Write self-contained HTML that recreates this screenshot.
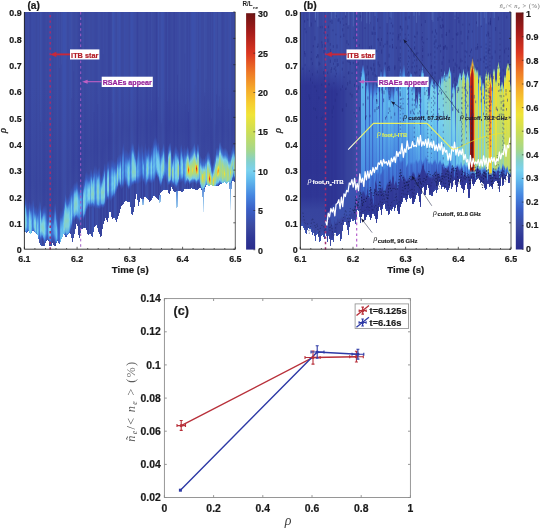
<!DOCTYPE html><html><head><meta charset="utf-8"><title>figure</title><style>html,body{margin:0;padding:0;background:#fff}svg{display:block}</style></head><body><svg width="541" height="530" viewBox="0 0 541 530" font-family='"Liberation Sans", sans-serif'>
<defs><linearGradient id="g1" x1="0" y1="0" x2="0" y2="1"><stop offset="0" stop-color="#38459e"/><stop offset=".336" stop-color="#38459e"/><stop offset=".739" stop-color="#35409b"/><stop offset=".829" stop-color="#36439d"/><stop offset=".861" stop-color="#3b50ac"/><stop offset=".883" stop-color="#3a5cc0"/><stop offset=".921" stop-color="#4073d3"/><stop offset=".946" stop-color="#4073d3"/><stop offset=".96" stop-color="#4279d8"/><stop offset=".974" stop-color="#4073d3"/><stop offset=".977" stop-color="#4073d3"/><stop offset=".995" stop-color="#3a59bb"/><stop offset="1" stop-color="#3b51ad"/></linearGradient><linearGradient id="g2" x1="0" y1="0" x2="0" y2="1"><stop offset="0" stop-color="#39479f"/><stop offset=".335" stop-color="#39479f"/><stop offset=".75" stop-color="#36429c"/><stop offset=".839" stop-color="#37449e"/><stop offset=".872" stop-color="#3a5fc6"/><stop offset=".893" stop-color="#5db1eb"/><stop offset=".925" stop-color="#7ed1dd"/><stop offset=".943" stop-color="#7ed1dd"/><stop offset=".957" stop-color="#83d0cd"/><stop offset=".971" stop-color="#7ed1dd"/><stop offset=".974" stop-color="#7ed1dd"/><stop offset=".992" stop-color="#55a3e8"/><stop offset="1" stop-color="#3f6ed0"/></linearGradient><linearGradient id="g3" x1="0" y1="0" x2="0" y2="1"><stop offset="0" stop-color="#3b4aa1"/><stop offset=".334" stop-color="#3b4aa1"/><stop offset=".765" stop-color="#38459e"/><stop offset=".854" stop-color="#39479f"/><stop offset=".886" stop-color="#3a5bbf"/><stop offset=".908" stop-color="#488be2"/><stop offset=".931" stop-color="#62baed"/><stop offset=".941" stop-color="#62baed"/><stop offset=".955" stop-color="#6ac3ee"/><stop offset=".969" stop-color="#62baed"/><stop offset=".973" stop-color="#62baed"/><stop offset=".99" stop-color="#4481dd"/><stop offset="1" stop-color="#3a56b7"/><stop offset="1" stop-color="#35419c"/></linearGradient><linearGradient id="g4" x1="0" y1="0" x2="0" y2="1"><stop offset="0" stop-color="#3b4aa1"/><stop offset=".336" stop-color="#3b4aa1"/><stop offset=".774" stop-color="#38459e"/><stop offset=".864" stop-color="#3a48a0"/><stop offset=".896" stop-color="#3a56b6"/><stop offset=".918" stop-color="#3d68cc"/><stop offset=".94" stop-color="#4687e1"/><stop offset=".948" stop-color="#4687e1"/><stop offset=".963" stop-color="#4b90e3"/><stop offset=".977" stop-color="#4687e1"/><stop offset=".981" stop-color="#4687e1"/><stop offset=".999" stop-color="#3a60c7"/><stop offset="1" stop-color="#3a5abe"/></linearGradient><linearGradient id="g5" x1="0" y1="0" x2="0" y2="1"><stop offset="0" stop-color="#3a48a0"/><stop offset=".337" stop-color="#3a48a0"/><stop offset=".779" stop-color="#36439d"/><stop offset=".869" stop-color="#38459e"/><stop offset=".902" stop-color="#3a56b6"/><stop offset=".923" stop-color="#3f70d1"/><stop offset=".948" stop-color="#4c92e4"/><stop offset=".959" stop-color="#4c92e4"/><stop offset=".974" stop-color="#519ce6"/><stop offset=".988" stop-color="#4c92e4"/><stop offset=".993" stop-color="#4c92e4"/><stop offset="1" stop-color="#3d68cc"/></linearGradient><linearGradient id="g6" x1="0" y1="0" x2="0" y2="1"><stop offset="0" stop-color="#38469f"/><stop offset=".334" stop-color="#38469f"/><stop offset=".767" stop-color="#35419c"/><stop offset=".856" stop-color="#37439d"/><stop offset=".889" stop-color="#3a5ec3"/><stop offset=".91" stop-color="#59aae9"/><stop offset=".941" stop-color="#7cd2e7"/><stop offset=".958" stop-color="#7cd2e7"/><stop offset=".972" stop-color="#80d1d9"/><stop offset=".987" stop-color="#7cd2e7"/><stop offset=".994" stop-color="#7cd2e7"/><stop offset="1" stop-color="#529ce6"/></linearGradient><linearGradient id="g7" x1="0" y1="0" x2="0" y2="1"><stop offset="0" stop-color="#38469f"/><stop offset=".332" stop-color="#38469f"/><stop offset=".77" stop-color="#35419c"/><stop offset=".859" stop-color="#37439d"/><stop offset=".891" stop-color="#3a5dc3"/><stop offset=".913" stop-color="#58a8e9"/><stop offset=".942" stop-color="#7bd2ea"/><stop offset=".957" stop-color="#7bd2ea"/><stop offset=".971" stop-color="#7fd1db"/><stop offset=".985" stop-color="#7bd2ea"/><stop offset=".996" stop-color="#7bd2ea"/><stop offset="1" stop-color="#519be6"/></linearGradient><linearGradient id="g8" x1="0" y1="0" x2="0" y2="1"><stop offset="0" stop-color="#3b4ba4"/><stop offset=".334" stop-color="#3b4ba4"/><stop offset=".775" stop-color="#39479f"/><stop offset=".864" stop-color="#3b49a1"/><stop offset=".896" stop-color="#3a5cc0"/><stop offset=".918" stop-color="#4585e0"/><stop offset=".944" stop-color="#5db2eb"/><stop offset=".956" stop-color="#5db2eb"/><stop offset=".97" stop-color="#63bdee"/><stop offset=".984" stop-color="#5db2eb"/><stop offset=".996" stop-color="#5db2eb"/><stop offset="1" stop-color="#437cd9"/></linearGradient><linearGradient id="g9" x1="0" y1="0" x2="0" y2="1"><stop offset="0" stop-color="#3b4ca5"/><stop offset=".337" stop-color="#3b4ca5"/><stop offset=".767" stop-color="#3a48a0"/><stop offset=".857" stop-color="#3b4aa2"/><stop offset=".89" stop-color="#3a55b5"/><stop offset=".911" stop-color="#3a5ec4"/><stop offset=".942" stop-color="#4178d7"/><stop offset=".958" stop-color="#4178d7"/><stop offset=".972" stop-color="#447fdb"/><stop offset=".987" stop-color="#4178d7"/><stop offset=".994" stop-color="#4178d7"/><stop offset="1" stop-color="#3a5bbe"/></linearGradient><linearGradient id="g10" x1="0" y1="0" x2="0" y2="1"><stop offset="0" stop-color="#3b4ba4"/><stop offset=".338" stop-color="#3b4ba4"/><stop offset=".765" stop-color="#39479f"/><stop offset=".856" stop-color="#3b49a1"/><stop offset=".888" stop-color="#3a59bb"/><stop offset=".91" stop-color="#4175d5"/><stop offset=".938" stop-color="#509ae5"/><stop offset=".952" stop-color="#509ae5"/><stop offset=".966" stop-color="#56a4e8"/><stop offset=".98" stop-color="#509ae5"/><stop offset=".982" stop-color="#509ae5"/><stop offset=".998" stop-color="#3e6dcf"/><stop offset="1" stop-color="#3a5abe"/></linearGradient><linearGradient id="g11" x1="0" y1="0" x2="0" y2="1"><stop offset="0" stop-color="#3b4ba4"/><stop offset=".335" stop-color="#3b4ba4"/><stop offset=".788" stop-color="#39479f"/><stop offset=".878" stop-color="#3b49a1"/><stop offset=".91" stop-color="#3a60c7"/><stop offset=".932" stop-color="#539fe7"/><stop offset=".947" stop-color="#74cdee"/><stop offset=".947" stop-color="#74cdee"/><stop offset=".962" stop-color="#7cd2e8"/><stop offset=".976" stop-color="#74cdee"/><stop offset=".979" stop-color="#74cdee"/><stop offset=".996" stop-color="#4c92e4"/><stop offset="1" stop-color="#3b62c8"/></linearGradient><linearGradient id="g12" x1="0" y1="0" x2="0" y2="1"><stop offset="0" stop-color="#3b4ba2"/><stop offset=".334" stop-color="#3b4ba2"/><stop offset=".791" stop-color="#38469f"/><stop offset=".881" stop-color="#3a48a0"/><stop offset=".913" stop-color="#3b63c9"/><stop offset=".934" stop-color="#5cafea"/><stop offset=".952" stop-color="#7ed1e1"/><stop offset=".955" stop-color="#7ed1e1"/><stop offset=".969" stop-color="#82d0d2"/><stop offset=".983" stop-color="#7ed1e1"/><stop offset=".987" stop-color="#7ed1e1"/><stop offset="1" stop-color="#54a1e7"/></linearGradient><linearGradient id="g13" x1="0" y1="0" x2="0" y2="1"><stop offset="0" stop-color="#3a49a0"/><stop offset=".332" stop-color="#3a49a0"/><stop offset=".781" stop-color="#37439d"/><stop offset=".87" stop-color="#38469f"/><stop offset=".902" stop-color="#3a57b8"/><stop offset=".924" stop-color="#4176d5"/><stop offset=".95" stop-color="#519be6"/><stop offset=".963" stop-color="#519be6"/><stop offset=".977" stop-color="#56a5e8"/><stop offset=".992" stop-color="#519be6"/><stop offset=".995" stop-color="#519be6"/><stop offset="1" stop-color="#3e6dd0"/></linearGradient><linearGradient id="g14" x1="0" y1="0" x2="0" y2="1"><stop offset="0" stop-color="#3b4ba3"/><stop offset=".33" stop-color="#3b4ba3"/><stop offset=".788" stop-color="#39469f"/><stop offset=".877" stop-color="#3a49a0"/><stop offset=".909" stop-color="#3a5ec4"/><stop offset=".93" stop-color="#5098e5"/><stop offset=".956" stop-color="#6ec7ee"/><stop offset=".969" stop-color="#6ec7ee"/><stop offset=".983" stop-color="#78d0ee"/><stop offset=".997" stop-color="#6ec7ee"/><stop offset="1" stop-color="#6ec7ee"/></linearGradient><linearGradient id="g15" x1="0" y1="0" x2="0" y2="1"><stop offset="0" stop-color="#3b4ca5"/><stop offset=".325" stop-color="#3b4ca5"/><stop offset=".763" stop-color="#3a48a0"/><stop offset=".85" stop-color="#3b4aa2"/><stop offset=".882" stop-color="#3a5bbe"/><stop offset=".902" stop-color="#427bd9"/><stop offset=".931" stop-color="#55a3e8"/><stop offset=".945" stop-color="#55a3e8"/><stop offset=".959" stop-color="#5badea"/><stop offset=".973" stop-color="#55a3e8"/><stop offset=".977" stop-color="#55a3e8"/><stop offset=".996" stop-color="#4072d3"/><stop offset="1" stop-color="#3a58b9"/></linearGradient><linearGradient id="g16" x1="0" y1="0" x2="0" y2="1"><stop offset="0" stop-color="#3b4aa1"/><stop offset=".319" stop-color="#3b4aa1"/><stop offset=".728" stop-color="#38459e"/><stop offset=".814" stop-color="#3948a0"/><stop offset=".845" stop-color="#3a55b4"/><stop offset=".865" stop-color="#3b61c7"/><stop offset=".9" stop-color="#437edb"/><stop offset=".921" stop-color="#437edb"/><stop offset=".935" stop-color="#4585e0"/><stop offset=".949" stop-color="#437edb"/><stop offset=".955" stop-color="#437edb"/><stop offset=".975" stop-color="#3a5dc2"/><stop offset=".984" stop-color="#3a58b9"/><stop offset=".995" stop-color="#3b4fa9"/><stop offset=".995" stop-color="#3b4fa9"/><stop offset="1" stop-color="#3a55b4"/></linearGradient><linearGradient id="g17" x1="0" y1="0" x2="0" y2="1"><stop offset="0" stop-color="#3b4ba3"/><stop offset=".316" stop-color="#3b4ba3"/><stop offset=".73" stop-color="#39469f"/><stop offset=".814" stop-color="#3a49a0"/><stop offset=".845" stop-color="#3a61c7"/><stop offset=".865" stop-color="#56a5e8"/><stop offset=".893" stop-color="#7ad2ee"/><stop offset=".907" stop-color="#7ad2ee"/><stop offset=".92" stop-color="#7ed1e0"/><stop offset=".934" stop-color="#7ad2ee"/><stop offset=".94" stop-color="#7ad2ee"/><stop offset=".959" stop-color="#4f97e5"/><stop offset=".968" stop-color="#3d69cd"/><stop offset=".979" stop-color="#3b50ac"/><stop offset=".993" stop-color="#3b50ac"/><stop offset="1" stop-color="#3a56b7"/></linearGradient><linearGradient id="g18" x1="0" y1="0" x2="0" y2="1"><stop offset="0" stop-color="#3b4da6"/><stop offset=".315" stop-color="#3b4da6"/><stop offset=".76" stop-color="#3a49a0"/><stop offset=".844" stop-color="#3b4ba3"/><stop offset=".875" stop-color="#3d67cc"/><stop offset=".895" stop-color="#5cafea"/><stop offset=".906" stop-color="#7ed1e0"/><stop offset=".906" stop-color="#7ed1e0"/><stop offset=".916" stop-color="#82d0d1"/><stop offset=".93" stop-color="#7ed1e0"/><stop offset=".933" stop-color="#7ed1e0"/><stop offset=".95" stop-color="#54a1e7"/><stop offset=".959" stop-color="#3f6fd1"/><stop offset=".97" stop-color="#3b52af"/><stop offset=".993" stop-color="#3b52af"/><stop offset="1" stop-color="#3a58b9"/></linearGradient><linearGradient id="g19" x1="0" y1="0" x2="0" y2="1"><stop offset="0" stop-color="#3a49a1"/><stop offset=".315" stop-color="#3a49a1"/><stop offset=".754" stop-color="#37449e"/><stop offset=".838" stop-color="#39479f"/><stop offset=".869" stop-color="#3b63c9"/><stop offset=".889" stop-color="#5fb5ec"/><stop offset=".904" stop-color="#80d1d8"/><stop offset=".907" stop-color="#80d1d8"/><stop offset=".92" stop-color="#88d1c5"/><stop offset=".934" stop-color="#80d1d8"/><stop offset=".936" stop-color="#80d1d8"/><stop offset=".951" stop-color="#57a7e8"/><stop offset=".96" stop-color="#3a5fc6"/><stop offset=".971" stop-color="#38459e"/><stop offset=".993" stop-color="#38459e"/><stop offset="1" stop-color="#3b4ca5"/></linearGradient><linearGradient id="g20" x1="0" y1="0" x2="0" y2="1"><stop offset="0" stop-color="#39479f"/><stop offset=".315" stop-color="#39479f"/><stop offset=".744" stop-color="#36429c"/><stop offset=".828" stop-color="#37449e"/><stop offset=".858" stop-color="#3a60c7"/><stop offset=".879" stop-color="#5fb5ec"/><stop offset=".901" stop-color="#80d1d8"/><stop offset=".91" stop-color="#80d1d8"/><stop offset=".924" stop-color="#88d1c4"/><stop offset=".937" stop-color="#80d1d8"/><stop offset=".942" stop-color="#80d1d8"/><stop offset=".96" stop-color="#57a7e9"/><stop offset=".969" stop-color="#3b63c9"/><stop offset=".98" stop-color="#3a49a0"/><stop offset=".993" stop-color="#3a49a0"/><stop offset="1" stop-color="#3b4faa"/></linearGradient><linearGradient id="g21" x1="0" y1="0" x2="0" y2="1"><stop offset="0" stop-color="#39479f"/><stop offset=".315" stop-color="#39479f"/><stop offset=".741" stop-color="#36429c"/><stop offset=".825" stop-color="#37449e"/><stop offset=".855" stop-color="#3a5dc3"/><stop offset=".876" stop-color="#55a3e8"/><stop offset=".902" stop-color="#78d1ee"/><stop offset=".914" stop-color="#78d1ee"/><stop offset=".928" stop-color="#7dd1e2"/><stop offset=".941" stop-color="#78d1ee"/><stop offset=".948" stop-color="#78d1ee"/><stop offset=".968" stop-color="#4e96e5"/><stop offset=".977" stop-color="#3d6acd"/><stop offset=".988" stop-color="#3b51ad"/><stop offset=".993" stop-color="#3b51ad"/><stop offset="1" stop-color="#3a57b8"/></linearGradient><linearGradient id="g22" x1="0" y1="0" x2="0" y2="1"><stop offset="0" stop-color="#3a49a0"/><stop offset=".319" stop-color="#3a49a0"/><stop offset=".749" stop-color="#37449d"/><stop offset=".834" stop-color="#39469f"/><stop offset=".865" stop-color="#3a59bc"/><stop offset=".885" stop-color="#4582de"/><stop offset=".913" stop-color="#5badea"/><stop offset=".926" stop-color="#5badea"/><stop offset=".94" stop-color="#61b8ed"/><stop offset=".954" stop-color="#5badea"/><stop offset=".959" stop-color="#5badea"/><stop offset=".977" stop-color="#4279d8"/><stop offset=".987" stop-color="#3a5fc6"/><stop offset=".998" stop-color="#3b51ae"/><stop offset=".998" stop-color="#3b51ae"/><stop offset="1" stop-color="#3a57b8"/></linearGradient><linearGradient id="g23" x1="0" y1="0" x2="0" y2="1"><stop offset="0" stop-color="#3b4aa1"/><stop offset=".323" stop-color="#3b4aa1"/><stop offset=".761" stop-color="#38459e"/><stop offset=".847" stop-color="#3a48a0"/><stop offset=".878" stop-color="#3a55b5"/><stop offset=".899" stop-color="#3b64c9"/><stop offset=".925" stop-color="#4481dd"/><stop offset=".937" stop-color="#4481dd"/><stop offset=".951" stop-color="#4789e2"/><stop offset=".965" stop-color="#4481dd"/><stop offset=".968" stop-color="#4481dd"/><stop offset=".986" stop-color="#3a5ec4"/><stop offset=".995" stop-color="#3b54b2"/><stop offset="1" stop-color="#3947a0"/></linearGradient><linearGradient id="g24" x1="0" y1="0" x2="0" y2="1"><stop offset="0" stop-color="#3a48a0"/><stop offset=".324" stop-color="#3a48a0"/><stop offset=".78" stop-color="#37439d"/><stop offset=".866" stop-color="#38469e"/><stop offset=".898" stop-color="#3b51ad"/><stop offset=".918" stop-color="#3a5abd"/><stop offset=".937" stop-color="#3e6ccf"/><stop offset=".942" stop-color="#3e6ccf"/><stop offset=".956" stop-color="#4073d3"/><stop offset=".969" stop-color="#3e6ccf"/><stop offset=".973" stop-color="#3e6ccf"/><stop offset=".991" stop-color="#3a57b8"/><stop offset="1" stop-color="#3a57b8"/></linearGradient><linearGradient id="g25" x1="0" y1="0" x2="0" y2="1"><stop offset="0" stop-color="#3b49a1"/><stop offset=".323" stop-color="#3b49a1"/><stop offset=".793" stop-color="#37449e"/><stop offset=".879" stop-color="#39479f"/><stop offset=".91" stop-color="#3a59bc"/><stop offset=".931" stop-color="#4481dd"/><stop offset=".942" stop-color="#59abe9"/><stop offset=".942" stop-color="#59abe9"/><stop offset=".953" stop-color="#5fb6ec"/><stop offset=".967" stop-color="#59abe9"/><stop offset=".971" stop-color="#59abe9"/><stop offset=".99" stop-color="#4177d6"/><stop offset=".999" stop-color="#3a59bb"/><stop offset="1" stop-color="#3a48a0"/></linearGradient><linearGradient id="g26" x1="0" y1="0" x2="0" y2="1"><stop offset="0" stop-color="#3b4ca5"/><stop offset=".315" stop-color="#3b4ca5"/><stop offset=".753" stop-color="#3947a0"/><stop offset=".837" stop-color="#3b4aa1"/><stop offset=".868" stop-color="#3b61c7"/><stop offset=".888" stop-color="#539fe7"/><stop offset=".909" stop-color="#75cdee"/><stop offset=".916" stop-color="#75cdee"/><stop offset=".929" stop-color="#7cd2e7"/><stop offset=".943" stop-color="#75cdee"/><stop offset=".949" stop-color="#75cdee"/><stop offset=".969" stop-color="#4c93e4"/><stop offset=".978" stop-color="#3a5dc2"/><stop offset=".989" stop-color="#3947a0"/><stop offset=".993" stop-color="#3947a0"/><stop offset="1" stop-color="#3b4ea8"/></linearGradient><linearGradient id="g27" x1="0" y1="0" x2="0" y2="1"><stop offset="0" stop-color="#3b4ba3"/><stop offset=".315" stop-color="#3b4ba3"/><stop offset=".745" stop-color="#39469f"/><stop offset=".829" stop-color="#3a49a0"/><stop offset=".86" stop-color="#3a5cc0"/><stop offset=".88" stop-color="#4688e1"/><stop offset=".904" stop-color="#5fb5ec"/><stop offset=".914" stop-color="#5fb5ec"/><stop offset=".928" stop-color="#66c0ee"/><stop offset=".941" stop-color="#5fb5ec"/><stop offset=".951" stop-color="#5fb5ec"/><stop offset=".973" stop-color="#437edb"/><stop offset=".982" stop-color="#3a5ec4"/><stop offset=".994" stop-color="#3b4ea8"/><stop offset=".994" stop-color="#3b4ea8"/><stop offset="1" stop-color="#3b54b3"/></linearGradient><linearGradient id="g28" x1="0" y1="0" x2="0" y2="1"><stop offset="0" stop-color="#3b4aa1"/><stop offset=".315" stop-color="#3b4aa1"/><stop offset=".757" stop-color="#38459e"/><stop offset=".842" stop-color="#39479f"/><stop offset=".872" stop-color="#3b52b0"/><stop offset=".893" stop-color="#3a5bbe"/><stop offset=".909" stop-color="#3f6fd1"/><stop offset=".913" stop-color="#3f6fd1"/><stop offset=".926" stop-color="#4176d5"/><stop offset=".94" stop-color="#3f6fd1"/><stop offset=".949" stop-color="#3f6fd1"/><stop offset=".972" stop-color="#3a58b9"/><stop offset=".981" stop-color="#3b52af"/><stop offset=".992" stop-color="#3b49a1"/><stop offset=".993" stop-color="#3b49a1"/><stop offset="1" stop-color="#3b50ab"/></linearGradient><linearGradient id="g29" x1="0" y1="0" x2="0" y2="1"><stop offset="0" stop-color="#39479f"/><stop offset=".319" stop-color="#39479f"/><stop offset=".772" stop-color="#36429c"/><stop offset=".857" stop-color="#37449e"/><stop offset=".888" stop-color="#3b51ae"/><stop offset=".908" stop-color="#3a5cc1"/><stop offset=".923" stop-color="#4073d4"/><stop offset=".923" stop-color="#4073d4"/><stop offset=".937" stop-color="#427ad8"/><stop offset=".951" stop-color="#4073d4"/><stop offset=".957" stop-color="#4073d4"/><stop offset=".976" stop-color="#3a59bb"/><stop offset=".985" stop-color="#3b52b0"/><stop offset=".997" stop-color="#3a49a0"/><stop offset=".997" stop-color="#3a49a0"/><stop offset="1" stop-color="#3b4faa"/></linearGradient><linearGradient id="g30" x1="0" y1="0" x2="0" y2="1"><stop offset="0" stop-color="#3a48a0"/><stop offset=".317" stop-color="#3a48a0"/><stop offset=".769" stop-color="#37439d"/><stop offset=".854" stop-color="#38469f"/><stop offset=".884" stop-color="#3a55b4"/><stop offset=".905" stop-color="#3d68cc"/><stop offset=".919" stop-color="#4687e1"/><stop offset=".919" stop-color="#4687e1"/><stop offset=".932" stop-color="#4b90e3"/><stop offset=".946" stop-color="#4687e1"/><stop offset=".95" stop-color="#4687e1"/><stop offset=".968" stop-color="#3a61c7"/><stop offset=".977" stop-color="#3b54b3"/><stop offset=".988" stop-color="#3a48a0"/><stop offset=".993" stop-color="#3a48a0"/><stop offset="1" stop-color="#3b4ea8"/></linearGradient><linearGradient id="g31" x1="0" y1="0" x2="0" y2="1"><stop offset="0" stop-color="#3b4aa1"/><stop offset=".315" stop-color="#3b4aa1"/><stop offset=".739" stop-color="#38459e"/><stop offset=".824" stop-color="#3947a0"/><stop offset=".854" stop-color="#3a58ba"/><stop offset=".874" stop-color="#4178d7"/><stop offset=".901" stop-color="#539ee6"/><stop offset=".914" stop-color="#539ee6"/><stop offset=".927" stop-color="#58a8e9"/><stop offset=".941" stop-color="#539ee6"/><stop offset=".947" stop-color="#539ee6"/><stop offset=".967" stop-color="#3f6fd1"/><stop offset=".976" stop-color="#3a58b9"/><stop offset=".988" stop-color="#3a49a0"/><stop offset=".993" stop-color="#3a49a0"/><stop offset="1" stop-color="#3b4faa"/></linearGradient><linearGradient id="g32" x1="0" y1="0" x2="0" y2="1"><stop offset="0" stop-color="#3a49a0"/><stop offset=".315" stop-color="#3a49a0"/><stop offset=".732" stop-color="#37449d"/><stop offset=".817" stop-color="#39469f"/><stop offset=".847" stop-color="#3a5abd"/><stop offset=".868" stop-color="#4583de"/><stop offset=".9" stop-color="#5baeea"/><stop offset=".918" stop-color="#5baeea"/><stop offset=".932" stop-color="#61b9ed"/><stop offset=".945" stop-color="#5baeea"/><stop offset=".954" stop-color="#5baeea"/><stop offset=".976" stop-color="#427ad8"/><stop offset=".985" stop-color="#3a56b6"/><stop offset=".996" stop-color="#36439d"/><stop offset=".996" stop-color="#36439d"/><stop offset="1" stop-color="#3b4aa1"/></linearGradient><linearGradient id="g33" x1="0" y1="0" x2="0" y2="1"><stop offset="0" stop-color="#3b4aa2"/><stop offset=".32" stop-color="#3b4aa2"/><stop offset=".778" stop-color="#38469e"/><stop offset=".864" stop-color="#3a48a0"/><stop offset=".895" stop-color="#3a5dc2"/><stop offset=".916" stop-color="#4b90e3"/><stop offset=".935" stop-color="#66bfee"/><stop offset=".941" stop-color="#66bfee"/><stop offset=".954" stop-color="#6fc8ee"/><stop offset=".968" stop-color="#66bfee"/><stop offset=".976" stop-color="#66bfee"/><stop offset=".997" stop-color="#4585e0"/><stop offset="1" stop-color="#3a57b8"/></linearGradient><linearGradient id="g34" x1="0" y1="0" x2="0" y2="1"><stop offset="0" stop-color="#3b4da6"/><stop offset=".323" stop-color="#3b4da6"/><stop offset=".8" stop-color="#3a48a0"/><stop offset=".886" stop-color="#3b4ba2"/><stop offset=".917" stop-color="#3a57b8"/><stop offset=".938" stop-color="#3c67cc"/><stop offset=".955" stop-color="#4686e0"/><stop offset=".959" stop-color="#4686e0"/><stop offset=".972" stop-color="#4a8ee3"/><stop offset=".986" stop-color="#4686e0"/><stop offset=".993" stop-color="#4686e0"/><stop offset="1" stop-color="#3a60c6"/></linearGradient><linearGradient id="g35" x1="0" y1="0" x2="0" y2="1"><stop offset="0" stop-color="#3b4aa1"/><stop offset=".32" stop-color="#3b4aa1"/><stop offset=".791" stop-color="#38459e"/><stop offset=".877" stop-color="#39479f"/><stop offset=".908" stop-color="#3b50ab"/><stop offset=".928" stop-color="#3b54b3"/><stop offset=".95" stop-color="#3a5ec4"/><stop offset=".958" stop-color="#3a5ec4"/><stop offset=".972" stop-color="#3b62c8"/><stop offset=".986" stop-color="#3a5ec4"/><stop offset=".992" stop-color="#3a5ec4"/><stop offset="1" stop-color="#3b52ae"/></linearGradient><linearGradient id="g36" x1="0" y1="0" x2="0" y2="1"><stop offset="0" stop-color="#3a48a0"/><stop offset=".318" stop-color="#3a48a0"/><stop offset=".776" stop-color="#36439d"/><stop offset=".861" stop-color="#38459e"/><stop offset=".892" stop-color="#3b50ab"/><stop offset=".912" stop-color="#3a56b7"/><stop offset=".94" stop-color="#3b63c9"/><stop offset=".953" stop-color="#3b63c9"/><stop offset=".967" stop-color="#3d69cd"/><stop offset=".98" stop-color="#3b63c9"/><stop offset=".987" stop-color="#3b63c9"/><stop offset="1" stop-color="#3b54b2"/></linearGradient><linearGradient id="g37" x1="0" y1="0" x2="0" y2="1"><stop offset="0" stop-color="#3a48a0"/><stop offset=".321" stop-color="#3a48a0"/><stop offset=".777" stop-color="#37439d"/><stop offset=".863" stop-color="#38469f"/><stop offset=".894" stop-color="#3a59bc"/><stop offset=".915" stop-color="#4583de"/><stop offset=".947" stop-color="#5baeea"/><stop offset=".965" stop-color="#5baeea"/><stop offset=".979" stop-color="#61b9ed"/><stop offset=".993" stop-color="#5baeea"/><stop offset="1" stop-color="#5baeea"/></linearGradient><linearGradient id="g38" x1="0" y1="0" x2="0" y2="1"><stop offset="0" stop-color="#3b4ba3"/><stop offset=".325" stop-color="#3b4ba3"/><stop offset=".786" stop-color="#39479f"/><stop offset=".873" stop-color="#3a49a0"/><stop offset=".904" stop-color="#3a5dc2"/><stop offset=".925" stop-color="#4a8ee3"/><stop offset=".957" stop-color="#64bdee"/><stop offset=".974" stop-color="#64bdee"/><stop offset=".988" stop-color="#6dc6ee"/><stop offset="1" stop-color="#64bdee"/></linearGradient><linearGradient id="g39" x1="0" y1="0" x2="0" y2="1"><stop offset="0" stop-color="#3b4ea8"/><stop offset=".328" stop-color="#3b4ea8"/><stop offset=".786" stop-color="#3b4aa1"/><stop offset=".874" stop-color="#3b4ca5"/><stop offset=".905" stop-color="#3a5ec4"/><stop offset=".927" stop-color="#4789e2"/><stop offset=".957" stop-color="#60b7ec"/><stop offset=".972" stop-color="#60b7ec"/><stop offset=".987" stop-color="#68c1ee"/><stop offset="1" stop-color="#60b7ec"/></linearGradient><linearGradient id="g40" x1="0" y1="0" x2="0" y2="1"><stop offset="0" stop-color="#3b50ac"/><stop offset=".332" stop-color="#3b50ac"/><stop offset=".782" stop-color="#3b4ca5"/><stop offset=".871" stop-color="#3b4ea8"/><stop offset=".903" stop-color="#3b64c9"/><stop offset=".924" stop-color="#4d95e4"/><stop offset=".952" stop-color="#6ac3ee"/><stop offset=".965" stop-color="#6ac3ee"/><stop offset=".979" stop-color="#73ccee"/><stop offset=".993" stop-color="#6ac3ee"/><stop offset=".999" stop-color="#6ac3ee"/><stop offset="1" stop-color="#4788e1"/></linearGradient><linearGradient id="g41" x1="0" y1="0" x2="0" y2="1"><stop offset="0" stop-color="#3b50ac"/><stop offset=".331" stop-color="#3b50ac"/><stop offset=".755" stop-color="#3b4ca5"/><stop offset=".843" stop-color="#3b4ea9"/><stop offset=".875" stop-color="#3f6fd1"/><stop offset=".897" stop-color="#5fb5ec"/><stop offset=".927" stop-color="#80d0d7"/><stop offset=".943" stop-color="#80d0d7"/><stop offset=".958" stop-color="#89d1c3"/><stop offset=".972" stop-color="#80d0d7"/><stop offset=".976" stop-color="#80d0d7"/><stop offset=".995" stop-color="#58a7e9"/><stop offset="1" stop-color="#3a60c6"/></linearGradient><linearGradient id="g42" x1="0" y1="0" x2="0" y2="1"><stop offset="0" stop-color="#3b50ab"/><stop offset=".328" stop-color="#3b50ab"/><stop offset=".723" stop-color="#3b4ca4"/><stop offset=".811" stop-color="#3b4ea8"/><stop offset=".842" stop-color="#3f6ed0"/><stop offset=".863" stop-color="#60b7ec"/><stop offset=".898" stop-color="#80d0d6"/><stop offset=".918" stop-color="#80d0d6"/><stop offset=".932" stop-color="#8ad2c0"/><stop offset=".946" stop-color="#80d0d6"/><stop offset=".955" stop-color="#80d0d6"/><stop offset=".978" stop-color="#58a8e9"/><stop offset=".987" stop-color="#3e6bce"/><stop offset=".999" stop-color="#3b4ea8"/><stop offset=".999" stop-color="#3b4ea8"/><stop offset="1" stop-color="#3b54b3"/></linearGradient><linearGradient id="g43" x1="0" y1="0" x2="0" y2="1"><stop offset="0" stop-color="#3b4ca5"/><stop offset=".328" stop-color="#3b4ca5"/><stop offset=".734" stop-color="#3a48a0"/><stop offset=".822" stop-color="#3b4aa1"/><stop offset=".854" stop-color="#3d68cc"/><stop offset=".875" stop-color="#60b7ec"/><stop offset=".903" stop-color="#80d0d6"/><stop offset=".916" stop-color="#80d0d6"/><stop offset=".93" stop-color="#8ad2c0"/><stop offset=".944" stop-color="#80d0d6"/><stop offset=".957" stop-color="#80d0d6"/><stop offset=".985" stop-color="#58a8e9"/><stop offset=".994" stop-color="#3b62c8"/><stop offset="1" stop-color="#3947a0"/></linearGradient><linearGradient id="g44" x1="0" y1="0" x2="0" y2="1"><stop offset="0" stop-color="#3b4aa2"/><stop offset=".33" stop-color="#3b4aa2"/><stop offset=".744" stop-color="#38459e"/><stop offset=".832" stop-color="#3a48a0"/><stop offset=".864" stop-color="#3c65ca"/><stop offset=".885" stop-color="#5fb5ec"/><stop offset=".91" stop-color="#80d0d7"/><stop offset=".921" stop-color="#80d0d7"/><stop offset=".935" stop-color="#89d1c3"/><stop offset=".949" stop-color="#80d0d7"/><stop offset=".962" stop-color="#80d0d7"/><stop offset=".989" stop-color="#58a7e9"/><stop offset=".999" stop-color="#3a60c7"/><stop offset="1" stop-color="#39469f"/></linearGradient><linearGradient id="g45" x1="0" y1="0" x2="0" y2="1"><stop offset="0" stop-color="#3b4ba2"/><stop offset=".332" stop-color="#3b4ba2"/><stop offset=".741" stop-color="#38469f"/><stop offset=".83" stop-color="#3a48a0"/><stop offset=".862" stop-color="#3c64c9"/><stop offset=".884" stop-color="#5db1eb"/><stop offset=".911" stop-color="#7ed1dd"/><stop offset=".925" stop-color="#7ed1dd"/><stop offset=".939" stop-color="#83d0cd"/><stop offset=".954" stop-color="#7ed1dd"/><stop offset=".967" stop-color="#7ed1dd"/><stop offset=".994" stop-color="#55a3e8"/><stop offset="1" stop-color="#3c67cb"/></linearGradient><linearGradient id="g46" x1="0" y1="0" x2="0" y2="1"><stop offset="0" stop-color="#3b4da6"/><stop offset=".334" stop-color="#3b4da6"/><stop offset=".731" stop-color="#3a48a0"/><stop offset=".82" stop-color="#3b4ba2"/><stop offset=".852" stop-color="#3a5fc6"/><stop offset=".874" stop-color="#4f97e5"/><stop offset=".906" stop-color="#6cc5ee"/><stop offset=".923" stop-color="#6cc5ee"/><stop offset=".937" stop-color="#76ceee"/><stop offset=".952" stop-color="#6cc5ee"/><stop offset=".963" stop-color="#6cc5ee"/><stop offset=".989" stop-color="#488be2"/><stop offset=".999" stop-color="#3a5abd"/><stop offset="1" stop-color="#37449d"/></linearGradient><linearGradient id="g47" x1="0" y1="0" x2="0" y2="1"><stop offset="0" stop-color="#3b4ea8"/><stop offset=".333" stop-color="#3b4ea8"/><stop offset=".71" stop-color="#3b4aa1"/><stop offset=".799" stop-color="#3b4ca4"/><stop offset=".831" stop-color="#3a5cc1"/><stop offset=".853" stop-color="#437edb"/><stop offset=".888" stop-color="#57a7e9"/><stop offset=".91" stop-color="#57a7e9"/><stop offset=".924" stop-color="#5db1eb"/><stop offset=".938" stop-color="#57a7e9"/><stop offset=".949" stop-color="#57a7e9"/><stop offset=".973" stop-color="#4175d5"/><stop offset=".983" stop-color="#3a55b4"/><stop offset=".995" stop-color="#36429c"/><stop offset=".995" stop-color="#36429c"/><stop offset="1" stop-color="#3b4aa1"/></linearGradient><linearGradient id="g48" x1="0" y1="0" x2="0" y2="1"><stop offset="0" stop-color="#3b4ba2"/><stop offset=".327" stop-color="#3b4ba2"/><stop offset=".69" stop-color="#38469f"/><stop offset=".778" stop-color="#3a48a0"/><stop offset=".809" stop-color="#3a5ec5"/><stop offset=".83" stop-color="#519ae6"/><stop offset=".862" stop-color="#70c9ee"/><stop offset=".881" stop-color="#70c9ee"/><stop offset=".895" stop-color="#7ad2ee"/><stop offset=".909" stop-color="#70c9ee"/><stop offset=".916" stop-color="#70c9ee"/><stop offset=".937" stop-color="#4a8ee3"/><stop offset=".947" stop-color="#3b61c7"/><stop offset=".958" stop-color="#3b4da7"/><stop offset=".993" stop-color="#3b4da7"/><stop offset="1" stop-color="#3b53b1"/></linearGradient><linearGradient id="g49" x1="0" y1="0" x2="0" y2="1"><stop offset="0" stop-color="#3a48a0"/><stop offset=".321" stop-color="#3a48a0"/><stop offset=".67" stop-color="#37439d"/><stop offset=".756" stop-color="#38469f"/><stop offset=".787" stop-color="#3a56b7"/><stop offset=".808" stop-color="#4072d3"/><stop offset=".837" stop-color="#4e96e5"/><stop offset=".853" stop-color="#4e96e5"/><stop offset=".867" stop-color="#53a0e7"/><stop offset=".881" stop-color="#4e96e5"/><stop offset=".884" stop-color="#4e96e5"/><stop offset=".901" stop-color="#3d6acd"/><stop offset=".911" stop-color="#3a5abe"/><stop offset=".922" stop-color="#3b4ea8"/><stop offset=".993" stop-color="#3b4ea8"/><stop offset="1" stop-color="#3b54b3"/></linearGradient><linearGradient id="g50" x1="0" y1="0" x2="0" y2="1"><stop offset="0" stop-color="#39469f"/><stop offset=".327" stop-color="#39469f"/><stop offset=".673" stop-color="#36419c"/><stop offset=".76" stop-color="#37449d"/><stop offset=".792" stop-color="#3a57b8"/><stop offset=".813" stop-color="#437dda"/><stop offset=".842" stop-color="#56a5e8"/><stop offset=".857" stop-color="#56a5e8"/><stop offset=".871" stop-color="#5cafeb"/><stop offset=".885" stop-color="#56a5e8"/><stop offset=".889" stop-color="#56a5e8"/><stop offset=".906" stop-color="#4074d4"/><stop offset=".916" stop-color="#3a57b8"/><stop offset=".927" stop-color="#38469f"/><stop offset=".993" stop-color="#38469f"/><stop offset="1" stop-color="#3b4da6"/></linearGradient><linearGradient id="g51" x1="0" y1="0" x2="0" y2="1"><stop offset="0" stop-color="#3a49a0"/><stop offset=".333" stop-color="#3a49a0"/><stop offset=".681" stop-color="#37449d"/><stop offset=".77" stop-color="#39469f"/><stop offset=".802" stop-color="#3b63c9"/><stop offset=".824" stop-color="#5fb4ec"/><stop offset=".851" stop-color="#80d1d9"/><stop offset=".863" stop-color="#80d1d9"/><stop offset=".877" stop-color="#87d1c6"/><stop offset=".892" stop-color="#80d1d9"/><stop offset=".899" stop-color="#80d1d9"/><stop offset=".92" stop-color="#57a6e8"/><stop offset=".93" stop-color="#3d68cc"/><stop offset=".942" stop-color="#3b4ca5"/><stop offset=".993" stop-color="#3b4ca5"/><stop offset="1" stop-color="#3b52af"/></linearGradient><linearGradient id="g52" x1="0" y1="0" x2="0" y2="1"><stop offset="0" stop-color="#3b4ba2"/><stop offset=".341" stop-color="#3b4ba2"/><stop offset=".694" stop-color="#38469f"/><stop offset=".786" stop-color="#3a48a0"/><stop offset=".819" stop-color="#3c66ca"/><stop offset=".84" stop-color="#5fb5ec"/><stop offset=".863" stop-color="#80d1d8"/><stop offset=".871" stop-color="#80d1d8"/><stop offset=".886" stop-color="#88d1c3"/><stop offset=".9" stop-color="#80d1d8"/><stop offset=".91" stop-color="#80d1d8"/><stop offset=".935" stop-color="#58a7e9"/><stop offset=".945" stop-color="#3a5cc1"/><stop offset=".957" stop-color="#35419c"/><stop offset=".993" stop-color="#35419c"/><stop offset="1" stop-color="#3a48a0"/></linearGradient><linearGradient id="g53" x1="0" y1="0" x2="0" y2="1"><stop offset="0" stop-color="#3b4ba3"/><stop offset=".349" stop-color="#3b4ba3"/><stop offset=".704" stop-color="#39479f"/><stop offset=".798" stop-color="#3a49a0"/><stop offset=".831" stop-color="#3c66cb"/><stop offset=".854" stop-color="#5eb3eb"/><stop offset=".879" stop-color="#7fd1db"/><stop offset=".89" stop-color="#7fd1db"/><stop offset=".905" stop-color="#85d1c9"/><stop offset=".92" stop-color="#7fd1db"/><stop offset=".93" stop-color="#7fd1db"/><stop offset=".954" stop-color="#56a5e8"/><stop offset=".964" stop-color="#3b61c8"/><stop offset=".977" stop-color="#3a48a0"/><stop offset=".993" stop-color="#3a48a0"/><stop offset="1" stop-color="#3b4ea9"/></linearGradient><linearGradient id="g54" x1="0" y1="0" x2="0" y2="1"><stop offset="0" stop-color="#3a49a0"/><stop offset=".345" stop-color="#3a49a0"/><stop offset=".698" stop-color="#37449e"/><stop offset=".79" stop-color="#39479f"/><stop offset=".823" stop-color="#3a5ec4"/><stop offset=".845" stop-color="#54a1e7"/><stop offset=".872" stop-color="#76cfee"/><stop offset=".885" stop-color="#76cfee"/><stop offset=".9" stop-color="#7cd1e5"/><stop offset=".914" stop-color="#76cfee"/><stop offset=".924" stop-color="#76cfee"/><stop offset=".948" stop-color="#4d94e4"/><stop offset=".958" stop-color="#3a60c7"/><stop offset=".97" stop-color="#3b4ba3"/><stop offset=".993" stop-color="#3b4ba3"/><stop offset="1" stop-color="#3b51ae"/></linearGradient><linearGradient id="g55" x1="0" y1="0" x2="0" y2="1"><stop offset="0" stop-color="#39469f"/><stop offset=".332" stop-color="#39469f"/><stop offset=".683" stop-color="#36419c"/><stop offset=".772" stop-color="#37449d"/><stop offset=".804" stop-color="#3a58ba"/><stop offset=".825" stop-color="#4584df"/><stop offset=".848" stop-color="#5cb0eb"/><stop offset=".857" stop-color="#5cb0eb"/><stop offset=".871" stop-color="#62bbed"/><stop offset=".885" stop-color="#5cb0eb"/><stop offset=".895" stop-color="#5cb0eb"/><stop offset=".92" stop-color="#427bd9"/><stop offset=".929" stop-color="#3a58b9"/><stop offset=".941" stop-color="#38459e"/><stop offset=".993" stop-color="#38459e"/><stop offset="1" stop-color="#3b4ca5"/></linearGradient><linearGradient id="g56" x1="0" y1="0" x2="0" y2="1"><stop offset="0" stop-color="#37449e"/><stop offset=".326" stop-color="#37449e"/><stop offset=".674" stop-color="#343f9b"/><stop offset=".761" stop-color="#36429c"/><stop offset=".793" stop-color="#3a56b7"/><stop offset=".814" stop-color="#437edb"/><stop offset=".838" stop-color="#57a7e8"/><stop offset=".848" stop-color="#57a7e8"/><stop offset=".862" stop-color="#5db1eb"/><stop offset=".876" stop-color="#57a7e8"/><stop offset=".887" stop-color="#57a7e8"/><stop offset=".912" stop-color="#4175d5"/><stop offset=".921" stop-color="#3a58b9"/><stop offset=".933" stop-color="#39479f"/><stop offset=".993" stop-color="#39479f"/><stop offset="1" stop-color="#3b4ea7"/></linearGradient><linearGradient id="g57" x1="0" y1="0" x2="0" y2="1"><stop offset="0" stop-color="#37449e"/><stop offset=".333" stop-color="#37449e"/><stop offset=".672" stop-color="#343f9b"/><stop offset=".761" stop-color="#36429c"/><stop offset=".793" stop-color="#3a56b7"/><stop offset=".815" stop-color="#4480dc"/><stop offset=".846" stop-color="#59aae9"/><stop offset=".864" stop-color="#59aae9"/><stop offset=".878" stop-color="#5fb4ec"/><stop offset=".892" stop-color="#59aae9"/><stop offset=".901" stop-color="#59aae9"/><stop offset=".923" stop-color="#4177d6"/><stop offset=".933" stop-color="#3a5bbf"/><stop offset=".945" stop-color="#3b4ca4"/><stop offset=".993" stop-color="#3b4ca4"/><stop offset="1" stop-color="#3b52af"/></linearGradient><linearGradient id="g58" x1="0" y1="0" x2="0" y2="1"><stop offset="0" stop-color="#38459e"/><stop offset=".34" stop-color="#38459e"/><stop offset=".69" stop-color="#35409b"/><stop offset=".781" stop-color="#36429d"/><stop offset=".814" stop-color="#3b54b3"/><stop offset=".836" stop-color="#3f71d2"/><stop offset=".864" stop-color="#4d93e4"/><stop offset=".877" stop-color="#4d93e4"/><stop offset=".892" stop-color="#529de6"/><stop offset=".907" stop-color="#4d93e4"/><stop offset=".912" stop-color="#4d93e4"/><stop offset=".931" stop-color="#3d68cc"/><stop offset=".941" stop-color="#3a58ba"/><stop offset=".953" stop-color="#3b4ba4"/><stop offset=".993" stop-color="#3b4ba4"/><stop offset="1" stop-color="#3b51ae"/></linearGradient><linearGradient id="g59" x1="0" y1="0" x2="0" y2="1"><stop offset="0" stop-color="#3b4aa1"/><stop offset=".34" stop-color="#3b4aa1"/><stop offset=".702" stop-color="#38459e"/><stop offset=".794" stop-color="#39479f"/><stop offset=".826" stop-color="#3b52af"/><stop offset=".848" stop-color="#3a59bc"/><stop offset=".87" stop-color="#3e6cce"/><stop offset=".877" stop-color="#3e6cce"/><stop offset=".891" stop-color="#4072d3"/><stop offset=".906" stop-color="#3e6cce"/><stop offset=".913" stop-color="#3e6cce"/><stop offset=".934" stop-color="#3a56b7"/><stop offset=".944" stop-color="#3b4ea8"/><stop offset=".956" stop-color="#37439d"/><stop offset=".993" stop-color="#37439d"/><stop offset="1" stop-color="#3b4aa2"/></linearGradient><linearGradient id="g60" x1="0" y1="0" x2="0" y2="1"><stop offset="0" stop-color="#3b4ba2"/><stop offset=".341" stop-color="#3b4ba2"/><stop offset=".694" stop-color="#38469f"/><stop offset=".785" stop-color="#3a48a0"/><stop offset=".818" stop-color="#3b63c9"/><stop offset=".84" stop-color="#5baeea"/><stop offset=".863" stop-color="#7dd1e2"/><stop offset=".872" stop-color="#7dd1e2"/><stop offset=".887" stop-color="#81d0d3"/><stop offset=".901" stop-color="#7dd1e2"/><stop offset=".913" stop-color="#7dd1e2"/><stop offset=".939" stop-color="#54a0e7"/><stop offset=".949" stop-color="#3c67cc"/><stop offset=".961" stop-color="#3b4da7"/><stop offset=".993" stop-color="#3b4da7"/><stop offset="1" stop-color="#3b53b1"/></linearGradient><linearGradient id="g61" x1="0" y1="0" x2="0" y2="1"><stop offset="0" stop-color="#3a48a0"/><stop offset=".342" stop-color="#3a48a0"/><stop offset=".676" stop-color="#36439d"/><stop offset=".767" stop-color="#38459e"/><stop offset=".8" stop-color="#3a5fc6"/><stop offset=".822" stop-color="#5badea"/><stop offset=".849" stop-color="#7dd1e3"/><stop offset=".861" stop-color="#7dd1e3"/><stop offset=".875" stop-color="#81d0d4"/><stop offset=".89" stop-color="#7dd1e3"/><stop offset=".904" stop-color="#7dd1e3"/><stop offset=".932" stop-color="#539fe7"/><stop offset=".942" stop-color="#3a5cc0"/><stop offset=".954" stop-color="#36419c"/><stop offset=".993" stop-color="#36419c"/><stop offset="1" stop-color="#3a49a0"/></linearGradient><linearGradient id="g62" x1="0" y1="0" x2="0" y2="1"><stop offset="0" stop-color="#3a48a0"/><stop offset=".342" stop-color="#3a48a0"/><stop offset=".652" stop-color="#37439d"/><stop offset=".744" stop-color="#38469f"/><stop offset=".777" stop-color="#3a5bbf"/><stop offset=".799" stop-color="#4a8fe3"/><stop offset=".831" stop-color="#64beee"/><stop offset=".849" stop-color="#64beee"/><stop offset=".864" stop-color="#6dc6ee"/><stop offset=".879" stop-color="#64beee"/><stop offset=".892" stop-color="#64beee"/><stop offset=".92" stop-color="#4583df"/><stop offset=".93" stop-color="#3b64c9"/><stop offset=".942" stop-color="#3b52ae"/><stop offset=".993" stop-color="#3b52ae"/><stop offset="1" stop-color="#3a58b9"/></linearGradient><linearGradient id="g63" x1="0" y1="0" x2="0" y2="1"><stop offset="0" stop-color="#3b4aa1"/><stop offset=".338" stop-color="#3b4aa1"/><stop offset=".636" stop-color="#38459e"/><stop offset=".727" stop-color="#39479f"/><stop offset=".759" stop-color="#3a59bc"/><stop offset=".781" stop-color="#437edb"/><stop offset=".812" stop-color="#58a7e9"/><stop offset=".828" stop-color="#58a7e9"/><stop offset=".842" stop-color="#5db2eb"/><stop offset=".857" stop-color="#58a7e9"/><stop offset=".868" stop-color="#58a7e9"/><stop offset=".895" stop-color="#4175d5"/><stop offset=".904" stop-color="#3a56b6"/><stop offset=".916" stop-color="#37449e"/><stop offset=".993" stop-color="#37449e"/><stop offset="1" stop-color="#3b4ba3"/></linearGradient><linearGradient id="g64" x1="0" y1="0" x2="0" y2="1"><stop offset="0" stop-color="#3b4aa2"/><stop offset=".333" stop-color="#3b4aa2"/><stop offset=".635" stop-color="#38459e"/><stop offset=".724" stop-color="#3a48a0"/><stop offset=".756" stop-color="#3a5dc2"/><stop offset=".778" stop-color="#4b91e3"/><stop offset=".803" stop-color="#66c0ee"/><stop offset=".814" stop-color="#66c0ee"/><stop offset=".828" stop-color="#6fc8ee"/><stop offset=".842" stop-color="#66c0ee"/><stop offset=".849" stop-color="#66c0ee"/><stop offset=".87" stop-color="#4585e0"/><stop offset=".88" stop-color="#3a59bc"/><stop offset=".892" stop-color="#38459e"/><stop offset=".993" stop-color="#38459e"/><stop offset="1" stop-color="#3b4ca5"/></linearGradient><linearGradient id="g65" x1="0" y1="0" x2="0" y2="1"><stop offset="0" stop-color="#3b4ba3"/><stop offset=".331" stop-color="#3b4ba3"/><stop offset=".638" stop-color="#39469f"/><stop offset=".726" stop-color="#3a49a0"/><stop offset=".758" stop-color="#3b61c8"/><stop offset=".78" stop-color="#57a6e8"/><stop offset=".801" stop-color="#7ad2ed"/><stop offset=".809" stop-color="#7ad2ed"/><stop offset=".823" stop-color="#7ed1df"/><stop offset=".837" stop-color="#7ad2ed"/><stop offset=".84" stop-color="#7ad2ed"/><stop offset=".857" stop-color="#4f98e5"/><stop offset=".866" stop-color="#3a5cc1"/><stop offset=".878" stop-color="#37449d"/><stop offset=".993" stop-color="#37449d"/><stop offset="1" stop-color="#3b4ba3"/></linearGradient><linearGradient id="g66" x1="0" y1="0" x2="0" y2="1"><stop offset="0" stop-color="#3b4ca4"/><stop offset=".333" stop-color="#3b4ca4"/><stop offset=".638" stop-color="#39479f"/><stop offset=".727" stop-color="#3b4aa1"/><stop offset=".759" stop-color="#3b62c8"/><stop offset=".78" stop-color="#57a6e8"/><stop offset=".802" stop-color="#7ad2ec"/><stop offset=".81" stop-color="#7ad2ec"/><stop offset=".825" stop-color="#7ed1de"/><stop offset=".839" stop-color="#7ad2ec"/><stop offset=".843" stop-color="#7ad2ec"/><stop offset=".861" stop-color="#5099e5"/><stop offset=".87" stop-color="#3e6ccf"/><stop offset=".882" stop-color="#3b52af"/><stop offset=".993" stop-color="#3b52af"/><stop offset="1" stop-color="#3a58b9"/></linearGradient><linearGradient id="g67" x1="0" y1="0" x2="0" y2="1"><stop offset="0" stop-color="#3b4aa1"/><stop offset=".332" stop-color="#3b4aa1"/><stop offset=".616" stop-color="#38459e"/><stop offset=".705" stop-color="#3947a0"/><stop offset=".737" stop-color="#3a59bc"/><stop offset=".758" stop-color="#437ddb"/><stop offset=".79" stop-color="#57a6e8"/><stop offset=".808" stop-color="#57a6e8"/><stop offset=".822" stop-color="#5db1eb"/><stop offset=".836" stop-color="#57a6e8"/><stop offset=".841" stop-color="#57a6e8"/><stop offset=".861" stop-color="#4074d4"/><stop offset=".87" stop-color="#3a57b8"/><stop offset=".882" stop-color="#38469e"/><stop offset=".993" stop-color="#38469e"/><stop offset="1" stop-color="#3b4da6"/></linearGradient><linearGradient id="g68" x1="0" y1="0" x2="0" y2="1"><stop offset="0" stop-color="#3b4aa1"/><stop offset=".329" stop-color="#3b4aa1"/><stop offset=".612" stop-color="#38459e"/><stop offset=".7" stop-color="#39479f"/><stop offset=".732" stop-color="#3b63c9"/><stop offset=".753" stop-color="#5db2eb"/><stop offset=".783" stop-color="#7fd1dc"/><stop offset=".8" stop-color="#7fd1dc"/><stop offset=".814" stop-color="#84d0cb"/><stop offset=".828" stop-color="#7fd1dc"/><stop offset=".831" stop-color="#7fd1dc"/><stop offset=".849" stop-color="#56a4e8"/><stop offset=".859" stop-color="#3c66cb"/><stop offset=".871" stop-color="#3b4ca4"/><stop offset=".993" stop-color="#3b4ca4"/><stop offset="1" stop-color="#3b52af"/></linearGradient><linearGradient id="g69" x1="0" y1="0" x2="0" y2="1"><stop offset="0" stop-color="#3b4ba3"/><stop offset=".328" stop-color="#3b4ba3"/><stop offset=".626" stop-color="#39479f"/><stop offset=".714" stop-color="#3a49a0"/><stop offset=".745" stop-color="#3c67cb"/><stop offset=".767" stop-color="#60b7ec"/><stop offset=".788" stop-color="#80d0d6"/><stop offset=".795" stop-color="#80d0d6"/><stop offset=".809" stop-color="#8ad2c0"/><stop offset=".823" stop-color="#80d0d6"/><stop offset=".826" stop-color="#80d0d6"/><stop offset=".842" stop-color="#58a8e9"/><stop offset=".851" stop-color="#3f71d2"/><stop offset=".863" stop-color="#3b52af"/><stop offset=".993" stop-color="#3b52af"/><stop offset="1" stop-color="#3a58b9"/></linearGradient><linearGradient id="g70" x1="0" y1="0" x2="0" y2="1"><stop offset="0" stop-color="#3a49a0"/><stop offset=".335" stop-color="#3a49a0"/><stop offset=".624" stop-color="#37449e"/><stop offset=".714" stop-color="#39479f"/><stop offset=".746" stop-color="#3b64c9"/><stop offset=".768" stop-color="#60b7ec"/><stop offset=".797" stop-color="#80d0d6"/><stop offset=".812" stop-color="#80d0d6"/><stop offset=".826" stop-color="#8ad2c0"/><stop offset=".841" stop-color="#80d0d6"/><stop offset=".846" stop-color="#80d0d6"/><stop offset=".865" stop-color="#58a8e9"/><stop offset=".874" stop-color="#3f70d2"/><stop offset=".886" stop-color="#3b51ae"/><stop offset=".993" stop-color="#3b51ae"/><stop offset="1" stop-color="#3a57b8"/></linearGradient><linearGradient id="g71" x1="0" y1="0" x2="0" y2="1"><stop offset="0" stop-color="#39479f"/><stop offset=".343" stop-color="#39479f"/><stop offset=".62" stop-color="#36429c"/><stop offset=".712" stop-color="#37449e"/><stop offset=".745" stop-color="#3a58ba"/><stop offset=".767" stop-color="#4481dd"/><stop offset=".804" stop-color="#5aacea"/><stop offset=".827" stop-color="#5aacea"/><stop offset=".842" stop-color="#60b7ec"/><stop offset=".857" stop-color="#5aacea"/><stop offset=".866" stop-color="#5aacea"/><stop offset=".891" stop-color="#4278d7"/><stop offset=".901" stop-color="#3a55b4"/><stop offset=".913" stop-color="#35419c"/><stop offset=".993" stop-color="#35419c"/><stop offset="1" stop-color="#3a48a0"/></linearGradient><linearGradient id="g72" x1="0" y1="0" x2="0" y2="1"><stop offset="0" stop-color="#3a48a0"/><stop offset=".345" stop-color="#3a48a0"/><stop offset=".623" stop-color="#37439d"/><stop offset=".715" stop-color="#38469e"/><stop offset=".748" stop-color="#3b54b3"/><stop offset=".77" stop-color="#3c65ca"/><stop offset=".807" stop-color="#4583de"/><stop offset=".828" stop-color="#4583de"/><stop offset=".843" stop-color="#488be2"/><stop offset=".858" stop-color="#4583de"/><stop offset=".871" stop-color="#4583de"/><stop offset=".898" stop-color="#3a5ec5"/><stop offset=".908" stop-color="#3a55b5"/><stop offset=".92" stop-color="#3b4aa2"/><stop offset=".993" stop-color="#3b4aa2"/><stop offset="1" stop-color="#3b50ac"/></linearGradient><linearGradient id="g73" x1="0" y1="0" x2="0" y2="1"><stop offset="0" stop-color="#3948a0"/><stop offset=".346" stop-color="#3948a0"/><stop offset=".631" stop-color="#36439d"/><stop offset=".723" stop-color="#38459e"/><stop offset=".757" stop-color="#3a58ba"/><stop offset=".779" stop-color="#4480dd"/><stop offset=".811" stop-color="#59aae9"/><stop offset=".829" stop-color="#59aae9"/><stop offset=".844" stop-color="#5fb5ec"/><stop offset=".859" stop-color="#59aae9"/><stop offset=".872" stop-color="#59aae9"/><stop offset=".9" stop-color="#4177d6"/><stop offset=".91" stop-color="#3a5bbf"/><stop offset=".923" stop-color="#3b4ca4"/><stop offset=".993" stop-color="#3b4ca4"/><stop offset="1" stop-color="#3b52ae"/></linearGradient><linearGradient id="g74" x1="0" y1="0" x2="0" y2="1"><stop offset="0" stop-color="#39469f"/><stop offset=".342" stop-color="#39469f"/><stop offset=".636" stop-color="#35419c"/><stop offset=".728" stop-color="#37449d"/><stop offset=".761" stop-color="#3a61c7"/><stop offset=".783" stop-color="#60b7ec"/><stop offset=".808" stop-color="#80d0d6"/><stop offset=".818" stop-color="#80d0d6"/><stop offset=".833" stop-color="#8ad2c0"/><stop offset=".848" stop-color="#80d0d6"/><stop offset=".861" stop-color="#80d0d6"/><stop offset=".89" stop-color="#58a8e9"/><stop offset=".899" stop-color="#3d6acd"/><stop offset=".912" stop-color="#3b4da7"/><stop offset=".993" stop-color="#3b4da7"/><stop offset="1" stop-color="#3b53b1"/></linearGradient><linearGradient id="g75" x1="0" y1="0" x2="0" y2="1"><stop offset="0" stop-color="#3b4ba3"/><stop offset=".336" stop-color="#3b4ba3"/><stop offset=".62" stop-color="#39469f"/><stop offset=".71" stop-color="#3a49a0"/><stop offset=".743" stop-color="#3c67cb"/><stop offset=".764" stop-color="#60b7ec"/><stop offset=".792" stop-color="#80d0d6"/><stop offset=".805" stop-color="#80d0d6"/><stop offset=".819" stop-color="#8ad2c0"/><stop offset=".834" stop-color="#80d0d6"/><stop offset=".848" stop-color="#80d0d6"/><stop offset=".876" stop-color="#58a8e9"/><stop offset=".885" stop-color="#3b61c7"/><stop offset=".897" stop-color="#39479f"/><stop offset=".993" stop-color="#39479f"/><stop offset="1" stop-color="#3b4da7"/></linearGradient><linearGradient id="g76" x1="0" y1="0" x2="0" y2="1"><stop offset="0" stop-color="#3b4ca5"/><stop offset=".332" stop-color="#3b4ca5"/><stop offset=".606" stop-color="#3a48a0"/><stop offset=".695" stop-color="#3b4aa2"/><stop offset=".727" stop-color="#3a5cc1"/><stop offset=".748" stop-color="#4585e0"/><stop offset=".779" stop-color="#5db2eb"/><stop offset=".796" stop-color="#5db2eb"/><stop offset=".81" stop-color="#63bdee"/><stop offset=".824" stop-color="#5db2eb"/><stop offset=".838" stop-color="#5db2eb"/><stop offset=".866" stop-color="#437cd9"/><stop offset=".876" stop-color="#3a59bb"/><stop offset=".888" stop-color="#39479f"/><stop offset=".993" stop-color="#39479f"/><stop offset="1" stop-color="#3b4da7"/></linearGradient><linearGradient id="g77" x1="0" y1="0" x2="0" y2="1"><stop offset="0" stop-color="#3b4aa1"/><stop offset=".329" stop-color="#3b4aa1"/><stop offset=".629" stop-color="#38459e"/><stop offset=".717" stop-color="#3a48a0"/><stop offset=".749" stop-color="#3a59bc"/><stop offset=".77" stop-color="#427bd9"/><stop offset=".787" stop-color="#55a3e8"/><stop offset=".79" stop-color="#55a3e8"/><stop offset=".804" stop-color="#5badea"/><stop offset=".818" stop-color="#55a3e8"/><stop offset=".83" stop-color="#55a3e8"/><stop offset=".856" stop-color="#4072d3"/><stop offset=".865" stop-color="#3b53b1"/><stop offset=".877" stop-color="#35409b"/><stop offset=".993" stop-color="#35409b"/><stop offset="1" stop-color="#3948a0"/></linearGradient><linearGradient id="g78" x1="0" y1="0" x2="0" y2="1"><stop offset="0" stop-color="#3a48a0"/><stop offset=".33" stop-color="#3a48a0"/><stop offset=".643" stop-color="#37439d"/><stop offset=".732" stop-color="#38469f"/><stop offset=".763" stop-color="#3b63c8"/><stop offset=".785" stop-color="#5fb5ec"/><stop offset=".796" stop-color="#80d1d8"/><stop offset=".796" stop-color="#80d1d8"/><stop offset=".808" stop-color="#88d1c4"/><stop offset=".822" stop-color="#80d1d8"/><stop offset=".831" stop-color="#80d1d8"/><stop offset=".855" stop-color="#57a7e9"/><stop offset=".864" stop-color="#3a5cc1"/><stop offset=".876" stop-color="#35419c"/><stop offset=".993" stop-color="#35419c"/><stop offset="1" stop-color="#3a48a0"/></linearGradient><linearGradient id="g79" x1="0" y1="0" x2="0" y2="1"><stop offset="0" stop-color="#3947a0"/><stop offset=".339" stop-color="#3947a0"/><stop offset=".647" stop-color="#36429d"/><stop offset=".738" stop-color="#38459e"/><stop offset=".771" stop-color="#3b62c8"/><stop offset=".793" stop-color="#60b7ec"/><stop offset=".812" stop-color="#80d0d6"/><stop offset=".817" stop-color="#80d0d6"/><stop offset=".831" stop-color="#8ad2c0"/><stop offset=".846" stop-color="#80d0d6"/><stop offset=".855" stop-color="#80d0d6"/><stop offset=".88" stop-color="#58a8e9"/><stop offset=".889" stop-color="#3c66cb"/><stop offset=".901" stop-color="#3b4ba2"/><stop offset=".993" stop-color="#3b4ba2"/><stop offset="1" stop-color="#3b51ad"/></linearGradient><linearGradient id="g80" x1="0" y1="0" x2="0" y2="1"><stop offset="0" stop-color="#3a48a0"/><stop offset=".348" stop-color="#3a48a0"/><stop offset=".645" stop-color="#37439d"/><stop offset=".738" stop-color="#38469f"/><stop offset=".772" stop-color="#3b63c9"/><stop offset=".794" stop-color="#60b7ec"/><stop offset=".823" stop-color="#80d0d6"/><stop offset=".837" stop-color="#80d0d6"/><stop offset=".852" stop-color="#8ad2c0"/><stop offset=".867" stop-color="#80d0d6"/><stop offset=".877" stop-color="#80d0d6"/><stop offset=".902" stop-color="#58a8e9"/><stop offset=".912" stop-color="#3a5dc2"/><stop offset=".925" stop-color="#36419c"/><stop offset=".993" stop-color="#36419c"/><stop offset="1" stop-color="#3a49a0"/></linearGradient><linearGradient id="g81" x1="0" y1="0" x2="0" y2="1"><stop offset="0" stop-color="#3a49a0"/><stop offset=".353" stop-color="#3a49a0"/><stop offset=".628" stop-color="#37449d"/><stop offset=".723" stop-color="#39469f"/><stop offset=".757" stop-color="#3a5fc5"/><stop offset=".78" stop-color="#57a6e8"/><stop offset=".819" stop-color="#7ad2ed"/><stop offset=".843" stop-color="#7ad2ed"/><stop offset=".858" stop-color="#7ed1df"/><stop offset=".873" stop-color="#7ad2ed"/><stop offset=".884" stop-color="#7ad2ed"/><stop offset=".909" stop-color="#4f98e5"/><stop offset=".919" stop-color="#3a5cc1"/><stop offset=".932" stop-color="#37449e"/><stop offset=".992" stop-color="#37449e"/><stop offset="1" stop-color="#3b4ba3"/></linearGradient><linearGradient id="g82" x1="0" y1="0" x2="0" y2="1"><stop offset="0" stop-color="#3b49a1"/><stop offset=".358" stop-color="#3b49a1"/><stop offset=".638" stop-color="#37449e"/><stop offset=".734" stop-color="#39479f"/><stop offset=".769" stop-color="#3b52b0"/><stop offset=".792" stop-color="#3a5cc0"/><stop offset=".826" stop-color="#4072d3"/><stop offset=".844" stop-color="#4072d3"/><stop offset=".86" stop-color="#4279d7"/><stop offset=".875" stop-color="#4072d3"/><stop offset=".886" stop-color="#4072d3"/><stop offset=".912" stop-color="#3a59bb"/><stop offset=".922" stop-color="#3b51ad"/><stop offset=".935" stop-color="#39479f"/><stop offset=".992" stop-color="#39479f"/><stop offset="1" stop-color="#3b4da7"/></linearGradient><linearGradient id="g83" x1="0" y1="0" x2="0" y2="1"><stop offset="0" stop-color="#3b4ba3"/><stop offset=".355" stop-color="#3b4ba3"/><stop offset=".631" stop-color="#39469f"/><stop offset=".726" stop-color="#3a49a0"/><stop offset=".761" stop-color="#3b53b1"/><stop offset=".783" stop-color="#3a5abe"/><stop offset=".813" stop-color="#3f6ed0"/><stop offset=".827" stop-color="#3f6ed0"/><stop offset=".842" stop-color="#4074d4"/><stop offset=".857" stop-color="#3f6ed0"/><stop offset=".868" stop-color="#3f6ed0"/><stop offset=".893" stop-color="#3a57b8"/><stop offset=".903" stop-color="#3b4ea7"/><stop offset=".916" stop-color="#36419c"/><stop offset=".992" stop-color="#36419c"/><stop offset="1" stop-color="#3a49a0"/></linearGradient><linearGradient id="g84" x1="0" y1="0" x2="0" y2="1"><stop offset="0" stop-color="#3b4aa1"/><stop offset=".351" stop-color="#3b4aa1"/><stop offset=".616" stop-color="#38459e"/><stop offset=".71" stop-color="#3a48a0"/><stop offset=".744" stop-color="#3a5fc6"/><stop offset=".767" stop-color="#54a2e7"/><stop offset=".795" stop-color="#77cfee"/><stop offset=".809" stop-color="#77cfee"/><stop offset=".824" stop-color="#7dd1e4"/><stop offset=".839" stop-color="#77cfee"/><stop offset=".848" stop-color="#77cfee"/><stop offset=".873" stop-color="#4d95e4"/><stop offset=".883" stop-color="#3a59bc"/><stop offset=".896" stop-color="#35409b"/><stop offset=".992" stop-color="#35409b"/><stop offset="1" stop-color="#3a48a0"/></linearGradient><linearGradient id="g85" x1="0" y1="0" x2="0" y2="1"><stop offset="0" stop-color="#38459e"/><stop offset=".358" stop-color="#38459e"/><stop offset=".625" stop-color="#34409b"/><stop offset=".72" stop-color="#36429d"/><stop offset=".755" stop-color="#3a5ec4"/><stop offset=".778" stop-color="#5db2eb"/><stop offset=".808" stop-color="#7fd1dc"/><stop offset=".823" stop-color="#7fd1dc"/><stop offset=".838" stop-color="#84d0cb"/><stop offset=".854" stop-color="#7fd1dc"/><stop offset=".864" stop-color="#7fd1dc"/><stop offset=".889" stop-color="#56a4e8"/><stop offset=".899" stop-color="#3f6ed0"/><stop offset=".912" stop-color="#3b51ad"/><stop offset=".992" stop-color="#3b51ad"/><stop offset="1" stop-color="#3a57b8"/></linearGradient><linearGradient id="g86" x1="0" y1="0" x2="0" y2="1"><stop offset="0" stop-color="#38459e"/><stop offset=".368" stop-color="#38459e"/><stop offset=".637" stop-color="#35409b"/><stop offset=".736" stop-color="#36439d"/><stop offset=".771" stop-color="#3b50ac"/><stop offset=".795" stop-color="#3a5cc0"/><stop offset=".828" stop-color="#4072d3"/><stop offset=".846" stop-color="#4072d3"/><stop offset=".862" stop-color="#4279d7"/><stop offset=".877" stop-color="#4072d3"/><stop offset=".89" stop-color="#4072d3"/><stop offset=".919" stop-color="#3a59bb"/><stop offset=".929" stop-color="#3b52af"/><stop offset=".943" stop-color="#3a49a0"/><stop offset=".992" stop-color="#3a49a0"/><stop offset="1" stop-color="#3b4faa"/></linearGradient><linearGradient id="g87" x1="0" y1="0" x2="0" y2="1"><stop offset="0" stop-color="#39469f"/><stop offset=".368" stop-color="#39469f"/><stop offset=".635" stop-color="#36419c"/><stop offset=".734" stop-color="#37449d"/><stop offset=".769" stop-color="#3b52af"/><stop offset=".793" stop-color="#3a5fc5"/><stop offset=".827" stop-color="#427ad8"/><stop offset=".845" stop-color="#427ad8"/><stop offset=".861" stop-color="#4481dd"/><stop offset=".877" stop-color="#427ad8"/><stop offset=".892" stop-color="#427ad8"/><stop offset=".922" stop-color="#3a5bc0"/><stop offset=".933" stop-color="#3b51ad"/><stop offset=".946" stop-color="#37449e"/><stop offset=".992" stop-color="#37449e"/><stop offset="1" stop-color="#3b4ba3"/></linearGradient><linearGradient id="g88" x1="0" y1="0" x2="0" y2="1"><stop offset="0" stop-color="#3a48a0"/><stop offset=".361" stop-color="#3a48a0"/><stop offset=".621" stop-color="#37439d"/><stop offset=".717" stop-color="#38459e"/><stop offset=".752" stop-color="#3a58ba"/><stop offset=".775" stop-color="#437edb"/><stop offset=".808" stop-color="#58a8e9"/><stop offset=".826" stop-color="#58a8e9"/><stop offset=".841" stop-color="#5eb2eb"/><stop offset=".857" stop-color="#58a8e9"/><stop offset=".869" stop-color="#58a8e9"/><stop offset=".897" stop-color="#4175d5"/><stop offset=".907" stop-color="#3a5cc0"/><stop offset=".92" stop-color="#3b4da7"/><stop offset=".992" stop-color="#3b4da7"/><stop offset="1" stop-color="#3b53b1"/></linearGradient><linearGradient id="g89" x1="0" y1="0" x2="0" y2="1"><stop offset="0" stop-color="#3b4ca5"/><stop offset=".356" stop-color="#3b4ca5"/><stop offset=".616" stop-color="#3a48a0"/><stop offset=".712" stop-color="#3b4aa2"/><stop offset=".746" stop-color="#3a5fc5"/><stop offset=".769" stop-color="#4e95e4"/><stop offset=".799" stop-color="#6ac4ee"/><stop offset=".815" stop-color="#6ac4ee"/><stop offset=".83" stop-color="#74cdee"/><stop offset=".845" stop-color="#6ac4ee"/><stop offset=".856" stop-color="#6ac4ee"/><stop offset=".881" stop-color="#4789e2"/><stop offset=".891" stop-color="#3a57b9"/><stop offset=".904" stop-color="#35409b"/><stop offset=".992" stop-color="#35409b"/><stop offset="1" stop-color="#3a48a0"/></linearGradient><linearGradient id="g90" x1="0" y1="0" x2="0" y2="1"><stop offset="0" stop-color="#3b51ad"/><stop offset=".358" stop-color="#3b51ad"/><stop offset=".623" stop-color="#3b4da6"/><stop offset=".719" stop-color="#3b4faa"/><stop offset=".753" stop-color="#3b61c7"/><stop offset=".776" stop-color="#4687e1"/><stop offset=".805" stop-color="#5fb4ec"/><stop offset=".817" stop-color="#5fb4ec"/><stop offset=".833" stop-color="#65bfee"/><stop offset=".848" stop-color="#5fb4ec"/><stop offset=".856" stop-color="#5fb4ec"/><stop offset=".88" stop-color="#437ddb"/><stop offset=".89" stop-color="#3a58ba"/><stop offset=".903" stop-color="#38459e"/><stop offset=".992" stop-color="#38459e"/><stop offset="1" stop-color="#3b4ca4"/></linearGradient><linearGradient id="g91" x1="0" y1="0" x2="0" y2="1"><stop offset="0" stop-color="#3b4ea9"/><stop offset=".359" stop-color="#3b4ea9"/><stop offset=".63" stop-color="#3b4aa2"/><stop offset=".726" stop-color="#3b4ca5"/><stop offset=".761" stop-color="#3d69cd"/><stop offset=".784" stop-color="#5badea"/><stop offset=".808" stop-color="#7dd1e3"/><stop offset=".818" stop-color="#7dd1e3"/><stop offset=".833" stop-color="#81d0d4"/><stop offset=".848" stop-color="#7dd1e3"/><stop offset=".855" stop-color="#7dd1e3"/><stop offset=".877" stop-color="#539fe7"/><stop offset=".887" stop-color="#3e6dd0"/><stop offset=".9" stop-color="#3b51ae"/><stop offset=".992" stop-color="#3b51ae"/><stop offset="1" stop-color="#3a57b9"/></linearGradient><linearGradient id="g92" x1="0" y1="0" x2="0" y2="1"><stop offset="0" stop-color="#3b4ca4"/><stop offset=".355" stop-color="#3b4ca4"/><stop offset=".621" stop-color="#3947a0"/><stop offset=".716" stop-color="#3b4aa1"/><stop offset=".75" stop-color="#3a5dc2"/><stop offset=".773" stop-color="#4789e2"/><stop offset=".793" stop-color="#60b7ec"/><stop offset=".797" stop-color="#60b7ec"/><stop offset=".812" stop-color="#68c1ee"/><stop offset=".827" stop-color="#60b7ec"/><stop offset=".834" stop-color="#60b7ec"/><stop offset=".856" stop-color="#447fdc"/><stop offset=".866" stop-color="#3a60c7"/><stop offset=".879" stop-color="#3b50ac"/><stop offset=".992" stop-color="#3b50ac"/><stop offset="1" stop-color="#3a56b7"/></linearGradient><linearGradient id="g93" x1="0" y1="0" x2="0" y2="1"><stop offset="0" stop-color="#3b4aa1"/><stop offset=".352" stop-color="#3b4aa1"/><stop offset=".611" stop-color="#38459e"/><stop offset=".706" stop-color="#3947a0"/><stop offset=".74" stop-color="#3a59bb"/><stop offset=".762" stop-color="#427bd9"/><stop offset=".777" stop-color="#55a3e8"/><stop offset=".777" stop-color="#55a3e8"/><stop offset=".792" stop-color="#5badea"/><stop offset=".807" stop-color="#55a3e8"/><stop offset=".815" stop-color="#55a3e8"/><stop offset=".838" stop-color="#4072d3"/><stop offset=".848" stop-color="#3a5abe"/><stop offset=".861" stop-color="#3b4ca5"/><stop offset=".992" stop-color="#3b4ca5"/><stop offset="1" stop-color="#3b52af"/></linearGradient><linearGradient id="g94" x1="0" y1="0" x2="0" y2="1"><stop offset="0" stop-color="#3b4ba3"/><stop offset=".356" stop-color="#3b4ba3"/><stop offset=".602" stop-color="#39469f"/><stop offset=".698" stop-color="#3a49a0"/><stop offset=".732" stop-color="#3c67cb"/><stop offset=".755" stop-color="#60b7ec"/><stop offset=".773" stop-color="#80d0d6"/><stop offset=".775" stop-color="#80d0d6"/><stop offset=".79" stop-color="#8ad2c0"/><stop offset=".806" stop-color="#80d0d6"/><stop offset=".813" stop-color="#80d0d6"/><stop offset=".835" stop-color="#58a8e9"/><stop offset=".845" stop-color="#3a5dc3"/><stop offset=".858" stop-color="#36429c"/><stop offset=".992" stop-color="#36429c"/><stop offset="1" stop-color="#3b49a1"/></linearGradient><linearGradient id="g95" x1="0" y1="0" x2="0" y2="1"><stop offset="0" stop-color="#3b4da6"/><stop offset=".361" stop-color="#3b4da6"/><stop offset=".601" stop-color="#3a48a0"/><stop offset=".698" stop-color="#3b4ba2"/><stop offset=".733" stop-color="#3a5cc0"/><stop offset=".756" stop-color="#4480dd"/><stop offset=".775" stop-color="#59abe9"/><stop offset=".779" stop-color="#59abe9"/><stop offset=".794" stop-color="#5fb5ec"/><stop offset=".81" stop-color="#59abe9"/><stop offset=".814" stop-color="#59abe9"/><stop offset=".833" stop-color="#4177d6"/><stop offset=".843" stop-color="#3a58b9"/><stop offset=".856" stop-color="#39469f"/><stop offset=".992" stop-color="#39469f"/><stop offset="1" stop-color="#3b4da6"/></linearGradient><linearGradient id="g96" x1="0" y1="0" x2="0" y2="1"><stop offset="0" stop-color="#3b4faa"/><stop offset=".368" stop-color="#3b4faa"/><stop offset=".612" stop-color="#3b4ba3"/><stop offset=".71" stop-color="#3b4da7"/><stop offset=".746" stop-color="#3a5fc6"/><stop offset=".769" stop-color="#488be2"/><stop offset=".789" stop-color="#61b9ed"/><stop offset=".793" stop-color="#61b9ed"/><stop offset=".809" stop-color="#69c3ee"/><stop offset=".824" stop-color="#61b9ed"/><stop offset=".827" stop-color="#61b9ed"/><stop offset=".846" stop-color="#4480dd"/><stop offset=".856" stop-color="#3a56b6"/><stop offset=".869" stop-color="#35409b"/><stop offset=".992" stop-color="#35409b"/><stop offset="1" stop-color="#3a48a0"/></linearGradient><linearGradient id="g97" x1="0" y1="0" x2="0" y2="1"><stop offset="0" stop-color="#3b4da7"/><stop offset=".376" stop-color="#3b4da7"/><stop offset=".619" stop-color="#3b49a1"/><stop offset=".72" stop-color="#3b4ba3"/><stop offset=".756" stop-color="#3c64c9"/><stop offset=".78" stop-color="#55a3e8"/><stop offset=".802" stop-color="#78d1ee"/><stop offset=".808" stop-color="#78d1ee"/><stop offset=".824" stop-color="#7dd1e2"/><stop offset=".841" stop-color="#78d1ee"/><stop offset=".848" stop-color="#78d1ee"/><stop offset=".872" stop-color="#4e96e5"/><stop offset=".883" stop-color="#3a5cc0"/><stop offset=".896" stop-color="#37449e"/><stop offset=".992" stop-color="#37449e"/><stop offset="1" stop-color="#3b4ca4"/></linearGradient><linearGradient id="g98" x1="0" y1="0" x2="0" y2="1"><stop offset="0" stop-color="#3a49a0"/><stop offset=".38" stop-color="#3a49a0"/><stop offset=".62" stop-color="#37449e"/><stop offset=".722" stop-color="#39479f"/><stop offset=".758" stop-color="#3b52af"/><stop offset=".783" stop-color="#3a5bbe"/><stop offset=".808" stop-color="#3f6fd1"/><stop offset=".818" stop-color="#3f6fd1"/><stop offset=".834" stop-color="#4175d5"/><stop offset=".85" stop-color="#3f6fd1"/><stop offset=".862" stop-color="#3f6fd1"/><stop offset=".891" stop-color="#3a58b9"/><stop offset=".902" stop-color="#3b4da7"/><stop offset=".915" stop-color="#35409b"/><stop offset=".992" stop-color="#35409b"/><stop offset="1" stop-color="#3a48a0"/></linearGradient><linearGradient id="g99" x1="0" y1="0" x2="0" y2="1"><stop offset="0" stop-color="#3a49a0"/><stop offset=".382" stop-color="#3a49a0"/><stop offset=".592" stop-color="#37449d"/><stop offset=".695" stop-color="#39469f"/><stop offset=".732" stop-color="#3a58b9"/><stop offset=".756" stop-color="#4278d7"/><stop offset=".795" stop-color="#539ee6"/><stop offset=".817" stop-color="#539ee6"/><stop offset=".834" stop-color="#58a8e9"/><stop offset=".85" stop-color="#539ee6"/><stop offset=".862" stop-color="#539ee6"/><stop offset=".891" stop-color="#3f6fd1"/><stop offset=".901" stop-color="#3b54b3"/><stop offset=".915" stop-color="#36429d"/><stop offset=".992" stop-color="#36429d"/><stop offset="1" stop-color="#3b4aa1"/></linearGradient><linearGradient id="g100" x1="0" y1="0" x2="0" y2="1"><stop offset="0" stop-color="#3b4aa1"/><stop offset=".385" stop-color="#3b4aa1"/><stop offset=".58" stop-color="#38459e"/><stop offset=".684" stop-color="#3a48a0"/><stop offset=".721" stop-color="#3a57b8"/><stop offset=".745" stop-color="#3f6fd1"/><stop offset=".79" stop-color="#4b91e3"/><stop offset=".817" stop-color="#4b91e3"/><stop offset=".834" stop-color="#509ae6"/><stop offset=".85" stop-color="#4b91e3"/><stop offset=".862" stop-color="#4b91e3"/><stop offset=".89" stop-color="#3c67cb"/><stop offset=".901" stop-color="#3a58ba"/><stop offset=".915" stop-color="#3b4ca5"/><stop offset=".992" stop-color="#3b4ca5"/><stop offset="1" stop-color="#3b52af"/></linearGradient><linearGradient id="g101" x1="0" y1="0" x2="0" y2="1"><stop offset="0" stop-color="#3b4da7"/><stop offset=".388" stop-color="#3b4da7"/><stop offset=".61" stop-color="#3a49a0"/><stop offset=".714" stop-color="#3b4ba3"/><stop offset=".752" stop-color="#3b54b3"/><stop offset=".777" stop-color="#3a59bc"/><stop offset=".806" stop-color="#3e6bce"/><stop offset=".819" stop-color="#3e6bce"/><stop offset=".835" stop-color="#4071d2"/><stop offset=".852" stop-color="#3e6bce"/><stop offset=".862" stop-color="#3e6bce"/><stop offset=".889" stop-color="#3a56b7"/><stop offset=".901" stop-color="#3b4da7"/><stop offset=".914" stop-color="#36429c"/><stop offset=".992" stop-color="#36429c"/><stop offset="1" stop-color="#3b4aa1"/></linearGradient><linearGradient id="g102" x1="0" y1="0" x2="0" y2="1"><stop offset="0" stop-color="#3b4ca5"/><stop offset=".391" stop-color="#3b4ca5"/><stop offset=".623" stop-color="#3a48a0"/><stop offset=".728" stop-color="#3b4aa2"/><stop offset=".765" stop-color="#3a59bb"/><stop offset=".791" stop-color="#3f70d1"/><stop offset=".815" stop-color="#4c92e4"/><stop offset=".823" stop-color="#4c92e4"/><stop offset=".84" stop-color="#519be6"/><stop offset=".857" stop-color="#4c92e4"/><stop offset=".865" stop-color="#4c92e4"/><stop offset=".89" stop-color="#3d68cc"/><stop offset=".902" stop-color="#3b53b1"/><stop offset=".916" stop-color="#37439d"/><stop offset=".992" stop-color="#37439d"/><stop offset="1" stop-color="#3b4aa2"/></linearGradient><linearGradient id="g103" x1="0" y1="0" x2="0" y2="1"><stop offset="0" stop-color="#3b4ca4"/><stop offset=".39" stop-color="#3b4ca4"/><stop offset=".621" stop-color="#39479f"/><stop offset=".725" stop-color="#3b49a1"/><stop offset=".763" stop-color="#3a59bb"/><stop offset=".788" stop-color="#4073d4"/><stop offset=".814" stop-color="#4f97e5"/><stop offset=".825" stop-color="#4f97e5"/><stop offset=".841" stop-color="#54a1e7"/><stop offset=".858" stop-color="#4f97e5"/><stop offset=".868" stop-color="#4f97e5"/><stop offset=".894" stop-color="#3e6bce"/><stop offset=".906" stop-color="#3a5cc1"/><stop offset=".919" stop-color="#3b50ac"/><stop offset=".992" stop-color="#3b50ac"/><stop offset="1" stop-color="#3a56b7"/></linearGradient><linearGradient id="g104" x1="0" y1="0" x2="0" y2="1"><stop offset="0" stop-color="#3b4ca4"/><stop offset=".389" stop-color="#3b4ca4"/><stop offset=".627" stop-color="#39479f"/><stop offset=".731" stop-color="#3b4aa1"/><stop offset=".769" stop-color="#3a5dc2"/><stop offset=".794" stop-color="#488ae2"/><stop offset=".819" stop-color="#61b8ed"/><stop offset=".828" stop-color="#61b8ed"/><stop offset=".845" stop-color="#69c2ee"/><stop offset=".861" stop-color="#61b8ed"/><stop offset=".874" stop-color="#61b8ed"/><stop offset=".904" stop-color="#4480dc"/><stop offset=".915" stop-color="#3a5abc"/><stop offset=".929" stop-color="#39479f"/><stop offset=".992" stop-color="#39479f"/><stop offset="1" stop-color="#3b4da7"/></linearGradient><linearGradient id="g105" x1="0" y1="0" x2="0" y2="1"><stop offset="0" stop-color="#3b4ba2"/><stop offset=".389" stop-color="#3b4ba2"/><stop offset=".634" stop-color="#38469e"/><stop offset=".738" stop-color="#3a48a0"/><stop offset=".776" stop-color="#3b63c9"/><stop offset=".801" stop-color="#5baeea"/><stop offset=".826" stop-color="#7dd1e2"/><stop offset=".834" stop-color="#7dd1e2"/><stop offset=".85" stop-color="#81d0d3"/><stop offset=".867" stop-color="#7dd1e2"/><stop offset=".881" stop-color="#7dd1e2"/><stop offset=".912" stop-color="#54a0e7"/><stop offset=".923" stop-color="#3a5fc5"/><stop offset=".937" stop-color="#39479f"/><stop offset=".992" stop-color="#39479f"/><stop offset="1" stop-color="#3b4da7"/></linearGradient><linearGradient id="g106" x1="0" y1="0" x2="0" y2="1"><stop offset="0" stop-color="#3a48a0"/><stop offset=".389" stop-color="#3a48a0"/><stop offset=".622" stop-color="#37439d"/><stop offset=".726" stop-color="#38469f"/><stop offset=".764" stop-color="#3a5bbf"/><stop offset=".789" stop-color="#498de2"/><stop offset=".819" stop-color="#63bbed"/><stop offset=".832" stop-color="#63bbed"/><stop offset=".848" stop-color="#6bc5ee"/><stop offset=".865" stop-color="#63bbed"/><stop offset=".879" stop-color="#63bbed"/><stop offset=".909" stop-color="#4582de"/><stop offset=".92" stop-color="#3a57b8"/><stop offset=".934" stop-color="#36429c"/><stop offset=".992" stop-color="#36429c"/><stop offset="1" stop-color="#3b49a1"/></linearGradient><linearGradient id="g107" x1="0" y1="0" x2="0" y2="1"><stop offset="0" stop-color="#3b4da7"/><stop offset=".379" stop-color="#3b4da7"/><stop offset=".59" stop-color="#3a49a0"/><stop offset=".692" stop-color="#3b4ba3"/><stop offset=".728" stop-color="#3a57b8"/><stop offset=".752" stop-color="#3c64ca"/><stop offset=".788" stop-color="#4582de"/><stop offset=".807" stop-color="#4582de"/><stop offset=".823" stop-color="#488ae2"/><stop offset=".84" stop-color="#4582de"/><stop offset=".851" stop-color="#4582de"/><stop offset=".879" stop-color="#3a5ec4"/><stop offset=".89" stop-color="#3a58ba"/><stop offset=".904" stop-color="#3b4fa9"/><stop offset=".992" stop-color="#3b4fa9"/><stop offset="1" stop-color="#3a55b4"/></linearGradient><linearGradient id="g108" x1="0" y1="0" x2="0" y2="1"><stop offset="0" stop-color="#3b50ab"/><stop offset=".366" stop-color="#3b50ab"/><stop offset=".553" stop-color="#3b4ca4"/><stop offset=".651" stop-color="#3b4ea7"/><stop offset=".686" stop-color="#3a5dc3"/><stop offset=".71" stop-color="#437edb"/><stop offset=".752" stop-color="#58a7e9"/><stop offset=".779" stop-color="#58a7e9"/><stop offset=".794" stop-color="#5eb2eb"/><stop offset=".81" stop-color="#58a7e9"/><stop offset=".819" stop-color="#58a7e9"/><stop offset=".843" stop-color="#4175d5"/><stop offset=".854" stop-color="#3a5bc0"/><stop offset=".867" stop-color="#3b4da6"/><stop offset=".992" stop-color="#3b4da6"/><stop offset="1" stop-color="#3b53b1"/></linearGradient><linearGradient id="g109" x1="0" y1="0" x2="0" y2="1"><stop offset="0" stop-color="#3b4faa"/><stop offset=".364" stop-color="#3b4faa"/><stop offset=".547" stop-color="#3b4ba3"/><stop offset=".644" stop-color="#3b4da7"/><stop offset=".679" stop-color="#3e6dcf"/><stop offset=".703" stop-color="#60b7ec"/><stop offset=".745" stop-color="#80d0d6"/><stop offset=".773" stop-color="#80d0d6"/><stop offset=".788" stop-color="#8ad2c0"/><stop offset=".804" stop-color="#80d0d6"/><stop offset=".81" stop-color="#80d0d6"/><stop offset=".831" stop-color="#58a8e9"/><stop offset=".842" stop-color="#3c66cb"/><stop offset=".855" stop-color="#3b4ba2"/><stop offset=".992" stop-color="#3b4ba2"/><stop offset="1" stop-color="#3b51ad"/></linearGradient><linearGradient id="g110" x1="0" y1="0" x2="0" y2="1"><stop offset="0" stop-color="#3b4da7"/><stop offset=".369" stop-color="#3b4da7"/><stop offset=".559" stop-color="#3a49a0"/><stop offset=".658" stop-color="#3b4ba3"/><stop offset=".694" stop-color="#3d6ace"/><stop offset=".717" stop-color="#60b7ec"/><stop offset=".758" stop-color="#80d0d6"/><stop offset=".784" stop-color="#80d0d6"/><stop offset=".8" stop-color="#8ad2c0"/><stop offset=".815" stop-color="#80d0d6"/><stop offset=".82" stop-color="#80d0d6"/><stop offset=".84" stop-color="#58a8e9"/><stop offset=".85" stop-color="#3d68cc"/><stop offset=".864" stop-color="#3b4ca4"/><stop offset=".992" stop-color="#3b4ca4"/><stop offset="1" stop-color="#3b52af"/></linearGradient><linearGradient id="g111" x1="0" y1="0" x2="0" y2="1"><stop offset="0" stop-color="#3b4ca4"/><stop offset=".378" stop-color="#3b4ca4"/><stop offset=".596" stop-color="#39479f"/><stop offset=".698" stop-color="#3b4aa1"/><stop offset=".734" stop-color="#3d68cc"/><stop offset=".758" stop-color="#60b7ec"/><stop offset=".789" stop-color="#80d0d6"/><stop offset=".803" stop-color="#80d0d6"/><stop offset=".819" stop-color="#8ad2c0"/><stop offset=".836" stop-color="#80d0d6"/><stop offset=".838" stop-color="#80d0d6"/><stop offset=".857" stop-color="#58a8e9"/><stop offset=".868" stop-color="#3a5dc3"/><stop offset=".881" stop-color="#36429c"/><stop offset=".992" stop-color="#36429c"/><stop offset="1" stop-color="#3b4aa1"/></linearGradient><linearGradient id="g112" x1="0" y1="0" x2="0" y2="1"><stop offset="0" stop-color="#3b4ca4"/><stop offset=".394" stop-color="#3b4ca4"/><stop offset=".64" stop-color="#3947a0"/><stop offset=".745" stop-color="#3b4aa1"/><stop offset=".783" stop-color="#3c66cb"/><stop offset=".808" stop-color="#5db1eb"/><stop offset=".832" stop-color="#7ed1de"/><stop offset=".838" stop-color="#7ed1de"/><stop offset=".855" stop-color="#83d0ce"/><stop offset=".872" stop-color="#7ed1de"/><stop offset=".875" stop-color="#7ed1de"/><stop offset=".895" stop-color="#55a3e8"/><stop offset=".906" stop-color="#3a5ec5"/><stop offset=".92" stop-color="#38459e"/><stop offset=".992" stop-color="#38459e"/><stop offset="1" stop-color="#3b4ca5"/></linearGradient><linearGradient id="g113" x1="0" y1="0" x2="0" y2="1"><stop offset="0" stop-color="#3a48a0"/><stop offset=".407" stop-color="#3a48a0"/><stop offset=".664" stop-color="#37439d"/><stop offset=".773" stop-color="#38469f"/><stop offset=".812" stop-color="#3a55b5"/><stop offset=".839" stop-color="#3e6bce"/><stop offset=".86" stop-color="#488be2"/><stop offset=".864" stop-color="#488be2"/><stop offset=".882" stop-color="#4d94e4"/><stop offset=".899" stop-color="#488be2"/><stop offset=".902" stop-color="#488be2"/><stop offset=".923" stop-color="#3b63c9"/><stop offset=".935" stop-color="#3a57b8"/><stop offset=".949" stop-color="#3b4ba3"/><stop offset=".991" stop-color="#3b4ba3"/><stop offset="1" stop-color="#3b51ae"/></linearGradient><linearGradient id="g114" x1="0" y1="0" x2="0" y2="1"><stop offset="0" stop-color="#36439d"/><stop offset=".393" stop-color="#36439d"/><stop offset=".623" stop-color="#333e9a"/><stop offset=".728" stop-color="#35409b"/><stop offset=".766" stop-color="#3a55b4"/><stop offset=".791" stop-color="#427ad9"/><stop offset=".821" stop-color="#55a2e7"/><stop offset=".834" stop-color="#55a2e7"/><stop offset=".851" stop-color="#5aacea"/><stop offset=".868" stop-color="#55a2e7"/><stop offset=".872" stop-color="#55a2e7"/><stop offset=".892" stop-color="#4072d3"/><stop offset=".903" stop-color="#3a5ec4"/><stop offset=".917" stop-color="#3b51ae"/><stop offset=".992" stop-color="#3b51ae"/><stop offset="1" stop-color="#3a57b8"/></linearGradient><linearGradient id="g115" x1="0" y1="0" x2="0" y2="1"><stop offset="0" stop-color="#3a49a0"/><stop offset=".381" stop-color="#3a49a0"/><stop offset=".573" stop-color="#37449d"/><stop offset=".675" stop-color="#39469f"/><stop offset=".712" stop-color="#3a57b7"/><stop offset=".736" stop-color="#4072d3"/><stop offset=".779" stop-color="#4e95e4"/><stop offset=".806" stop-color="#4e95e4"/><stop offset=".822" stop-color="#539fe7"/><stop offset=".839" stop-color="#4e95e4"/><stop offset=".843" stop-color="#4e95e4"/><stop offset=".863" stop-color="#3d69cd"/><stop offset=".874" stop-color="#3a5bbf"/><stop offset=".887" stop-color="#3b4faa"/><stop offset=".992" stop-color="#3b4faa"/><stop offset="1" stop-color="#3a55b5"/></linearGradient><linearGradient id="g116" x1="0" y1="0" x2="0" y2="1"><stop offset="0" stop-color="#3b4ba3"/><stop offset=".388" stop-color="#3b4ba3"/><stop offset=".599" stop-color="#39469f"/><stop offset=".703" stop-color="#3a49a0"/><stop offset=".74" stop-color="#3a56b5"/><stop offset=".765" stop-color="#3b63c9"/><stop offset=".801" stop-color="#4480dc"/><stop offset=".819" stop-color="#4480dc"/><stop offset=".836" stop-color="#4687e1"/><stop offset=".853" stop-color="#4480dc"/><stop offset=".857" stop-color="#4480dc"/><stop offset=".878" stop-color="#3a5dc3"/><stop offset=".889" stop-color="#3a56b7"/><stop offset=".903" stop-color="#3b4ca5"/><stop offset=".992" stop-color="#3b4ca5"/><stop offset="1" stop-color="#3b52b0"/></linearGradient><linearGradient id="g117" x1="0" y1="0" x2="0" y2="1"><stop offset="0" stop-color="#3b4aa1"/><stop offset=".397" stop-color="#3b4aa1"/><stop offset=".616" stop-color="#38449e"/><stop offset=".722" stop-color="#39479f"/><stop offset=".76" stop-color="#3b53b0"/><stop offset=".786" stop-color="#3a5cc0"/><stop offset=".817" stop-color="#4073d3"/><stop offset=".83" stop-color="#4073d3"/><stop offset=".847" stop-color="#4279d8"/><stop offset=".864" stop-color="#4073d3"/><stop offset=".87" stop-color="#4073d3"/><stop offset=".892" stop-color="#3a59bb"/><stop offset=".904" stop-color="#3b53b1"/><stop offset=".918" stop-color="#3b4aa2"/><stop offset=".992" stop-color="#3b4aa2"/><stop offset="1" stop-color="#3b50ac"/></linearGradient><linearGradient id="g118" x1="0" y1="0" x2="0" y2="1"><stop offset="0" stop-color="#3b4aa2"/><stop offset=".396" stop-color="#3b4aa2"/><stop offset=".599" stop-color="#38459e"/><stop offset=".705" stop-color="#3a48a0"/><stop offset=".743" stop-color="#3b52ae"/><stop offset=".769" stop-color="#3a57b9"/><stop offset=".804" stop-color="#3c66cb"/><stop offset=".822" stop-color="#3c66cb"/><stop offset=".839" stop-color="#3e6dcf"/><stop offset=".856" stop-color="#3c66cb"/><stop offset=".863" stop-color="#3c66cb"/><stop offset=".886" stop-color="#3a55b4"/><stop offset=".897" stop-color="#3b4ca4"/><stop offset=".911" stop-color="#35409b"/><stop offset=".992" stop-color="#35409b"/><stop offset="1" stop-color="#3a48a0"/></linearGradient><linearGradient id="g119" x1="0" y1="0" x2="0" y2="1"><stop offset="0" stop-color="#3b4ba3"/><stop offset=".393" stop-color="#3b4ba3"/><stop offset=".602" stop-color="#39479f"/><stop offset=".707" stop-color="#3b49a1"/><stop offset=".745" stop-color="#3a57b9"/><stop offset=".77" stop-color="#3e6dcf"/><stop offset=".799" stop-color="#4a8ee3"/><stop offset=".81" stop-color="#4a8ee3"/><stop offset=".827" stop-color="#4f97e5"/><stop offset=".844" stop-color="#4a8ee3"/><stop offset=".851" stop-color="#4a8ee3"/><stop offset=".875" stop-color="#3c65ca"/><stop offset=".887" stop-color="#3a5bbf"/><stop offset=".901" stop-color="#3b50ac"/><stop offset=".992" stop-color="#3b50ac"/><stop offset="1" stop-color="#3a56b7"/></linearGradient><linearGradient id="g120" x1="0" y1="0" x2="0" y2="1"><stop offset="0" stop-color="#3b4ca4"/><stop offset=".394" stop-color="#3b4ca4"/><stop offset=".638" stop-color="#39479f"/><stop offset=".743" stop-color="#3b4aa1"/><stop offset=".781" stop-color="#3a5bbf"/><stop offset=".806" stop-color="#4481dd"/><stop offset=".82" stop-color="#5aabea"/><stop offset=".82" stop-color="#5aabea"/><stop offset=".834" stop-color="#60b6ec"/><stop offset=".851" stop-color="#5aabea"/><stop offset=".86" stop-color="#5aabea"/><stop offset=".885" stop-color="#4178d7"/><stop offset=".896" stop-color="#3a55b4"/><stop offset=".91" stop-color="#35419c"/><stop offset=".992" stop-color="#35419c"/><stop offset="1" stop-color="#3a49a0"/></linearGradient><linearGradient id="g121" x1="0" y1="0" x2="0" y2="1"><stop offset="0" stop-color="#3b4ba2"/><stop offset=".398" stop-color="#3b4ba2"/><stop offset=".619" stop-color="#38469f"/><stop offset=".726" stop-color="#3a48a0"/><stop offset=".764" stop-color="#3b54b2"/><stop offset=".79" stop-color="#3a5cc1"/><stop offset=".819" stop-color="#4074d4"/><stop offset=".831" stop-color="#4074d4"/><stop offset=".848" stop-color="#427ad8"/><stop offset=".866" stop-color="#4074d4"/><stop offset=".878" stop-color="#4074d4"/><stop offset=".907" stop-color="#3a59bc"/><stop offset=".918" stop-color="#3b4faa"/><stop offset=".932" stop-color="#36429d"/><stop offset=".991" stop-color="#36429d"/><stop offset="1" stop-color="#3b4aa1"/></linearGradient><linearGradient id="g122" x1="0" y1="0" x2="0" y2="1"><stop offset="0" stop-color="#3a49a0"/><stop offset=".4" stop-color="#3a49a0"/><stop offset=".601" stop-color="#37439d"/><stop offset=".708" stop-color="#38469f"/><stop offset=".747" stop-color="#3b53b1"/><stop offset=".773" stop-color="#3a5ec5"/><stop offset=".815" stop-color="#427ad8"/><stop offset=".84" stop-color="#427ad8"/><stop offset=".857" stop-color="#4481dd"/><stop offset=".874" stop-color="#427ad8"/><stop offset=".89" stop-color="#427ad8"/><stop offset=".923" stop-color="#3a5bbf"/><stop offset=".934" stop-color="#3a56b6"/><stop offset=".949" stop-color="#3b4da6"/><stop offset=".991" stop-color="#3b4da6"/><stop offset="1" stop-color="#3b53b1"/></linearGradient><linearGradient id="g123" x1="0" y1="0" x2="0" y2="1"><stop offset="0" stop-color="#38459e"/><stop offset=".398" stop-color="#38459e"/><stop offset=".624" stop-color="#35409b"/><stop offset=".731" stop-color="#36439d"/><stop offset=".769" stop-color="#3a59bc"/><stop offset=".795" stop-color="#4a8ee3"/><stop offset=".824" stop-color="#64bdee"/><stop offset=".836" stop-color="#64bdee"/><stop offset=".853" stop-color="#6dc6ee"/><stop offset=".87" stop-color="#64bdee"/><stop offset=".882" stop-color="#64bdee"/><stop offset=".911" stop-color="#4583de"/><stop offset=".922" stop-color="#3a60c7"/><stop offset=".936" stop-color="#3b4faa"/><stop offset=".991" stop-color="#3b4faa"/><stop offset="1" stop-color="#3a55b4"/></linearGradient><linearGradient id="g124" x1="0" y1="0" x2="0" y2="1"><stop offset="0" stop-color="#38469f"/><stop offset=".395" stop-color="#38469f"/><stop offset=".625" stop-color="#35419c"/><stop offset=".731" stop-color="#37439d"/><stop offset=".769" stop-color="#3a60c7"/><stop offset=".794" stop-color="#60b7ec"/><stop offset=".818" stop-color="#80d0d6"/><stop offset=".825" stop-color="#80d0d6"/><stop offset=".842" stop-color="#8ad2c0"/><stop offset=".859" stop-color="#80d0d6"/><stop offset=".866" stop-color="#80d0d6"/><stop offset=".891" stop-color="#58a8e9"/><stop offset=".902" stop-color="#3e6ccf"/><stop offset=".916" stop-color="#3b4fa9"/><stop offset=".992" stop-color="#3b4fa9"/><stop offset="1" stop-color="#3a55b4"/></linearGradient><linearGradient id="g125" x1="0" y1="0" x2="0" y2="1"><stop offset="0" stop-color="#3b4ba2"/><stop offset=".392" stop-color="#3b4ba2"/><stop offset=".605" stop-color="#38469e"/><stop offset=".71" stop-color="#3a48a0"/><stop offset=".748" stop-color="#3a5cc1"/><stop offset=".773" stop-color="#4b8fe3"/><stop offset=".801" stop-color="#65beee"/><stop offset=".813" stop-color="#65beee"/><stop offset=".829" stop-color="#6ec7ee"/><stop offset=".846" stop-color="#65beee"/><stop offset=".855" stop-color="#65beee"/><stop offset=".88" stop-color="#4584df"/><stop offset=".891" stop-color="#3a5cc0"/><stop offset=".905" stop-color="#3a49a0"/><stop offset=".992" stop-color="#3a49a0"/><stop offset="1" stop-color="#3b4faa"/></linearGradient><linearGradient id="g126" x1="0" y1="0" x2="0" y2="1"><stop offset="0" stop-color="#3a49a1"/><stop offset=".389" stop-color="#3a49a1"/><stop offset=".604" stop-color="#37449e"/><stop offset=".708" stop-color="#39479f"/><stop offset=".746" stop-color="#3a56b6"/><stop offset=".771" stop-color="#3e6ed0"/><stop offset=".794" stop-color="#4a8fe3"/><stop offset=".801" stop-color="#4a8fe3"/><stop offset=".817" stop-color="#5099e5"/><stop offset=".834" stop-color="#4a8fe3"/><stop offset=".847" stop-color="#4a8fe3"/><stop offset=".876" stop-color="#3c66cb"/><stop offset=".888" stop-color="#3b53b1"/><stop offset=".901" stop-color="#37439d"/><stop offset=".992" stop-color="#37439d"/><stop offset="1" stop-color="#3b4ba2"/></linearGradient><linearGradient id="g127" x1="0" y1="0" x2="0" y2="1"><stop offset="0" stop-color="#3947a0"/><stop offset=".39" stop-color="#3947a0"/><stop offset=".619" stop-color="#36429d"/><stop offset=".723" stop-color="#38459e"/><stop offset=".761" stop-color="#3a58ba"/><stop offset=".786" stop-color="#437fdb"/><stop offset=".803" stop-color="#58a8e9"/><stop offset=".804" stop-color="#58a8e9"/><stop offset=".821" stop-color="#5eb2eb"/><stop offset=".838" stop-color="#58a8e9"/><stop offset=".852" stop-color="#58a8e9"/><stop offset=".883" stop-color="#4175d5"/><stop offset=".895" stop-color="#3b54b3"/><stop offset=".908" stop-color="#35419c"/><stop offset=".992" stop-color="#35419c"/><stop offset="1" stop-color="#3a48a0"/></linearGradient><linearGradient id="g128" x1="0" y1="0" x2="0" y2="1"><stop offset="0" stop-color="#3a48a0"/><stop offset=".392" stop-color="#3a48a0"/><stop offset=".611" stop-color="#37439d"/><stop offset=".716" stop-color="#38469f"/><stop offset=".754" stop-color="#3a5ec3"/><stop offset=".779" stop-color="#53a0e7"/><stop offset=".802" stop-color="#75cdee"/><stop offset=".808" stop-color="#75cdee"/><stop offset=".825" stop-color="#7cd2e7"/><stop offset=".842" stop-color="#75cdee"/><stop offset=".855" stop-color="#75cdee"/><stop offset=".885" stop-color="#4c93e4"/><stop offset=".896" stop-color="#3c66cb"/><stop offset=".91" stop-color="#3b50ab"/><stop offset=".992" stop-color="#3b50ab"/><stop offset="1" stop-color="#3a56b5"/></linearGradient><linearGradient id="g129" x1="0" y1="0" x2="0" y2="1"><stop offset="0" stop-color="#3a48a0"/><stop offset=".396" stop-color="#3a48a0"/><stop offset=".604" stop-color="#37439d"/><stop offset=".71" stop-color="#38469f"/><stop offset=".748" stop-color="#3a56b7"/><stop offset=".774" stop-color="#4071d2"/><stop offset=".804" stop-color="#4d94e4"/><stop offset=".817" stop-color="#4d94e4"/><stop offset=".834" stop-color="#539ee6"/><stop offset=".851" stop-color="#4d94e4"/><stop offset=".863" stop-color="#4d94e4"/><stop offset=".893" stop-color="#3d69cd"/><stop offset=".904" stop-color="#3a5dc2"/><stop offset=".918" stop-color="#3b52ae"/><stop offset=".992" stop-color="#3b52ae"/><stop offset="1" stop-color="#3a58b9"/></linearGradient><linearGradient id="g130" x1="0" y1="0" x2="0" y2="1"><stop offset="0" stop-color="#3a48a0"/><stop offset=".401" stop-color="#3a48a0"/><stop offset=".588" stop-color="#36439d"/><stop offset=".696" stop-color="#38459e"/><stop offset=".734" stop-color="#3a59bc"/><stop offset=".76" stop-color="#4585df"/><stop offset=".8" stop-color="#5db1eb"/><stop offset=".824" stop-color="#5db1eb"/><stop offset=".841" stop-color="#63bced"/><stop offset=".858" stop-color="#5db1eb"/><stop offset=".872" stop-color="#5db1eb"/><stop offset=".903" stop-color="#427bd9"/><stop offset=".914" stop-color="#3a58b9"/><stop offset=".928" stop-color="#38459e"/><stop offset=".991" stop-color="#38459e"/><stop offset="1" stop-color="#3b4ca4"/></linearGradient><linearGradient id="g131" x1="0" y1="0" x2="0" y2="1"><stop offset="0" stop-color="#3a48a0"/><stop offset=".402" stop-color="#3a48a0"/><stop offset=".575" stop-color="#37439d"/><stop offset=".683" stop-color="#38469f"/><stop offset=".722" stop-color="#3a59bc"/><stop offset=".747" stop-color="#4584df"/><stop offset=".791" stop-color="#5cafeb"/><stop offset=".817" stop-color="#5cafeb"/><stop offset=".834" stop-color="#62bbed"/><stop offset=".852" stop-color="#5cafeb"/><stop offset=".866" stop-color="#5cafeb"/><stop offset=".898" stop-color="#427ad9"/><stop offset=".91" stop-color="#3a5ec5"/><stop offset=".924" stop-color="#3b50ab"/><stop offset=".991" stop-color="#3b50ab"/><stop offset="1" stop-color="#3a56b6"/></linearGradient><linearGradient id="g132" x1="0" y1="0" x2="0" y2="1"><stop offset="0" stop-color="#39479f"/><stop offset=".4" stop-color="#39479f"/><stop offset=".564" stop-color="#36429c"/><stop offset=".671" stop-color="#37449e"/><stop offset=".71" stop-color="#3a56b6"/><stop offset=".736" stop-color="#4073d4"/><stop offset=".779" stop-color="#4f97e5"/><stop offset=".805" stop-color="#4f97e5"/><stop offset=".822" stop-color="#54a1e7"/><stop offset=".839" stop-color="#4f97e5"/><stop offset=".851" stop-color="#4f97e5"/><stop offset=".879" stop-color="#3e6bce"/><stop offset=".891" stop-color="#3a56b7"/><stop offset=".905" stop-color="#3a48a0"/><stop offset=".991" stop-color="#3a48a0"/><stop offset="1" stop-color="#3b4ea9"/></linearGradient><linearGradient id="g133" x1="0" y1="0" x2="0" y2="1"><stop offset="0" stop-color="#36429c"/><stop offset=".397" stop-color="#36429c"/><stop offset=".569" stop-color="#333d99"/><stop offset=".676" stop-color="#343f9b"/><stop offset=".714" stop-color="#3a57b8"/><stop offset=".74" stop-color="#498de2"/><stop offset=".774" stop-color="#63bbed"/><stop offset=".792" stop-color="#63bbed"/><stop offset=".809" stop-color="#6bc5ee"/><stop offset=".826" stop-color="#63bbed"/><stop offset=".834" stop-color="#63bbed"/><stop offset=".859" stop-color="#4482de"/><stop offset=".871" stop-color="#3a5abc"/><stop offset=".885" stop-color="#39469f"/><stop offset=".991" stop-color="#39469f"/><stop offset="1" stop-color="#3b4da6"/></linearGradient><linearGradient id="g134" x1="0" y1="0" x2="0" y2="1"><stop offset="0" stop-color="#3a48a0"/><stop offset=".394" stop-color="#3a48a0"/><stop offset=".588" stop-color="#37439d"/><stop offset=".694" stop-color="#38469f"/><stop offset=".732" stop-color="#3a5dc3"/><stop offset=".757" stop-color="#529ee6"/><stop offset=".787" stop-color="#73ccee"/><stop offset=".801" stop-color="#73ccee"/><stop offset=".818" stop-color="#7bd2ea"/><stop offset=".835" stop-color="#73ccee"/><stop offset=".84" stop-color="#73ccee"/><stop offset=".862" stop-color="#4c91e3"/><stop offset=".873" stop-color="#3a5ec5"/><stop offset=".887" stop-color="#3b4aa1"/><stop offset=".992" stop-color="#3b4aa1"/><stop offset="1" stop-color="#3b50ac"/></linearGradient><linearGradient id="g135" x1="0" y1="0" x2="0" y2="1"><stop offset="0" stop-color="#3b4da7"/><stop offset=".393" stop-color="#3b4da7"/><stop offset=".589" stop-color="#3a49a0"/><stop offset=".694" stop-color="#3b4ba3"/><stop offset=".732" stop-color="#3b63c9"/><stop offset=".758" stop-color="#54a0e7"/><stop offset=".795" stop-color="#75ceee"/><stop offset=".815" stop-color="#75ceee"/><stop offset=".832" stop-color="#7cd1e6"/><stop offset=".849" stop-color="#75ceee"/><stop offset=".851" stop-color="#75ceee"/><stop offset=".87" stop-color="#4d93e4"/><stop offset=".881" stop-color="#3a59bb"/><stop offset=".895" stop-color="#35409b"/><stop offset=".992" stop-color="#35409b"/><stop offset="1" stop-color="#3a48a0"/></linearGradient><linearGradient id="g136" x1="0" y1="0" x2="0" y2="1"><stop offset="0" stop-color="#3b4ba3"/><stop offset=".401" stop-color="#3b4ba3"/><stop offset=".621" stop-color="#39479f"/><stop offset=".729" stop-color="#3b49a1"/><stop offset=".767" stop-color="#3a5ec4"/><stop offset=".793" stop-color="#4d94e4"/><stop offset=".83" stop-color="#6ac3ee"/><stop offset=".849" stop-color="#6ac3ee"/><stop offset=".866" stop-color="#73ccee"/><stop offset=".883" stop-color="#6ac3ee"/><stop offset=".888" stop-color="#6ac3ee"/><stop offset=".911" stop-color="#4788e1"/><stop offset=".922" stop-color="#3a5cc1"/><stop offset=".937" stop-color="#3a49a0"/><stop offset=".991" stop-color="#3a49a0"/><stop offset="1" stop-color="#3b4faa"/></linearGradient><linearGradient id="g137" x1="0" y1="0" x2="0" y2="1"><stop offset="0" stop-color="#3b4ca4"/><stop offset=".408" stop-color="#3b4ca4"/><stop offset=".652" stop-color="#39479f"/><stop offset=".762" stop-color="#3b4aa1"/><stop offset=".801" stop-color="#3a5cc0"/><stop offset=".827" stop-color="#4584df"/><stop offset=".857" stop-color="#5cb0eb"/><stop offset=".869" stop-color="#5cb0eb"/><stop offset=".887" stop-color="#62bbed"/><stop offset=".904" stop-color="#5cb0eb"/><stop offset=".915" stop-color="#5cb0eb"/><stop offset=".944" stop-color="#427bd9"/><stop offset=".955" stop-color="#3a57b8"/><stop offset=".97" stop-color="#37449d"/><stop offset=".991" stop-color="#37449d"/><stop offset="1" stop-color="#3b4ba3"/></linearGradient><linearGradient id="g138" x1="0" y1="0" x2="0" y2="1"><stop offset="0" stop-color="#3b4da7"/><stop offset=".411" stop-color="#3b4da7"/><stop offset=".65" stop-color="#3b49a1"/><stop offset=".76" stop-color="#3b4ba3"/><stop offset=".8" stop-color="#3c65ca"/><stop offset=".826" stop-color="#57a7e9"/><stop offset=".853" stop-color="#7bd2eb"/><stop offset=".862" stop-color="#7bd2eb"/><stop offset=".88" stop-color="#7fd1dc"/><stop offset=".898" stop-color="#7bd2eb"/><stop offset=".91" stop-color="#7bd2eb"/><stop offset=".94" stop-color="#509ae5"/><stop offset=".952" stop-color="#3c65ca"/><stop offset=".966" stop-color="#3b4da7"/><stop offset=".991" stop-color="#3b4da7"/><stop offset="1" stop-color="#3b53b2"/></linearGradient><linearGradient id="g139" x1="0" y1="0" x2="0" y2="1"><stop offset="0" stop-color="#3b4faa"/><stop offset=".413" stop-color="#3b4faa"/><stop offset=".644" stop-color="#3b4ba3"/><stop offset=".754" stop-color="#3b4da6"/><stop offset=".794" stop-color="#3e6dcf"/><stop offset=".821" stop-color="#60b7ec"/><stop offset=".847" stop-color="#80d0d6"/><stop offset=".856" stop-color="#80d0d6"/><stop offset=".873" stop-color="#8ad2c0"/><stop offset=".891" stop-color="#80d0d6"/><stop offset=".899" stop-color="#80d0d6"/><stop offset=".925" stop-color="#58a8e9"/><stop offset=".937" stop-color="#3c65ca"/><stop offset=".952" stop-color="#3b4aa1"/><stop offset=".991" stop-color="#3b4aa1"/><stop offset="1" stop-color="#3b50ac"/></linearGradient><linearGradient id="g140" x1="0" y1="0" x2="0" y2="1"><stop offset="0" stop-color="#3b4ea9"/><stop offset=".414" stop-color="#3b4ea9"/><stop offset=".626" stop-color="#3b4aa2"/><stop offset=".736" stop-color="#3b4ca5"/><stop offset=".776" stop-color="#3e6ccf"/><stop offset=".803" stop-color="#60b7ec"/><stop offset=".833" stop-color="#80d0d6"/><stop offset=".846" stop-color="#80d0d6"/><stop offset=".864" stop-color="#8ad2c0"/><stop offset=".882" stop-color="#80d0d6"/><stop offset=".887" stop-color="#80d0d6"/><stop offset=".91" stop-color="#58a8e9"/><stop offset=".922" stop-color="#3f6ed0"/><stop offset=".937" stop-color="#3b50ab"/><stop offset=".991" stop-color="#3b50ab"/><stop offset="1" stop-color="#3a56b6"/></linearGradient><linearGradient id="g141" x1="0" y1="0" x2="0" y2="1"><stop offset="0" stop-color="#3b4ba2"/><stop offset=".414" stop-color="#3b4ba2"/><stop offset=".635" stop-color="#38469f"/><stop offset=".746" stop-color="#3a48a0"/><stop offset=".786" stop-color="#3a59bb"/><stop offset=".813" stop-color="#4177d6"/><stop offset=".841" stop-color="#529de6"/><stop offset=".852" stop-color="#529de6"/><stop offset=".87" stop-color="#57a7e8"/><stop offset=".888" stop-color="#529de6"/><stop offset=".892" stop-color="#529de6"/><stop offset=".915" stop-color="#3f6ed0"/><stop offset=".926" stop-color="#3a5dc2"/><stop offset=".941" stop-color="#3b50ac"/><stop offset=".991" stop-color="#3b50ac"/><stop offset="1" stop-color="#3a56b7"/></linearGradient><linearGradient id="g142" x1="0" y1="0" x2="0" y2="1"><stop offset="0" stop-color="#39469f"/><stop offset=".415" stop-color="#39469f"/><stop offset=".659" stop-color="#36419c"/><stop offset=".77" stop-color="#37449d"/><stop offset=".81" stop-color="#3b52b0"/><stop offset=".837" stop-color="#3a60c7"/><stop offset=".857" stop-color="#437cda"/><stop offset=".859" stop-color="#437cda"/><stop offset=".877" stop-color="#4584df"/><stop offset=".895" stop-color="#437cda"/><stop offset=".899" stop-color="#437cda"/><stop offset=".921" stop-color="#3a5cc1"/><stop offset=".933" stop-color="#3b52af"/><stop offset=".947" stop-color="#39469f"/><stop offset=".991" stop-color="#39469f"/><stop offset="1" stop-color="#3b4da6"/></linearGradient><linearGradient id="g143" x1="0" y1="0" x2="0" y2="1"><stop offset="0" stop-color="#37449d"/><stop offset=".416" stop-color="#37449d"/><stop offset=".664" stop-color="#343f9a"/><stop offset=".775" stop-color="#35419c"/><stop offset=".815" stop-color="#3b50ac"/><stop offset=".842" stop-color="#3a5ec4"/><stop offset=".863" stop-color="#4278d7"/><stop offset=".865" stop-color="#4278d7"/><stop offset=".883" stop-color="#447fdc"/><stop offset=".901" stop-color="#4278d7"/><stop offset=".91" stop-color="#4278d7"/><stop offset=".937" stop-color="#3a5bbe"/><stop offset=".949" stop-color="#3b51ae"/><stop offset=".964" stop-color="#38469e"/><stop offset=".991" stop-color="#38469e"/><stop offset="1" stop-color="#3b4ca5"/></linearGradient><linearGradient id="g144" x1="0" y1="0" x2="0" y2="1"><stop offset="0" stop-color="#38469f"/><stop offset=".414" stop-color="#38469f"/><stop offset=".657" stop-color="#35419c"/><stop offset=".767" stop-color="#37439d"/><stop offset=".807" stop-color="#3b52ae"/><stop offset=".834" stop-color="#3a5ec5"/><stop offset=".858" stop-color="#4279d8"/><stop offset=".864" stop-color="#4279d8"/><stop offset=".882" stop-color="#4480dc"/><stop offset=".9" stop-color="#4279d8"/><stop offset=".914" stop-color="#4279d8"/><stop offset=".945" stop-color="#3a5bbf"/><stop offset=".957" stop-color="#3a59bb"/><stop offset=".972" stop-color="#3b51ad"/><stop offset=".991" stop-color="#3b51ad"/><stop offset="1" stop-color="#3a57b8"/></linearGradient><linearGradient id="g145" x1="0" y1="0" x2="0" y2="1"><stop offset="0" stop-color="#39469f"/><stop offset=".408" stop-color="#39469f"/><stop offset=".628" stop-color="#35419c"/><stop offset=".737" stop-color="#37449d"/><stop offset=".777" stop-color="#3c65ca"/><stop offset=".803" stop-color="#6ac4ee"/><stop offset=".836" stop-color="#8ed2b8"/><stop offset=".852" stop-color="#8ed2b8"/><stop offset=".869" stop-color="#9cd59e"/><stop offset=".887" stop-color="#8ed2b8"/><stop offset=".9" stop-color="#8ed2b8"/><stop offset=".931" stop-color="#60b7ec"/><stop offset=".943" stop-color="#3d6acd"/><stop offset=".958" stop-color="#3b4aa1"/><stop offset=".991" stop-color="#3b4aa1"/><stop offset="1" stop-color="#3b50ac"/></linearGradient><linearGradient id="g146" x1="0" y1="0" x2="0" y2="1"><stop offset="0" stop-color="#38459e"/><stop offset=".404" stop-color="#38459e"/><stop offset=".61" stop-color="#35409b"/><stop offset=".718" stop-color="#37439d"/><stop offset=".757" stop-color="#3f6fd1"/><stop offset=".783" stop-color="#7ed1df"/><stop offset=".823" stop-color="#afd97e"/><stop offset=".845" stop-color="#afd97e"/><stop offset=".862" stop-color="#badb6f"/><stop offset=".879" stop-color="#afd97e"/><stop offset=".892" stop-color="#afd97e"/><stop offset=".922" stop-color="#77cfee"/><stop offset=".933" stop-color="#3d6ace"/><stop offset=".948" stop-color="#36429c"/><stop offset=".991" stop-color="#36429c"/><stop offset="1" stop-color="#3b49a1"/></linearGradient><linearGradient id="g147" x1="0" y1="0" x2="0" y2="1"><stop offset="0" stop-color="#39479f"/><stop offset=".413" stop-color="#39479f"/><stop offset=".619" stop-color="#36429c"/><stop offset=".73" stop-color="#38459e"/><stop offset=".77" stop-color="#3c66cb"/><stop offset=".796" stop-color="#6ac4ee"/><stop offset=".838" stop-color="#8ed2b8"/><stop offset=".862" stop-color="#8ed2b8"/><stop offset=".88" stop-color="#9cd59e"/><stop offset=".897" stop-color="#8ed2b8"/><stop offset=".908" stop-color="#8ed2b8"/><stop offset=".936" stop-color="#60b7ec"/><stop offset=".947" stop-color="#3a5fc6"/><stop offset=".962" stop-color="#35419c"/><stop offset=".991" stop-color="#35419c"/><stop offset="1" stop-color="#3a48a0"/></linearGradient><linearGradient id="g148" x1="0" y1="0" x2="0" y2="1"><stop offset="0" stop-color="#3a49a0"/><stop offset=".422" stop-color="#3a49a0"/><stop offset=".664" stop-color="#37449d"/><stop offset=".777" stop-color="#39469f"/><stop offset=".817" stop-color="#3a56b6"/><stop offset=".844" stop-color="#3f6ed0"/><stop offset=".875" stop-color="#4b90e3"/><stop offset=".888" stop-color="#4b90e3"/><stop offset=".906" stop-color="#509ae5"/><stop offset=".924" stop-color="#4b90e3"/><stop offset=".931" stop-color="#4b90e3"/><stop offset=".956" stop-color="#3c66cb"/><stop offset=".968" stop-color="#3a5cc1"/><stop offset=".983" stop-color="#3b52af"/><stop offset=".991" stop-color="#3b52af"/><stop offset="1" stop-color="#3a58b9"/></linearGradient><linearGradient id="g149" x1="0" y1="0" x2="0" y2="1"><stop offset="0" stop-color="#3b4aa1"/><stop offset=".418" stop-color="#3b4aa1"/><stop offset=".701" stop-color="#38459e"/><stop offset=".813" stop-color="#3948a0"/><stop offset=".853" stop-color="#3d6bce"/><stop offset=".88" stop-color="#6cc5ee"/><stop offset=".892" stop-color="#90d3b4"/><stop offset=".892" stop-color="#90d3b4"/><stop offset=".905" stop-color="#9ed699"/><stop offset=".923" stop-color="#90d3b4"/><stop offset=".928" stop-color="#90d3b4"/><stop offset=".951" stop-color="#61b8ed"/><stop offset=".963" stop-color="#3e6ccf"/><stop offset=".978" stop-color="#3b4ba3"/><stop offset=".991" stop-color="#3b4ba3"/><stop offset="1" stop-color="#3b51ae"/></linearGradient><linearGradient id="g150" x1="0" y1="0" x2="0" y2="1"><stop offset="0" stop-color="#39469f"/><stop offset=".413" stop-color="#39469f"/><stop offset=".668" stop-color="#35419c"/><stop offset=".779" stop-color="#37449d"/><stop offset=".819" stop-color="#3a5ec5"/><stop offset=".845" stop-color="#5baeea"/><stop offset=".874" stop-color="#7dd1e1"/><stop offset=".885" stop-color="#7dd1e1"/><stop offset=".903" stop-color="#81d0d2"/><stop offset=".921" stop-color="#7dd1e1"/><stop offset=".926" stop-color="#7dd1e1"/><stop offset=".949" stop-color="#54a1e7"/><stop offset=".961" stop-color="#3a5cc0"/><stop offset=".976" stop-color="#35419c"/><stop offset=".991" stop-color="#35419c"/><stop offset="1" stop-color="#3a49a0"/></linearGradient><linearGradient id="g151" x1="0" y1="0" x2="0" y2="1"><stop offset="0" stop-color="#37449d"/><stop offset=".411" stop-color="#37449d"/><stop offset=".642" stop-color="#343f9a"/><stop offset=".752" stop-color="#35419c"/><stop offset=".791" stop-color="#3a55b4"/><stop offset=".818" stop-color="#4176d5"/><stop offset=".859" stop-color="#519be6"/><stop offset=".882" stop-color="#519be6"/><stop offset=".9" stop-color="#56a5e8"/><stop offset=".918" stop-color="#519be6"/><stop offset=".925" stop-color="#519be6"/><stop offset=".949" stop-color="#3e6dd0"/><stop offset=".961" stop-color="#3a58ba"/><stop offset=".976" stop-color="#3b4aa1"/><stop offset=".991" stop-color="#3b4aa1"/><stop offset="1" stop-color="#3b50ac"/></linearGradient><linearGradient id="g152" x1="0" y1="0" x2="0" y2="1"><stop offset="0" stop-color="#3b49a1"/><stop offset=".41" stop-color="#3b49a1"/><stop offset=".63" stop-color="#37449e"/><stop offset=".74" stop-color="#39479f"/><stop offset=".78" stop-color="#3a5ec3"/><stop offset=".806" stop-color="#529ce6"/><stop offset=".849" stop-color="#71caee"/><stop offset=".874" stop-color="#71caee"/><stop offset=".892" stop-color="#7bd2ec"/><stop offset=".909" stop-color="#71caee"/><stop offset=".922" stop-color="#71caee"/><stop offset=".951" stop-color="#4b90e3"/><stop offset=".963" stop-color="#3a5ec4"/><stop offset=".977" stop-color="#3b4aa1"/><stop offset=".991" stop-color="#3b4aa1"/><stop offset="1" stop-color="#3b50ac"/></linearGradient><linearGradient id="g153" x1="0" y1="0" x2="0" y2="1"><stop offset="0" stop-color="#3a48a0"/><stop offset=".41" stop-color="#3a48a0"/><stop offset=".635" stop-color="#37439d"/><stop offset=".745" stop-color="#38469f"/><stop offset=".784" stop-color="#3a5ec3"/><stop offset=".811" stop-color="#53a0e7"/><stop offset=".849" stop-color="#75cdee"/><stop offset=".87" stop-color="#75cdee"/><stop offset=".888" stop-color="#7cd2e7"/><stop offset=".905" stop-color="#75cdee"/><stop offset=".922" stop-color="#75cdee"/><stop offset=".955" stop-color="#4c93e4"/><stop offset=".967" stop-color="#3a5ec4"/><stop offset=".982" stop-color="#3a49a0"/><stop offset=".991" stop-color="#3a49a0"/><stop offset="1" stop-color="#3b4faa"/></linearGradient><linearGradient id="g154" x1="0" y1="0" x2="0" y2="1"><stop offset="0" stop-color="#38449e"/><stop offset=".412" stop-color="#38449e"/><stop offset=".651" stop-color="#343f9b"/><stop offset=".761" stop-color="#36429c"/><stop offset=".801" stop-color="#3b62c8"/><stop offset=".828" stop-color="#67c1ee"/><stop offset=".857" stop-color="#8ad2c0"/><stop offset=".869" stop-color="#8ad2c0"/><stop offset=".886" stop-color="#97d4a7"/><stop offset=".904" stop-color="#8ad2c0"/><stop offset=".915" stop-color="#8ad2c0"/><stop offset=".944" stop-color="#5eb3eb"/><stop offset=".956" stop-color="#4074d4"/><stop offset=".971" stop-color="#3b51ae"/><stop offset=".991" stop-color="#3b51ae"/><stop offset="1" stop-color="#3a57b8"/></linearGradient><linearGradient id="g155" x1="0" y1="0" x2="0" y2="1"><stop offset="0" stop-color="#3a49a0"/><stop offset=".412" stop-color="#3a49a0"/><stop offset=".666" stop-color="#37449d"/><stop offset=".776" stop-color="#39469f"/><stop offset=".816" stop-color="#3e6dcf"/><stop offset=".842" stop-color="#76ceee"/><stop offset=".863" stop-color="#9ed699"/><stop offset=".865" stop-color="#9ed699"/><stop offset=".883" stop-color="#aad885"/><stop offset=".9" stop-color="#9ed699"/><stop offset=".907" stop-color="#9ed699"/><stop offset=".931" stop-color="#69c2ee"/><stop offset=".943" stop-color="#427ad8"/><stop offset=".957" stop-color="#3b51ae"/><stop offset=".991" stop-color="#3b51ae"/><stop offset="1" stop-color="#3a57b8"/></linearGradient><linearGradient id="g156" x1="0" y1="0" x2="0" y2="1"><stop offset="0" stop-color="#3b4ba2"/><stop offset=".412" stop-color="#3b4ba2"/><stop offset=".669" stop-color="#38469e"/><stop offset=".779" stop-color="#3a48a0"/><stop offset=".819" stop-color="#3a55b5"/><stop offset=".846" stop-color="#3b63c9"/><stop offset=".861" stop-color="#4481dd"/><stop offset=".861" stop-color="#4481dd"/><stop offset=".876" stop-color="#4789e1"/><stop offset=".894" stop-color="#4481dd"/><stop offset=".902" stop-color="#4481dd"/><stop offset=".929" stop-color="#3a5ec4"/><stop offset=".94" stop-color="#3b51ad"/><stop offset=".955" stop-color="#36429d"/><stop offset=".991" stop-color="#36429d"/><stop offset="1" stop-color="#3b4aa1"/></linearGradient><linearGradient id="g157" x1="0" y1="0" x2="0" y2="1"><stop offset="0" stop-color="#3b4aa1"/><stop offset=".412" stop-color="#3b4aa1"/><stop offset=".632" stop-color="#38459e"/><stop offset=".742" stop-color="#39479f"/><stop offset=".782" stop-color="#3a58b9"/><stop offset=".808" stop-color="#4175d5"/><stop offset=".839" stop-color="#509ae5"/><stop offset=".852" stop-color="#509ae5"/><stop offset=".87" stop-color="#56a4e8"/><stop offset=".887" stop-color="#509ae5"/><stop offset=".899" stop-color="#509ae5"/><stop offset=".928" stop-color="#3e6dcf"/><stop offset=".94" stop-color="#3b54b3"/><stop offset=".955" stop-color="#37439d"/><stop offset=".991" stop-color="#37439d"/><stop offset="1" stop-color="#3b4aa2"/></linearGradient><linearGradient id="g158" x1="0" y1="0" x2="0" y2="1"><stop offset="0" stop-color="#3a49a1"/><stop offset=".411" stop-color="#3a49a1"/><stop offset=".624" stop-color="#37449e"/><stop offset=".734" stop-color="#39479f"/><stop offset=".774" stop-color="#3a5dc3"/><stop offset=".8" stop-color="#519be6"/><stop offset=".833" stop-color="#70c9ee"/><stop offset=".849" stop-color="#70c9ee"/><stop offset=".867" stop-color="#7ad2ee"/><stop offset=".884" stop-color="#70c9ee"/><stop offset=".894" stop-color="#70c9ee"/><stop offset=".922" stop-color="#4a8ee3"/><stop offset=".933" stop-color="#3a5dc2"/><stop offset=".948" stop-color="#3a48a0"/><stop offset=".991" stop-color="#3a48a0"/><stop offset="1" stop-color="#3b4fa9"/></linearGradient><linearGradient id="g159" x1="0" y1="0" x2="0" y2="1"><stop offset="0" stop-color="#3a49a0"/><stop offset=".41" stop-color="#3a49a0"/><stop offset=".649" stop-color="#37449d"/><stop offset=".758" stop-color="#39469f"/><stop offset=".798" stop-color="#3b61c8"/><stop offset=".824" stop-color="#5cb0eb"/><stop offset=".846" stop-color="#7ed1df"/><stop offset=".851" stop-color="#7ed1df"/><stop offset=".869" stop-color="#82d0d0"/><stop offset=".886" stop-color="#7ed1df"/><stop offset=".892" stop-color="#7ed1df"/><stop offset=".915" stop-color="#55a2e7"/><stop offset=".927" stop-color="#3e6bce"/><stop offset=".942" stop-color="#3b4faa"/><stop offset=".991" stop-color="#3b4faa"/><stop offset="1" stop-color="#3a55b5"/></linearGradient><linearGradient id="g160" x1="0" y1="0" x2="0" y2="1"><stop offset="0" stop-color="#3b4aa1"/><stop offset=".413" stop-color="#3b4aa1"/><stop offset=".647" stop-color="#37449e"/><stop offset=".758" stop-color="#39479f"/><stop offset=".797" stop-color="#3a56b6"/><stop offset=".824" stop-color="#3d6acd"/><stop offset=".852" stop-color="#4789e2"/><stop offset=".862" stop-color="#4789e2"/><stop offset=".88" stop-color="#4c92e4"/><stop offset=".897" stop-color="#4789e2"/><stop offset=".903" stop-color="#4789e2"/><stop offset=".927" stop-color="#3b62c8"/><stop offset=".939" stop-color="#3a57b8"/><stop offset=".954" stop-color="#3b4ca4"/><stop offset=".991" stop-color="#3b4ca4"/><stop offset="1" stop-color="#3b52af"/></linearGradient><linearGradient id="g161" x1="0" y1="0" x2="0" y2="1"><stop offset="0" stop-color="#3a49a0"/><stop offset=".416" stop-color="#3a49a0"/><stop offset=".64" stop-color="#37449d"/><stop offset=".751" stop-color="#39469f"/><stop offset=".792" stop-color="#3a57b7"/><stop offset=".818" stop-color="#3f71d2"/><stop offset=".855" stop-color="#4d93e4"/><stop offset=".874" stop-color="#4d93e4"/><stop offset=".891" stop-color="#529de6"/><stop offset=".909" stop-color="#4d93e4"/><stop offset=".92" stop-color="#4d93e4"/><stop offset=".949" stop-color="#3d69cc"/><stop offset=".961" stop-color="#3a5abd"/><stop offset=".976" stop-color="#3b4ea7"/><stop offset=".991" stop-color="#3b4ea7"/><stop offset="1" stop-color="#3b54b2"/></linearGradient><linearGradient id="g162" x1="0" y1="0" x2="0" y2="1"><stop offset="0" stop-color="#3a48a0"/><stop offset=".417" stop-color="#3a48a0"/><stop offset=".655" stop-color="#36439d"/><stop offset=".767" stop-color="#38459e"/><stop offset=".807" stop-color="#3a5abd"/><stop offset=".834" stop-color="#488ae2"/><stop offset=".864" stop-color="#61b8ed"/><stop offset=".876" stop-color="#61b8ed"/><stop offset=".894" stop-color="#68c2ee"/><stop offset=".912" stop-color="#61b8ed"/><stop offset=".925" stop-color="#61b8ed"/><stop offset=".957" stop-color="#4480dc"/><stop offset=".969" stop-color="#3a5cc1"/><stop offset=".983" stop-color="#3b4ba3"/><stop offset=".991" stop-color="#3b4ba3"/><stop offset="1" stop-color="#3b51ae"/></linearGradient><linearGradient id="g163" x1="0" y1="0" x2="0" y2="1"><stop offset="0" stop-color="#3a48a0"/><stop offset=".418" stop-color="#3a48a0"/><stop offset=".659" stop-color="#36439d"/><stop offset=".771" stop-color="#38459e"/><stop offset=".811" stop-color="#3d6acd"/><stop offset=".838" stop-color="#71c9ee"/><stop offset=".866" stop-color="#97d4a7"/><stop offset=".877" stop-color="#97d4a7"/><stop offset=".895" stop-color="#82d0d1"/><stop offset=".913" stop-color="#97d4a7"/><stop offset=".921" stop-color="#97d4a7"/><stop offset=".947" stop-color="#64beee"/><stop offset=".959" stop-color="#3c65ca"/><stop offset=".974" stop-color="#37449e"/><stop offset=".991" stop-color="#37449e"/><stop offset="1" stop-color="#3b4ba3"/></linearGradient><linearGradient id="g164" x1="0" y1="0" x2="0" y2="1"><stop offset="0" stop-color="#39479f"/><stop offset=".418" stop-color="#39479f"/><stop offset=".645" stop-color="#36419c"/><stop offset=".757" stop-color="#37449e"/><stop offset=".797" stop-color="#3f70d2"/><stop offset=".824" stop-color="#7ed1df"/><stop offset=".859" stop-color="#afd97e"/><stop offset=".876" stop-color="#b8da72"/><stop offset=".894" stop-color="#f0e337"/><stop offset=".912" stop-color="#b8da72"/><stop offset=".916" stop-color="#afd97e"/><stop offset=".937" stop-color="#77cfee"/><stop offset=".949" stop-color="#437cda"/><stop offset=".964" stop-color="#3b4faa"/><stop offset=".991" stop-color="#3b4faa"/><stop offset="1" stop-color="#3a55b5"/></linearGradient><linearGradient id="g165" x1="0" y1="0" x2="0" y2="1"><stop offset="0" stop-color="#37449e"/><stop offset=".417" stop-color="#37449e"/><stop offset=".654" stop-color="#343f9b"/><stop offset=".765" stop-color="#36419c"/><stop offset=".806" stop-color="#3e6dcf"/><stop offset=".832" stop-color="#7ed1df"/><stop offset=".863" stop-color="#afd97e"/><stop offset=".875" stop-color="#f6bd2d"/><stop offset=".893" stop-color="#e14822"/><stop offset=".911" stop-color="#f6bd2d"/><stop offset=".918" stop-color="#afd97e"/><stop offset=".942" stop-color="#77cfee"/><stop offset=".954" stop-color="#3d68cc"/><stop offset=".969" stop-color="#35409b"/><stop offset=".991" stop-color="#35409b"/><stop offset="1" stop-color="#3a48a0"/></linearGradient><linearGradient id="g166" x1="0" y1="0" x2="0" y2="1"><stop offset="0" stop-color="#39479f"/><stop offset=".417" stop-color="#39479f"/><stop offset=".675" stop-color="#36429c"/><stop offset=".787" stop-color="#37449e"/><stop offset=".827" stop-color="#3f71d2"/><stop offset=".854" stop-color="#7ed1df"/><stop offset=".874" stop-color="#afd97e"/><stop offset=".878" stop-color="#cbde58"/><stop offset=".895" stop-color="#f6cd30"/><stop offset=".913" stop-color="#cbde58"/><stop offset=".923" stop-color="#afd97e"/><stop offset=".95" stop-color="#77cfee"/><stop offset=".962" stop-color="#4279d8"/><stop offset=".977" stop-color="#3b4da7"/><stop offset=".991" stop-color="#3b4da7"/><stop offset="1" stop-color="#3b53b1"/></linearGradient><linearGradient id="g167" x1="0" y1="0" x2="0" y2="1"><stop offset="0" stop-color="#3b4ba2"/><stop offset=".418" stop-color="#3b4ba2"/><stop offset=".668" stop-color="#38469f"/><stop offset=".78" stop-color="#3a48a0"/><stop offset=".821" stop-color="#4176d5"/><stop offset=".848" stop-color="#7ed1df"/><stop offset=".874" stop-color="#afd97e"/><stop offset=".882" stop-color="#afd97e"/><stop offset=".9" stop-color="#badb6f"/><stop offset=".918" stop-color="#afd97e"/><stop offset=".925" stop-color="#afd97e"/><stop offset=".95" stop-color="#77cfee"/><stop offset=".962" stop-color="#3e6dcf"/><stop offset=".976" stop-color="#37449d"/><stop offset=".991" stop-color="#37449d"/><stop offset="1" stop-color="#3b4ba3"/></linearGradient><linearGradient id="g168" x1="0" y1="0" x2="0" y2="1"><stop offset="0" stop-color="#3b4ea9"/><stop offset=".419" stop-color="#3b4ea9"/><stop offset=".664" stop-color="#3b4aa2"/><stop offset=".776" stop-color="#3b4ca5"/><stop offset=".816" stop-color="#427bd9"/><stop offset=".843" stop-color="#7ed1df"/><stop offset=".874" stop-color="#afd97e"/><stop offset=".886" stop-color="#afd97e"/><stop offset=".904" stop-color="#badb6f"/><stop offset=".922" stop-color="#afd97e"/><stop offset=".925" stop-color="#afd97e"/><stop offset=".947" stop-color="#77cfee"/><stop offset=".958" stop-color="#4074d4"/><stop offset=".973" stop-color="#3b49a1"/><stop offset=".991" stop-color="#3b49a1"/><stop offset="1" stop-color="#3b50ab"/></linearGradient><linearGradient id="g169" x1="0" y1="0" x2="0" y2="1"><stop offset="0" stop-color="#3b50ab"/><stop offset=".418" stop-color="#3b50ab"/><stop offset=".653" stop-color="#3b4ca4"/><stop offset=".765" stop-color="#3b4ea8"/><stop offset=".806" stop-color="#437cd9"/><stop offset=".833" stop-color="#7cd1e5"/><stop offset=".864" stop-color="#abd883"/><stop offset=".878" stop-color="#bcdb6c"/><stop offset=".896" stop-color="#f2de35"/><stop offset=".914" stop-color="#bcdb6c"/><stop offset=".919" stop-color="#abd883"/><stop offset=".941" stop-color="#73ccee"/><stop offset=".953" stop-color="#437fdb"/><stop offset=".968" stop-color="#3b52ae"/><stop offset=".991" stop-color="#3b52ae"/><stop offset="1" stop-color="#3a58b9"/></linearGradient><linearGradient id="g170" x1="0" y1="0" x2="0" y2="1"><stop offset="0" stop-color="#3b50ab"/><stop offset=".417" stop-color="#3b50ab"/><stop offset=".641" stop-color="#3b4ca4"/><stop offset=".753" stop-color="#3b4ea8"/><stop offset=".793" stop-color="#437dda"/><stop offset=".82" stop-color="#7ed1e0"/><stop offset=".854" stop-color="#afd97f"/><stop offset=".87" stop-color="#afd97f"/><stop offset=".888" stop-color="#badb70"/><stop offset=".906" stop-color="#afd97f"/><stop offset=".914" stop-color="#afd97f"/><stop offset=".94" stop-color="#76cfee"/><stop offset=".952" stop-color="#4175d5"/><stop offset=".967" stop-color="#3b4ba2"/><stop offset=".991" stop-color="#3b4ba2"/><stop offset="1" stop-color="#3b51ad"/></linearGradient><linearGradient id="g171" x1="0" y1="0" x2="0" y2="1"><stop offset="0" stop-color="#3b4fa9"/><stop offset=".416" stop-color="#3b4fa9"/><stop offset=".627" stop-color="#3b4ba2"/><stop offset=".739" stop-color="#3b4da6"/><stop offset=".779" stop-color="#437cd9"/><stop offset=".805" stop-color="#7ed1df"/><stop offset=".842" stop-color="#afd97e"/><stop offset=".86" stop-color="#afd97e"/><stop offset=".878" stop-color="#badb6f"/><stop offset=".896" stop-color="#afd97e"/><stop offset=".907" stop-color="#afd97e"/><stop offset=".937" stop-color="#77cfee"/><stop offset=".949" stop-color="#3d69cd"/><stop offset=".964" stop-color="#35419c"/><stop offset=".991" stop-color="#35419c"/><stop offset="1" stop-color="#3a49a0"/></linearGradient><linearGradient id="g172" x1="0" y1="0" x2="0" y2="1"><stop offset="0" stop-color="#3b4da7"/><stop offset=".415" stop-color="#3b4da7"/><stop offset=".643" stop-color="#3b49a1"/><stop offset=".754" stop-color="#3b4ba4"/><stop offset=".794" stop-color="#4278d7"/><stop offset=".821" stop-color="#7dd1e4"/><stop offset=".848" stop-color="#abd883"/><stop offset=".857" stop-color="#cadd59"/><stop offset=".875" stop-color="#f6ce30"/><stop offset=".893" stop-color="#cadd59"/><stop offset=".906" stop-color="#abd883"/><stop offset=".938" stop-color="#73ccee"/><stop offset=".95" stop-color="#3f71d2"/><stop offset=".964" stop-color="#3a49a0"/><stop offset=".991" stop-color="#3a49a0"/><stop offset="1" stop-color="#3b4faa"/></linearGradient><linearGradient id="g173" x1="0" y1="0" x2="0" y2="1"><stop offset="0" stop-color="#3b4ca5"/><stop offset=".415" stop-color="#3b4ca5"/><stop offset=".66" stop-color="#3a48a0"/><stop offset=".771" stop-color="#3b4aa2"/><stop offset=".811" stop-color="#4176d5"/><stop offset=".838" stop-color="#7cd1e6"/><stop offset=".859" stop-color="#aad885"/><stop offset=".864" stop-color="#f39c29"/><stop offset=".881" stop-color="#c12a1e"/><stop offset=".899" stop-color="#f39c29"/><stop offset=".913" stop-color="#aad885"/><stop offset=".945" stop-color="#72cbee"/><stop offset=".956" stop-color="#4176d6"/><stop offset=".971" stop-color="#3b4da6"/><stop offset=".991" stop-color="#3b4da6"/><stop offset="1" stop-color="#3b53b0"/></linearGradient><linearGradient id="g174" x1="0" y1="0" x2="0" y2="1"><stop offset="0" stop-color="#3b4aa1"/><stop offset=".416" stop-color="#3b4aa1"/><stop offset=".629" stop-color="#38459e"/><stop offset=".74" stop-color="#39479f"/><stop offset=".78" stop-color="#3e6dd0"/><stop offset=".807" stop-color="#73ccee"/><stop offset=".848" stop-color="#9bd5a0"/><stop offset=".871" stop-color="#dee146"/><stop offset=".889" stop-color="#f5b12b"/><stop offset=".907" stop-color="#dee146"/><stop offset=".915" stop-color="#9bd5a0"/><stop offset=".941" stop-color="#66c0ee"/><stop offset=".953" stop-color="#3b62c8"/><stop offset=".968" stop-color="#35419c"/><stop offset=".991" stop-color="#35419c"/><stop offset="1" stop-color="#3a49a0"/></linearGradient><linearGradient id="g175" x1="0" y1="0" x2="0" y2="1"><stop offset="0" stop-color="#3a49a0"/><stop offset=".417" stop-color="#3a49a0"/><stop offset=".635" stop-color="#37449d"/><stop offset=".747" stop-color="#39469f"/><stop offset=".787" stop-color="#3e6bce"/><stop offset=".814" stop-color="#71c9ee"/><stop offset=".857" stop-color="#97d4a7"/><stop offset=".882" stop-color="#97d4a7"/><stop offset=".9" stop-color="#9fd698"/><stop offset=".917" stop-color="#97d4a7"/><stop offset=".92" stop-color="#97d4a7"/><stop offset=".941" stop-color="#64beee"/><stop offset=".953" stop-color="#3c66cb"/><stop offset=".968" stop-color="#38459e"/><stop offset=".991" stop-color="#38459e"/><stop offset="1" stop-color="#3b4ca5"/></linearGradient><linearGradient id="g176" x1="0" y1="0" x2="0" y2="1"><stop offset="0" stop-color="#3b4da6"/><stop offset=".42" stop-color="#3b4da6"/><stop offset=".685" stop-color="#3a49a0"/><stop offset=".798" stop-color="#3b4ba3"/><stop offset=".839" stop-color="#3a5bbf"/><stop offset=".866" stop-color="#437dda"/><stop offset=".892" stop-color="#57a6e8"/><stop offset=".9" stop-color="#57a6e8"/><stop offset=".918" stop-color="#5db1eb"/><stop offset=".936" stop-color="#57a6e8"/><stop offset=".94" stop-color="#57a6e8"/><stop offset=".962" stop-color="#4074d4"/><stop offset=".974" stop-color="#3b54b2"/><stop offset=".989" stop-color="#35409b"/><stop offset=".991" stop-color="#35409b"/><stop offset="1" stop-color="#3a48a0"/></linearGradient><linearGradient id="g177" x1="0" y1="0" x2="0" y2="1"><stop offset="0" stop-color="#3b4da5"/><stop offset=".421" stop-color="#3b4da5"/><stop offset=".704" stop-color="#3a48a0"/><stop offset=".817" stop-color="#3b4ba2"/><stop offset=".857" stop-color="#3f70d2"/><stop offset=".884" stop-color="#71c9ee"/><stop offset=".907" stop-color="#97d4a7"/><stop offset=".911" stop-color="#97d4a7"/><stop offset=".929" stop-color="#81d0d4"/><stop offset=".948" stop-color="#97d4a7"/><stop offset=".953" stop-color="#97d4a7"/><stop offset=".977" stop-color="#64beee"/><stop offset=".989" stop-color="#3e6dd0"/><stop offset="1" stop-color="#3b4ba2"/></linearGradient><linearGradient id="g178" x1="0" y1="0" x2="0" y2="1"><stop offset="0" stop-color="#3b4aa1"/><stop offset=".416" stop-color="#3b4aa1"/><stop offset=".707" stop-color="#38459e"/><stop offset=".818" stop-color="#39479f"/><stop offset=".858" stop-color="#3f6ed0"/><stop offset=".885" stop-color="#76ceee"/><stop offset=".908" stop-color="#9fd698"/><stop offset=".913" stop-color="#9fd698"/><stop offset=".931" stop-color="#acd882"/><stop offset=".948" stop-color="#9fd698"/><stop offset=".958" stop-color="#9fd698"/><stop offset=".984" stop-color="#69c3ee"/><stop offset=".996" stop-color="#3e6cce"/><stop offset="1" stop-color="#3948a0"/></linearGradient><linearGradient id="g179" x1="0" y1="0" x2="0" y2="1"><stop offset="0" stop-color="#3b4aa1"/><stop offset=".412" stop-color="#3b4aa1"/><stop offset=".707" stop-color="#38459e"/><stop offset=".817" stop-color="#39479f"/><stop offset=".857" stop-color="#3e6ccf"/><stop offset=".883" stop-color="#71c9ee"/><stop offset=".905" stop-color="#97d4a7"/><stop offset=".908" stop-color="#c9dd5a"/><stop offset=".926" stop-color="#f5cf31"/><stop offset=".944" stop-color="#c9dd5a"/><stop offset=".956" stop-color="#97d4a7"/><stop offset=".987" stop-color="#64beee"/><stop offset=".998" stop-color="#3e6ccf"/><stop offset="1" stop-color="#3b4aa1"/></linearGradient><linearGradient id="g180" x1="0" y1="0" x2="0" y2="1"><stop offset="0" stop-color="#3b4aa1"/><stop offset=".415" stop-color="#3b4aa1"/><stop offset=".709" stop-color="#37449e"/><stop offset=".82" stop-color="#39479f"/><stop offset=".86" stop-color="#4072d3"/><stop offset=".887" stop-color="#7cd1e6"/><stop offset=".906" stop-color="#aad885"/><stop offset=".907" stop-color="#aad885"/><stop offset=".925" stop-color="#bedb69"/><stop offset=".943" stop-color="#aad885"/><stop offset=".956" stop-color="#aad885"/><stop offset=".987" stop-color="#72cbee"/><stop offset=".999" stop-color="#3e6dd0"/><stop offset="1" stop-color="#38469f"/></linearGradient><linearGradient id="g181" x1="0" y1="0" x2="0" y2="1"><stop offset="0" stop-color="#3a49a0"/><stop offset=".418" stop-color="#3a49a0"/><stop offset=".716" stop-color="#37449d"/><stop offset=".828" stop-color="#39469f"/><stop offset=".868" stop-color="#4073d4"/><stop offset=".895" stop-color="#7ed1df"/><stop offset=".909" stop-color="#afd97e"/><stop offset=".909" stop-color="#afd97e"/><stop offset=".924" stop-color="#badb6f"/><stop offset=".942" stop-color="#afd97e"/><stop offset=".954" stop-color="#afd97e"/><stop offset=".984" stop-color="#77cfee"/><stop offset=".996" stop-color="#4278d7"/><stop offset="1" stop-color="#3b4da5"/></linearGradient><linearGradient id="g182" x1="0" y1="0" x2="0" y2="1"><stop offset="0" stop-color="#3b4aa1"/><stop offset=".422" stop-color="#3b4aa1"/><stop offset=".707" stop-color="#38459e"/><stop offset=".82" stop-color="#39479f"/><stop offset=".861" stop-color="#3d6acd"/><stop offset=".888" stop-color="#6ac4ee"/><stop offset=".907" stop-color="#8fd3b8"/><stop offset=".908" stop-color="#8fd3b8"/><stop offset=".926" stop-color="#9cd59d"/><stop offset=".944" stop-color="#8fd3b8"/><stop offset=".954" stop-color="#8fd3b8"/><stop offset=".983" stop-color="#60b7ec"/><stop offset=".995" stop-color="#3b62c8"/><stop offset="1" stop-color="#37439d"/></linearGradient><linearGradient id="g183" x1="0" y1="0" x2="0" y2="1"><stop offset="0" stop-color="#3b4aa1"/><stop offset=".426" stop-color="#3b4aa1"/><stop offset=".703" stop-color="#38459e"/><stop offset=".817" stop-color="#3948a0"/><stop offset=".858" stop-color="#3a5ec4"/><stop offset=".885" stop-color="#529ee6"/><stop offset=".914" stop-color="#73cbee"/><stop offset=".924" stop-color="#73cbee"/><stop offset=".942" stop-color="#7bd2ea"/><stop offset=".96" stop-color="#73cbee"/><stop offset=".969" stop-color="#73cbee"/><stop offset=".995" stop-color="#4b91e3"/><stop offset="1" stop-color="#3c67cb"/></linearGradient><linearGradient id="g184" x1="0" y1="0" x2="0" y2="1"><stop offset="0" stop-color="#3a49a0"/><stop offset=".426" stop-color="#3a49a0"/><stop offset=".692" stop-color="#37449d"/><stop offset=".806" stop-color="#39469f"/><stop offset=".847" stop-color="#4073d3"/><stop offset=".874" stop-color="#7ed1df"/><stop offset=".912" stop-color="#afd97e"/><stop offset=".931" stop-color="#afd97e"/><stop offset=".949" stop-color="#badb6f"/><stop offset=".967" stop-color="#afd97e"/><stop offset=".975" stop-color="#afd97e"/><stop offset="1" stop-color="#77cfee"/></linearGradient><linearGradient id="g185" x1="0" y1="0" x2="0" y2="1"><stop offset="0" stop-color="#3a49a0"/><stop offset=".425" stop-color="#3a49a0"/><stop offset=".685" stop-color="#37449d"/><stop offset=".799" stop-color="#39469f"/><stop offset=".84" stop-color="#3f6ed0"/><stop offset=".867" stop-color="#79d1ee"/><stop offset=".91" stop-color="#a3d790"/><stop offset=".935" stop-color="#c1dc66"/><stop offset=".953" stop-color="#f3d934"/><stop offset=".971" stop-color="#c1dc66"/><stop offset=".981" stop-color="#a3d790"/><stop offset="1" stop-color="#6cc5ee"/></linearGradient><linearGradient id="g186" x1="0" y1="0" x2="0" y2="1"><stop offset="0" stop-color="#3b4aa1"/><stop offset=".425" stop-color="#3b4aa1"/><stop offset=".696" stop-color="#38459e"/><stop offset=".809" stop-color="#39479f"/><stop offset=".85" stop-color="#3e6ccf"/><stop offset=".878" stop-color="#71c9ee"/><stop offset=".919" stop-color="#97d4a7"/><stop offset=".942" stop-color="#f5ae2b"/><stop offset=".961" stop-color="#d53320"/><stop offset=".979" stop-color="#f5ae2b"/><stop offset=".991" stop-color="#97d4a7"/><stop offset="1" stop-color="#64beee"/></linearGradient><linearGradient id="g187" x1="0" y1="0" x2="0" y2="1"><stop offset="0" stop-color="#39479f"/><stop offset=".426" stop-color="#39479f"/><stop offset=".722" stop-color="#36429c"/><stop offset=".836" stop-color="#38459e"/><stop offset=".877" stop-color="#3d69cd"/><stop offset=".905" stop-color="#71c9ee"/><stop offset=".938" stop-color="#97d4a7"/><stop offset=".953" stop-color="#d5df4f"/><stop offset=".971" stop-color="#f6bf2e"/><stop offset=".99" stop-color="#d5df4f"/><stop offset="1" stop-color="#97d4a7"/></linearGradient><linearGradient id="g188" x1="0" y1="0" x2="0" y2="1"><stop offset="0" stop-color="#39479f"/><stop offset=".427" stop-color="#39479f"/><stop offset=".757" stop-color="#36429c"/><stop offset=".871" stop-color="#37449e"/><stop offset=".912" stop-color="#3d68cc"/><stop offset=".94" stop-color="#71c9ee"/><stop offset=".96" stop-color="#97d4a7"/><stop offset=".961" stop-color="#97d4a7"/><stop offset=".98" stop-color="#94d4ac"/><stop offset=".998" stop-color="#97d4a7"/><stop offset="1" stop-color="#97d4a7"/></linearGradient><linearGradient id="g189" x1="0" y1="0" x2="0" y2="1"><stop offset="0" stop-color="#3a48a0"/><stop offset=".425" stop-color="#3a48a0"/><stop offset=".767" stop-color="#37439d"/><stop offset=".881" stop-color="#38469f"/><stop offset=".922" stop-color="#3d6ace"/><stop offset=".95" stop-color="#71c9ee"/><stop offset=".967" stop-color="#97d4a7"/><stop offset=".967" stop-color="#97d4a7"/><stop offset=".984" stop-color="#acd882"/><stop offset="1" stop-color="#97d4a7"/></linearGradient><linearGradient id="g190" x1="0" y1="0" x2="0" y2="1"><stop offset="0" stop-color="#3b4da6"/><stop offset=".424" stop-color="#3b4da6"/><stop offset=".753" stop-color="#3a49a0"/><stop offset=".867" stop-color="#3b4ba3"/><stop offset=".908" stop-color="#4279d8"/><stop offset=".935" stop-color="#7ed1df"/><stop offset=".952" stop-color="#afd97e"/><stop offset=".952" stop-color="#c9dd5a"/><stop offset=".968" stop-color="#f5cf31"/><stop offset=".987" stop-color="#c9dd5a"/><stop offset="1" stop-color="#afd97e"/></linearGradient><linearGradient id="g191" x1="0" y1="0" x2="0" y2="1"><stop offset="0" stop-color="#3b50ab"/><stop offset=".424" stop-color="#3b50ab"/><stop offset=".73" stop-color="#3b4ca4"/><stop offset=".844" stop-color="#3b4ea8"/><stop offset=".884" stop-color="#4178d7"/><stop offset=".912" stop-color="#77cfee"/><stop offset=".933" stop-color="#a0d695"/><stop offset=".937" stop-color="#a0d695"/><stop offset=".955" stop-color="#bedb69"/><stop offset=".973" stop-color="#a0d695"/><stop offset=".986" stop-color="#a0d695"/><stop offset="1" stop-color="#6ac4ee"/></linearGradient><linearGradient id="g192" x1="0" y1="0" x2="0" y2="1"><stop offset="0" stop-color="#3b4ba3"/><stop offset=".424" stop-color="#3b4ba3"/><stop offset=".7" stop-color="#39479f"/><stop offset=".814" stop-color="#3a49a1"/><stop offset=".855" stop-color="#4175d5"/><stop offset=".882" stop-color="#7dd1e3"/><stop offset=".912" stop-color="#acd882"/><stop offset=".923" stop-color="#acd882"/><stop offset=".941" stop-color="#b7da73"/><stop offset=".959" stop-color="#acd882"/><stop offset=".968" stop-color="#acd882"/><stop offset=".995" stop-color="#74cdee"/><stop offset="1" stop-color="#3f6fd1"/></linearGradient><linearGradient id="g193" x1="0" y1="0" x2="0" y2="1"><stop offset="0" stop-color="#3b49a1"/><stop offset=".424" stop-color="#3b49a1"/><stop offset=".666" stop-color="#37449e"/><stop offset=".779" stop-color="#39479f"/><stop offset=".82" stop-color="#3e6ed0"/><stop offset=".848" stop-color="#75ceee"/><stop offset=".888" stop-color="#9ed69a"/><stop offset=".911" stop-color="#9ed69a"/><stop offset=".929" stop-color="#acd882"/><stop offset=".947" stop-color="#9ed69a"/><stop offset=".955" stop-color="#9ed69a"/><stop offset=".982" stop-color="#68c2ee"/><stop offset=".994" stop-color="#3f71d2"/><stop offset="1" stop-color="#3b4ca4"/></linearGradient><linearGradient id="g194" x1="0" y1="0" x2="0" y2="1"><stop offset="0" stop-color="#3a49a1"/><stop offset=".424" stop-color="#3a49a1"/><stop offset=".663" stop-color="#37449e"/><stop offset=".776" stop-color="#39479f"/><stop offset=".817" stop-color="#3e6bce"/><stop offset=".845" stop-color="#71c9ee"/><stop offset=".882" stop-color="#97d4a7"/><stop offset=".902" stop-color="#dce148"/><stop offset=".92" stop-color="#f5b42c"/><stop offset=".938" stop-color="#dce148"/><stop offset=".95" stop-color="#97d4a7"/><stop offset=".979" stop-color="#64beee"/><stop offset=".991" stop-color="#4177d6"/><stop offset="1" stop-color="#3b51ad"/></linearGradient><linearGradient id="g195" x1="0" y1="0" x2="0" y2="1"><stop offset="0" stop-color="#3b4ba2"/><stop offset=".425" stop-color="#3b4ba2"/><stop offset=".667" stop-color="#38469f"/><stop offset=".781" stop-color="#3a48a0"/><stop offset=".822" stop-color="#4073d3"/><stop offset=".849" stop-color="#7bd2e9"/><stop offset=".881" stop-color="#a8d888"/><stop offset=".895" stop-color="#eee438"/><stop offset=".914" stop-color="#f29628"/><stop offset=".932" stop-color="#eee438"/><stop offset=".946" stop-color="#a8d888"/><stop offset=".978" stop-color="#70c9ee"/><stop offset=".99" stop-color="#3c66cb"/><stop offset="1" stop-color="#35419c"/></linearGradient><linearGradient id="g196" x1="0" y1="0" x2="0" y2="1"><stop offset="0" stop-color="#3b4ca4"/><stop offset=".427" stop-color="#3b4ca4"/><stop offset=".638" stop-color="#39479f"/><stop offset=".753" stop-color="#3b4aa1"/><stop offset=".794" stop-color="#4177d6"/><stop offset=".821" stop-color="#7ed1df"/><stop offset=".865" stop-color="#afd97e"/><stop offset=".89" stop-color="#afd97e"/><stop offset=".908" stop-color="#c3dc63"/><stop offset=".927" stop-color="#afd97e"/><stop offset=".94" stop-color="#afd97e"/><stop offset=".971" stop-color="#77cfee"/><stop offset=".983" stop-color="#437cda"/><stop offset=".998" stop-color="#3b4faa"/><stop offset=".998" stop-color="#3b4faa"/><stop offset="1" stop-color="#3a55b4"/></linearGradient><linearGradient id="g197" x1="0" y1="0" x2="0" y2="1"><stop offset="0" stop-color="#3b4ca5"/><stop offset=".429" stop-color="#3b4ca5"/><stop offset=".639" stop-color="#3948a0"/><stop offset=".754" stop-color="#3b4aa1"/><stop offset=".795" stop-color="#4073d4"/><stop offset=".823" stop-color="#7ad2ee"/><stop offset=".871" stop-color="#a4d78d"/><stop offset=".9" stop-color="#a4d78d"/><stop offset=".919" stop-color="#afd97e"/><stop offset=".937" stop-color="#a4d78d"/><stop offset=".949" stop-color="#a4d78d"/><stop offset=".98" stop-color="#6dc6ee"/><stop offset=".992" stop-color="#3f71d2"/><stop offset="1" stop-color="#3b4ba2"/></linearGradient><linearGradient id="g198" x1="0" y1="0" x2="0" y2="1"><stop offset="0" stop-color="#3a49a0"/><stop offset=".43" stop-color="#3a49a0"/><stop offset=".661" stop-color="#37449d"/><stop offset=".776" stop-color="#39469f"/><stop offset=".818" stop-color="#3e6dcf"/><stop offset=".845" stop-color="#74cdee"/><stop offset=".886" stop-color="#9cd59e"/><stop offset=".909" stop-color="#9cd59e"/><stop offset=".928" stop-color="#a9d887"/><stop offset=".946" stop-color="#9cd59e"/><stop offset=".959" stop-color="#9cd59e"/><stop offset=".991" stop-color="#67c1ee"/><stop offset="1" stop-color="#3e6bce"/></linearGradient><linearGradient id="g199" x1="0" y1="0" x2="0" y2="1"><stop offset="0" stop-color="#39469f"/><stop offset=".432" stop-color="#39469f"/><stop offset=".674" stop-color="#35419c"/><stop offset=".789" stop-color="#37449d"/><stop offset=".831" stop-color="#3f70d1"/><stop offset=".859" stop-color="#7ed1df"/><stop offset=".897" stop-color="#afd97e"/><stop offset=".917" stop-color="#afd97e"/><stop offset=".936" stop-color="#badb6f"/><stop offset=".954" stop-color="#afd97e"/><stop offset=".968" stop-color="#afd97e"/><stop offset="1" stop-color="#77cfee"/></linearGradient><linearGradient id="g200" x1="0" y1="0" x2="0" y2="1"><stop offset="0" stop-color="#3a48a0"/><stop offset=".433" stop-color="#3a48a0"/><stop offset=".682" stop-color="#37439d"/><stop offset=".798" stop-color="#38469f"/><stop offset=".84" stop-color="#3e6ed0"/><stop offset=".867" stop-color="#79d1ee"/><stop offset=".905" stop-color="#a3d790"/><stop offset=".924" stop-color="#a3d790"/><stop offset=".943" stop-color="#aed980"/><stop offset=".961" stop-color="#a3d790"/><stop offset=".973" stop-color="#a3d790"/><stop offset="1" stop-color="#6cc5ee"/></linearGradient><linearGradient id="g201" x1="0" y1="0" x2="0" y2="1"><stop offset="0" stop-color="#3b4ba2"/><stop offset=".433" stop-color="#3b4ba2"/><stop offset=".68" stop-color="#38469f"/><stop offset=".796" stop-color="#3a48a0"/><stop offset=".838" stop-color="#3e6dd0"/><stop offset=".866" stop-color="#71c9ee"/><stop offset=".907" stop-color="#97d4a7"/><stop offset=".93" stop-color="#bcdb6c"/><stop offset=".949" stop-color="#f2de35"/><stop offset=".967" stop-color="#bcdb6c"/><stop offset=".976" stop-color="#97d4a7"/><stop offset="1" stop-color="#64beee"/></linearGradient><linearGradient id="g202" x1="0" y1="0" x2="0" y2="1"><stop offset="0" stop-color="#3b4da6"/><stop offset=".432" stop-color="#3b4da6"/><stop offset=".678" stop-color="#3a48a0"/><stop offset=".793" stop-color="#3b4ba2"/><stop offset=".835" stop-color="#3f71d2"/><stop offset=".863" stop-color="#71c9ee"/><stop offset=".907" stop-color="#97d4a7"/><stop offset=".932" stop-color="#97d4a7"/><stop offset=".95" stop-color="#b2d97a"/><stop offset=".969" stop-color="#97d4a7"/><stop offset=".979" stop-color="#97d4a7"/><stop offset="1" stop-color="#64beee"/></linearGradient><linearGradient id="g203" x1="0" y1="0" x2="0" y2="1"><stop offset="0" stop-color="#3b4ba4"/><stop offset=".43" stop-color="#3b4ba4"/><stop offset=".681" stop-color="#39479f"/><stop offset=".796" stop-color="#3b49a1"/><stop offset=".838" stop-color="#3f6fd1"/><stop offset=".865" stop-color="#71c9ee"/><stop offset=".909" stop-color="#97d4a7"/><stop offset=".934" stop-color="#97d4a7"/><stop offset=".952" stop-color="#9ed699"/><stop offset=".97" stop-color="#97d4a7"/><stop offset=".983" stop-color="#97d4a7"/><stop offset="1" stop-color="#64beee"/></linearGradient><linearGradient id="g204" x1="0" y1="0" x2="0" y2="1"><stop offset="0" stop-color="#3b4ba2"/><stop offset=".433" stop-color="#3b4ba2"/><stop offset=".695" stop-color="#38469f"/><stop offset=".81" stop-color="#3a48a0"/><stop offset=".852" stop-color="#4074d4"/><stop offset=".88" stop-color="#7dd1e3"/><stop offset=".917" stop-color="#acd882"/><stop offset=".936" stop-color="#acd882"/><stop offset=".954" stop-color="#b7da73"/><stop offset=".973" stop-color="#acd882"/><stop offset=".987" stop-color="#acd882"/><stop offset="1" stop-color="#74cdee"/></linearGradient><linearGradient id="g205" x1="0" y1="0" x2="0" y2="1"><stop offset="0" stop-color="#3b4aa2"/><stop offset=".435" stop-color="#3b4aa2"/><stop offset=".717" stop-color="#38459e"/><stop offset=".833" stop-color="#3a48a0"/><stop offset=".875" stop-color="#4072d3"/><stop offset=".903" stop-color="#7bd2ea"/><stop offset=".93" stop-color="#a7d789"/><stop offset=".938" stop-color="#a7d789"/><stop offset=".956" stop-color="#b2d97b"/><stop offset=".975" stop-color="#a7d789"/><stop offset=".989" stop-color="#a7d789"/><stop offset="1" stop-color="#6fc8ee"/></linearGradient><linearGradient id="g206" x1="0" y1="0" x2="0" y2="1"><stop offset="0" stop-color="#3b4da6"/><stop offset=".433" stop-color="#3b4da6"/><stop offset=".717" stop-color="#3a48a0"/><stop offset=".833" stop-color="#3b4ba2"/><stop offset=".874" stop-color="#3f70d2"/><stop offset=".902" stop-color="#71c9ee"/><stop offset=".926" stop-color="#97d4a7"/><stop offset=".93" stop-color="#97d4a7"/><stop offset=".949" stop-color="#81d0d4"/><stop offset=".968" stop-color="#97d4a7"/><stop offset=".98" stop-color="#97d4a7"/><stop offset="1" stop-color="#64beee"/></linearGradient><linearGradient id="g207" x1="0" y1="0" x2="0" y2="1"><stop offset="0" stop-color="#3b4ea7"/><stop offset=".429" stop-color="#3b4ea7"/><stop offset=".706" stop-color="#3b4aa1"/><stop offset=".821" stop-color="#3b4ca4"/><stop offset=".862" stop-color="#4072d3"/><stop offset=".89" stop-color="#71c9ee"/><stop offset=".912" stop-color="#97d4a7"/><stop offset=".916" stop-color="#a1d694"/><stop offset=".934" stop-color="#d6e04d"/><stop offset=".953" stop-color="#a1d694"/><stop offset=".963" stop-color="#97d4a7"/><stop offset=".992" stop-color="#64beee"/><stop offset="1" stop-color="#4176d6"/></linearGradient><linearGradient id="g208" x1="0" y1="0" x2="0" y2="1"><stop offset="0" stop-color="#3b49a1"/><stop offset=".431" stop-color="#3b49a1"/><stop offset=".686" stop-color="#37449e"/><stop offset=".801" stop-color="#39479f"/><stop offset=".843" stop-color="#3e6bce"/><stop offset=".87" stop-color="#71c9ee"/><stop offset=".897" stop-color="#97d4a7"/><stop offset=".906" stop-color="#97d4a7"/><stop offset=".924" stop-color="#94d4ac"/><stop offset=".943" stop-color="#97d4a7"/><stop offset=".951" stop-color="#97d4a7"/><stop offset=".977" stop-color="#64beee"/><stop offset=".989" stop-color="#4074d4"/><stop offset="1" stop-color="#3b4faa"/></linearGradient><linearGradient id="g209" x1="0" y1="0" x2="0" y2="1"><stop offset="0" stop-color="#3a49a0"/><stop offset=".436" stop-color="#3a49a0"/><stop offset=".675" stop-color="#37449d"/><stop offset=".791" stop-color="#39469f"/><stop offset=".833" stop-color="#3d6bce"/><stop offset=".861" stop-color="#71c9ee"/><stop offset=".892" stop-color="#97d4a7"/><stop offset=".903" stop-color="#97d4a7"/><stop offset=".922" stop-color="#60b6ec"/><stop offset=".941" stop-color="#97d4a7"/><stop offset=".946" stop-color="#97d4a7"/><stop offset=".97" stop-color="#64beee"/><stop offset=".982" stop-color="#3c64ca"/><stop offset=".998" stop-color="#37439d"/><stop offset=".998" stop-color="#37439d"/><stop offset="1" stop-color="#3b4ba2"/></linearGradient><linearGradient id="g210" x1="0" y1="0" x2="0" y2="1"><stop offset="0" stop-color="#3b4aa1"/><stop offset=".438" stop-color="#3b4aa1"/><stop offset=".662" stop-color="#38459e"/><stop offset=".779" stop-color="#3a48a0"/><stop offset=".822" stop-color="#3b63c9"/><stop offset=".85" stop-color="#5db1eb"/><stop offset=".882" stop-color="#7ed1de"/><stop offset=".895" stop-color="#7ed1de"/><stop offset=".914" stop-color="#83d0ce"/><stop offset=".932" stop-color="#7ed1de"/><stop offset=".935" stop-color="#7ed1de"/><stop offset=".956" stop-color="#55a3e8"/><stop offset=".968" stop-color="#3f6fd1"/><stop offset=".984" stop-color="#3b52ae"/><stop offset=".991" stop-color="#3b52ae"/><stop offset="1" stop-color="#3a58b9"/></linearGradient><linearGradient id="g211" x1="0" y1="0" x2="0" y2="1"><stop offset="0" stop-color="#3a49a0"/><stop offset=".435" stop-color="#3a49a0"/><stop offset=".674" stop-color="#37449d"/><stop offset=".791" stop-color="#39469f"/><stop offset=".833" stop-color="#3e6ccf"/><stop offset=".861" stop-color="#74ccee"/><stop offset=".886" stop-color="#9bd59f"/><stop offset=".892" stop-color="#9bd59f"/><stop offset=".91" stop-color="#a8d888"/><stop offset=".929" stop-color="#9bd59f"/><stop offset=".937" stop-color="#9bd59f"/><stop offset=".964" stop-color="#67c1ee"/><stop offset=".977" stop-color="#3c66cb"/><stop offset=".992" stop-color="#37449e"/><stop offset=".992" stop-color="#37449e"/><stop offset="1" stop-color="#3b4ba3"/></linearGradient><linearGradient id="g212" x1="0" y1="0" x2="0" y2="1"><stop offset="0" stop-color="#3a48a0"/><stop offset=".242" stop-color="#3a48a0"/><stop offset=".339" stop-color="#2f3896"/><stop offset=".726" stop-color="#2e3594"/><stop offset=".847" stop-color="#2f3896"/><stop offset=".908" stop-color="#37449e"/><stop offset=".976" stop-color="#39469f"/><stop offset="1" stop-color="#3a56b6"/></linearGradient><linearGradient id="g213" x1="0" y1="0" x2="0" y2="1"><stop offset="0" stop-color="#3a49a0"/><stop offset=".246" stop-color="#3a49a0"/><stop offset=".345" stop-color="#2f3796"/><stop offset=".739" stop-color="#2e3594"/><stop offset=".862" stop-color="#2f3796"/><stop offset=".924" stop-color="#37449e"/><stop offset=".975" stop-color="#39469f"/><stop offset="1" stop-color="#3a56b6"/></linearGradient><linearGradient id="g214" x1="0" y1="0" x2="0" y2="1"><stop offset="0" stop-color="#3b4aa1"/><stop offset=".247" stop-color="#3b4aa1"/><stop offset=".345" stop-color="#2e3695"/><stop offset=".74" stop-color="#2d3393"/><stop offset=".863" stop-color="#2e3695"/><stop offset=".925" stop-color="#37449e"/><stop offset=".975" stop-color="#39469f"/><stop offset="1" stop-color="#3a56b6"/></linearGradient><linearGradient id="g215" x1="0" y1="0" x2="0" y2="1"><stop offset="0" stop-color="#36439d"/><stop offset=".245" stop-color="#36439d"/><stop offset=".342" stop-color="#2e3695"/><stop offset=".734" stop-color="#2d3393"/><stop offset=".856" stop-color="#2e3695"/><stop offset=".917" stop-color="#37449e"/><stop offset=".976" stop-color="#39469f"/><stop offset="1" stop-color="#3a56b6"/></linearGradient><linearGradient id="g216" x1="0" y1="0" x2="0" y2="1"><stop offset="0" stop-color="#39469f"/><stop offset=".242" stop-color="#39469f"/><stop offset=".338" stop-color="#2e3695"/><stop offset=".725" stop-color="#2d3393"/><stop offset=".845" stop-color="#2e3695"/><stop offset=".906" stop-color="#37449e"/><stop offset=".976" stop-color="#39469f"/><stop offset="1" stop-color="#3a56b6"/></linearGradient><linearGradient id="g217" x1="0" y1="0" x2="0" y2="1"><stop offset="0" stop-color="#3b4aa2"/><stop offset=".239" stop-color="#3b4aa2"/><stop offset=".335" stop-color="#2e3594"/><stop offset=".717" stop-color="#2d3392"/><stop offset=".836" stop-color="#2e3594"/><stop offset=".896" stop-color="#37449e"/><stop offset=".976" stop-color="#39469f"/><stop offset="1" stop-color="#3a56b6"/></linearGradient><linearGradient id="g218" x1="0" y1="0" x2="0" y2="1"><stop offset="0" stop-color="#37449e"/><stop offset=".238" stop-color="#37449e"/><stop offset=".333" stop-color="#2e3494"/><stop offset=".713" stop-color="#2d3292"/><stop offset=".831" stop-color="#2e3494"/><stop offset=".891" stop-color="#37449e"/><stop offset=".976" stop-color="#39469f"/><stop offset="1" stop-color="#3a56b6"/></linearGradient><linearGradient id="g219" x1="0" y1="0" x2="0" y2="1"><stop offset="0" stop-color="#38469f"/><stop offset=".242" stop-color="#38469f"/><stop offset=".339" stop-color="#2e3594"/><stop offset=".726" stop-color="#2d3292"/><stop offset=".847" stop-color="#2e3594"/><stop offset=".908" stop-color="#37449e"/><stop offset=".976" stop-color="#39469f"/><stop offset="1" stop-color="#3a56b6"/></linearGradient><linearGradient id="g220" x1="0" y1="0" x2="0" y2="1"><stop offset="0" stop-color="#39479f"/><stop offset=".244" stop-color="#39479f"/><stop offset=".341" stop-color="#2e3594"/><stop offset=".731" stop-color="#2d3392"/><stop offset=".852" stop-color="#2e3594"/><stop offset=".913" stop-color="#37449e"/><stop offset=".976" stop-color="#39469f"/><stop offset="1" stop-color="#3a56b6"/></linearGradient><linearGradient id="g221" x1="0" y1="0" x2="0" y2="1"><stop offset="0" stop-color="#3a48a0"/><stop offset=".243" stop-color="#3a48a0"/><stop offset=".34" stop-color="#2e3595"/><stop offset=".729" stop-color="#2d3393"/><stop offset=".851" stop-color="#2e3595"/><stop offset=".912" stop-color="#37449e"/><stop offset=".976" stop-color="#39469f"/><stop offset="1" stop-color="#3a56b6"/></linearGradient><linearGradient id="g222" x1="0" y1="0" x2="0" y2="1"><stop offset="0" stop-color="#38469e"/><stop offset=".243" stop-color="#38469e"/><stop offset=".34" stop-color="#2e3594"/><stop offset=".729" stop-color="#2d3392"/><stop offset=".85" stop-color="#2e3594"/><stop offset=".911" stop-color="#37449e"/><stop offset=".976" stop-color="#39469f"/><stop offset="1" stop-color="#3a56b6"/></linearGradient><linearGradient id="g223" x1="0" y1="0" x2="0" y2="1"><stop offset="0" stop-color="#37449e"/><stop offset=".24" stop-color="#37449e"/><stop offset=".336" stop-color="#2e3595"/><stop offset=".72" stop-color="#2d3393"/><stop offset=".84" stop-color="#2e3595"/><stop offset=".9" stop-color="#37449e"/><stop offset=".976" stop-color="#39469f"/><stop offset="1" stop-color="#3a56b6"/></linearGradient><linearGradient id="g224" x1="0" y1="0" x2="0" y2="1"><stop offset="0" stop-color="#37449e"/><stop offset=".237" stop-color="#37449e"/><stop offset=".331" stop-color="#2f3796"/><stop offset=".71" stop-color="#2e3594"/><stop offset=".829" stop-color="#2f3796"/><stop offset=".888" stop-color="#37449e"/><stop offset=".976" stop-color="#39469f"/><stop offset="1" stop-color="#3a56b6"/></linearGradient><linearGradient id="g225" x1="0" y1="0" x2="0" y2="1"><stop offset="0" stop-color="#38459e"/><stop offset=".239" stop-color="#38459e"/><stop offset=".334" stop-color="#2f3695"/><stop offset=".716" stop-color="#2e3493"/><stop offset=".835" stop-color="#2f3695"/><stop offset=".895" stop-color="#37449e"/><stop offset=".976" stop-color="#39469f"/><stop offset="1" stop-color="#3a56b6"/></linearGradient><linearGradient id="g226" x1="0" y1="0" x2="0" y2="1"><stop offset="0" stop-color="#3a48a0"/><stop offset=".235" stop-color="#3a48a0"/><stop offset=".329" stop-color="#2f3695"/><stop offset=".705" stop-color="#2e3493"/><stop offset=".822" stop-color="#2f3695"/><stop offset=".881" stop-color="#37449e"/><stop offset=".977" stop-color="#39469f"/><stop offset="1" stop-color="#3a56b6"/></linearGradient><linearGradient id="g227" x1="0" y1="0" x2="0" y2="1"><stop offset="0" stop-color="#3b4ba2"/><stop offset=".23" stop-color="#3b4ba2"/><stop offset=".322" stop-color="#2f3695"/><stop offset=".69" stop-color="#2e3493"/><stop offset=".805" stop-color="#2f3695"/><stop offset=".863" stop-color="#37449e"/><stop offset=".977" stop-color="#39469f"/><stop offset="1" stop-color="#3a56b6"/></linearGradient><linearGradient id="g228" x1="0" y1="0" x2="0" y2="1"><stop offset="0" stop-color="#3b4ca5"/><stop offset=".237" stop-color="#3b4ca5"/><stop offset=".331" stop-color="#2e3594"/><stop offset=".71" stop-color="#2d3392"/><stop offset=".828" stop-color="#2e3594"/><stop offset=".888" stop-color="#37449e"/><stop offset=".976" stop-color="#39469f"/><stop offset="1" stop-color="#3a56b6"/></linearGradient><linearGradient id="g229" x1="0" y1="0" x2="0" y2="1"><stop offset="0" stop-color="#3b4ca5"/><stop offset=".238" stop-color="#3b4ca5"/><stop offset=".333" stop-color="#2e3595"/><stop offset=".713" stop-color="#2d3393"/><stop offset=".831" stop-color="#2e3595"/><stop offset=".891" stop-color="#37449e"/><stop offset=".976" stop-color="#39469f"/><stop offset="1" stop-color="#3a56b6"/></linearGradient><linearGradient id="g230" x1="0" y1="0" x2="0" y2="1"><stop offset="0" stop-color="#3a49a0"/><stop offset=".235" stop-color="#3a49a0"/><stop offset=".328" stop-color="#2f3695"/><stop offset=".704" stop-color="#2e3493"/><stop offset=".821" stop-color="#2f3695"/><stop offset=".88" stop-color="#37449e"/><stop offset=".977" stop-color="#39469f"/><stop offset="1" stop-color="#3a56b6"/></linearGradient><linearGradient id="g231" x1="0" y1="0" x2="0" y2="1"><stop offset="0" stop-color="#38469e"/><stop offset=".229" stop-color="#38469e"/><stop offset=".321" stop-color="#2f3796"/><stop offset=".687" stop-color="#2e3594"/><stop offset=".802" stop-color="#2f3796"/><stop offset=".859" stop-color="#37449e"/><stop offset=".977" stop-color="#39469f"/><stop offset="1" stop-color="#3a56b6"/></linearGradient><linearGradient id="g232" x1="0" y1="0" x2="0" y2="1"><stop offset="0" stop-color="#39469f"/><stop offset=".231" stop-color="#39469f"/><stop offset=".323" stop-color="#2f3695"/><stop offset=".692" stop-color="#2e3493"/><stop offset=".807" stop-color="#2f3695"/><stop offset=".865" stop-color="#37449e"/><stop offset=".977" stop-color="#39469f"/><stop offset="1" stop-color="#3a56b6"/></linearGradient><linearGradient id="g233" x1="0" y1="0" x2="0" y2="1"><stop offset="0" stop-color="#38469f"/><stop offset=".236" stop-color="#38469f"/><stop offset=".33" stop-color="#2f3695"/><stop offset=".707" stop-color="#2e3493"/><stop offset=".825" stop-color="#2f3695"/><stop offset=".884" stop-color="#37449e"/><stop offset=".976" stop-color="#39469f"/><stop offset="1" stop-color="#3a56b6"/></linearGradient><linearGradient id="g234" x1="0" y1="0" x2="0" y2="1"><stop offset="0" stop-color="#3a48a0"/><stop offset=".237" stop-color="#3a48a0"/><stop offset=".331" stop-color="#2f3695"/><stop offset=".71" stop-color="#2e3493"/><stop offset=".829" stop-color="#2f3695"/><stop offset=".888" stop-color="#37449e"/><stop offset=".976" stop-color="#39469f"/><stop offset="1" stop-color="#3a56b6"/></linearGradient><linearGradient id="g235" x1="0" y1="0" x2="0" y2="1"><stop offset="0" stop-color="#3b4ba3"/><stop offset=".235" stop-color="#3b4ba3"/><stop offset=".329" stop-color="#2e3695"/><stop offset=".704" stop-color="#2d3493"/><stop offset=".822" stop-color="#2e3695"/><stop offset=".88" stop-color="#37449e"/><stop offset=".977" stop-color="#39469f"/><stop offset="1" stop-color="#3a56b6"/></linearGradient><linearGradient id="g236" x1="0" y1="0" x2="0" y2="1"><stop offset="0" stop-color="#37439d"/><stop offset=".232" stop-color="#37439d"/><stop offset=".325" stop-color="#2f3695"/><stop offset=".697" stop-color="#2e3493"/><stop offset=".813" stop-color="#2f3695"/><stop offset=".871" stop-color="#37449e"/><stop offset=".977" stop-color="#39469f"/><stop offset="1" stop-color="#3a56b6"/></linearGradient><linearGradient id="g237" x1="0" y1="0" x2="0" y2="1"><stop offset="0" stop-color="#3a48a0"/><stop offset=".263" stop-color="#3a48a0"/><stop offset=".358" stop-color="#2e3594"/><stop offset=".924" stop-color="#2e3594"/><stop offset=".948" stop-color="#3b53b1"/><stop offset=".964" stop-color="#3b50ac"/><stop offset=".979" stop-color="#37449d"/><stop offset=".988" stop-color="#37449d"/><stop offset="1" stop-color="#3b53b1"/></linearGradient><linearGradient id="g238" x1="0" y1="0" x2="0" y2="1"><stop offset="0" stop-color="#3b4da7"/><stop offset=".259" stop-color="#3b4da7"/><stop offset=".354" stop-color="#2e3594"/><stop offset=".904" stop-color="#2e3594"/><stop offset=".928" stop-color="#3b53b1"/><stop offset=".965" stop-color="#3b50ac"/><stop offset=".979" stop-color="#39469f"/><stop offset=".988" stop-color="#39469f"/><stop offset="1" stop-color="#3b53b1"/></linearGradient><linearGradient id="g239" x1="0" y1="0" x2="0" y2="1"><stop offset="0" stop-color="#3a48a0"/><stop offset=".252" stop-color="#3a48a0"/><stop offset=".344" stop-color="#2d3493"/><stop offset=".871" stop-color="#2d3493"/><stop offset=".894" stop-color="#3b53b1"/><stop offset=".942" stop-color="#3b50ac"/><stop offset=".956" stop-color="#35409b"/><stop offset=".989" stop-color="#35409b"/><stop offset="1" stop-color="#3b53b1"/></linearGradient><linearGradient id="g240" x1="0" y1="0" x2="0" y2="1"><stop offset="0" stop-color="#39479f"/><stop offset=".259" stop-color="#39479f"/><stop offset=".353" stop-color="#2d3393"/><stop offset=".886" stop-color="#2d3393"/><stop offset=".909" stop-color="#3b53b1"/><stop offset=".931" stop-color="#3b50ac"/><stop offset=".945" stop-color="#35409b"/><stop offset=".988" stop-color="#35409b"/><stop offset="1" stop-color="#3b53b1"/></linearGradient><linearGradient id="g241" x1="0" y1="0" x2="0" y2="1"><stop offset="0" stop-color="#3a48a0"/><stop offset=".255" stop-color="#3a48a0"/><stop offset=".348" stop-color="#2e3493"/><stop offset=".865" stop-color="#2e3493"/><stop offset=".888" stop-color="#3b53b1"/><stop offset=".902" stop-color="#3b50ac"/><stop offset=".916" stop-color="#36429c"/><stop offset=".988" stop-color="#36429c"/><stop offset="1" stop-color="#3b53b1"/></linearGradient><linearGradient id="g242" x1="0" y1="0" x2="0" y2="1"><stop offset="0" stop-color="#3b4ba3"/><stop offset=".248" stop-color="#3b4ba3"/><stop offset=".338" stop-color="#2e3594"/><stop offset=".832" stop-color="#2e3594"/><stop offset=".855" stop-color="#3b53b1"/><stop offset=".878" stop-color="#3b50ac"/><stop offset=".891" stop-color="#37449d"/><stop offset=".989" stop-color="#37449d"/><stop offset="1" stop-color="#3b53b1"/></linearGradient><linearGradient id="g243" x1="0" y1="0" x2="0" y2="1"><stop offset="0" stop-color="#3b4da7"/><stop offset=".254" stop-color="#3b4da7"/><stop offset=".346" stop-color="#2d3392"/><stop offset=".844" stop-color="#2d3392"/><stop offset=".867" stop-color="#3b53b1"/><stop offset=".919" stop-color="#3b50ac"/><stop offset=".933" stop-color="#343f9b"/><stop offset=".988" stop-color="#343f9b"/><stop offset="1" stop-color="#3b53b1"/></linearGradient><linearGradient id="g244" x1="0" y1="0" x2="0" y2="1"><stop offset="0" stop-color="#3b4da5"/><stop offset=".254" stop-color="#3b4da5"/><stop offset=".346" stop-color="#2d3393"/><stop offset=".841" stop-color="#2d3393"/><stop offset=".864" stop-color="#3b53b1"/><stop offset=".932" stop-color="#3b50ac"/><stop offset=".946" stop-color="#35409b"/><stop offset=".988" stop-color="#35409b"/><stop offset="1" stop-color="#3b53b1"/></linearGradient><linearGradient id="g245" x1="0" y1="0" x2="0" y2="1"><stop offset="0" stop-color="#3b4ca4"/><stop offset=".252" stop-color="#3b4ca4"/><stop offset=".344" stop-color="#2e3695"/><stop offset=".833" stop-color="#2e3695"/><stop offset=".856" stop-color="#3b53b1"/><stop offset=".924" stop-color="#3b50ac"/><stop offset=".938" stop-color="#39479f"/><stop offset=".989" stop-color="#39479f"/><stop offset="1" stop-color="#3b53b1"/></linearGradient><linearGradient id="g246" x1="0" y1="0" x2="0" y2="1"><stop offset="0" stop-color="#3b4ea7"/><stop offset=".262" stop-color="#3b4ea7"/><stop offset=".357" stop-color="#2e3494"/><stop offset=".862" stop-color="#2e3494"/><stop offset=".886" stop-color="#3b53b1"/><stop offset=".938" stop-color="#3b50ac"/><stop offset=".952" stop-color="#36439d"/><stop offset=".988" stop-color="#36439d"/><stop offset="1" stop-color="#3b53b1"/></linearGradient><linearGradient id="g247" x1="0" y1="0" x2="0" y2="1"><stop offset="0" stop-color="#3b4ca4"/><stop offset=".263" stop-color="#3b4ca4"/><stop offset=".358" stop-color="#2e3493"/><stop offset=".861" stop-color="#2e3493"/><stop offset=".885" stop-color="#3b53b1"/><stop offset=".95" stop-color="#3b50ac"/><stop offset=".964" stop-color="#35409b"/><stop offset=".988" stop-color="#35409b"/><stop offset="1" stop-color="#3b53b1"/></linearGradient><linearGradient id="g248" x1="0" y1="0" x2="0" y2="1"><stop offset="0" stop-color="#3b4ca4"/><stop offset=".259" stop-color="#3b4ca4"/><stop offset=".353" stop-color="#2e3594"/><stop offset=".845" stop-color="#2e3594"/><stop offset=".869" stop-color="#3b53b1"/><stop offset=".933" stop-color="#3b50ac"/><stop offset=".947" stop-color="#343f9b"/><stop offset=".988" stop-color="#343f9b"/><stop offset="1" stop-color="#3b53b1"/></linearGradient><linearGradient id="g249" x1="0" y1="0" x2="0" y2="1"><stop offset="0" stop-color="#3b4ea9"/><stop offset=".259" stop-color="#3b4ea9"/><stop offset=".353" stop-color="#2f3796"/><stop offset=".842" stop-color="#2f3796"/><stop offset=".866" stop-color="#3b53b1"/><stop offset=".915" stop-color="#3b50ac"/><stop offset=".929" stop-color="#37449e"/><stop offset=".988" stop-color="#37449e"/><stop offset="1" stop-color="#3b53b1"/></linearGradient><linearGradient id="g250" x1="0" y1="0" x2="0" y2="1"><stop offset="0" stop-color="#3b4ea9"/><stop offset=".26" stop-color="#3b4ea9"/><stop offset=".354" stop-color="#303897"/><stop offset=".844" stop-color="#303897"/><stop offset=".868" stop-color="#3b53b1"/><stop offset=".923" stop-color="#3b50ac"/><stop offset=".937" stop-color="#38459e"/><stop offset=".988" stop-color="#38459e"/><stop offset="1" stop-color="#3b53b1"/></linearGradient><linearGradient id="g251" x1="0" y1="0" x2="0" y2="1"><stop offset="0" stop-color="#3b4ca5"/><stop offset=".261" stop-color="#3b4ca5"/><stop offset=".355" stop-color="#303997"/><stop offset=".844" stop-color="#303997"/><stop offset=".868" stop-color="#3b53b1"/><stop offset=".926" stop-color="#3b50ac"/><stop offset=".941" stop-color="#38459e"/><stop offset=".988" stop-color="#38459e"/><stop offset="1" stop-color="#3b53b1"/></linearGradient><linearGradient id="g252" x1="0" y1="0" x2="0" y2="1"><stop offset="0" stop-color="#3b4ba2"/><stop offset=".253" stop-color="#3b4ba2"/><stop offset=".346" stop-color="#313a98"/><stop offset=".818" stop-color="#313a98"/><stop offset=".841" stop-color="#3b53b1"/><stop offset=".898" stop-color="#3b50ac"/><stop offset=".912" stop-color="#37439d"/><stop offset=".988" stop-color="#37439d"/><stop offset="1" stop-color="#3b53b1"/></linearGradient><linearGradient id="g253" x1="0" y1="0" x2="0" y2="1"><stop offset="0" stop-color="#3b4fa9"/><stop offset=".256" stop-color="#3b4fa9"/><stop offset=".349" stop-color="#323c99"/><stop offset=".816" stop-color="#323c99"/><stop offset=".84" stop-color="#3b53b1"/><stop offset=".9" stop-color="#3b50ac"/><stop offset=".914" stop-color="#39469f"/><stop offset=".988" stop-color="#39469f"/><stop offset="1" stop-color="#3b53b1"/></linearGradient><linearGradient id="g254" x1="0" y1="0" x2="0" y2="1"><stop offset="0" stop-color="#3b4ca5"/><stop offset=".264" stop-color="#3b4ca5"/><stop offset=".36" stop-color="#323b98"/><stop offset=".831" stop-color="#323b98"/><stop offset=".856" stop-color="#3b53b1"/><stop offset=".931" stop-color="#3b50ac"/><stop offset=".945" stop-color="#36429c"/><stop offset=".988" stop-color="#36429c"/><stop offset="1" stop-color="#3b53b1"/></linearGradient><linearGradient id="g255" x1="0" y1="0" x2="0" y2="1"><stop offset="0" stop-color="#3b4aa2"/><stop offset=".272" stop-color="#3b4aa2"/><stop offset=".371" stop-color="#313a98"/><stop offset=".845" stop-color="#313a98"/><stop offset=".87" stop-color="#3b53b1"/><stop offset=".963" stop-color="#3b50ac"/><stop offset=".978" stop-color="#333d9a"/><stop offset=".988" stop-color="#333d9a"/><stop offset="1" stop-color="#3b53b1"/></linearGradient><linearGradient id="g256" x1="0" y1="0" x2="0" y2="1"><stop offset="0" stop-color="#3b4aa1"/><stop offset=".276" stop-color="#3b4aa1"/><stop offset=".377" stop-color="#333d9a"/><stop offset=".845" stop-color="#333d9a"/><stop offset=".87" stop-color="#3b53b1"/><stop offset=".962" stop-color="#3b50ac"/><stop offset=".977" stop-color="#36419c"/><stop offset=".987" stop-color="#36419c"/><stop offset="1" stop-color="#3b53b1"/></linearGradient><linearGradient id="g257" x1="0" y1="0" x2="0" y2="1"><stop offset="0" stop-color="#39479f"/><stop offset=".276" stop-color="#39479f"/><stop offset=".377" stop-color="#34409b"/><stop offset=".834" stop-color="#34409b"/><stop offset=".859" stop-color="#3b53b1"/><stop offset=".962" stop-color="#3b50ac"/><stop offset=".977" stop-color="#37449d"/><stop offset=".987" stop-color="#37449d"/><stop offset="1" stop-color="#3b53b1"/></linearGradient><linearGradient id="g258" x1="0" y1="0" x2="0" y2="1"><stop offset="0" stop-color="#39479f"/><stop offset=".272" stop-color="#39479f"/><stop offset=".371" stop-color="#36429c"/><stop offset=".809" stop-color="#36429c"/><stop offset=".834" stop-color="#3b53b1"/><stop offset=".963" stop-color="#3b50ac"/><stop offset=".978" stop-color="#38459e"/><stop offset=".988" stop-color="#38459e"/><stop offset="1" stop-color="#3b53b1"/></linearGradient><linearGradient id="g259" x1="0" y1="0" x2="0" y2="1"><stop offset="0" stop-color="#3b4aa1"/><stop offset=".265" stop-color="#3b4aa1"/><stop offset=".362" stop-color="#37439d"/><stop offset=".778" stop-color="#37439d"/><stop offset=".802" stop-color="#3b53b1"/><stop offset=".936" stop-color="#3b50ac"/><stop offset=".951" stop-color="#39479f"/><stop offset=".988" stop-color="#39479f"/><stop offset="1" stop-color="#3b53b1"/></linearGradient><linearGradient id="g260" x1="0" y1="0" x2="0" y2="1"><stop offset="0" stop-color="#3b4ca5"/><stop offset=".26" stop-color="#3b4ca5"/><stop offset=".355" stop-color="#37439d"/><stop offset=".758" stop-color="#37439d"/><stop offset=".781" stop-color="#3b53b1"/><stop offset=".909" stop-color="#3b50ac"/><stop offset=".924" stop-color="#37449e"/><stop offset=".988" stop-color="#37449e"/><stop offset="1" stop-color="#3b53b1"/></linearGradient><linearGradient id="g261" x1="0" y1="0" x2="0" y2="1"><stop offset="0" stop-color="#3948a0"/><stop offset=".269" stop-color="#3948a0"/><stop offset=".367" stop-color="#37449d"/><stop offset=".78" stop-color="#37449d"/><stop offset=".804" stop-color="#3b53b1"/><stop offset=".95" stop-color="#3b50ac"/><stop offset=".965" stop-color="#37439d"/><stop offset=".988" stop-color="#37439d"/><stop offset="1" stop-color="#3b53b1"/></linearGradient><linearGradient id="g262" x1="0" y1="0" x2="0" y2="1"><stop offset="0" stop-color="#39479f"/><stop offset=".276" stop-color="#39479f"/><stop offset=".377" stop-color="#38459e"/><stop offset=".795" stop-color="#38459e"/><stop offset=".82" stop-color="#3b53b1"/><stop offset=".955" stop-color="#3b50ac"/><stop offset=".97" stop-color="#36429d"/><stop offset=".987" stop-color="#36429d"/><stop offset="1" stop-color="#3b53b1"/></linearGradient><linearGradient id="g263" x1="0" y1="0" x2="0" y2="1"><stop offset="0" stop-color="#3b4ca5"/><stop offset=".281" stop-color="#3b4ca5"/><stop offset=".383" stop-color="#38459e"/><stop offset=".804" stop-color="#38459e"/><stop offset=".829" stop-color="#3b53b1"/><stop offset=".961" stop-color="#3b50ac"/><stop offset=".977" stop-color="#35409b"/><stop offset=".987" stop-color="#35409b"/><stop offset="1" stop-color="#3b53b1"/></linearGradient><linearGradient id="g264" x1="0" y1="0" x2="0" y2="1"><stop offset="0" stop-color="#3b4ca4"/><stop offset=".278" stop-color="#3b4ca4"/><stop offset=".379" stop-color="#39479f"/><stop offset=".791" stop-color="#39479f"/><stop offset=".816" stop-color="#3b53b1"/><stop offset=".958" stop-color="#3b50ac"/><stop offset=".973" stop-color="#36429c"/><stop offset=".987" stop-color="#36429c"/><stop offset="1" stop-color="#3b53b1"/></linearGradient><linearGradient id="g265" x1="0" y1="0" x2="0" y2="1"><stop offset="0" stop-color="#3b4ba3"/><stop offset=".278" stop-color="#3b4ba3"/><stop offset=".379" stop-color="#3a48a0"/><stop offset=".789" stop-color="#3a48a0"/><stop offset=".814" stop-color="#3b53b1"/><stop offset=".941" stop-color="#3b50ac"/><stop offset=".956" stop-color="#36429d"/><stop offset=".987" stop-color="#36429d"/><stop offset="1" stop-color="#3b53b1"/></linearGradient><linearGradient id="g266" x1="0" y1="0" x2="0" y2="1"><stop offset="0" stop-color="#3a49a0"/><stop offset=".278" stop-color="#3a49a0"/><stop offset=".38" stop-color="#3b49a1"/><stop offset=".79" stop-color="#3b49a1"/><stop offset=".815" stop-color="#3b53b1"/><stop offset=".928" stop-color="#3b50ac"/><stop offset=".944" stop-color="#36429d"/><stop offset=".987" stop-color="#36429d"/><stop offset="1" stop-color="#3b53b1"/></linearGradient><linearGradient id="g267" x1="0" y1="0" x2="0" y2="1"><stop offset="0" stop-color="#35419c"/><stop offset=".273" stop-color="#35419c"/><stop offset=".373" stop-color="#3b4ca4"/><stop offset=".775" stop-color="#3b4ca4"/><stop offset=".8" stop-color="#3b53b1"/><stop offset=".903" stop-color="#3b50ac"/><stop offset=".917" stop-color="#38469f"/><stop offset=".988" stop-color="#38469f"/><stop offset="1" stop-color="#3b53b1"/></linearGradient><linearGradient id="g268" x1="0" y1="0" x2="0" y2="1"><stop offset="0" stop-color="#38469f"/><stop offset=".281" stop-color="#38469f"/><stop offset=".383" stop-color="#3b4da6"/><stop offset=".794" stop-color="#3b4da6"/><stop offset=".819" stop-color="#3b53b1"/><stop offset=".945" stop-color="#3b50ac"/><stop offset=".961" stop-color="#39469f"/><stop offset=".987" stop-color="#39469f"/><stop offset="1" stop-color="#3b53b1"/></linearGradient><linearGradient id="g269" x1="0" y1="0" x2="0" y2="1"><stop offset="0" stop-color="#3b4ba2"/><stop offset=".293" stop-color="#3b4ba2"/><stop offset=".4" stop-color="#3b4da7"/><stop offset=".829" stop-color="#3b4da7"/><stop offset=".856" stop-color="#3b53b1"/><stop offset=".96" stop-color="#3b50ac"/><stop offset=".976" stop-color="#38469e"/><stop offset=".987" stop-color="#38469e"/><stop offset="1" stop-color="#3b53b1"/></linearGradient><linearGradient id="g270" x1="0" y1="0" x2="0" y2="1"><stop offset="0" stop-color="#3b4ca5"/><stop offset=".291" stop-color="#3b4ca5"/><stop offset=".397" stop-color="#3b4ea8"/><stop offset=".822" stop-color="#3b4ea8"/><stop offset=".848" stop-color="#3b53b1"/><stop offset=".96" stop-color="#3b50ac"/><stop offset=".976" stop-color="#38459e"/><stop offset=".987" stop-color="#38459e"/><stop offset="1" stop-color="#3b53b1"/></linearGradient><linearGradient id="g271" x1="0" y1="0" x2="0" y2="1"><stop offset="0" stop-color="#3a48a0"/><stop offset=".283" stop-color="#3a48a0"/><stop offset=".386" stop-color="#3b50ab"/><stop offset=".799" stop-color="#3b50ab"/><stop offset=".825" stop-color="#3b53b1"/><stop offset=".944" stop-color="#3b50ac"/><stop offset=".96" stop-color="#39469f"/><stop offset=".987" stop-color="#39469f"/><stop offset="1" stop-color="#3b53b1"/></linearGradient><linearGradient id="g272" x1="0" y1="0" x2="0" y2="1"><stop offset="0" stop-color="#3a48a0"/><stop offset=".275" stop-color="#3a48a0"/><stop offset=".376" stop-color="#3b4faa"/><stop offset=".776" stop-color="#3b4faa"/><stop offset=".801" stop-color="#3b53b1"/><stop offset=".905" stop-color="#3b50ac"/><stop offset=".92" stop-color="#37439d"/><stop offset=".987" stop-color="#37439d"/><stop offset="1" stop-color="#3b53b1"/></linearGradient><linearGradient id="g273" x1="0" y1="0" x2="0" y2="1"><stop offset="0" stop-color="#3a48a0"/><stop offset=".283" stop-color="#3a48a0"/><stop offset=".309" stop-color="#498ce2"/><stop offset=".335" stop-color="#63bced"/><stop offset=".566" stop-color="#59aae9"/><stop offset=".807" stop-color="#498ce2"/><stop offset=".823" stop-color="#3d67cc"/><stop offset=".889" stop-color="#3a5dc2"/><stop offset=".904" stop-color="#2e3695"/><stop offset=".987" stop-color="#2d3393"/><stop offset="1" stop-color="#3a48a0"/></linearGradient><linearGradient id="g274" x1="0" y1="0" x2="0" y2="1"><stop offset="0" stop-color="#35409c"/><stop offset=".261" stop-color="#35409c"/><stop offset=".287" stop-color="#4687e1"/><stop offset=".313" stop-color="#63bced"/><stop offset=".561" stop-color="#59aae9"/><stop offset=".819" stop-color="#498ce2"/><stop offset=".835" stop-color="#3c65ca"/><stop offset=".884" stop-color="#3a5cc0"/><stop offset=".899" stop-color="#323b99"/><stop offset=".987" stop-color="#2f3896"/><stop offset="1" stop-color="#3b4da7"/></linearGradient><linearGradient id="g275" x1="0" y1="0" x2="0" y2="1"><stop offset="0" stop-color="#3a48a0"/><stop offset=".26" stop-color="#3a48a0"/><stop offset=".287" stop-color="#498ce2"/><stop offset=".313" stop-color="#63bced"/><stop offset=".564" stop-color="#59aae9"/><stop offset=".826" stop-color="#498ce2"/><stop offset=".842" stop-color="#437cda"/><stop offset=".878" stop-color="#3f6fd1"/><stop offset=".894" stop-color="#323b99"/><stop offset=".987" stop-color="#2f3896"/><stop offset="1" stop-color="#3b4ea7"/></linearGradient><linearGradient id="g276" x1="0" y1="0" x2="0" y2="1"><stop offset="0" stop-color="#3b4ba2"/><stop offset=".278" stop-color="#3b4ba2"/><stop offset=".304" stop-color="#4a8ee3"/><stop offset=".329" stop-color="#63bced"/><stop offset=".563" stop-color="#59aae9"/><stop offset=".808" stop-color="#498ce2"/><stop offset=".823" stop-color="#3a60c7"/><stop offset=".862" stop-color="#3a59bc"/><stop offset=".878" stop-color="#313a98"/><stop offset=".987" stop-color="#2f3796"/><stop offset="1" stop-color="#3b4ca5"/></linearGradient><linearGradient id="g277" x1="0" y1="0" x2="0" y2="1"><stop offset="0" stop-color="#39479f"/><stop offset=".45" stop-color="#39479f"/><stop offset=".514" stop-color="#3b52b0"/><stop offset=".514" stop-color="#3a59bb"/><stop offset=".514" stop-color="#3c64ca"/><stop offset=".803" stop-color="#3a5ec4"/><stop offset=".818" stop-color="#3c65ca"/><stop offset=".876" stop-color="#3a5cc0"/><stop offset=".891" stop-color="#333d99"/><stop offset=".987" stop-color="#303997"/><stop offset="1" stop-color="#3b4fa9"/></linearGradient><linearGradient id="g278" x1="0" y1="0" x2="0" y2="1"><stop offset="0" stop-color="#3b4ca4"/><stop offset=".323" stop-color="#3b4ca4"/><stop offset=".374" stop-color="#447fdc"/><stop offset=".4" stop-color="#55a3e8"/><stop offset=".597" stop-color="#4d94e4"/><stop offset=".803" stop-color="#427bd9"/><stop offset=".819" stop-color="#4278d7"/><stop offset=".885" stop-color="#3e6bce"/><stop offset=".901" stop-color="#303997"/><stop offset=".987" stop-color="#2f3695"/><stop offset="1" stop-color="#3b4ca4"/></linearGradient><linearGradient id="g279" x1="0" y1="0" x2="0" y2="1"><stop offset="0" stop-color="#3a48a0"/><stop offset=".309" stop-color="#3a48a0"/><stop offset=".361" stop-color="#4582de"/><stop offset=".387" stop-color="#5aadea"/><stop offset=".594" stop-color="#529ce6"/><stop offset=".811" stop-color="#4481dd"/><stop offset=".827" stop-color="#3c66cb"/><stop offset=".868" stop-color="#3a5cc1"/><stop offset=".884" stop-color="#303897"/><stop offset=".987" stop-color="#2e3594"/><stop offset="1" stop-color="#3b4ba2"/></linearGradient><linearGradient id="g280" x1="0" y1="0" x2="0" y2="1"><stop offset="0" stop-color="#37449d"/><stop offset=".326" stop-color="#37449d"/><stop offset=".378" stop-color="#427bd9"/><stop offset=".404" stop-color="#56a5e8"/><stop offset=".603" stop-color="#4e95e4"/><stop offset=".812" stop-color="#437cd9"/><stop offset=".828" stop-color="#3d68cc"/><stop offset=".902" stop-color="#3a5dc2"/><stop offset=".918" stop-color="#313a98"/><stop offset=".987" stop-color="#2f3695"/><stop offset="1" stop-color="#3b4ca5"/></linearGradient><linearGradient id="g281" x1="0" y1="0" x2="0" y2="1"><stop offset="0" stop-color="#3b4ca4"/><stop offset=".323" stop-color="#3b4ca4"/><stop offset=".387" stop-color="#3a56b7"/><stop offset=".468" stop-color="#3a5cc1"/><stop offset=".545" stop-color="#3e6dcf"/><stop offset=".811" stop-color="#3c64ca"/><stop offset=".827" stop-color="#447fdc"/><stop offset=".895" stop-color="#4072d3"/><stop offset=".91" stop-color="#333d9a"/><stop offset=".987" stop-color="#303997"/><stop offset="1" stop-color="#3b4fa9"/></linearGradient><linearGradient id="g282" x1="0" y1="0" x2="0" y2="1"><stop offset="0" stop-color="#3b4aa2"/><stop offset=".331" stop-color="#3b4aa2"/><stop offset=".382" stop-color="#4481dd"/><stop offset=".407" stop-color="#58a8e9"/><stop offset=".595" stop-color="#4f98e5"/><stop offset=".794" stop-color="#437edb"/><stop offset=".809" stop-color="#4278d7"/><stop offset=".84" stop-color="#3e6bce"/><stop offset=".855" stop-color="#303997"/><stop offset=".987" stop-color="#2f3695"/><stop offset="1" stop-color="#3b4ca4"/></linearGradient><linearGradient id="g283" x1="0" y1="0" x2="0" y2="1"><stop offset="0" stop-color="#3b4aa2"/><stop offset=".334" stop-color="#3b4aa2"/><stop offset=".385" stop-color="#4481dd"/><stop offset=".411" stop-color="#58a9e9"/><stop offset=".596" stop-color="#5099e5"/><stop offset=".792" stop-color="#437fdb"/><stop offset=".807" stop-color="#3e6ed0"/><stop offset=".871" stop-color="#3a61c7"/><stop offset=".887" stop-color="#2e3595"/><stop offset=".987" stop-color="#2d3393"/><stop offset="1" stop-color="#39479f"/></linearGradient><linearGradient id="g284" x1="0" y1="0" x2="0" y2="1"><stop offset="0" stop-color="#3b4da6"/><stop offset=".341" stop-color="#3b4da6"/><stop offset=".406" stop-color="#3a57b8"/><stop offset=".45" stop-color="#3a5dc2"/><stop offset=".529" stop-color="#3e6dcf"/><stop offset=".806" stop-color="#3c64ca"/><stop offset=".822" stop-color="#3b64c9"/><stop offset=".916" stop-color="#3a5bbf"/><stop offset=".932" stop-color="#2f3796"/><stop offset=".987" stop-color="#2e3594"/><stop offset="1" stop-color="#3b4aa1"/></linearGradient><linearGradient id="g285" x1="0" y1="0" x2="0" y2="1"><stop offset="0" stop-color="#3948a0"/><stop offset=".359" stop-color="#3948a0"/><stop offset=".411" stop-color="#4279d8"/><stop offset=".437" stop-color="#529ee6"/><stop offset=".618" stop-color="#4a8fe3"/><stop offset=".81" stop-color="#4177d6"/><stop offset=".825" stop-color="#3d68cc"/><stop offset=".941" stop-color="#3a5dc3"/><stop offset=".957" stop-color="#303997"/><stop offset=".987" stop-color="#2e3695"/><stop offset="1" stop-color="#3b4ba3"/></linearGradient><linearGradient id="g286" x1="0" y1="0" x2="0" y2="1"><stop offset="0" stop-color="#39469f"/><stop offset=".337" stop-color="#39469f"/><stop offset=".389" stop-color="#437edb"/><stop offset=".415" stop-color="#57a7e9"/><stop offset=".609" stop-color="#4f97e5"/><stop offset=".814" stop-color="#437dda"/><stop offset=".829" stop-color="#4480dc"/><stop offset=".86" stop-color="#4072d3"/><stop offset=".876" stop-color="#323b99"/><stop offset=".987" stop-color="#2f3896"/><stop offset="1" stop-color="#3b4da7"/></linearGradient><linearGradient id="g287" x1="0" y1="0" x2="0" y2="1"><stop offset="0" stop-color="#3b4aa1"/><stop offset=".333" stop-color="#3b4aa1"/><stop offset=".384" stop-color="#4480dc"/><stop offset=".409" stop-color="#58a8e9"/><stop offset=".592" stop-color="#4f98e5"/><stop offset=".785" stop-color="#437edb"/><stop offset=".801" stop-color="#4279d8"/><stop offset=".812" stop-color="#3e6ccf"/><stop offset=".827" stop-color="#333e9a"/><stop offset=".987" stop-color="#313a98"/><stop offset="1" stop-color="#3b50ab"/></linearGradient><linearGradient id="g288" x1="0" y1="0" x2="0" y2="1"><stop offset="0" stop-color="#3b51ae"/><stop offset=".344" stop-color="#3b51ae"/><stop offset=".394" stop-color="#4480dd"/><stop offset=".419" stop-color="#53a0e7"/><stop offset=".584" stop-color="#4b90e3"/><stop offset=".759" stop-color="#4278d7"/><stop offset=".774" stop-color="#3b61c8"/><stop offset=".809" stop-color="#3a5abd"/><stop offset=".824" stop-color="#303997"/><stop offset=".987" stop-color="#2e3695"/><stop offset="1" stop-color="#3b4ba3"/></linearGradient><linearGradient id="g289" x1="0" y1="0" x2="0" y2="1"><stop offset="0" stop-color="#3b4ba3"/><stop offset=".32" stop-color="#3b4ba3"/><stop offset=".371" stop-color="#498ce2"/><stop offset=".397" stop-color="#61b9ed"/><stop offset=".579" stop-color="#58a8e9"/><stop offset=".772" stop-color="#488ae2"/><stop offset=".787" stop-color="#4177d6"/><stop offset=".858" stop-color="#3d69cd"/><stop offset=".873" stop-color="#313a98"/><stop offset=".987" stop-color="#2f3796"/><stop offset="1" stop-color="#3b4da6"/></linearGradient><linearGradient id="g290" x1="0" y1="0" x2="0" y2="1"><stop offset="0" stop-color="#39469f"/><stop offset=".333" stop-color="#39469f"/><stop offset=".386" stop-color="#488ae2"/><stop offset=".413" stop-color="#62baed"/><stop offset=".601" stop-color="#58a9e9"/><stop offset=".8" stop-color="#488be2"/><stop offset=".816" stop-color="#3e6cce"/><stop offset=".902" stop-color="#3a5fc5"/><stop offset=".918" stop-color="#333d99"/><stop offset=".987" stop-color="#303997"/><stop offset="1" stop-color="#3b4ea9"/></linearGradient><linearGradient id="g291" x1="0" y1="0" x2="0" y2="1"><stop offset="0" stop-color="#39479f"/><stop offset=".34" stop-color="#39479f"/><stop offset=".407" stop-color="#3a55b5"/><stop offset=".49" stop-color="#3a5dc3"/><stop offset=".572" stop-color="#4177d6"/><stop offset=".816" stop-color="#3e6ed0"/><stop offset=".832" stop-color="#4177d6"/><stop offset=".9" stop-color="#3d6acd"/><stop offset=".916" stop-color="#2f3796"/><stop offset=".986" stop-color="#2e3594"/><stop offset="1" stop-color="#3b4aa1"/></linearGradient><linearGradient id="g292" x1="0" y1="0" x2="0" y2="1"><stop offset="0" stop-color="#3a48a0"/><stop offset=".29" stop-color="#3a48a0"/><stop offset=".343" stop-color="#498ce2"/><stop offset=".37" stop-color="#62bbed"/><stop offset=".585" stop-color="#59aae9"/><stop offset=".812" stop-color="#488ce2"/><stop offset=".828" stop-color="#3d69cd"/><stop offset=".889" stop-color="#3a5dc3"/><stop offset=".905" stop-color="#2f3796"/><stop offset=".987" stop-color="#2e3594"/><stop offset="1" stop-color="#3b4aa1"/></linearGradient><linearGradient id="g293" x1="0" y1="0" x2="0" y2="1"><stop offset="0" stop-color="#39479f"/><stop offset=".283" stop-color="#39479f"/><stop offset=".335" stop-color="#488be2"/><stop offset=".361" stop-color="#63bced"/><stop offset=".569" stop-color="#59aae9"/><stop offset=".788" stop-color="#498ce2"/><stop offset=".803" stop-color="#3b63c9"/><stop offset=".865" stop-color="#3a5bbf"/><stop offset=".881" stop-color="#303897"/><stop offset=".987" stop-color="#2e3695"/><stop offset="1" stop-color="#3b4ba3"/></linearGradient><linearGradient id="g294" x1="0" y1="0" x2="0" y2="1"><stop offset="0" stop-color="#39479f"/><stop offset=".292" stop-color="#39479f"/><stop offset=".359" stop-color="#3a56b6"/><stop offset=".428" stop-color="#3a5ec4"/><stop offset=".508" stop-color="#4178d7"/><stop offset=".799" stop-color="#3f6fd1"/><stop offset=".815" stop-color="#3a60c6"/><stop offset=".885" stop-color="#3a59bc"/><stop offset=".901" stop-color="#313b98"/><stop offset=".987" stop-color="#2f3796"/><stop offset="1" stop-color="#3b4da6"/></linearGradient><linearGradient id="g295" x1="0" y1="0" x2="0" y2="1"><stop offset="0" stop-color="#3b4ea7"/><stop offset=".296" stop-color="#3b4ea7"/><stop offset=".35" stop-color="#498ce2"/><stop offset=".378" stop-color="#60b6ec"/><stop offset=".587" stop-color="#56a5e8"/><stop offset=".807" stop-color="#4688e1"/><stop offset=".823" stop-color="#3d69cd"/><stop offset=".92" stop-color="#3a5dc3"/><stop offset=".936" stop-color="#323c99"/><stop offset=".986" stop-color="#303896"/><stop offset="1" stop-color="#3b4ea7"/></linearGradient><linearGradient id="g296" x1="0" y1="0" x2="0" y2="1"><stop offset="0" stop-color="#3b4fab"/><stop offset=".278" stop-color="#3b4fab"/><stop offset=".333" stop-color="#4e95e4"/><stop offset=".36" stop-color="#66c0ee"/><stop offset=".578" stop-color="#5cafea"/><stop offset=".806" stop-color="#4b90e3"/><stop offset=".822" stop-color="#437cd9"/><stop offset=".929" stop-color="#3f6ed0"/><stop offset=".945" stop-color="#333d9a"/><stop offset=".986" stop-color="#313a97"/><stop offset="1" stop-color="#3b4faa"/></linearGradient><linearGradient id="g297" x1="0" y1="0" x2="0" y2="1"><stop offset="0" stop-color="#3b4da7"/><stop offset=".29" stop-color="#3b4da7"/><stop offset=".343" stop-color="#498de2"/><stop offset=".37" stop-color="#61b8ed"/><stop offset=".571" stop-color="#57a7e8"/><stop offset=".782" stop-color="#4789e1"/><stop offset=".798" stop-color="#437dda"/><stop offset=".892" stop-color="#3f6fd1"/><stop offset=".908" stop-color="#343f9b"/><stop offset=".987" stop-color="#323b98"/><stop offset="1" stop-color="#3b50ac"/></linearGradient><linearGradient id="g298" x1="0" y1="0" x2="0" y2="1"><stop offset="0" stop-color="#39479f"/><stop offset=".329" stop-color="#39479f"/><stop offset=".382" stop-color="#4481dd"/><stop offset=".408" stop-color="#5aabea"/><stop offset=".59" stop-color="#519be6"/><stop offset=".782" stop-color="#4480dc"/><stop offset=".798" stop-color="#4176d5"/><stop offset=".867" stop-color="#3d68cc"/><stop offset=".883" stop-color="#343f9b"/><stop offset=".987" stop-color="#323b98"/><stop offset="1" stop-color="#3b50ac"/></linearGradient><linearGradient id="g299" x1="0" y1="0" x2="0" y2="1"><stop offset="0" stop-color="#37439d"/><stop offset=".328" stop-color="#37439d"/><stop offset=".381" stop-color="#447fdc"/><stop offset=".408" stop-color="#5aacea"/><stop offset=".592" stop-color="#519ce6"/><stop offset=".786" stop-color="#4481dd"/><stop offset=".802" stop-color="#4178d7"/><stop offset=".857" stop-color="#3d6bce"/><stop offset=".873" stop-color="#313a98"/><stop offset=".987" stop-color="#2f3695"/><stop offset="1" stop-color="#3b4ca5"/></linearGradient><linearGradient id="g300" x1="0" y1="0" x2="0" y2="1"><stop offset="0" stop-color="#3a49a0"/><stop offset=".366" stop-color="#3a49a0"/><stop offset=".418" stop-color="#498de2"/><stop offset=".444" stop-color="#63bcee"/><stop offset=".592" stop-color="#59abe9"/><stop offset=".751" stop-color="#498ce2"/><stop offset=".767" stop-color="#3c65ca"/><stop offset=".839" stop-color="#3a5cc1"/><stop offset=".854" stop-color="#303997"/><stop offset=".987" stop-color="#2e3695"/><stop offset="1" stop-color="#3b4ba4"/></linearGradient><linearGradient id="g301" x1="0" y1="0" x2="0" y2="1"><stop offset="0" stop-color="#3b4ea8"/><stop offset=".368" stop-color="#3b4ea8"/><stop offset=".421" stop-color="#4c91e3"/><stop offset=".447" stop-color="#63bdee"/><stop offset=".596" stop-color="#5aabea"/><stop offset=".755" stop-color="#498de2"/><stop offset=".771" stop-color="#3e6bce"/><stop offset=".829" stop-color="#3a5ec5"/><stop offset=".845" stop-color="#333d99"/><stop offset=".987" stop-color="#303997"/><stop offset="1" stop-color="#3b4fa9"/></linearGradient><linearGradient id="g302" x1="0" y1="0" x2="0" y2="1"><stop offset="0" stop-color="#3b4ea8"/><stop offset=".391" stop-color="#3b4ea8"/><stop offset=".445" stop-color="#4686e0"/><stop offset=".471" stop-color="#5aacea"/><stop offset=".622" stop-color="#529ce6"/><stop offset=".783" stop-color="#4481dd"/><stop offset=".799" stop-color="#437dda"/><stop offset=".842" stop-color="#3f70d1"/><stop offset=".858" stop-color="#323c99"/><stop offset=".987" stop-color="#303897"/><stop offset="1" stop-color="#3b4ea8"/></linearGradient><linearGradient id="g303" x1="0" y1="0" x2="0" y2="1"><stop offset="0" stop-color="#3b4da7"/><stop offset=".372" stop-color="#3b4da7"/><stop offset=".425" stop-color="#498ce2"/><stop offset=".451" stop-color="#60b7ec"/><stop offset=".606" stop-color="#57a6e8"/><stop offset=".771" stop-color="#4788e1"/><stop offset=".787" stop-color="#4480dc"/><stop offset=".853" stop-color="#4073d3"/><stop offset=".869" stop-color="#313a98"/><stop offset=".987" stop-color="#2f3796"/><stop offset="1" stop-color="#3b4ca5"/></linearGradient><linearGradient id="g304" x1="0" y1="0" x2="0" y2="1"><stop offset="0" stop-color="#3b4da7"/><stop offset=".374" stop-color="#3b4da7"/><stop offset=".428" stop-color="#498de2"/><stop offset=".455" stop-color="#60b7ec"/><stop offset=".604" stop-color="#57a6e8"/><stop offset=".764" stop-color="#4789e1"/><stop offset=".78" stop-color="#3e6ed0"/><stop offset=".827" stop-color="#3a60c7"/><stop offset=".843" stop-color="#313997"/><stop offset=".987" stop-color="#2f3695"/><stop offset="1" stop-color="#3b4ca4"/></linearGradient><linearGradient id="g305" x1="0" y1="0" x2="0" y2="1"><stop offset="0" stop-color="#3b4ea8"/><stop offset=".397" stop-color="#3b4ea8"/><stop offset=".451" stop-color="#4687e1"/><stop offset=".478" stop-color="#5cafea"/><stop offset=".611" stop-color="#539ee7"/><stop offset=".755" stop-color="#4583de"/><stop offset=".772" stop-color="#4279d7"/><stop offset=".834" stop-color="#3e6cce"/><stop offset=".85" stop-color="#333d9a"/><stop offset=".987" stop-color="#303997"/><stop offset="1" stop-color="#3b4fa9"/></linearGradient><linearGradient id="g306" x1="0" y1="0" x2="0" y2="1"><stop offset="0" stop-color="#3a48a0"/><stop offset=".346" stop-color="#3a48a0"/><stop offset=".399" stop-color="#447fdc"/><stop offset=".425" stop-color="#58a7e9"/><stop offset=".582" stop-color="#4f97e5"/><stop offset=".75" stop-color="#437ddb"/><stop offset=".766" stop-color="#437edb"/><stop offset=".861" stop-color="#3f71d2"/><stop offset=".876" stop-color="#343f9a"/><stop offset=".987" stop-color="#313b98"/><stop offset="1" stop-color="#3b50ab"/></linearGradient><linearGradient id="g307" x1="0" y1="0" x2="0" y2="1"><stop offset="0" stop-color="#3948a0"/><stop offset=".331" stop-color="#3948a0"/><stop offset=".385" stop-color="#4585df"/><stop offset=".411" stop-color="#5db1eb"/><stop offset=".585" stop-color="#54a0e7"/><stop offset=".77" stop-color="#4584df"/><stop offset=".786" stop-color="#4480dc"/><stop offset=".857" stop-color="#4073d3"/><stop offset=".873" stop-color="#333d9a"/><stop offset=".987" stop-color="#313997"/><stop offset="1" stop-color="#3b4faa"/></linearGradient><linearGradient id="g308" x1="0" y1="0" x2="0" y2="1"><stop offset="0" stop-color="#3a48a0"/><stop offset=".337" stop-color="#3a48a0"/><stop offset=".392" stop-color="#4685e0"/><stop offset=".419" stop-color="#5db2eb"/><stop offset=".595" stop-color="#54a1e7"/><stop offset=".781" stop-color="#4585df"/><stop offset=".797" stop-color="#3d69cd"/><stop offset=".877" stop-color="#3a5dc3"/><stop offset=".894" stop-color="#313a98"/><stop offset=".986" stop-color="#2f3696"/><stop offset="1" stop-color="#3b4ca5"/></linearGradient><linearGradient id="g309" x1="0" y1="0" x2="0" y2="1"><stop offset="0" stop-color="#37449e"/><stop offset=".345" stop-color="#37449e"/><stop offset=".397" stop-color="#437edb"/><stop offset=".424" stop-color="#59a9e9"/><stop offset=".579" stop-color="#5099e5"/><stop offset=".744" stop-color="#447fdc"/><stop offset=".76" stop-color="#4175d5"/><stop offset=".876" stop-color="#3d67cc"/><stop offset=".892" stop-color="#333e9a"/><stop offset=".987" stop-color="#313a98"/><stop offset="1" stop-color="#3b50ab"/></linearGradient><linearGradient id="g310" x1="0" y1="0" x2="0" y2="1"><stop offset="0" stop-color="#37449d"/><stop offset=".34" stop-color="#37449d"/><stop offset=".405" stop-color="#3b53b1"/><stop offset=".449" stop-color="#3a5bbf"/><stop offset=".527" stop-color="#4072d3"/><stop offset=".718" stop-color="#3d6acd"/><stop offset=".734" stop-color="#3e6ccf"/><stop offset=".854" stop-color="#3a5fc6"/><stop offset=".87" stop-color="#313a98"/><stop offset=".987" stop-color="#2f3796"/><stop offset="1" stop-color="#3b4da6"/></linearGradient><linearGradient id="g311" x1="0" y1="0" x2="0" y2="1"><stop offset="0" stop-color="#39479f"/><stop offset=".292" stop-color="#39479f"/><stop offset=".345" stop-color="#4789e2"/><stop offset=".371" stop-color="#61b9ed"/><stop offset=".544" stop-color="#58a8e9"/><stop offset=".728" stop-color="#478ae2"/><stop offset=".743" stop-color="#3f6fd0"/><stop offset=".832" stop-color="#3b61c7"/><stop offset=".848" stop-color="#2e3695"/><stop offset=".987" stop-color="#2d3493"/><stop offset="1" stop-color="#3a48a0"/></linearGradient><linearGradient id="g312" x1="0" y1="0" x2="0" y2="1"><stop offset="0" stop-color="#3b4da7"/><stop offset=".283" stop-color="#3b4da7"/><stop offset=".337" stop-color="#4e95e4"/><stop offset=".364" stop-color="#68c2ee"/><stop offset=".555" stop-color="#5db1eb"/><stop offset=".758" stop-color="#4c92e4"/><stop offset=".774" stop-color="#3f6ed0"/><stop offset=".82" stop-color="#3b61c7"/><stop offset=".836" stop-color="#2f3695"/><stop offset=".987" stop-color="#2e3493"/><stop offset="1" stop-color="#3a48a0"/></linearGradient><linearGradient id="g313" x1="0" y1="0" x2="0" y2="1"><stop offset="0" stop-color="#3a49a0"/><stop offset=".307" stop-color="#3a49a0"/><stop offset=".362" stop-color="#488be2"/><stop offset=".39" stop-color="#62baed"/><stop offset=".575" stop-color="#59a9e9"/><stop offset=".77" stop-color="#488be2"/><stop offset=".787" stop-color="#3d68cc"/><stop offset=".863" stop-color="#3a5dc3"/><stop offset=".879" stop-color="#313a98"/><stop offset=".986" stop-color="#2f3796"/><stop offset="1" stop-color="#3b4da6"/></linearGradient><linearGradient id="g314" x1="0" y1="0" x2="0" y2="1"><stop offset="0" stop-color="#3b4da6"/><stop offset=".297" stop-color="#3b4da6"/><stop offset=".352" stop-color="#4687e1"/><stop offset=".38" stop-color="#5cafea"/><stop offset=".572" stop-color="#539fe7"/><stop offset=".775" stop-color="#4583de"/><stop offset=".792" stop-color="#3a60c6"/><stop offset=".88" stop-color="#3a59bc"/><stop offset=".896" stop-color="#323b98"/><stop offset=".986" stop-color="#2f3796"/><stop offset="1" stop-color="#3b4da7"/></linearGradient><linearGradient id="g315" x1="0" y1="0" x2="0" y2="1"><stop offset="0" stop-color="#3b51ad"/><stop offset=".283" stop-color="#3b51ad"/><stop offset=".339" stop-color="#4b91e3"/><stop offset=".368" stop-color="#61b9ed"/><stop offset=".571" stop-color="#58a8e9"/><stop offset=".785" stop-color="#488ae2"/><stop offset=".802" stop-color="#4279d7"/><stop offset=".873" stop-color="#3e6bce"/><stop offset=".89" stop-color="#2f3796"/><stop offset=".986" stop-color="#2e3594"/><stop offset="1" stop-color="#3b4aa2"/></linearGradient><linearGradient id="g316" x1="0" y1="0" x2="0" y2="1"><stop offset="0" stop-color="#3b4ba3"/><stop offset=".283" stop-color="#3b4ba3"/><stop offset=".34" stop-color="#498de2"/><stop offset=".368" stop-color="#62baed"/><stop offset=".568" stop-color="#58a9e9"/><stop offset=".779" stop-color="#488be2"/><stop offset=".796" stop-color="#4176d6"/><stop offset=".881" stop-color="#3d69cd"/><stop offset=".898" stop-color="#313a98"/><stop offset=".986" stop-color="#2f3796"/><stop offset="1" stop-color="#3b4ca5"/></linearGradient><linearGradient id="g317" x1="0" y1="0" x2="0" y2="1"><stop offset="0" stop-color="#3a48a0"/><stop offset=".335" stop-color="#3a48a0"/><stop offset=".356" stop-color="#4585e0"/><stop offset=".384" stop-color="#5db1eb"/><stop offset=".579" stop-color="#54a1e7"/><stop offset=".785" stop-color="#4584df"/><stop offset=".801" stop-color="#427bd9"/><stop offset=".883" stop-color="#3e6ed0"/><stop offset=".9" stop-color="#313a98"/><stop offset=".986" stop-color="#2f3796"/><stop offset="1" stop-color="#3b4da6"/></linearGradient><linearGradient id="g318" x1="0" y1="0" x2="0" y2="1"><stop offset="0" stop-color="#3b49a1"/><stop offset=".338" stop-color="#3b49a1"/><stop offset=".359" stop-color="#539ee6"/><stop offset=".387" stop-color="#76ceee"/><stop offset=".591" stop-color="#66c0ee"/><stop offset=".806" stop-color="#53a0e7"/><stop offset=".822" stop-color="#3c64c9"/><stop offset=".887" stop-color="#3a5bbf"/><stop offset=".904" stop-color="#303997"/><stop offset=".986" stop-color="#2e3695"/><stop offset="1" stop-color="#3b4ba4"/></linearGradient><linearGradient id="g319" x1="0" y1="0" x2="0" y2="1"><stop offset="0" stop-color="#3b4da6"/><stop offset=".343" stop-color="#3b4da6"/><stop offset=".364" stop-color="#54a1e7"/><stop offset=".393" stop-color="#76cfee"/><stop offset=".595" stop-color="#67c1ee"/><stop offset=".808" stop-color="#54a0e7"/><stop offset=".825" stop-color="#3c67cb"/><stop offset=".89" stop-color="#3a5dc2"/><stop offset=".907" stop-color="#2f3695"/><stop offset=".986" stop-color="#2e3493"/><stop offset="1" stop-color="#3a49a0"/></linearGradient><linearGradient id="g320" x1="0" y1="0" x2="0" y2="1"><stop offset="0" stop-color="#3b50ab"/><stop offset=".351" stop-color="#3b50ab"/><stop offset=".387" stop-color="#3a5dc3"/><stop offset=".519" stop-color="#3e6dcf"/><stop offset=".605" stop-color="#4687e1"/><stop offset=".819" stop-color="#437dda"/><stop offset=".836" stop-color="#4073d3"/><stop offset=".905" stop-color="#3c66ca"/><stop offset=".922" stop-color="#313a98"/><stop offset=".986" stop-color="#2f3796"/><stop offset="1" stop-color="#3b4da6"/></linearGradient><linearGradient id="g321" x1="0" y1="0" x2="0" y2="1"><stop offset="0" stop-color="#3b4ea8"/><stop offset=".342" stop-color="#3b4ea8"/><stop offset=".363" stop-color="#488be2"/><stop offset=".391" stop-color="#5fb4ec"/><stop offset=".592" stop-color="#56a3e8"/><stop offset=".804" stop-color="#4686e1"/><stop offset=".821" stop-color="#437edb"/><stop offset=".888" stop-color="#3f71d2"/><stop offset=".905" stop-color="#333d9a"/><stop offset=".986" stop-color="#303997"/><stop offset="1" stop-color="#3b4faa"/></linearGradient><linearGradient id="g322" x1="0" y1="0" x2="0" y2="1"><stop offset="0" stop-color="#3b4ba2"/><stop offset=".321" stop-color="#3b4ba2"/><stop offset=".343" stop-color="#4b90e3"/><stop offset=".371" stop-color="#64beee"/><stop offset=".581" stop-color="#5badea"/><stop offset=".803" stop-color="#4a8ee3"/><stop offset=".82" stop-color="#3f6fd1"/><stop offset=".884" stop-color="#3b61c8"/><stop offset=".901" stop-color="#333d99"/><stop offset=".986" stop-color="#303997"/><stop offset="1" stop-color="#3b4ea9"/></linearGradient><linearGradient id="g323" x1="0" y1="0" x2="0" y2="1"><stop offset="0" stop-color="#38459e"/><stop offset=".322" stop-color="#38459e"/><stop offset=".344" stop-color="#498de2"/><stop offset=".372" stop-color="#65bfee"/><stop offset=".583" stop-color="#5baeea"/><stop offset=".806" stop-color="#4a8fe3"/><stop offset=".823" stop-color="#3c66cb"/><stop offset=".877" stop-color="#3a5cc1"/><stop offset=".894" stop-color="#2f3796"/><stop offset=".986" stop-color="#2e3594"/><stop offset="1" stop-color="#3b4aa1"/></linearGradient><linearGradient id="g324" x1="0" y1="0" x2="0" y2="1"><stop offset="0" stop-color="#3a49a0"/><stop offset=".332" stop-color="#3a49a0"/><stop offset=".353" stop-color="#4789e1"/><stop offset=".38" stop-color="#60b6ec"/><stop offset=".574" stop-color="#57a6e8"/><stop offset=".78" stop-color="#4788e1"/><stop offset=".796" stop-color="#4073d3"/><stop offset=".831" stop-color="#3c65ca"/><stop offset=".848" stop-color="#2f3695"/><stop offset=".986" stop-color="#2e3493"/><stop offset="1" stop-color="#3a49a0"/></linearGradient><linearGradient id="g325" x1="0" y1="0" x2="0" y2="1"><stop offset="0" stop-color="#3b4da6"/><stop offset=".383" stop-color="#3b4da6"/><stop offset=".403" stop-color="#4d94e4"/><stop offset=".431" stop-color="#67c1ee"/><stop offset=".598" stop-color="#5db0eb"/><stop offset=".777" stop-color="#4c91e3"/><stop offset=".793" stop-color="#447fdc"/><stop offset=".828" stop-color="#4072d3"/><stop offset=".845" stop-color="#303897"/><stop offset=".986" stop-color="#2e3595"/><stop offset="1" stop-color="#3b4ba3"/></linearGradient><linearGradient id="g326" x1="0" y1="0" x2="0" y2="1"><stop offset="0" stop-color="#3b4fa9"/><stop offset=".388" stop-color="#3b4fa9"/><stop offset=".409" stop-color="#4e96e5"/><stop offset=".436" stop-color="#68c2ee"/><stop offset=".606" stop-color="#5db1eb"/><stop offset=".787" stop-color="#4c92e4"/><stop offset=".804" stop-color="#437cda"/><stop offset=".847" stop-color="#3f6fd1"/><stop offset=".864" stop-color="#333d9a"/><stop offset=".986" stop-color="#313997"/><stop offset="1" stop-color="#3b4faa"/></linearGradient><linearGradient id="g327" x1="0" y1="0" x2="0" y2="1"><stop offset="0" stop-color="#3b4aa1"/><stop offset=".478" stop-color="#3b4aa1"/><stop offset=".499" stop-color="#4c93e4"/><stop offset=".527" stop-color="#68c2ee"/><stop offset=".653" stop-color="#5db2eb"/><stop offset=".791" stop-color="#4c92e4"/><stop offset=".807" stop-color="#437dda"/><stop offset=".879" stop-color="#3f70d1"/><stop offset=".896" stop-color="#343f9b"/><stop offset=".986" stop-color="#323b98"/><stop offset="1" stop-color="#3b50ac"/></linearGradient><linearGradient id="g328" x1="0" y1="0" x2="0" y2="1"><stop offset="0" stop-color="#39479f"/><stop offset=".467" stop-color="#39479f"/><stop offset=".488" stop-color="#5099e5"/><stop offset=".517" stop-color="#71caee"/><stop offset=".654" stop-color="#63bced"/><stop offset=".802" stop-color="#519be6"/><stop offset=".82" stop-color="#3e6dcf"/><stop offset=".9" stop-color="#3a5fc6"/><stop offset=".917" stop-color="#343f9b"/><stop offset=".986" stop-color="#323b99"/><stop offset="1" stop-color="#3b50ac"/></linearGradient><linearGradient id="g329" x1="0" y1="0" x2="0" y2="1"><stop offset="0" stop-color="#3a48a0"/><stop offset=".494" stop-color="#3a48a0"/><stop offset=".516" stop-color="#4c93e4"/><stop offset=".545" stop-color="#6ac3ee"/><stop offset=".679" stop-color="#5eb3eb"/><stop offset=".825" stop-color="#4d94e4"/><stop offset=".843" stop-color="#3d68cc"/><stop offset=".906" stop-color="#3a5dc2"/><stop offset=".923" stop-color="#343e9a"/><stop offset=".985" stop-color="#313b98"/><stop offset="1" stop-color="#3b50ab"/></linearGradient><linearGradient id="g330" x1="0" y1="0" x2="0" y2="1"><stop offset="0" stop-color="#3b4da6"/><stop offset=".431" stop-color="#3b4da6"/><stop offset=".452" stop-color="#55a2e7"/><stop offset=".481" stop-color="#77cfee"/><stop offset=".638" stop-color="#67c1ee"/><stop offset=".807" stop-color="#54a1e7"/><stop offset=".824" stop-color="#437cda"/><stop offset=".871" stop-color="#3f6fd1"/><stop offset=".888" stop-color="#323b98"/><stop offset=".986" stop-color="#2f3796"/><stop offset="1" stop-color="#3b4da7"/></linearGradient><linearGradient id="g331" x1="0" y1="0" x2="0" y2="1"><stop offset="0" stop-color="#3b4ca4"/><stop offset=".417" stop-color="#3b4ca4"/><stop offset=".438" stop-color="#54a1e7"/><stop offset=".465" stop-color="#77d0ee"/><stop offset=".613" stop-color="#68c2ee"/><stop offset=".773" stop-color="#54a1e7"/><stop offset=".789" stop-color="#4279d8"/><stop offset=".846" stop-color="#3e6ccf"/><stop offset=".862" stop-color="#303997"/><stop offset=".986" stop-color="#2f3695"/><stop offset="1" stop-color="#3b4ca4"/></linearGradient><linearGradient id="g332" x1="0" y1="0" x2="0" y2="1"><stop offset="0" stop-color="#3a49a0"/><stop offset=".406" stop-color="#3a49a0"/><stop offset=".44" stop-color="#3a59bc"/><stop offset=".52" stop-color="#3c67cb"/><stop offset=".601" stop-color="#4688e1"/><stop offset=".75" stop-color="#437ddb"/><stop offset=".766" stop-color="#437bd9"/><stop offset=".818" stop-color="#3f6ed0"/><stop offset=".834" stop-color="#303897"/><stop offset=".986" stop-color="#2e3695"/><stop offset="1" stop-color="#3b4ba3"/></linearGradient><linearGradient id="g333" x1="0" y1="0" x2="0" y2="1"><stop offset="0" stop-color="#38459e"/><stop offset=".317" stop-color="#38459e"/><stop offset=".339" stop-color="#4a8fe3"/><stop offset=".368" stop-color="#67c1ee"/><stop offset=".583" stop-color="#5db1eb"/><stop offset=".809" stop-color="#4c91e3"/><stop offset=".827" stop-color="#3e6ccf"/><stop offset=".859" stop-color="#3a5fc6"/><stop offset=".876" stop-color="#303997"/><stop offset=".985" stop-color="#2f3695"/><stop offset="1" stop-color="#3b4ca4"/></linearGradient><linearGradient id="g334" x1="0" y1="0" x2="0" y2="1"><stop offset="0" stop-color="#3948a0"/><stop offset=".307" stop-color="#3948a0"/><stop offset=".329" stop-color="#4f98e5"/><stop offset=".359" stop-color="#70c9ee"/><stop offset=".598" stop-color="#62baed"/><stop offset=".848" stop-color="#509ae5"/><stop offset=".866" stop-color="#3d69cc"/><stop offset=".866" stop-color="#3a5dc3"/><stop offset=".88" stop-color="#2f3796"/><stop offset=".985" stop-color="#2e3594"/><stop offset="1" stop-color="#3b4aa1"/></linearGradient><linearGradient id="g335" x1="0" y1="0" x2="0" y2="1"><stop offset="0" stop-color="#3947a0"/><stop offset=".328" stop-color="#3947a0"/><stop offset=".351" stop-color="#4c91e3"/><stop offset=".381" stop-color="#69c2ee"/><stop offset=".606" stop-color="#5db2eb"/><stop offset=".844" stop-color="#4c93e4"/><stop offset=".862" stop-color="#3c67cb"/><stop offset=".862" stop-color="#3a5dc2"/><stop offset=".881" stop-color="#2f3796"/><stop offset=".985" stop-color="#2e3594"/><stop offset="1" stop-color="#3b4aa1"/></linearGradient><linearGradient id="g336" x1="0" y1="0" x2="0" y2="1"><stop offset="0" stop-color="#3948a0"/><stop offset=".394" stop-color="#3948a0"/><stop offset=".416" stop-color="#4e96e5"/><stop offset=".444" stop-color="#6ec7ee"/><stop offset=".616" stop-color="#61b9ed"/><stop offset=".8" stop-color="#4f98e5"/><stop offset=".817" stop-color="#437cda"/><stop offset=".855" stop-color="#3f6fd1"/><stop offset=".872" stop-color="#313a97"/><stop offset=".986" stop-color="#2f3695"/><stop offset="1" stop-color="#3b4ca5"/></linearGradient><linearGradient id="g337" x1="0" y1="0" x2="0" y2="1"><stop offset="0" stop-color="#3b4ba2"/><stop offset=".374" stop-color="#3b4ba2"/><stop offset=".396" stop-color="#54a0e7"/><stop offset=".424" stop-color="#77d0ee"/><stop offset=".6" stop-color="#68c2ee"/><stop offset=".787" stop-color="#54a1e7"/><stop offset=".804" stop-color="#437edb"/><stop offset=".869" stop-color="#3f70d2"/><stop offset=".886" stop-color="#2f3796"/><stop offset=".986" stop-color="#2e3594"/><stop offset="1" stop-color="#3b4aa1"/></linearGradient><linearGradient id="g338" x1="0" y1="0" x2="0" y2="1"><stop offset="0" stop-color="#3b4ba2"/><stop offset=".384" stop-color="#3b4ba2"/><stop offset=".406" stop-color="#54a1e7"/><stop offset=".435" stop-color="#78d0ee"/><stop offset=".619" stop-color="#69c2ee"/><stop offset=".814" stop-color="#55a2e7"/><stop offset=".832" stop-color="#3e6bce"/><stop offset=".9" stop-color="#3a5fc5"/><stop offset=".917" stop-color="#2f3695"/><stop offset=".985" stop-color="#2e3493"/><stop offset="1" stop-color="#3a49a0"/></linearGradient><linearGradient id="g339" x1="0" y1="0" x2="0" y2="1"><stop offset="0" stop-color="#3b4ca4"/><stop offset=".417" stop-color="#3b4ca4"/><stop offset=".44" stop-color="#519be6"/><stop offset=".471" stop-color="#70c9ee"/><stop offset=".656" stop-color="#62bbed"/><stop offset=".853" stop-color="#509ae6"/><stop offset=".871" stop-color="#437cda"/><stop offset=".93" stop-color="#3f6fd1"/><stop offset=".948" stop-color="#2f3695"/><stop offset=".985" stop-color="#2e3493"/><stop offset="1" stop-color="#3a49a0"/></linearGradient><linearGradient id="g340" x1="0" y1="0" x2="0" y2="1"><stop offset="0" stop-color="#3b4ea8"/><stop offset=".469" stop-color="#3b4ea8"/><stop offset=".491" stop-color="#5cb0eb"/><stop offset=".521" stop-color="#7fd1dd"/><stop offset=".678" stop-color="#76ceee"/><stop offset=".847" stop-color="#5db0eb"/><stop offset=".865" stop-color="#3e6ccf"/><stop offset=".923" stop-color="#3a5fc6"/><stop offset=".941" stop-color="#303897"/><stop offset=".985" stop-color="#2e3595"/><stop offset="1" stop-color="#3b4ba2"/></linearGradient><linearGradient id="g341" x1="0" y1="0" x2="0" y2="1"><stop offset="0" stop-color="#3b4da6"/><stop offset=".451" stop-color="#3b4da6"/><stop offset=".472" stop-color="#5cb0eb"/><stop offset=".501" stop-color="#7fd1dc"/><stop offset=".652" stop-color="#77cfee"/><stop offset=".815" stop-color="#5db1eb"/><stop offset=".833" stop-color="#3e6ed0"/><stop offset=".892" stop-color="#3a61c7"/><stop offset=".91" stop-color="#2f3695"/><stop offset=".986" stop-color="#2e3493"/><stop offset="1" stop-color="#3a49a0"/></linearGradient><linearGradient id="g342" x1="0" y1="0" x2="0" y2="1"><stop offset="0" stop-color="#3a48a0"/><stop offset=".383" stop-color="#3a48a0"/><stop offset=".405" stop-color="#519ce6"/><stop offset=".433" stop-color="#74ccee"/><stop offset=".617" stop-color="#65bfee"/><stop offset=".812" stop-color="#529ee6"/><stop offset=".83" stop-color="#4072d3"/><stop offset=".895" stop-color="#3c65ca"/><stop offset=".912" stop-color="#2f3695"/><stop offset=".986" stop-color="#2e3493"/><stop offset="1" stop-color="#3a49a0"/></linearGradient><linearGradient id="g343" x1="0" y1="0" x2="0" y2="1"><stop offset="0" stop-color="#38459e"/><stop offset=".361" stop-color="#38459e"/><stop offset=".383" stop-color="#55a2e7"/><stop offset=".411" stop-color="#7bd2ea"/><stop offset=".608" stop-color="#6dc7ee"/><stop offset=".817" stop-color="#58a7e9"/><stop offset=".834" stop-color="#3c66cb"/><stop offset=".892" stop-color="#3a5cc1"/><stop offset=".909" stop-color="#313a98"/><stop offset=".986" stop-color="#2f3695"/><stop offset="1" stop-color="#3b4ca5"/></linearGradient><linearGradient id="g344" x1="0" y1="0" x2="0" y2="1"><stop offset="0" stop-color="#3b4ba2"/><stop offset=".36" stop-color="#3b4ba2"/><stop offset=".381" stop-color="#57a6e8"/><stop offset=".41" stop-color="#7bd2e9"/><stop offset=".607" stop-color="#6ec7ee"/><stop offset=".815" stop-color="#58a8e9"/><stop offset=".832" stop-color="#3d68cc"/><stop offset=".885" stop-color="#3a5dc2"/><stop offset=".902" stop-color="#323c99"/><stop offset=".986" stop-color="#303897"/><stop offset="1" stop-color="#3b4ea8"/></linearGradient><linearGradient id="g345" x1="0" y1="0" x2="0" y2="1"><stop offset="0" stop-color="#3b4da6"/><stop offset=".388" stop-color="#3b4da6"/><stop offset=".41" stop-color="#54a0e7"/><stop offset=".439" stop-color="#76ceee"/><stop offset=".625" stop-color="#66c0ee"/><stop offset=".822" stop-color="#53a0e7"/><stop offset=".84" stop-color="#3d68cc"/><stop offset=".894" stop-color="#3a5dc2"/><stop offset=".911" stop-color="#323c99"/><stop offset=".985" stop-color="#303897"/><stop offset="1" stop-color="#3b4ea8"/></linearGradient><linearGradient id="g346" x1="0" y1="0" x2="0" y2="1"><stop offset="0" stop-color="#3b4da6"/><stop offset=".401" stop-color="#3b4da6"/><stop offset=".423" stop-color="#539ee6"/><stop offset=".453" stop-color="#73ccee"/><stop offset=".633" stop-color="#64beee"/><stop offset=".824" stop-color="#529de6"/><stop offset=".842" stop-color="#3d68cc"/><stop offset=".902" stop-color="#3a5dc2"/><stop offset=".92" stop-color="#333d99"/><stop offset=".985" stop-color="#303997"/><stop offset="1" stop-color="#3b4fa9"/></linearGradient><linearGradient id="g347" x1="0" y1="0" x2="0" y2="1"><stop offset="0" stop-color="#3b4ca4"/><stop offset=".381" stop-color="#3b4ca4"/><stop offset=".403" stop-color="#57a5e8"/><stop offset=".433" stop-color="#7bd2eb"/><stop offset=".622" stop-color="#6cc6ee"/><stop offset=".824" stop-color="#57a6e8"/><stop offset=".842" stop-color="#3f70d2"/><stop offset=".895" stop-color="#3b63c9"/><stop offset=".913" stop-color="#35409b"/><stop offset=".985" stop-color="#323c99"/><stop offset="1" stop-color="#3b51ad"/></linearGradient><linearGradient id="g348" x1="0" y1="0" x2="0" y2="1"><stop offset="0" stop-color="#3b4da7"/><stop offset=".397" stop-color="#3b4da7"/><stop offset=".418" stop-color="#53a0e7"/><stop offset=".448" stop-color="#74cdee"/><stop offset=".633" stop-color="#65bfee"/><stop offset=".83" stop-color="#539ee6"/><stop offset=".847" stop-color="#3b62c8"/><stop offset=".865" stop-color="#3a5bbe"/><stop offset=".883" stop-color="#343f9b"/><stop offset=".985" stop-color="#323c99"/><stop offset="1" stop-color="#3b51ad"/></linearGradient><linearGradient id="g349" x1="0" y1="0" x2="0" y2="1"><stop offset="0" stop-color="#3b4ba3"/><stop offset=".402" stop-color="#3b4ba3"/><stop offset=".439" stop-color="#3a5bbe"/><stop offset=".577" stop-color="#3d69cd"/><stop offset=".665" stop-color="#4789e1"/><stop offset=".847" stop-color="#437edb"/><stop offset=".865" stop-color="#4279d8"/><stop offset=".894" stop-color="#3e6ccf"/><stop offset=".912" stop-color="#333e9a"/><stop offset=".985" stop-color="#313a98"/><stop offset="1" stop-color="#3b4faa"/></linearGradient><linearGradient id="g350" x1="0" y1="0" x2="0" y2="1"><stop offset="0" stop-color="#39479f"/><stop offset=".407" stop-color="#39479f"/><stop offset=".43" stop-color="#58a8e9"/><stop offset=".46" stop-color="#7dd1e2"/><stop offset=".657" stop-color="#73cbee"/><stop offset=".866" stop-color="#5badea"/><stop offset=".885" stop-color="#3c65ca"/><stop offset=".929" stop-color="#3a5cc0"/><stop offset=".947" stop-color="#323c99"/><stop offset=".985" stop-color="#303897"/><stop offset="1" stop-color="#3b4ea8"/></linearGradient><linearGradient id="g351" x1="0" y1="0" x2="0" y2="1"><stop offset="0" stop-color="#38469f"/><stop offset=".392" stop-color="#38469f"/><stop offset=".415" stop-color="#5cb0eb"/><stop offset=".446" stop-color="#81d0d4"/><stop offset=".651" stop-color="#7bd2eb"/><stop offset=".869" stop-color="#60b7ec"/><stop offset=".887" stop-color="#3e6ed0"/><stop offset=".94" stop-color="#3a60c7"/><stop offset=".959" stop-color="#343e9a"/><stop offset=".985" stop-color="#313b98"/><stop offset="1" stop-color="#3b50ab"/></linearGradient><linearGradient id="g352" x1="0" y1="0" x2="0" y2="1"><stop offset="0" stop-color="#3b4ba2"/><stop offset=".408" stop-color="#3b4ba2"/><stop offset=".431" stop-color="#5aacea"/><stop offset=".461" stop-color="#7ed1e0"/><stop offset=".652" stop-color="#74cdee"/><stop offset=".854" stop-color="#5baeea"/><stop offset=".873" stop-color="#4074d4"/><stop offset=".942" stop-color="#3c67cb"/><stop offset=".961" stop-color="#323c99"/><stop offset=".985" stop-color="#303897"/><stop offset="1" stop-color="#3b4ea8"/></linearGradient><linearGradient id="g353" x1="0" y1="0" x2="0" y2="1"><stop offset="0" stop-color="#3b4ba3"/><stop offset=".36" stop-color="#3b4ba3"/><stop offset=".382" stop-color="#5cafea"/><stop offset=".412" stop-color="#7fd1db"/><stop offset=".624" stop-color="#77cfee"/><stop offset=".849" stop-color="#5db2eb"/><stop offset=".867" stop-color="#3b64c9"/><stop offset=".907" stop-color="#3a5bbf"/><stop offset=".925" stop-color="#313a98"/><stop offset=".985" stop-color="#2f3796"/><stop offset="1" stop-color="#3b4ca5"/></linearGradient><linearGradient id="g354" x1="0" y1="0" x2="0" y2="1"><stop offset="0" stop-color="#38459e"/><stop offset=".364" stop-color="#38459e"/><stop offset=".386" stop-color="#5aacea"/><stop offset=".416" stop-color="#7fd1da"/><stop offset=".631" stop-color="#78d0ee"/><stop offset=".858" stop-color="#5eb2eb"/><stop offset=".876" stop-color="#3e6dcf"/><stop offset=".876" stop-color="#3a5fc6"/><stop offset=".889" stop-color="#333d9a"/><stop offset=".985" stop-color="#313a98"/><stop offset="1" stop-color="#3b4faa"/></linearGradient><linearGradient id="g355" x1="0" y1="0" x2="0" y2="1"><stop offset="0" stop-color="#36419c"/><stop offset=".354" stop-color="#36419c"/><stop offset=".377" stop-color="#5cb0eb"/><stop offset=".407" stop-color="#82d0d1"/><stop offset=".624" stop-color="#7cd2e8"/><stop offset=".853" stop-color="#61b9ed"/><stop offset=".871" stop-color="#4072d3"/><stop offset=".884" stop-color="#3c64ca"/><stop offset=".902" stop-color="#313997"/><stop offset=".985" stop-color="#2f3695"/><stop offset="1" stop-color="#3b4ca4"/></linearGradient><linearGradient id="g356" x1="0" y1="0" x2="0" y2="1"><stop offset="0" stop-color="#39479f"/><stop offset=".33" stop-color="#39479f"/><stop offset=".353" stop-color="#64bdee"/><stop offset=".383" stop-color="#8fd3b8"/><stop offset=".615" stop-color="#80d1d9"/><stop offset=".859" stop-color="#6ac3ee"/><stop offset=".877" stop-color="#4071d2"/><stop offset=".877" stop-color="#3c64c9"/><stop offset=".895" stop-color="#303897"/><stop offset=".985" stop-color="#2e3595"/><stop offset="1" stop-color="#3b4ba3"/></linearGradient><linearGradient id="g357" x1="0" y1="0" x2="0" y2="1"><stop offset="0" stop-color="#3b4ca5"/><stop offset=".353" stop-color="#3b4ca5"/><stop offset=".375" stop-color="#62baed"/><stop offset=".405" stop-color="#86d1c8"/><stop offset=".63" stop-color="#7dd1e3"/><stop offset=".868" stop-color="#64bdee"/><stop offset=".886" stop-color="#437dda"/><stop offset=".886" stop-color="#3f6fd1"/><stop offset=".886" stop-color="#313b98"/><stop offset=".985" stop-color="#2f3796"/><stop offset="1" stop-color="#3b4da6"/></linearGradient><linearGradient id="g358" x1="0" y1="0" x2="0" y2="1"><stop offset="0" stop-color="#39479f"/><stop offset=".345" stop-color="#39479f"/><stop offset=".367" stop-color="#63bcee"/><stop offset=".397" stop-color="#8dd2bb"/><stop offset=".622" stop-color="#7fd1db"/><stop offset=".858" stop-color="#68c2ee"/><stop offset=".876" stop-color="#4279d8"/><stop offset=".876" stop-color="#3e6ccf"/><stop offset=".884" stop-color="#343f9b"/><stop offset=".985" stop-color="#323b98"/><stop offset="1" stop-color="#3b50ac"/></linearGradient><linearGradient id="g359" x1="0" y1="0" x2="0" y2="1"><stop offset="0" stop-color="#3a48a0"/><stop offset=".34" stop-color="#3a48a0"/><stop offset=".362" stop-color="#64beee"/><stop offset=".392" stop-color="#8fd3b7"/><stop offset=".613" stop-color="#80d1d9"/><stop offset=".845" stop-color="#6ac3ee"/><stop offset=".863" stop-color="#3b63c9"/><stop offset=".863" stop-color="#3a5bbf"/><stop offset=".876" stop-color="#333e9a"/><stop offset=".985" stop-color="#313a98"/><stop offset="1" stop-color="#3b4faa"/></linearGradient><linearGradient id="g360" x1="0" y1="0" x2="0" y2="1"><stop offset="0" stop-color="#39479f"/><stop offset=".326" stop-color="#39479f"/><stop offset=".348" stop-color="#63bcee"/><stop offset=".378" stop-color="#8dd2ba"/><stop offset=".606" stop-color="#7fd1db"/><stop offset=".846" stop-color="#69c2ee"/><stop offset=".863" stop-color="#427bd9"/><stop offset=".863" stop-color="#3e6dd0"/><stop offset=".875" stop-color="#313b98"/><stop offset=".985" stop-color="#2f3796"/><stop offset="1" stop-color="#3b4da6"/></linearGradient><linearGradient id="g361" x1="0" y1="0" x2="0" y2="1"><stop offset="0" stop-color="#37449d"/><stop offset=".312" stop-color="#37449d"/><stop offset=".334" stop-color="#69c3ee"/><stop offset=".365" stop-color="#9bd5a0"/><stop offset=".596" stop-color="#86d1c9"/><stop offset=".839" stop-color="#72cbee"/><stop offset=".857" stop-color="#3f71d2"/><stop offset=".902" stop-color="#3b64c9"/><stop offset=".92" stop-color="#313a98"/><stop offset=".985" stop-color="#2f3796"/><stop offset="1" stop-color="#3b4ca5"/></linearGradient><linearGradient id="g362" x1="0" y1="0" x2="0" y2="1"><stop offset="0" stop-color="#37449d"/><stop offset=".339" stop-color="#37449d"/><stop offset=".362" stop-color="#64beee"/><stop offset=".393" stop-color="#92d3b2"/><stop offset=".625" stop-color="#80d0d6"/><stop offset=".868" stop-color="#6cc5ee"/><stop offset=".887" stop-color="#4176d5"/><stop offset=".927" stop-color="#3d68cc"/><stop offset=".946" stop-color="#323c99"/><stop offset=".985" stop-color="#303997"/><stop offset="1" stop-color="#3b4ea8"/></linearGradient><linearGradient id="g363" x1="0" y1="0" x2="0" y2="1"><stop offset="0" stop-color="#37449e"/><stop offset=".329" stop-color="#37449e"/><stop offset=".366" stop-color="#3a5dc2"/><stop offset=".532" stop-color="#4177d6"/><stop offset=".621" stop-color="#5cafea"/><stop offset=".863" stop-color="#54a0e7"/><stop offset=".881" stop-color="#3c64ca"/><stop offset=".883" stop-color="#3a5bc0"/><stop offset=".901" stop-color="#323b99"/><stop offset=".985" stop-color="#2f3896"/><stop offset="1" stop-color="#3b4ea7"/></linearGradient><linearGradient id="g364" x1="0" y1="0" x2="0" y2="1"><stop offset="0" stop-color="#38459e"/><stop offset=".427" stop-color="#38459e"/><stop offset=".45" stop-color="#57a7e8"/><stop offset=".48" stop-color="#7dd1e3"/><stop offset=".672" stop-color="#72cbee"/><stop offset=".876" stop-color="#5aacea"/><stop offset=".894" stop-color="#3f6fd1"/><stop offset=".894" stop-color="#3b61c8"/><stop offset=".894" stop-color="#2f3896"/><stop offset=".985" stop-color="#2e3594"/><stop offset="1" stop-color="#3b4ba2"/></linearGradient><linearGradient id="g365" x1="0" y1="0" x2="0" y2="1"><stop offset="0" stop-color="#3a48a0"/><stop offset=".42" stop-color="#3a48a0"/><stop offset=".443" stop-color="#5eb3eb"/><stop offset=".474" stop-color="#81d0d2"/><stop offset=".684" stop-color="#7bd2e9"/><stop offset=".907" stop-color="#61b8ed"/><stop offset=".925" stop-color="#4176d6"/><stop offset=".925" stop-color="#3d69cd"/><stop offset=".925" stop-color="#333d99"/><stop offset=".984" stop-color="#303997"/><stop offset="1" stop-color="#3b4fa9"/></linearGradient><linearGradient id="g366" x1="0" y1="0" x2="0" y2="1"><stop offset="0" stop-color="#3b4aa2"/><stop offset=".443" stop-color="#3b4aa2"/><stop offset=".467" stop-color="#5cb0eb"/><stop offset=".498" stop-color="#7fd1da"/><stop offset=".698" stop-color="#78d0ee"/><stop offset=".911" stop-color="#5eb3eb"/><stop offset=".93" stop-color="#427ad8"/><stop offset=".971" stop-color="#3e6ccf"/><stop offset=".99" stop-color="#303997"/><stop offset=".99" stop-color="#2f3695"/><stop offset="1" stop-color="#3b4ca4"/></linearGradient><linearGradient id="g367" x1="0" y1="0" x2="0" y2="1"><stop offset="0" stop-color="#3948a0"/><stop offset=".43" stop-color="#3948a0"/><stop offset=".468" stop-color="#3a5cc0"/><stop offset=".603" stop-color="#3f71d2"/><stop offset=".695" stop-color="#529ee6"/><stop offset=".882" stop-color="#4b91e3"/><stop offset=".901" stop-color="#427ad8"/><stop offset=".909" stop-color="#3e6dcf"/><stop offset=".928" stop-color="#2e3594"/><stop offset=".985" stop-color="#2d3392"/><stop offset="1" stop-color="#39479f"/></linearGradient><linearGradient id="g368" x1="0" y1="0" x2="0" y2="1"><stop offset="0" stop-color="#35409c"/><stop offset=".389" stop-color="#35409c"/><stop offset=".411" stop-color="#64bdee"/><stop offset=".441" stop-color="#93d3ae"/><stop offset=".638" stop-color="#81d0d4"/><stop offset=".847" stop-color="#6dc6ee"/><stop offset=".864" stop-color="#3c66cb"/><stop offset=".864" stop-color="#3a5cc1"/><stop offset=".87" stop-color="#2f3696"/><stop offset=".985" stop-color="#2e3494"/><stop offset="1" stop-color="#3a49a0"/></linearGradient><linearGradient id="g369" x1="0" y1="0" x2="0" y2="1"><stop offset="0" stop-color="#3b4aa1"/><stop offset=".4" stop-color="#3b4aa1"/><stop offset=".423" stop-color="#6bc4ee"/><stop offset=".453" stop-color="#98d4a5"/><stop offset=".652" stop-color="#83d0ce"/><stop offset=".863" stop-color="#70c9ee"/><stop offset=".881" stop-color="#427bd9"/><stop offset=".881" stop-color="#3e6dd0"/><stop offset=".885" stop-color="#2f3695"/><stop offset=".985" stop-color="#2e3493"/><stop offset="1" stop-color="#3a49a0"/></linearGradient><linearGradient id="g370" x1="0" y1="0" x2="0" y2="1"><stop offset="0" stop-color="#3a49a1"/><stop offset=".375" stop-color="#3a49a1"/><stop offset=".399" stop-color="#60b6ec"/><stop offset=".43" stop-color="#84d0cc"/><stop offset=".654" stop-color="#7cd1e5"/><stop offset=".89" stop-color="#63bbed"/><stop offset=".909" stop-color="#4a8ee3"/><stop offset=".911" stop-color="#447fdc"/><stop offset=".93" stop-color="#2f3695"/><stop offset=".985" stop-color="#2e3493"/><stop offset="1" stop-color="#3a49a0"/></linearGradient><linearGradient id="g371" x1="0" y1="0" x2="0" y2="1"><stop offset="0" stop-color="#38459e"/><stop offset=".361" stop-color="#38459e"/><stop offset=".384" stop-color="#65bfee"/><stop offset=".416" stop-color="#93d3ae"/><stop offset=".656" stop-color="#81d0d4"/><stop offset=".91" stop-color="#6dc6ee"/><stop offset=".929" stop-color="#498ce2"/><stop offset=".938" stop-color="#437edb"/><stop offset=".957" stop-color="#2f3796"/><stop offset=".984" stop-color="#2e3594"/><stop offset="1" stop-color="#3b4aa1"/></linearGradient><linearGradient id="g372" x1="0" y1="0" x2="0" y2="1"><stop offset="0" stop-color="#38459e"/><stop offset=".348" stop-color="#38459e"/><stop offset=".371" stop-color="#68c2ee"/><stop offset=".401" stop-color="#98d4a6"/><stop offset=".625" stop-color="#83d0ce"/><stop offset=".862" stop-color="#70c9ee"/><stop offset=".88" stop-color="#57a6e8"/><stop offset=".9" stop-color="#4e96e5"/><stop offset=".919" stop-color="#333e9a"/><stop offset=".985" stop-color="#313a98"/><stop offset="1" stop-color="#3b4faa"/></linearGradient><linearGradient id="g373" x1="0" y1="0" x2="0" y2="1"><stop offset="0" stop-color="#3b4aa1"/><stop offset=".364" stop-color="#3b4aa1"/><stop offset=".386" stop-color="#66c0ee"/><stop offset=".416" stop-color="#90d3b4"/><stop offset=".627" stop-color="#80d0d7"/><stop offset=".851" stop-color="#6bc4ee"/><stop offset=".869" stop-color="#478ae2"/><stop offset=".878" stop-color="#437cd9"/><stop offset=".896" stop-color="#313a98"/><stop offset=".985" stop-color="#2f3695"/><stop offset="1" stop-color="#3b4ca5"/></linearGradient><linearGradient id="g374" x1="0" y1="0" x2="0" y2="1"><stop offset="0" stop-color="#3b4ca4"/><stop offset=".34" stop-color="#3b4ca4"/><stop offset=".363" stop-color="#7cd1e5"/><stop offset=".393" stop-color="#b4da78"/><stop offset=".622" stop-color="#a2d692"/><stop offset=".863" stop-color="#7fd1db"/><stop offset=".88" stop-color="#4178d7"/><stop offset=".881" stop-color="#3d6ace"/><stop offset=".899" stop-color="#2e3595"/><stop offset=".985" stop-color="#2d3393"/><stop offset="1" stop-color="#39479f"/></linearGradient><linearGradient id="g375" x1="0" y1="0" x2="0" y2="1"><stop offset="0" stop-color="#3b49a1"/><stop offset=".313" stop-color="#3b49a1"/><stop offset=".335" stop-color="#80d0d7"/><stop offset=".364" stop-color="#c0dc66"/><stop offset=".595" stop-color="#afd97f"/><stop offset=".837" stop-color="#88d1c5"/><stop offset=".854" stop-color="#53a0e7"/><stop offset=".894" stop-color="#4b90e3"/><stop offset=".911" stop-color="#2f3796"/><stop offset=".985" stop-color="#2e3594"/><stop offset="1" stop-color="#3b4aa1"/></linearGradient><linearGradient id="g376" x1="0" y1="0" x2="0" y2="1"><stop offset="0" stop-color="#38459e"/><stop offset=".338" stop-color="#38459e"/><stop offset=".361" stop-color="#7dd1e3"/><stop offset=".39" stop-color="#b9db70"/><stop offset=".612" stop-color="#a8d887"/><stop offset=".845" stop-color="#81d0d3"/><stop offset=".863" stop-color="#4582de"/><stop offset=".892" stop-color="#4175d5"/><stop offset=".91" stop-color="#313997"/><stop offset=".985" stop-color="#2f3695"/><stop offset="1" stop-color="#3b4ca4"/></linearGradient><linearGradient id="g377" x1="0" y1="0" x2="0" y2="1"><stop offset="0" stop-color="#3b4aa2"/><stop offset=".349" stop-color="#3b4aa2"/><stop offset=".387" stop-color="#3e6dd0"/><stop offset=".626" stop-color="#4c92e3"/><stop offset=".718" stop-color="#77d0ee"/><stop offset=".883" stop-color="#6ac3ee"/><stop offset=".902" stop-color="#4178d7"/><stop offset=".92" stop-color="#3d6ace"/><stop offset=".939" stop-color="#323b99"/><stop offset=".985" stop-color="#2f3896"/><stop offset="1" stop-color="#3b4ea7"/></linearGradient><linearGradient id="g378" x1="0" y1="0" x2="0" y2="1"><stop offset="0" stop-color="#3b4fa9"/><stop offset=".367" stop-color="#3b4fa9"/><stop offset=".39" stop-color="#78d0ee"/><stop offset=".421" stop-color="#a7d789"/><stop offset=".651" stop-color="#92d3b2"/><stop offset=".894" stop-color="#7bd2ec"/><stop offset=".913" stop-color="#4c92e4"/><stop offset=".953" stop-color="#4583df"/><stop offset=".971" stop-color="#333d99"/><stop offset=".985" stop-color="#303997"/><stop offset="1" stop-color="#3b4ea9"/></linearGradient><linearGradient id="g379" x1="0" y1="0" x2="0" y2="1"><stop offset="0" stop-color="#39479f"/><stop offset=".334" stop-color="#39479f"/><stop offset=".356" stop-color="#7bd2ea"/><stop offset=".386" stop-color="#b2d97a"/><stop offset=".619" stop-color="#a0d695"/><stop offset=".865" stop-color="#7fd1dd"/><stop offset=".883" stop-color="#3d69cd"/><stop offset=".919" stop-color="#3a5ec3"/><stop offset=".937" stop-color="#333d9a"/><stop offset=".985" stop-color="#313997"/><stop offset="1" stop-color="#3b4faa"/></linearGradient><linearGradient id="g380" x1="0" y1="0" x2="0" y2="1"><stop offset="0" stop-color="#3b49a1"/><stop offset=".338" stop-color="#3b49a1"/><stop offset=".359" stop-color="#78d1ee"/><stop offset=".387" stop-color="#abd883"/><stop offset=".609" stop-color="#98d4a6"/><stop offset=".841" stop-color="#7cd1e6"/><stop offset=".858" stop-color="#4687e1"/><stop offset=".873" stop-color="#4279d8"/><stop offset=".89" stop-color="#313b98"/><stop offset=".986" stop-color="#2f3796"/><stop offset="1" stop-color="#3b4da6"/></linearGradient><linearGradient id="g381" x1="0" y1="0" x2="0" y2="1"><stop offset="0" stop-color="#3b4ba2"/><stop offset=".338" stop-color="#3b4ba2"/><stop offset=".373" stop-color="#3d69cd"/><stop offset=".581" stop-color="#4789e1"/><stop offset=".666" stop-color="#6bc4ee"/><stop offset=".843" stop-color="#60b6ec"/><stop offset=".86" stop-color="#4178d7"/><stop offset=".872" stop-color="#3d6bce"/><stop offset=".889" stop-color="#303896"/><stop offset=".986" stop-color="#2e3594"/><stop offset="1" stop-color="#3b4ba2"/></linearGradient><linearGradient id="g382" x1="0" y1="0" x2="0" y2="1"><stop offset="0" stop-color="#3b4ba3"/><stop offset=".297" stop-color="#3b4ba3"/><stop offset=".342" stop-color="#f6ce30"/><stop offset=".372" stop-color="#d83520"/><stop offset=".625" stop-color="#9e1b19"/><stop offset=".89" stop-color="#9e1b19"/><stop offset=".907" stop-color="#4583de"/><stop offset=".907" stop-color="#4176d5"/><stop offset=".924" stop-color="#2f3796"/><stop offset=".985" stop-color="#2e3494"/><stop offset="1" stop-color="#3b49a1"/></linearGradient><linearGradient id="g383" x1="0" y1="0" x2="0" y2="1"><stop offset="0" stop-color="#3b4ea8"/><stop offset=".293" stop-color="#3b4ea8"/><stop offset=".34" stop-color="#f5b32c"/><stop offset=".372" stop-color="#b1221c"/><stop offset=".653" stop-color="#6e1414"/><stop offset=".946" stop-color="#6e1414"/><stop offset=".965" stop-color="#4f97e5"/><stop offset=".965" stop-color="#4687e1"/><stop offset=".976" stop-color="#323b99"/><stop offset=".984" stop-color="#2f3896"/><stop offset="1" stop-color="#3b4ea7"/></linearGradient><linearGradient id="g384" x1="0" y1="0" x2="0" y2="1"><stop offset="0" stop-color="#3b4ca4"/><stop offset=".26" stop-color="#3b4ca4"/><stop offset=".306" stop-color="#f5b52c"/><stop offset=".336" stop-color="#b1221c"/><stop offset=".619" stop-color="#6e1414"/><stop offset=".914" stop-color="#6e1414"/><stop offset=".933" stop-color="#4481dd"/><stop offset=".933" stop-color="#4074d4"/><stop offset=".938" stop-color="#323b98"/><stop offset=".985" stop-color="#2f3796"/><stop offset="1" stop-color="#3b4da7"/></linearGradient><linearGradient id="g385" x1="0" y1="0" x2="0" y2="1"><stop offset="0" stop-color="#3b49a1"/><stop offset=".281" stop-color="#3b49a1"/><stop offset=".326" stop-color="#f2de35"/><stop offset=".357" stop-color="#e55623"/><stop offset=".626" stop-color="#bd281d"/><stop offset=".907" stop-color="#bd281d"/><stop offset=".925" stop-color="#4584df"/><stop offset=".925" stop-color="#4177d6"/><stop offset=".926" stop-color="#2e3695"/><stop offset=".985" stop-color="#2d3493"/><stop offset="1" stop-color="#3a48a0"/></linearGradient><linearGradient id="g386" x1="0" y1="0" x2="0" y2="1"><stop offset="0" stop-color="#3b4da7"/><stop offset=".306" stop-color="#3b4da7"/><stop offset=".352" stop-color="#badb6f"/><stop offset=".382" stop-color="#f5d131"/><stop offset=".642" stop-color="#f5aa2a"/><stop offset=".914" stop-color="#f5aa2a"/><stop offset=".933" stop-color="#519be6"/><stop offset=".933" stop-color="#488be2"/><stop offset=".945" stop-color="#2e3595"/><stop offset=".985" stop-color="#2d3393"/><stop offset="1" stop-color="#39479f"/></linearGradient><linearGradient id="g387" x1="0" y1="0" x2="0" y2="1"><stop offset="0" stop-color="#3b4aa1"/><stop offset=".326" stop-color="#3b4aa1"/><stop offset=".349" stop-color="#84d0cd"/><stop offset=".38" stop-color="#c8dd5c"/><stop offset=".652" stop-color="#b6da75"/><stop offset=".937" stop-color="#90d3b5"/><stop offset=".956" stop-color="#529de6"/><stop offset=".974" stop-color="#4a8ee3"/><stop offset=".993" stop-color="#2f3695"/><stop offset=".993" stop-color="#2e3493"/><stop offset="1" stop-color="#3a48a0"/></linearGradient><linearGradient id="g388" x1="0" y1="0" x2="0" y2="1"><stop offset="0" stop-color="#3b4aa1"/><stop offset=".341" stop-color="#3b4aa1"/><stop offset=".364" stop-color="#9cd59e"/><stop offset=".396" stop-color="#e1e144"/><stop offset=".651" stop-color="#cdde55"/><stop offset=".918" stop-color="#aad886"/><stop offset=".937" stop-color="#4584df"/><stop offset=".937" stop-color="#4177d6"/><stop offset=".95" stop-color="#2f3796"/><stop offset=".984" stop-color="#2e3594"/><stop offset="1" stop-color="#3b4aa1"/></linearGradient><linearGradient id="g389" x1="0" y1="0" x2="0" y2="1"><stop offset="0" stop-color="#3b4ea7"/><stop offset=".343" stop-color="#3b4ea7"/><stop offset=".367" stop-color="#a0d695"/><stop offset=".398" stop-color="#e2e243"/><stop offset=".652" stop-color="#cede54"/><stop offset=".918" stop-color="#abd884"/><stop offset=".937" stop-color="#437edb"/><stop offset=".937" stop-color="#3f71d2"/><stop offset=".937" stop-color="#313997"/><stop offset=".984" stop-color="#2f3695"/><stop offset="1" stop-color="#3b4ca4"/></linearGradient><linearGradient id="g390" x1="0" y1="0" x2="0" y2="1"><stop offset="0" stop-color="#3a48a0"/><stop offset=".344" stop-color="#3a48a0"/><stop offset=".383" stop-color="#4178d7"/><stop offset=".487" stop-color="#57a6e8"/><stop offset=".582" stop-color="#89d1c3"/><stop offset=".933" stop-color="#7fd1dd"/><stop offset=".952" stop-color="#4178d7"/><stop offset=".952" stop-color="#3d6ace"/><stop offset=".952" stop-color="#333e9a"/><stop offset=".984" stop-color="#313a98"/><stop offset="1" stop-color="#3b4faa"/></linearGradient><linearGradient id="g391" x1="0" y1="0" x2="0" y2="1"><stop offset="0" stop-color="#39479f"/><stop offset=".372" stop-color="#39479f"/><stop offset=".395" stop-color="#9bd5a0"/><stop offset=".427" stop-color="#e1e144"/><stop offset=".669" stop-color="#cdde55"/><stop offset=".923" stop-color="#aad885"/><stop offset=".942" stop-color="#3f71d2"/><stop offset=".942" stop-color="#3b64c9"/><stop offset=".944" stop-color="#343f9a"/><stop offset=".984" stop-color="#313b98"/><stop offset="1" stop-color="#3b50ac"/></linearGradient><linearGradient id="g392" x1="0" y1="0" x2="0" y2="1"><stop offset="0" stop-color="#3b4aa2"/><stop offset=".366" stop-color="#3b4aa2"/><stop offset=".389" stop-color="#9ed699"/><stop offset=".42" stop-color="#e2e243"/><stop offset=".658" stop-color="#cede54"/><stop offset=".908" stop-color="#abd884"/><stop offset=".927" stop-color="#4177d7"/><stop offset=".927" stop-color="#3d6ace"/><stop offset=".941" stop-color="#333d99"/><stop offset=".985" stop-color="#303997"/><stop offset="1" stop-color="#3b4fa9"/></linearGradient><linearGradient id="g393" x1="0" y1="0" x2="0" y2="1"><stop offset="0" stop-color="#3b50ac"/><stop offset=".367" stop-color="#3b50ac"/><stop offset=".406" stop-color="#4582de"/><stop offset=".571" stop-color="#5cafea"/><stop offset=".664" stop-color="#89d1c3"/><stop offset=".909" stop-color="#7fd1dd"/><stop offset=".927" stop-color="#4f97e5"/><stop offset=".944" stop-color="#4687e1"/><stop offset=".962" stop-color="#323b98"/><stop offset=".985" stop-color="#2f3796"/><stop offset="1" stop-color="#3b4da7"/></linearGradient><linearGradient id="g394" x1="0" y1="0" x2="0" y2="1"><stop offset="0" stop-color="#3b4da7"/><stop offset=".411" stop-color="#3b4da7"/><stop offset=".434" stop-color="#90d3b5"/><stop offset=".465" stop-color="#d1df51"/><stop offset=".679" stop-color="#bfdb69"/><stop offset=".906" stop-color="#9bd5a0"/><stop offset=".925" stop-color="#4b8fe3"/><stop offset=".938" stop-color="#4481dd"/><stop offset=".956" stop-color="#313a98"/><stop offset=".985" stop-color="#2f3796"/><stop offset="1" stop-color="#3b4da6"/></linearGradient><linearGradient id="g395" x1="0" y1="0" x2="0" y2="1"><stop offset="0" stop-color="#3b4ba3"/><stop offset=".408" stop-color="#3b4ba3"/><stop offset=".431" stop-color="#8fd3b6"/><stop offset=".461" stop-color="#d3df50"/><stop offset=".673" stop-color="#c0dc67"/><stop offset=".898" stop-color="#9cd59d"/><stop offset=".916" stop-color="#437edb"/><stop offset=".923" stop-color="#3f70d2"/><stop offset=".942" stop-color="#313b98"/><stop offset=".985" stop-color="#2f3796"/><stop offset="1" stop-color="#3b4da6"/></linearGradient><linearGradient id="g396" x1="0" y1="0" x2="0" y2="1"><stop offset="0" stop-color="#3b4ba2"/><stop offset=".398" stop-color="#3b4ba2"/><stop offset=".435" stop-color="#4175d5"/><stop offset=".495" stop-color="#539fe7"/><stop offset=".585" stop-color="#7fd1da"/><stop offset=".871" stop-color="#7ad2ee"/><stop offset=".889" stop-color="#4a8ee3"/><stop offset=".892" stop-color="#4480dc"/><stop offset=".91" stop-color="#323c99"/><stop offset=".985" stop-color="#303897"/><stop offset="1" stop-color="#3b4ea8"/></linearGradient><linearGradient id="g397" x1="0" y1="0" x2="0" y2="1"><stop offset="0" stop-color="#3b50ac"/><stop offset=".346" stop-color="#3b50ac"/><stop offset=".369" stop-color="#91d3b3"/><stop offset=".398" stop-color="#d1df52"/><stop offset=".628" stop-color="#bedb6a"/><stop offset=".869" stop-color="#9ad5a2"/><stop offset=".887" stop-color="#4686e0"/><stop offset=".887" stop-color="#4278d7"/><stop offset=".903" stop-color="#323c99"/><stop offset=".985" stop-color="#303897"/><stop offset="1" stop-color="#3b4ea8"/></linearGradient><linearGradient id="g398" x1="0" y1="0" x2="0" y2="1"><stop offset="0" stop-color="#3b4fa9"/><stop offset=".327" stop-color="#3b4fa9"/><stop offset=".349" stop-color="#9bd59f"/><stop offset=".379" stop-color="#dce148"/><stop offset=".627" stop-color="#c9dd5b"/><stop offset=".888" stop-color="#a6d78a"/><stop offset=".905" stop-color="#4686e0"/><stop offset=".905" stop-color="#4278d7"/><stop offset=".922" stop-color="#313a98"/><stop offset=".985" stop-color="#2f3796"/><stop offset="1" stop-color="#3b4da5"/></linearGradient><linearGradient id="g399" x1="0" y1="0" x2="0" y2="1"><stop offset="0" stop-color="#3b4aa2"/><stop offset=".359" stop-color="#3b4aa2"/><stop offset=".382" stop-color="#8fd3b7"/><stop offset=".412" stop-color="#d3df50"/><stop offset=".657" stop-color="#c0dc67"/><stop offset=".914" stop-color="#9cd59e"/><stop offset=".933" stop-color="#4e96e5"/><stop offset=".969" stop-color="#4687e1"/><stop offset=".987" stop-color="#2f3796"/><stop offset=".987" stop-color="#2e3594"/><stop offset="1" stop-color="#3b4aa2"/></linearGradient><linearGradient id="g400" x1="0" y1="0" x2="0" y2="1"><stop offset="0" stop-color="#39479f"/><stop offset=".346" stop-color="#39479f"/><stop offset=".369" stop-color="#a5d78c"/><stop offset=".399" stop-color="#ece33b"/><stop offset=".647" stop-color="#d7e04c"/><stop offset=".907" stop-color="#b3d979"/><stop offset=".926" stop-color="#4d94e4"/><stop offset=".932" stop-color="#4585df"/><stop offset=".95" stop-color="#2f3695"/><stop offset=".985" stop-color="#2e3493"/><stop offset="1" stop-color="#3a48a0"/></linearGradient><linearGradient id="g401" x1="0" y1="0" x2="0" y2="1"><stop offset="0" stop-color="#3b4ba2"/><stop offset=".369" stop-color="#3b4ba2"/><stop offset=".415" stop-color="#ebe33b"/><stop offset=".445" stop-color="#ed7326"/><stop offset=".675" stop-color="#f39c29"/><stop offset=".917" stop-color="#f4d533"/><stop offset=".935" stop-color="#4687e1"/><stop offset=".935" stop-color="#427ad8"/><stop offset=".935" stop-color="#2f3695"/><stop offset=".985" stop-color="#2e3493"/><stop offset="1" stop-color="#3a48a0"/></linearGradient><linearGradient id="g402" x1="0" y1="0" x2="0" y2="1"><stop offset="0" stop-color="#3b4aa2"/><stop offset=".349" stop-color="#3b4aa2"/><stop offset=".395" stop-color="#f1de35"/><stop offset=".425" stop-color="#e55924"/><stop offset=".668" stop-color="#f08627"/><stop offset=".923" stop-color="#f6c82f"/><stop offset=".941" stop-color="#4789e1"/><stop offset=".941" stop-color="#427bd9"/><stop offset=".941" stop-color="#2f3796"/><stop offset=".985" stop-color="#2e3594"/><stop offset="1" stop-color="#3b4aa2"/></linearGradient><linearGradient id="g403" x1="0" y1="0" x2="0" y2="1"><stop offset="0" stop-color="#38459e"/><stop offset=".369" stop-color="#38459e"/><stop offset=".414" stop-color="#cade58"/><stop offset=".444" stop-color="#f5b02b"/><stop offset=".674" stop-color="#f6cd30"/><stop offset=".916" stop-color="#dee147"/><stop offset=".934" stop-color="#4583de"/><stop offset=".934" stop-color="#4175d5"/><stop offset=".934" stop-color="#333d99"/><stop offset=".985" stop-color="#303997"/><stop offset="1" stop-color="#3b4fa9"/></linearGradient><linearGradient id="g404" x1="0" y1="0" x2="0" y2="1"><stop offset="0" stop-color="#3b4ca5"/><stop offset=".394" stop-color="#3b4ca5"/><stop offset=".431" stop-color="#4279d7"/><stop offset=".462" stop-color="#56a4e8"/><stop offset=".552" stop-color="#81d0d4"/><stop offset=".878" stop-color="#7cd2e8"/><stop offset=".896" stop-color="#4584df"/><stop offset=".929" stop-color="#4177d6"/><stop offset=".947" stop-color="#323c99"/><stop offset=".985" stop-color="#303997"/><stop offset="1" stop-color="#3b4ea8"/></linearGradient><linearGradient id="g405" x1="0" y1="0" x2="0" y2="1"><stop offset="0" stop-color="#3b4ea8"/><stop offset=".328" stop-color="#3b4ea8"/><stop offset=".351" stop-color="#98d4a5"/><stop offset=".382" stop-color="#dae04a"/><stop offset=".637" stop-color="#c6dd5e"/><stop offset=".906" stop-color="#a4d78e"/><stop offset=".924" stop-color="#488be2"/><stop offset=".924" stop-color="#437ddb"/><stop offset=".925" stop-color="#323c99"/><stop offset=".985" stop-color="#303997"/><stop offset="1" stop-color="#3b4ea8"/></linearGradient><linearGradient id="g406" x1="0" y1="0" x2="0" y2="1"><stop offset="0" stop-color="#3b4da6"/><stop offset=".332" stop-color="#3b4da6"/><stop offset=".355" stop-color="#99d5a4"/><stop offset=".387" stop-color="#dbe049"/><stop offset=".647" stop-color="#c7dd5d"/><stop offset=".919" stop-color="#a5d78c"/><stop offset=".938" stop-color="#529de6"/><stop offset=".938" stop-color="#498de2"/><stop offset=".945" stop-color="#333d9a"/><stop offset=".984" stop-color="#313997"/><stop offset="1" stop-color="#3b4faa"/></linearGradient><linearGradient id="g407" x1="0" y1="0" x2="0" y2="1"><stop offset="0" stop-color="#3a48a0"/><stop offset=".396" stop-color="#3a48a0"/><stop offset=".42" stop-color="#b2d97b"/><stop offset=".451" stop-color="#f3d833"/><stop offset=".682" stop-color="#e7e23f"/><stop offset=".926" stop-color="#c0dc67"/><stop offset=".944" stop-color="#4279d8"/><stop offset=".944" stop-color="#3e6ccf"/><stop offset=".958" stop-color="#2f3695"/><stop offset=".984" stop-color="#2e3493"/><stop offset="1" stop-color="#3a49a0"/></linearGradient><linearGradient id="g408" x1="0" y1="0" x2="0" y2="1"><stop offset="0" stop-color="#39479f"/><stop offset=".397" stop-color="#39479f"/><stop offset=".421" stop-color="#b1d97b"/><stop offset=".452" stop-color="#f3d934"/><stop offset=".683" stop-color="#e6e23f"/><stop offset=".926" stop-color="#c0dc67"/><stop offset=".945" stop-color="#447fdc"/><stop offset=".95" stop-color="#4072d3"/><stop offset=".968" stop-color="#313997"/><stop offset=".984" stop-color="#2f3695"/><stop offset="1" stop-color="#3b4ca4"/></linearGradient><linearGradient id="g409" x1="0" y1="0" x2="0" y2="1"><stop offset="0" stop-color="#3a48a0"/><stop offset=".312" stop-color="#3a48a0"/><stop offset=".336" stop-color="#97d4a8"/><stop offset=".367" stop-color="#dce148"/><stop offset=".632" stop-color="#c8dd5c"/><stop offset=".909" stop-color="#a6d78b"/><stop offset=".928" stop-color="#519be6"/><stop offset=".928" stop-color="#488be2"/><stop offset=".935" stop-color="#333e9a"/><stop offset=".985" stop-color="#313a98"/><stop offset="1" stop-color="#3b4faa"/></linearGradient><linearGradient id="g410" x1="0" y1="0" x2="0" y2="1"><stop offset="0" stop-color="#3b4ba2"/><stop offset=".285" stop-color="#3b4ba2"/><stop offset=".308" stop-color="#a2d691"/><stop offset=".338" stop-color="#e6e23f"/><stop offset=".604" stop-color="#d2df51"/><stop offset=".882" stop-color="#aed97f"/><stop offset=".9" stop-color="#4480dc"/><stop offset=".905" stop-color="#4072d3"/><stop offset=".923" stop-color="#303997"/><stop offset=".985" stop-color="#2e3695"/><stop offset="1" stop-color="#3b4ba4"/></linearGradient><linearGradient id="g411" x1="0" y1="0" x2="0" y2="1"><stop offset="0" stop-color="#3b4aa1"/><stop offset=".297" stop-color="#3b4aa1"/><stop offset=".319" stop-color="#97d4a7"/><stop offset=".348" stop-color="#dbe049"/><stop offset=".592" stop-color="#c8dd5c"/><stop offset=".847" stop-color="#a5d78c"/><stop offset=".864" stop-color="#56a4e8"/><stop offset=".917" stop-color="#4d95e4"/><stop offset=".935" stop-color="#333d99"/><stop offset=".985" stop-color="#303997"/><stop offset="1" stop-color="#3b4fa9"/></linearGradient><linearGradient id="g412" x1="0" y1="0" x2="0" y2="1"><stop offset="0" stop-color="#3a48a0"/><stop offset=".42" stop-color="#3a48a0"/><stop offset=".443" stop-color="#85d1ca"/><stop offset=".473" stop-color="#cadd59"/><stop offset=".678" stop-color="#b8da72"/><stop offset=".895" stop-color="#92d3b0"/><stop offset=".913" stop-color="#4585e0"/><stop offset=".927" stop-color="#4178d7"/><stop offset=".945" stop-color="#333e9a"/><stop offset=".985" stop-color="#313a98"/><stop offset="1" stop-color="#3b50ab"/></linearGradient><linearGradient id="g413" x1="0" y1="0" x2="0" y2="1"><stop offset="0" stop-color="#39479f"/><stop offset=".42" stop-color="#39479f"/><stop offset=".444" stop-color="#8ed2b8"/><stop offset=".476" stop-color="#d4df4f"/><stop offset=".701" stop-color="#c1dc65"/><stop offset=".939" stop-color="#9ed69a"/><stop offset=".959" stop-color="#4480dc"/><stop offset=".959" stop-color="#4073d3"/><stop offset=".973" stop-color="#323b98"/><stop offset=".984" stop-color="#2f3796"/><stop offset="1" stop-color="#3b4da7"/></linearGradient><linearGradient id="g414" x1="0" y1="0" x2="0" y2="1"><stop offset="0" stop-color="#3b4ca4"/><stop offset=".4" stop-color="#3b4ca4"/><stop offset=".422" stop-color="#91d3b3"/><stop offset=".453" stop-color="#d4df4f"/><stop offset=".655" stop-color="#c1dc66"/><stop offset=".869" stop-color="#9dd59b"/><stop offset=".887" stop-color="#4c93e4"/><stop offset=".887" stop-color="#4584df"/><stop offset=".904" stop-color="#313b98"/><stop offset=".985" stop-color="#2f3796"/><stop offset="1" stop-color="#3b4da6"/></linearGradient><linearGradient id="g415" x1="0" y1="0" x2="0" y2="1"><stop offset="0" stop-color="#38459e"/><stop offset=".424" stop-color="#38459e"/><stop offset=".447" stop-color="#83d0cf"/><stop offset=".477" stop-color="#c9dd5a"/><stop offset=".672" stop-color="#b7da73"/><stop offset=".88" stop-color="#91d3b2"/><stop offset=".898" stop-color="#437bd9"/><stop offset=".917" stop-color="#3f6ed0"/><stop offset=".935" stop-color="#323c99"/><stop offset=".985" stop-color="#303897"/><stop offset="1" stop-color="#3b4ea8"/></linearGradient><linearGradient id="g416" x1="0" y1="0" x2="0" y2="1"><stop offset="0" stop-color="#37439d"/><stop offset=".375" stop-color="#37439d"/><stop offset=".398" stop-color="#a9d887"/><stop offset=".43" stop-color="#f1e236"/><stop offset=".668" stop-color="#dde147"/><stop offset=".918" stop-color="#b8da72"/><stop offset=".937" stop-color="#3c67cb"/><stop offset=".966" stop-color="#3a5dc2"/><stop offset=".985" stop-color="#333e9a"/><stop offset=".985" stop-color="#313a98"/><stop offset="1" stop-color="#3b4faa"/></linearGradient><linearGradient id="g417" x1="0" y1="0" x2="0" y2="1"><stop offset="0" stop-color="#3a48a0"/><stop offset=".372" stop-color="#3a48a0"/><stop offset=".396" stop-color="#aad885"/><stop offset=".427" stop-color="#f1e236"/><stop offset=".67" stop-color="#dde147"/><stop offset=".925" stop-color="#b8da72"/><stop offset=".944" stop-color="#4583de"/><stop offset=".963" stop-color="#4176d5"/><stop offset=".982" stop-color="#323c99"/><stop offset=".984" stop-color="#303897"/><stop offset="1" stop-color="#3b4ea8"/></linearGradient><linearGradient id="g418" x1="0" y1="0" x2="0" y2="1"><stop offset="0" stop-color="#3a48a0"/><stop offset=".33" stop-color="#3a48a0"/><stop offset=".355" stop-color="#a6d78b"/><stop offset=".387" stop-color="#ece33b"/><stop offset=".658" stop-color="#d7e04c"/><stop offset=".942" stop-color="#b3d979"/><stop offset=".961" stop-color="#3e6bce"/><stop offset=".978" stop-color="#3a5fc5"/><stop offset=".998" stop-color="#323c99"/><stop offset=".998" stop-color="#303897"/><stop offset="1" stop-color="#3b4ea8"/></linearGradient><linearGradient id="g419" x1="0" y1="0" x2="0" y2="1"><stop offset="0" stop-color="#3a48a0"/><stop offset=".317" stop-color="#3a48a0"/><stop offset=".341" stop-color="#aed97f"/><stop offset=".374" stop-color="#f2dd35"/><stop offset=".661" stop-color="#e2e243"/><stop offset=".961" stop-color="#bcdb6c"/><stop offset=".981" stop-color="#4688e1"/><stop offset="1" stop-color="#427ad9"/><stop offset="1" stop-color="#313a98"/><stop offset="1" stop-color="#2f3695"/><stop offset="1" stop-color="#3b4ca5"/></linearGradient><linearGradient id="g420" x1="0" y1="0" x2="0" y2="1"><stop offset="0" stop-color="#3b49a1"/><stop offset=".295" stop-color="#3b49a1"/><stop offset=".318" stop-color="#aed97f"/><stop offset=".349" stop-color="#f2dd35"/><stop offset=".626" stop-color="#e2e243"/><stop offset=".917" stop-color="#bcdb6d"/><stop offset=".935" stop-color="#55a3e8"/><stop offset=".945" stop-color="#4c93e4"/><stop offset=".964" stop-color="#2f3695"/><stop offset=".985" stop-color="#2e3493"/><stop offset="1" stop-color="#3a49a0"/></linearGradient><linearGradient id="g421" x1="0" y1="0" x2="0" y2="1"><stop offset="0" stop-color="#3b4ba3"/><stop offset=".318" stop-color="#3b4ba3"/><stop offset=".341" stop-color="#a6d78a"/><stop offset=".372" stop-color="#ebe33b"/><stop offset=".645" stop-color="#d6e04d"/><stop offset=".932" stop-color="#b2d97a"/><stop offset=".95" stop-color="#58a8e9"/><stop offset=".95" stop-color="#4f98e5"/><stop offset=".95" stop-color="#313a98"/><stop offset=".985" stop-color="#2f3696"/><stop offset="1" stop-color="#3b4ca5"/></linearGradient><linearGradient id="g422" x1="0" y1="0" x2="0" y2="1"><stop offset="0" stop-color="#39479f"/><stop offset=".432" stop-color="#39479f"/><stop offset=".456" stop-color="#95d4ab"/><stop offset=".488" stop-color="#dbe049"/><stop offset=".722" stop-color="#c8dd5d"/><stop offset=".968" stop-color="#a5d78c"/><stop offset=".988" stop-color="#4074d4"/><stop offset=".988" stop-color="#3c66cb"/><stop offset=".988" stop-color="#313a98"/><stop offset=".988" stop-color="#2f3695"/><stop offset="1" stop-color="#3b4ca5"/></linearGradient><linearGradient id="cb" x1="0" y1="1" x2="0" y2="0"><stop offset="0" stop-color="#2a2c8c"/><stop offset=".05" stop-color="#2f3796"/><stop offset=".1" stop-color="#3b4aa1"/><stop offset=".17" stop-color="#3a5fc6"/><stop offset=".23" stop-color="#4687e1"/><stop offset=".3" stop-color="#64beee"/><stop offset=".335" stop-color="#7ad2ee"/><stop offset=".37" stop-color="#82d0d0"/><stop offset=".42" stop-color="#a5d78c"/><stop offset=".5" stop-color="#cdde55"/><stop offset=".57" stop-color="#f0e437"/><stop offset=".62" stop-color="#f6cd30"/><stop offset=".68" stop-color="#f5aa2a"/><stop offset=".75" stop-color="#ee7826"/><stop offset=".83" stop-color="#dc3721"/><stop offset=".92" stop-color="#a51c1a"/><stop offset="1" stop-color="#6e1414"/></linearGradient><linearGradient id="sp" x1="0" y1="0" x2="0" y2="1"><stop offset="0" stop-color="#5a8ad8"/><stop offset="0.5" stop-color="#8fc0ea"/><stop offset="1" stop-color="#e8f2fb"/></linearGradient></defs>
<rect width="541" height="530" fill="#fff"/>
<g shape-rendering="crispEdges"><rect x="24.4" y="12" width="1.05" height="219.6" fill="url(#g1)"/><rect x="25.4" y="12" width="1.05" height="220.4" fill="url(#g2)"/><rect x="26.4" y="12" width="1.05" height="221" fill="url(#g3)"/><rect x="27.4" y="12" width="1.05" height="219.9" fill="url(#g4)"/><rect x="28.4" y="12" width="1.05" height="218.9" fill="url(#g5)"/><rect x="29.4" y="12" width="1.05" height="220.6" fill="url(#g6)"/><rect x="30.4" y="12" width="1.05" height="222.4" fill="url(#g7)"/><rect x="31.4" y="12" width="1.05" height="221.1" fill="url(#g8)"/><rect x="32.4" y="12" width="1.05" height="218.9" fill="url(#g9)"/><rect x="33.4" y="12" width="1.05" height="218.6" fill="url(#g10)"/><rect x="34.4" y="12" width="1.05" height="220" fill="url(#g11)"/><rect x="35.4" y="12" width="1.05" height="221.1" fill="url(#g12)"/><rect x="36.4" y="12" width="1.05" height="222" fill="url(#g13)"/><rect x="37.4" y="12" width="1.05" height="223.3" fill="url(#g14)"/><rect x="38.4" y="12" width="1.05" height="227.3" fill="url(#g15)"/><rect x="39.4" y="12" width="1.05" height="231.3" fill="url(#g16)"/><rect x="40.4" y="12" width="1.05" height="233.3" fill="url(#g17)"/><rect x="41.4" y="12" width="1.05" height="234" fill="url(#g18)"/><rect x="42.4" y="12" width="1.05" height="234" fill="url(#g19)"/><rect x="43.4" y="12" width="1.05" height="234" fill="url(#g20)"/><rect x="44.4" y="12" width="1.05" height="234" fill="url(#g21)"/><rect x="45.4" y="12" width="1.05" height="231.3" fill="url(#g22)"/><rect x="46.4" y="12" width="1.05" height="228.8" fill="url(#g23)"/><rect x="47.4" y="12" width="1.05" height="228" fill="url(#g24)"/><rect x="48.4" y="12" width="1.05" height="228.5" fill="url(#g25)"/><rect x="49.4" y="12" width="1.05" height="234" fill="url(#g26)"/><rect x="50.4" y="12" width="1.05" height="234" fill="url(#g27)"/><rect x="51.4" y="12" width="1.05" height="234" fill="url(#g28)"/><rect x="52.4" y="12" width="1.05" height="231.4" fill="url(#g29)"/><rect x="53.4" y="12" width="1.05" height="232.6" fill="url(#g30)"/><rect x="54.4" y="12" width="1.05" height="234" fill="url(#g31)"/><rect x="55.4" y="12" width="1.05" height="234" fill="url(#g32)"/><rect x="56.4" y="12" width="1.05" height="230.7" fill="url(#g33)"/><rect x="57.4" y="12" width="1.05" height="228.5" fill="url(#g34)"/><rect x="58.4" y="12" width="1.05" height="230.8" fill="url(#g35)"/><rect x="59.4" y="12" width="1.05" height="232.3" fill="url(#g36)"/><rect x="60.4" y="12" width="1.05" height="229.7" fill="url(#g37)"/><rect x="61.4" y="12" width="1.05" height="227.1" fill="url(#g38)"/><rect x="62.4" y="12" width="1.05" height="224.8" fill="url(#g39)"/><rect x="63.4" y="12" width="1.05" height="222.3" fill="url(#g40)"/><rect x="64.4" y="12" width="1.05" height="222.9" fill="url(#g41)"/><rect x="65.4" y="12" width="1.05" height="224.7" fill="url(#g42)"/><rect x="66.4" y="12" width="1.05" height="224.7" fill="url(#g43)"/><rect x="67.4" y="12" width="1.05" height="223.4" fill="url(#g44)"/><rect x="68.4" y="12" width="1.05" height="222.2" fill="url(#g45)"/><rect x="69.4" y="12" width="1.05" height="221.3" fill="url(#g46)"/><rect x="70.4" y="12" width="1.05" height="221.6" fill="url(#g47)"/><rect x="71.4" y="12" width="1.05" height="225.8" fill="url(#g48)"/><rect x="72.4" y="12" width="1.05" height="230.1" fill="url(#g49)"/><rect x="73.4" y="12" width="1.05" height="225.9" fill="url(#g50)"/><rect x="74.4" y="12" width="1.05" height="221.5" fill="url(#g51)"/><rect x="75.4" y="12" width="1.05" height="216.6" fill="url(#g52)"/><rect x="76.4" y="12" width="1.05" height="211.6" fill="url(#g53)"/><rect x="77.4" y="12" width="1.05" height="214.2" fill="url(#g54)"/><rect x="78.4" y="12" width="1.05" height="222.6" fill="url(#g55)"/><rect x="79.4" y="12" width="1.05" height="226.2" fill="url(#g56)"/><rect x="80.4" y="12" width="1.05" height="221.4" fill="url(#g57)"/><rect x="81.4" y="12" width="1.05" height="217.2" fill="url(#g58)"/><rect x="82.4" y="12" width="1.05" height="216.7" fill="url(#g59)"/><rect x="83.4" y="12" width="1.05" height="216.2" fill="url(#g60)"/><rect x="84.4" y="12" width="1.05" height="216" fill="url(#g61)"/><rect x="85.4" y="12" width="1.05" height="215.8" fill="url(#g62)"/><rect x="86.4" y="12" width="1.05" height="218.3" fill="url(#g63)"/><rect x="87.4" y="12" width="1.05" height="221.6" fill="url(#g64)"/><rect x="88.4" y="12" width="1.05" height="222.6" fill="url(#g65)"/><rect x="89.4" y="12" width="1.05" height="221.8" fill="url(#g66)"/><rect x="90.4" y="12" width="1.05" height="222.2" fill="url(#g67)"/><rect x="91.4" y="12" width="1.05" height="224.3" fill="url(#g68)"/><rect x="92.4" y="12" width="1.05" height="225.1" fill="url(#g69)"/><rect x="93.4" y="12" width="1.05" height="220.3" fill="url(#g70)"/><rect x="94.4" y="12" width="1.05" height="215.4" fill="url(#g71)"/><rect x="95.4" y="12" width="1.05" height="214.2" fill="url(#g72)"/><rect x="96.4" y="12" width="1.05" height="213.1" fill="url(#g73)"/><rect x="97.4" y="12" width="1.05" height="215.6" fill="url(#g74)"/><rect x="98.4" y="12" width="1.05" height="219.6" fill="url(#g75)"/><rect x="99.4" y="12" width="1.05" height="222.4" fill="url(#g76)"/><rect x="100.4" y="12" width="1.05" height="224.5" fill="url(#g77)"/><rect x="101.4" y="12" width="1.05" height="223.5" fill="url(#g78)"/><rect x="102.4" y="12" width="1.05" height="217.4" fill="url(#g79)"/><rect x="103.4" y="12" width="1.05" height="212" fill="url(#g80)"/><rect x="104.4" y="12" width="1.05" height="209.1" fill="url(#g81)"/><rect x="105.4" y="12" width="1.05" height="206.2" fill="url(#g82)"/><rect x="106.4" y="12" width="1.05" height="208.1" fill="url(#g83)"/><rect x="107.4" y="12" width="1.05" height="210.1" fill="url(#g84)"/><rect x="108.4" y="12" width="1.05" height="206.1" fill="url(#g85)"/><rect x="109.4" y="12" width="1.05" height="200.3" fill="url(#g86)"/><rect x="110.4" y="12" width="1.05" height="200.4" fill="url(#g87)"/><rect x="111.4" y="12" width="1.05" height="204.7" fill="url(#g88)"/><rect x="112.4" y="12" width="1.05" height="207.1" fill="url(#g89)"/><rect x="113.4" y="12" width="1.05" height="206.1" fill="url(#g90)"/><rect x="114.4" y="12" width="1.05" height="205.7" fill="url(#g91)"/><rect x="115.4" y="12" width="1.05" height="207.8" fill="url(#g92)"/><rect x="116.4" y="12" width="1.05" height="209.8" fill="url(#g93)"/><rect x="117.4" y="12" width="1.05" height="207.1" fill="url(#g94)"/><rect x="118.4" y="12" width="1.05" height="204.2" fill="url(#g95)"/><rect x="119.4" y="12" width="1.05" height="200.5" fill="url(#g96)"/><rect x="120.4" y="12" width="1.05" height="196.5" fill="url(#g97)"/><rect x="121.4" y="12" width="1.05" height="194.1" fill="url(#g98)"/><rect x="122.4" y="12" width="1.05" height="192.9" fill="url(#g99)"/><rect x="123.4" y="12" width="1.05" height="191.7" fill="url(#g100)"/><rect x="124.4" y="12" width="1.05" height="190" fill="url(#g101)"/><rect x="125.4" y="12" width="1.05" height="188.7" fill="url(#g102)"/><rect x="126.4" y="12" width="1.05" height="189.2" fill="url(#g103)"/><rect x="127.4" y="12" width="1.05" height="189.8" fill="url(#g104)"/><rect x="128.4" y="12" width="1.05" height="189.7" fill="url(#g105)"/><rect x="129.4" y="12" width="1.05" height="189.7" fill="url(#g106)"/><rect x="130.4" y="12" width="1.05" height="194.9" fill="url(#g107)"/><rect x="131.4" y="12" width="1.05" height="201.5" fill="url(#g108)"/><rect x="132.4" y="12" width="1.05" height="202.8" fill="url(#g109)"/><rect x="133.4" y="12" width="1.05" height="200.1" fill="url(#g110)"/><rect x="134.4" y="12" width="1.05" height="195.4" fill="url(#g111)"/><rect x="135.4" y="12" width="1.05" height="187.4" fill="url(#g112)"/><rect x="136.4" y="12" width="1.05" height="181.5" fill="url(#g113)"/><rect x="137.4" y="12" width="1.05" height="187.7" fill="url(#g114)"/><rect x="138.4" y="12" width="1.05" height="193.9" fill="url(#g115)"/><rect x="139.4" y="12" width="1.05" height="190" fill="url(#g116)"/><rect x="140.4" y="12" width="1.05" height="186.1" fill="url(#g117)"/><rect x="141.4" y="12" width="1.05" height="186.5" fill="url(#g118)"/><rect x="142.4" y="12" width="1.05" height="188" fill="url(#g119)"/><rect x="143.4" y="12" width="1.05" height="187.4" fill="url(#g120)"/><rect x="144.4" y="12" width="1.05" height="185.3" fill="url(#g121)"/><rect x="145.4" y="12" width="1.05" height="184.5" fill="url(#g122)"/><rect x="146.4" y="12" width="1.05" height="185.5" fill="url(#g123)"/><rect x="147.4" y="12" width="1.05" height="186.7" fill="url(#g124)"/><rect x="148.4" y="12" width="1.05" height="188.4" fill="url(#g125)"/><rect x="149.4" y="12" width="1.05" height="189.9" fill="url(#g126)"/><rect x="150.4" y="12" width="1.05" height="189.1" fill="url(#g127)"/><rect x="151.4" y="12" width="1.05" height="188.3" fill="url(#g128)"/><rect x="152.4" y="12" width="1.05" height="186.3" fill="url(#g129)"/><rect x="153.4" y="12" width="1.05" height="184" fill="url(#g130)"/><rect x="154.4" y="12" width="1.05" height="183.6" fill="url(#g131)"/><rect x="155.4" y="12" width="1.05" height="184.6" fill="url(#g132)"/><rect x="156.4" y="12" width="1.05" height="185.8" fill="url(#g133)"/><rect x="157.4" y="12" width="1.05" height="187.4" fill="url(#g134)"/><rect x="158.4" y="12" width="1.05" height="187.9" fill="url(#g135)"/><rect x="159.4" y="12" width="1.05" height="184.2" fill="url(#g136)"/><rect x="160.4" y="12" width="1.05" height="180.7" fill="url(#g137)"/><rect x="161.4" y="12" width="1.05" height="179.7" fill="url(#g138)"/><rect x="162.4" y="12" width="1.05" height="178.8" fill="url(#g139)"/><rect x="163.4" y="12" width="1.05" height="178.4" fill="url(#g140)"/><rect x="164.4" y="12" width="1.05" height="178.1" fill="url(#g141)"/><rect x="165.4" y="12" width="1.05" height="177.8" fill="url(#g142)"/><rect x="166.4" y="12" width="1.05" height="177.5" fill="url(#g143)"/><rect x="167.4" y="12" width="1.05" height="178.4" fill="url(#g144)"/><rect x="168.4" y="12" width="1.05" height="180.9" fill="url(#g145)"/><rect x="169.4" y="12" width="1.05" height="182.4" fill="url(#g146)"/><rect x="170.4" y="12" width="1.05" height="178.7" fill="url(#g147)"/><rect x="171.4" y="12" width="1.05" height="175" fill="url(#g148)"/><rect x="172.4" y="12" width="1.05" height="176.7" fill="url(#g149)"/><rect x="173.4" y="12" width="1.05" height="178.5" fill="url(#g150)"/><rect x="174.4" y="12" width="1.05" height="179.5" fill="url(#g151)"/><rect x="175.4" y="12" width="1.05" height="180.1" fill="url(#g152)"/><rect x="176.4" y="12" width="1.05" height="180" fill="url(#g153)"/><rect x="177.4" y="12" width="1.05" height="179.3" fill="url(#g154)"/><rect x="178.4" y="12" width="1.05" height="178.9" fill="url(#g155)"/><rect x="179.4" y="12" width="1.05" height="179" fill="url(#g156)"/><rect x="180.4" y="12" width="1.05" height="179.2" fill="url(#g157)"/><rect x="181.4" y="12" width="1.05" height="179.6" fill="url(#g158)"/><rect x="182.4" y="12" width="1.05" height="180.1" fill="url(#g159)"/><rect x="183.4" y="12" width="1.05" height="178.8" fill="url(#g160)"/><rect x="184.4" y="12" width="1.05" height="177.4" fill="url(#g161)"/><rect x="185.4" y="12" width="1.05" height="176.8" fill="url(#g162)"/><rect x="186.4" y="12" width="1.05" height="176.6" fill="url(#g163)"/><rect x="187.4" y="12" width="1.05" height="176.6" fill="url(#g164)"/><rect x="188.4" y="12" width="1.05" height="177" fill="url(#g165)"/><rect x="189.4" y="12" width="1.05" height="177" fill="url(#g166)"/><rect x="190.4" y="12" width="1.05" height="176.5" fill="url(#g167)"/><rect x="191.4" y="12" width="1.05" height="176.2" fill="url(#g168)"/><rect x="192.4" y="12" width="1.05" height="176.5" fill="url(#g169)"/><rect x="193.4" y="12" width="1.05" height="176.8" fill="url(#g170)"/><rect x="194.4" y="12" width="1.05" height="177.3" fill="url(#g171)"/><rect x="195.4" y="12" width="1.05" height="177.9" fill="url(#g172)"/><rect x="196.4" y="12" width="1.05" height="177.8" fill="url(#g173)"/><rect x="197.4" y="12" width="1.05" height="177.6" fill="url(#g174)"/><rect x="198.4" y="12" width="1.05" height="176.8" fill="url(#g175)"/><rect x="199.4" y="12" width="1.05" height="175.5" fill="url(#g176)"/><rect x="200.4" y="12" width="1.05" height="175.5" fill="url(#g177)"/><rect x="201.4" y="12" width="1.05" height="177.5" fill="url(#g178)"/><rect x="202.4" y="12" width="1.05" height="178.9" fill="url(#g179)"/><rect x="203.4" y="12" width="1.05" height="177.8" fill="url(#g180)"/><rect x="204.4" y="12" width="1.05" height="176.7" fill="url(#g181)"/><rect x="205.4" y="12" width="1.05" height="174.9" fill="url(#g182)"/><rect x="206.4" y="12" width="1.05" height="173.1" fill="url(#g183)"/><rect x="207.4" y="12" width="1.05" height="173.2" fill="url(#g184)"/><rect x="208.4" y="12" width="1.05" height="173.8" fill="url(#g185)"/><rect x="209.4" y="12" width="1.05" height="173.7" fill="url(#g186)"/><rect x="210.4" y="12" width="1.05" height="173.1" fill="url(#g187)"/><rect x="211.4" y="12" width="1.05" height="172.9" fill="url(#g188)"/><rect x="212.4" y="12" width="1.05" height="173.5" fill="url(#g189)"/><rect x="213.4" y="12" width="1.05" height="173.9" fill="url(#g190)"/><rect x="214.4" y="12" width="1.05" height="174" fill="url(#g191)"/><rect x="215.4" y="12" width="1.05" height="174" fill="url(#g192)"/><rect x="216.4" y="12" width="1.05" height="174.1" fill="url(#g193)"/><rect x="217.4" y="12" width="1.05" height="174.1" fill="url(#g194)"/><rect x="218.4" y="12" width="1.05" height="173.6" fill="url(#g195)"/><rect x="219.4" y="12" width="1.05" height="172.9" fill="url(#g196)"/><rect x="220.4" y="12" width="1.05" height="172.2" fill="url(#g197)"/><rect x="221.4" y="12" width="1.05" height="171.5" fill="url(#g198)"/><rect x="222.4" y="12" width="1.05" height="171" fill="url(#g199)"/><rect x="223.4" y="12" width="1.05" height="170.6" fill="url(#g200)"/><rect x="224.4" y="12" width="1.05" height="170.4" fill="url(#g201)"/><rect x="225.4" y="12" width="1.05" height="170.9" fill="url(#g202)"/><rect x="226.4" y="12" width="1.05" height="171.5" fill="url(#g203)"/><rect x="227.4" y="12" width="1.05" height="170.6" fill="url(#g204)"/><rect x="228.4" y="12" width="1.05" height="169.7" fill="url(#g205)"/><rect x="229.4" y="12" width="1.05" height="170.5" fill="url(#g206)"/><rect x="230.4" y="12" width="1.05" height="171.8" fill="url(#g207)"/><rect x="231.4" y="12" width="1.05" height="171.3" fill="url(#g208)"/><rect x="232.4" y="12" width="1.05" height="169.4" fill="url(#g209)"/><rect x="233.4" y="12" width="1.05" height="168.6" fill="url(#g210)"/><rect x="234.4" y="12" width="1.05" height="169.7" fill="url(#g211)"/><path d="M175.7 191L177 218L178.3 191z" fill="url(#sp)"/><path d="M202.1 188.8L203.4 214.8L204.7 188.8z" fill="url(#sp)"/><path d="M229.2 182.8L230.5 210.8L231.8 182.8z" fill="url(#sp)"/><path d="M158.7 195.2L160 207.2L161.3 195.2z" fill="url(#sp)"/><path d="M141.7 199L143 209L144.3 199z" fill="url(#sp)"/></g>
<line x1="179.9" y1="12" x2="179.9" y2="83.8" stroke="#4a63b8" stroke-width="0.8" opacity="0.25"/><line x1="73.8" y1="12" x2="73.8" y2="71.4" stroke="#4a63b8" stroke-width="0.8" opacity="0.25"/><line x1="112.6" y1="12" x2="112.6" y2="74.8" stroke="#4a63b8" stroke-width="0.8" opacity="0.25"/><line x1="72.1" y1="12" x2="72.1" y2="56.2" stroke="#4a63b8" stroke-width="0.8" opacity="0.25"/><line x1="59.7" y1="12" x2="59.7" y2="68.1" stroke="#4a63b8" stroke-width="0.8" opacity="0.25"/><line x1="211.4" y1="12" x2="211.4" y2="118.6" stroke="#4a63b8" stroke-width="0.8" opacity="0.25"/><line x1="206.1" y1="12" x2="206.1" y2="79.7" stroke="#4a63b8" stroke-width="0.8" opacity="0.25"/><line x1="151.5" y1="12" x2="151.5" y2="110.5" stroke="#4a63b8" stroke-width="0.8" opacity="0.25"/><line x1="94" y1="12" x2="94" y2="112" stroke="#4a63b8" stroke-width="0.8" opacity="0.25"/><line x1="117.6" y1="12" x2="117.6" y2="79.4" stroke="#4a63b8" stroke-width="0.8" opacity="0.25"/><line x1="177.6" y1="12" x2="177.6" y2="74.8" stroke="#4a63b8" stroke-width="0.8" opacity="0.25"/><line x1="97.9" y1="12" x2="97.9" y2="104" stroke="#4a63b8" stroke-width="0.8" opacity="0.25"/><line x1="184.9" y1="12" x2="184.9" y2="53.6" stroke="#4a63b8" stroke-width="0.8" opacity="0.25"/><line x1="71.7" y1="12" x2="71.7" y2="98" stroke="#4a63b8" stroke-width="0.8" opacity="0.25"/><line x1="83.1" y1="12" x2="83.1" y2="53.5" stroke="#4a63b8" stroke-width="0.8" opacity="0.25"/><line x1="28.8" y1="12" x2="28.8" y2="60" stroke="#4a63b8" stroke-width="0.8" opacity="0.25"/><line x1="185.7" y1="12" x2="185.7" y2="104.4" stroke="#4a63b8" stroke-width="0.8" opacity="0.25"/><line x1="167.5" y1="12" x2="167.5" y2="101.4" stroke="#4a63b8" stroke-width="0.8" opacity="0.25"/><line x1="158.4" y1="12" x2="158.4" y2="97" stroke="#4a63b8" stroke-width="0.8" opacity="0.25"/><line x1="216.5" y1="12" x2="216.5" y2="94.4" stroke="#4a63b8" stroke-width="0.8" opacity="0.25"/><line x1="195.1" y1="12" x2="195.1" y2="85" stroke="#4a63b8" stroke-width="0.8" opacity="0.25"/><line x1="103.2" y1="12" x2="103.2" y2="54.2" stroke="#4a63b8" stroke-width="0.8" opacity="0.25"/><line x1="66.2" y1="12" x2="66.2" y2="58.8" stroke="#4a63b8" stroke-width="0.8" opacity="0.25"/><line x1="230.4" y1="12" x2="230.4" y2="63.5" stroke="#4a63b8" stroke-width="0.8" opacity="0.25"/><line x1="152.9" y1="12" x2="152.9" y2="81.4" stroke="#4a63b8" stroke-width="0.8" opacity="0.25"/><line x1="219.3" y1="12" x2="219.3" y2="96.4" stroke="#4a63b8" stroke-width="0.8" opacity="0.25"/><line x1="197.6" y1="12" x2="197.6" y2="69.4" stroke="#4a63b8" stroke-width="0.8" opacity="0.25"/><line x1="204.8" y1="12" x2="204.8" y2="95.8" stroke="#4a63b8" stroke-width="0.8" opacity="0.25"/><line x1="161.7" y1="12" x2="161.7" y2="123.3" stroke="#4a63b8" stroke-width="0.8" opacity="0.25"/><line x1="40.5" y1="12" x2="40.5" y2="122.1" stroke="#4a63b8" stroke-width="0.8" opacity="0.25"/><line x1="179" y1="12" x2="179" y2="102.5" stroke="#4a63b8" stroke-width="0.8" opacity="0.25"/><line x1="215.2" y1="12" x2="215.2" y2="124.3" stroke="#4a63b8" stroke-width="0.8" opacity="0.25"/><line x1="61.4" y1="12" x2="61.4" y2="64.5" stroke="#4a63b8" stroke-width="0.8" opacity="0.25"/><line x1="112.8" y1="12" x2="112.8" y2="113.2" stroke="#4a63b8" stroke-width="0.8" opacity="0.25"/><line x1="188.5" y1="12" x2="188.5" y2="112.1" stroke="#4a63b8" stroke-width="0.8" opacity="0.25"/><line x1="228.8" y1="12" x2="228.8" y2="108.9" stroke="#4a63b8" stroke-width="0.8" opacity="0.25"/><line x1="204.7" y1="12" x2="204.7" y2="92.7" stroke="#4a63b8" stroke-width="0.8" opacity="0.25"/><line x1="220.8" y1="12" x2="220.8" y2="107.2" stroke="#4a63b8" stroke-width="0.8" opacity="0.25"/><line x1="218.7" y1="12" x2="218.7" y2="106.7" stroke="#4a63b8" stroke-width="0.8" opacity="0.25"/><line x1="119" y1="12" x2="119" y2="80.6" stroke="#4a63b8" stroke-width="0.8" opacity="0.25"/>
<line x1="50.2" y1="12" x2="50.2" y2="249.5" stroke="#a22e70" stroke-width="1.5" stroke-dasharray="2.4 3" stroke-dashoffset="-3"/>
<line x1="80.7" y1="12" x2="80.7" y2="249.5" stroke="#a05cc4" stroke-width="1" stroke-dasharray="2.6 2.8"/>
<path d="M24.4 12V249.2H235.3" fill="none" stroke="#222" stroke-width="0.9"/><path d="M235.3 12V249.2" fill="none" stroke="#222" stroke-width="0.7"/><path d="M24.4 249.2v-2.4M34.9 249.2v-1.2M45.5 249.2v-1.2M56 249.2v-1.2M66.6 249.2v-1.2M77.1 249.2v-2.4M87.7 249.2v-1.2M98.2 249.2v-1.2M108.8 249.2v-1.2M119.3 249.2v-1.2M129.8 249.2v-2.4M140.4 249.2v-1.2M150.9 249.2v-1.2M161.5 249.2v-1.2M172 249.2v-1.2M182.6 249.2v-2.4M193.1 249.2v-1.2M203.7 249.2v-1.2M214.2 249.2v-1.2M224.8 249.2v-1.2M235.3 249.2v-2.4M235.3 249.2h-2M235.3 222.8h-2M235.3 196.5h-2M235.3 170.1h-2M235.3 143.8h-2M235.3 117.4h-2M235.3 91.1h-2M235.3 64.7h-2M235.3 38.4h-2M235.3 12h-2" stroke="#222" stroke-width="0.7" fill="none"/><text x="24.4" y="261.7" font-size="8.9" text-anchor="middle" font-weight="bold" fill="#1a1a1a" stroke="#1a1a1a" stroke-width="0.2">6.1</text><text x="77.1" y="261.7" font-size="8.9" text-anchor="middle" font-weight="bold" fill="#1a1a1a" stroke="#1a1a1a" stroke-width="0.2">6.2</text><text x="129.8" y="261.7" font-size="8.9" text-anchor="middle" font-weight="bold" fill="#1a1a1a" stroke="#1a1a1a" stroke-width="0.2">6.3</text><text x="182.6" y="261.7" font-size="8.9" text-anchor="middle" font-weight="bold" fill="#1a1a1a" stroke="#1a1a1a" stroke-width="0.2">6.4</text><text x="235.3" y="261.7" font-size="8.9" text-anchor="middle" font-weight="bold" fill="#1a1a1a" stroke="#1a1a1a" stroke-width="0.2">6.5</text><text x="21.7" y="253.3" font-size="8.9" text-anchor="end" font-weight="bold" fill="#1a1a1a" stroke="#1a1a1a" stroke-width="0.2">0</text><text x="21.7" y="226.9" font-size="8.9" text-anchor="end" font-weight="bold" fill="#1a1a1a" stroke="#1a1a1a" stroke-width="0.2">0.1</text><text x="21.7" y="200.6" font-size="8.9" text-anchor="end" font-weight="bold" fill="#1a1a1a" stroke="#1a1a1a" stroke-width="0.2">0.2</text><text x="21.7" y="174.2" font-size="8.9" text-anchor="end" font-weight="bold" fill="#1a1a1a" stroke="#1a1a1a" stroke-width="0.2">0.3</text><text x="21.7" y="147.9" font-size="8.9" text-anchor="end" font-weight="bold" fill="#1a1a1a" stroke="#1a1a1a" stroke-width="0.2">0.4</text><text x="21.7" y="121.5" font-size="8.9" text-anchor="end" font-weight="bold" fill="#1a1a1a" stroke="#1a1a1a" stroke-width="0.2">0.5</text><text x="21.7" y="95.2" font-size="8.9" text-anchor="end" font-weight="bold" fill="#1a1a1a" stroke="#1a1a1a" stroke-width="0.2">0.6</text><text x="21.7" y="68.8" font-size="8.9" text-anchor="end" font-weight="bold" fill="#1a1a1a" stroke="#1a1a1a" stroke-width="0.2">0.7</text><text x="21.7" y="42.5" font-size="8.9" text-anchor="end" font-weight="bold" fill="#1a1a1a" stroke="#1a1a1a" stroke-width="0.2">0.8</text><text x="21.7" y="16.1" font-size="8.9" text-anchor="end" font-weight="bold" fill="#1a1a1a" stroke="#1a1a1a" stroke-width="0.2">0.9</text>
<text x="130.2" y="273.4" font-size="9.7" text-anchor="middle" font-weight="bold" fill="#1a1a1a" stroke="#1a1a1a" stroke-width="0.2">Time (s)</text>
<text x="27.4" y="8.6" font-size="10.2" text-anchor="start" font-weight="bold" fill="#1a1a1a" stroke="#1a1a1a" stroke-width="0.2">(a)</text>
<text transform="translate(6.0,130.5) rotate(-90)" font-size="10.5" text-anchor="middle" font-style="italic" fill="#222" stroke="#222" stroke-width="0.3" font-family='"Liberation Serif", "DejaVu Serif", serif'>ρ</text>
<rect x="70" y="49.4" width="29.4" height="10.1" fill="#fff"/><text x="84.7" y="57.6" font-size="7.3" text-anchor="middle" font-weight="bold" fill="#b4202a" stroke="#b4202a" stroke-width="0.2">ITB star</text><line x1="55.4" y1="54.4" x2="70" y2="54.4" stroke="#c8283a" stroke-width="1.9"/><path d="M50 54.4l6.4 -2.6v5.2z" fill="#c8283a"/>
<rect x="101.7" y="76.7" width="51.1" height="10.3" fill="#fff"/><text x="127.2" y="84.7" font-size="7.1" text-anchor="middle" font-weight="bold" fill="#96209a" stroke="#96209a" stroke-width="0.2">RSAEs appear</text><line x1="86.6" y1="81.7" x2="101.7" y2="81.7" stroke="#c060c4" stroke-width="1.1"/><path d="M82.1 81.7l5.5 -2v4z" fill="#c060c4"/>
<rect x="246.1" y="13.2" width="9.1" height="236.4" fill="url(#cb)"/>
<text x="258" y="253.5" font-size="8.9" text-anchor="start" font-weight="bold" fill="#1a1a1a" stroke="#1a1a1a" stroke-width="0.2">0</text>
<text x="258" y="214.1" font-size="8.9" text-anchor="start" font-weight="bold" fill="#1a1a1a" stroke="#1a1a1a" stroke-width="0.2">5</text>
<text x="258" y="174.7" font-size="8.9" text-anchor="start" font-weight="bold" fill="#1a1a1a" stroke="#1a1a1a" stroke-width="0.2">10</text>
<text x="258" y="135.3" font-size="8.9" text-anchor="start" font-weight="bold" fill="#1a1a1a" stroke="#1a1a1a" stroke-width="0.2">15</text>
<text x="258" y="95.9" font-size="8.9" text-anchor="start" font-weight="bold" fill="#1a1a1a" stroke="#1a1a1a" stroke-width="0.2">20</text>
<text x="258" y="56.5" font-size="8.9" text-anchor="start" font-weight="bold" fill="#1a1a1a" stroke="#1a1a1a" stroke-width="0.2">25</text>
<text x="258" y="17.1" font-size="8.9" text-anchor="start" font-weight="bold" fill="#1a1a1a" stroke="#1a1a1a" stroke-width="0.2">30</text>
<path d="M255.2 249.8h-1.8M255.2 210.5h-1.8M255.2 171.1h-1.8M255.2 131.8h-1.8M255.2 92.5h-1.8M255.2 53.2h-1.8M255.2 13.8h-1.8" stroke="#222" stroke-width="0.6"/>
<text x="242.4" y="5.9" font-size="6.3" font-weight="bold" fill="#222">R/L<tspan font-size="4.4" dy="3" dx="0.4">ne</tspan></text>
<g shape-rendering="crispEdges"><rect x="300.3" y="12" width="1.05" height="217.7" fill="url(#g212)"/><rect x="301.3" y="12" width="1.05" height="214" fill="url(#g213)"/><rect x="302.3" y="12" width="1.05" height="213.7" fill="url(#g214)"/><rect x="303.3" y="12" width="1.05" height="215.5" fill="url(#g215)"/><rect x="304.3" y="12" width="1.05" height="218.2" fill="url(#g216)"/><rect x="305.3" y="12" width="1.05" height="220.6" fill="url(#g217)"/><rect x="306.3" y="12" width="1.05" height="221.9" fill="url(#g218)"/><rect x="307.3" y="12" width="1.05" height="217.7" fill="url(#g219)"/><rect x="308.3" y="12" width="1.05" height="216.4" fill="url(#g220)"/><rect x="309.3" y="12" width="1.05" height="216.8" fill="url(#g221)"/><rect x="310.3" y="12" width="1.05" height="217" fill="url(#g222)"/><rect x="311.3" y="12" width="1.05" height="219.6" fill="url(#g223)"/><rect x="312.3" y="12" width="1.05" height="222.6" fill="url(#g224)"/><rect x="313.3" y="12" width="1.05" height="220.9" fill="url(#g225)"/><rect x="314.3" y="12" width="1.05" height="224.3" fill="url(#g226)"/><rect x="315.3" y="12" width="1.05" height="229" fill="url(#g227)"/><rect x="316.3" y="12" width="1.05" height="222.7" fill="url(#g228)"/><rect x="317.3" y="12" width="1.05" height="221.9" fill="url(#g229)"/><rect x="318.3" y="12" width="1.05" height="224.7" fill="url(#g230)"/><rect x="319.3" y="12" width="1.05" height="230.1" fill="url(#g231)"/><rect x="320.3" y="12" width="1.05" height="228.6" fill="url(#g232)"/><rect x="321.3" y="12" width="1.05" height="223.7" fill="url(#g233)"/><rect x="322.3" y="12" width="1.05" height="222.6" fill="url(#g234)"/><rect x="323.3" y="12" width="1.05" height="224.5" fill="url(#g235)"/><rect x="324.3" y="12" width="1.05" height="226.8" fill="url(#g236)"/><rect x="325.3" y="12" width="1.05" height="220.7" fill="url(#g237)"/><rect x="326.3" y="12" width="1.05" height="223.5" fill="url(#g238)"/><rect x="327.3" y="12" width="1.05" height="229.9" fill="url(#g239)"/><rect x="328.3" y="12" width="1.05" height="223.9" fill="url(#g240)"/><rect x="329.3" y="12" width="1.05" height="227.1" fill="url(#g241)"/><rect x="330.3" y="12" width="1.05" height="233.8" fill="url(#g242)"/><rect x="331.3" y="12" width="1.05" height="228.4" fill="url(#g243)"/><rect x="332.3" y="12" width="1.05" height="228.3" fill="url(#g244)"/><rect x="333.3" y="12" width="1.05" height="229.7" fill="url(#g245)"/><rect x="334.3" y="12" width="1.05" height="221.3" fill="url(#g246)"/><rect x="335.3" y="12" width="1.05" height="220.7" fill="url(#g247)"/><rect x="336.3" y="12" width="1.05" height="224.2" fill="url(#g248)"/><rect x="337.3" y="12" width="1.05" height="224.3" fill="url(#g249)"/><rect x="338.3" y="12" width="1.05" height="223.2" fill="url(#g250)"/><rect x="339.3" y="12" width="1.05" height="222.4" fill="url(#g251)"/><rect x="340.3" y="12" width="1.05" height="228.8" fill="url(#g252)"/><rect x="341.3" y="12" width="1.05" height="226.5" fill="url(#g253)"/><rect x="342.3" y="12" width="1.05" height="219.4" fill="url(#g254)"/><rect x="343.3" y="12" width="1.05" height="212.9" fill="url(#g255)"/><rect x="344.3" y="12" width="1.05" height="210" fill="url(#g256)"/><rect x="345.3" y="12" width="1.05" height="209.8" fill="url(#g257)"/><rect x="346.3" y="12" width="1.05" height="213.1" fill="url(#g258)"/><rect x="347.3" y="12" width="1.05" height="218.4" fill="url(#g259)"/><rect x="348.3" y="12" width="1.05" height="223" fill="url(#g260)"/><rect x="349.3" y="12" width="1.05" height="215.4" fill="url(#g261)"/><rect x="350.3" y="12" width="1.05" height="209.9" fill="url(#g262)"/><rect x="351.3" y="12" width="1.05" height="206.5" fill="url(#g263)"/><rect x="352.3" y="12" width="1.05" height="208.7" fill="url(#g264)"/><rect x="353.3" y="12" width="1.05" height="208.7" fill="url(#g265)"/><rect x="354.3" y="12" width="1.05" height="208.2" fill="url(#g266)"/><rect x="355.3" y="12" width="1.05" height="212" fill="url(#g267)"/><rect x="356.3" y="12" width="1.05" height="206.7" fill="url(#g268)"/><rect x="357.3" y="12" width="1.05" height="197.7" fill="url(#g269)"/><rect x="358.3" y="12" width="1.05" height="199.2" fill="url(#g270)"/><rect x="359.3" y="12" width="1.05" height="204.7" fill="url(#g271)"/><rect x="360.3" y="12" width="1.05" height="210.5" fill="url(#g272)"/><rect x="361.3" y="12" width="1.05" height="204.7" fill="url(#g273)"/><rect x="362.3" y="12" width="1.05" height="202.2" fill="url(#g274)"/><rect x="363.3" y="12" width="1.05" height="202.4" fill="url(#g275)"/><rect x="364.3" y="12" width="1.05" height="208.3" fill="url(#g276)"/><rect x="365.3" y="12" width="1.05" height="208.3" fill="url(#g277)"/><rect x="366.3" y="12" width="1.05" height="205.1" fill="url(#g278)"/><rect x="367.3" y="12" width="1.05" height="202.7" fill="url(#g279)"/><rect x="368.3" y="12" width="1.05" height="203" fill="url(#g280)"/><rect x="369.3" y="12" width="1.05" height="205" fill="url(#g281)"/><rect x="370.3" y="12" width="1.05" height="207.8" fill="url(#g282)"/><rect x="371.3" y="12" width="1.05" height="205.8" fill="url(#g283)"/><rect x="372.3" y="12" width="1.05" height="201.7" fill="url(#g284)"/><rect x="373.3" y="12" width="1.05" height="202.2" fill="url(#g285)"/><rect x="374.3" y="12" width="1.05" height="204.1" fill="url(#g286)"/><rect x="375.3" y="12" width="1.05" height="207.1" fill="url(#g287)"/><rect x="376.3" y="12" width="1.05" height="210.8" fill="url(#g288)"/><rect x="377.3" y="12" width="1.05" height="206.6" fill="url(#g289)"/><rect x="378.3" y="12" width="1.05" height="198.7" fill="url(#g290)"/><rect x="379.3" y="12" width="1.05" height="194.8" fill="url(#g291)"/><rect x="380.3" y="12" width="1.05" height="197.7" fill="url(#g292)"/><rect x="381.3" y="12" width="1.05" height="202.7" fill="url(#g293)"/><rect x="382.3" y="12" width="1.05" height="196.6" fill="url(#g294)"/><rect x="383.3" y="12" width="1.05" height="193.2" fill="url(#g295)"/><rect x="384.3" y="12" width="1.05" height="192.3" fill="url(#g296)"/><rect x="385.3" y="12" width="1.05" height="197.1" fill="url(#g297)"/><rect x="386.3" y="12" width="1.05" height="198.5" fill="url(#g298)"/><rect x="387.3" y="12" width="1.05" height="198.6" fill="url(#g299)"/><rect x="388.3" y="12" width="1.05" height="203.1" fill="url(#g300)"/><rect x="389.3" y="12" width="1.05" height="201.8" fill="url(#g301)"/><rect x="390.3" y="12" width="1.05" height="198" fill="url(#g302)"/><rect x="391.3" y="12" width="1.05" height="198.5" fill="url(#g303)"/><rect x="392.3" y="12" width="1.05" height="197.1" fill="url(#g304)"/><rect x="393.3" y="12" width="1.05" height="195.3" fill="url(#g305)"/><rect x="394.3" y="12" width="1.05" height="198.7" fill="url(#g306)"/><rect x="395.3" y="12" width="1.05" height="196.4" fill="url(#g307)"/><rect x="396.3" y="12" width="1.05" height="192.7" fill="url(#g308)"/><rect x="397.3" y="12" width="1.05" height="199.4" fill="url(#g309)"/><rect x="398.3" y="12" width="1.05" height="202.2" fill="url(#g310)"/><rect x="399.3" y="12" width="1.05" height="201.8" fill="url(#g311)"/><rect x="400.3" y="12" width="1.05" height="195.4" fill="url(#g312)"/><rect x="401.3" y="12" width="1.05" height="192" fill="url(#g313)"/><rect x="402.3" y="12" width="1.05" height="189.9" fill="url(#g314)"/><rect x="403.3" y="12" width="1.05" height="186.2" fill="url(#g315)"/><rect x="404.3" y="12" width="1.05" height="186" fill="url(#g316)"/><rect x="405.3" y="12" width="1.05" height="187.7" fill="url(#g317)"/><rect x="406.3" y="12" width="1.05" height="189.6" fill="url(#g318)"/><rect x="407.3" y="12" width="1.05" height="186.8" fill="url(#g319)"/><rect x="408.3" y="12" width="1.05" height="182.5" fill="url(#g320)"/><rect x="409.3" y="12" width="1.05" height="186.3" fill="url(#g321)"/><rect x="410.3" y="12" width="1.05" height="186.6" fill="url(#g322)"/><rect x="411.3" y="12" width="1.05" height="186" fill="url(#g323)"/><rect x="412.3" y="12" width="1.05" height="191.8" fill="url(#g324)"/><rect x="413.3" y="12" width="1.05" height="192.3" fill="url(#g325)"/><rect x="414.3" y="12" width="1.05" height="189.7" fill="url(#g326)"/><rect x="415.3" y="12" width="1.05" height="186.6" fill="url(#g327)"/><rect x="416.3" y="12" width="1.05" height="183.2" fill="url(#g328)"/><rect x="417.3" y="12" width="1.05" height="180.5" fill="url(#g329)"/><rect x="418.3" y="12" width="1.05" height="183.6" fill="url(#g330)"/><rect x="419.3" y="12" width="1.05" height="189.8" fill="url(#g331)"/><rect x="420.3" y="12" width="1.05" height="194.9" fill="url(#g332)"/><rect x="421.3" y="12" width="1.05" height="181.7" fill="url(#g333)"/><rect x="422.3" y="12" width="1.05" height="175.8" fill="url(#g334)"/><rect x="423.3" y="12" width="1.05" height="175.3" fill="url(#g335)"/><rect x="424.3" y="12" width="1.05" height="182.8" fill="url(#g336)"/><rect x="425.3" y="12" width="1.05" height="182.7" fill="url(#g337)"/><rect x="426.3" y="12" width="1.05" height="178.1" fill="url(#g338)"/><rect x="427.3" y="12" width="1.05" height="172.6" fill="url(#g339)"/><rect x="428.3" y="12" width="1.05" height="176" fill="url(#g340)"/><rect x="429.3" y="12" width="1.05" height="183.1" fill="url(#g341)"/><rect x="430.3" y="12" width="1.05" height="182.7" fill="url(#g342)"/><rect x="431.3" y="12" width="1.05" height="183.5" fill="url(#g343)"/><rect x="432.3" y="12" width="1.05" height="184.3" fill="url(#g344)"/><rect x="433.3" y="12" width="1.05" height="180.4" fill="url(#g345)"/><rect x="434.3" y="12" width="1.05" height="178.6" fill="url(#g346)"/><rect x="435.3" y="12" width="1.05" height="178.4" fill="url(#g347)"/><rect x="436.3" y="12" width="1.05" height="180.6" fill="url(#g348)"/><rect x="437.3" y="12" width="1.05" height="178" fill="url(#g349)"/><rect x="438.3" y="12" width="1.05" height="172.9" fill="url(#g350)"/><rect x="439.3" y="12" width="1.05" height="170.1" fill="url(#g351)"/><rect x="440.3" y="12" width="1.05" height="172.5" fill="url(#g352)"/><rect x="441.3" y="12" width="1.05" height="177" fill="url(#g353)"/><rect x="442.3" y="12" width="1.05" height="175" fill="url(#g354)"/><rect x="443.3" y="12" width="1.05" height="175.4" fill="url(#g355)"/><rect x="444.3" y="12" width="1.05" height="176.8" fill="url(#g356)"/><rect x="445.3" y="12" width="1.05" height="176.2" fill="url(#g357)"/><rect x="446.3" y="12" width="1.05" height="177.9" fill="url(#g358)"/><rect x="447.3" y="12" width="1.05" height="180.3" fill="url(#g359)"/><rect x="448.3" y="12" width="1.05" height="178.2" fill="url(#g360)"/><rect x="449.3" y="12" width="1.05" height="174.5" fill="url(#g361)"/><rect x="450.3" y="12" width="1.05" height="171.2" fill="url(#g362)"/><rect x="451.3" y="12" width="1.05" height="176.6" fill="url(#g363)"/><rect x="452.3" y="12" width="1.05" height="174.6" fill="url(#g364)"/><rect x="453.3" y="12" width="1.05" height="169" fill="url(#g365)"/><rect x="454.3" y="12" width="1.05" height="168.4" fill="url(#g366)"/><rect x="455.3" y="12" width="1.05" height="173.4" fill="url(#g367)"/><rect x="456.3" y="12" width="1.05" height="179.9" fill="url(#g368)"/><rect x="457.3" y="12" width="1.05" height="175.1" fill="url(#g369)"/><rect x="458.3" y="12" width="1.05" height="170.3" fill="url(#g370)"/><rect x="459.3" y="12" width="1.05" height="167" fill="url(#g371)"/><rect x="460.3" y="12" width="1.05" height="173" fill="url(#g372)"/><rect x="461.3" y="12" width="1.05" height="175.8" fill="url(#g373)"/><rect x="462.3" y="12" width="1.05" height="177.1" fill="url(#g374)"/><rect x="463.3" y="12" width="1.05" height="180.7" fill="url(#g375)"/><rect x="464.3" y="12" width="1.05" height="178.1" fill="url(#g376)"/><rect x="465.3" y="12" width="1.05" height="172.6" fill="url(#g377)"/><rect x="466.3" y="12" width="1.05" height="170.7" fill="url(#g378)"/><rect x="467.3" y="12" width="1.05" height="176.6" fill="url(#g379)"/><rect x="468.3" y="12" width="1.05" height="185.6" fill="url(#g380)"/><rect x="469.3" y="12" width="1.05" height="185.6" fill="url(#g381)"/><rect x="470.3" y="12" width="1.05" height="177.2" fill="url(#g382)"/><rect x="471.3" y="12" width="1.05" height="166.6" fill="url(#g383)"/><rect x="472.3" y="12" width="1.05" height="172.3" fill="url(#g384)"/><rect x="473.3" y="12" width="1.05" height="173.7" fill="url(#g385)"/><rect x="474.3" y="12" width="1.05" height="172.3" fill="url(#g386)"/><rect x="475.3" y="12" width="1.05" height="169.5" fill="url(#g387)"/><rect x="476.3" y="12" width="1.05" height="167.7" fill="url(#g388)"/><rect x="477.3" y="12" width="1.05" height="166.5" fill="url(#g389)"/><rect x="478.3" y="12" width="1.05" height="166.2" fill="url(#g390)"/><rect x="479.3" y="12" width="1.05" height="168.1" fill="url(#g391)"/><rect x="480.3" y="12" width="1.05" height="170.9" fill="url(#g392)"/><rect x="481.3" y="12" width="1.05" height="170.4" fill="url(#g393)"/><rect x="482.3" y="12" width="1.05" height="170.9" fill="url(#g394)"/><rect x="483.3" y="12" width="1.05" height="172.2" fill="url(#g395)"/><rect x="484.3" y="12" width="1.05" height="176.3" fill="url(#g396)"/><rect x="485.3" y="12" width="1.05" height="178" fill="url(#g397)"/><rect x="486.3" y="12" width="1.05" height="177.4" fill="url(#g398)"/><rect x="487.3" y="12" width="1.05" height="171.9" fill="url(#g399)"/><rect x="488.3" y="12" width="1.05" height="172" fill="url(#g400)"/><rect x="489.3" y="12" width="1.05" height="174.8" fill="url(#g401)"/><rect x="490.3" y="12" width="1.05" height="173.7" fill="url(#g402)"/><rect x="491.3" y="12" width="1.05" height="174.9" fill="url(#g403)"/><rect x="492.3" y="12" width="1.05" height="176.5" fill="url(#g404)"/><rect x="493.3" y="12" width="1.05" height="171.9" fill="url(#g405)"/><rect x="494.3" y="12" width="1.05" height="169.7" fill="url(#g406)"/><rect x="495.3" y="12" width="1.05" height="169" fill="url(#g407)"/><rect x="496.3" y="12" width="1.05" height="168.7" fill="url(#g408)"/><rect x="497.3" y="12" width="1.05" height="170.5" fill="url(#g409)"/><rect x="498.3" y="12" width="1.05" height="173.8" fill="url(#g410)"/><rect x="499.3" y="12" width="1.05" height="179.6" fill="url(#g411)"/><rect x="500.3" y="12" width="1.05" height="174.2" fill="url(#g412)"/><rect x="501.3" y="12" width="1.05" height="165.2" fill="url(#g413)"/><rect x="502.3" y="12" width="1.05" height="173.7" fill="url(#g414)"/><rect x="503.3" y="12" width="1.05" height="172.6" fill="url(#g415)"/><rect x="504.3" y="12" width="1.05" height="166.9" fill="url(#g416)"/><rect x="505.3" y="12" width="1.05" height="168" fill="url(#g417)"/><rect x="506.3" y="12" width="1.05" height="164" fill="url(#g418)"/><rect x="507.3" y="12" width="1.05" height="159.6" fill="url(#g419)"/><rect x="508.3" y="12" width="1.05" height="171.4" fill="url(#g420)"/><rect x="509.3" y="12" width="1.05" height="170.7" fill="url(#g421)"/><rect x="510.3" y="12" width="1.05" height="164.7" fill="url(#g422)"/></g>
<path d="M449.2 59.7v3.1M422.7 47.8v3.8M498.4 16.7v3.6M323.6 71v3.5M362.9 55.1v1.6M344.1 76.3v1.7M389.9 93.8v3.7M368 78.3v3.5M418 112.3v2M428.7 96.9v2.1M431.2 66.6v2.2M417.9 52.3v1.6M358.7 85.8v3.7M312.5 81.7v2M446.2 34v1.6M481.1 45.9v2M492 87.3v3.5M317.4 70.5v2.8M488 31.4v2.9M312.5 73.2v2.4M508.6 47.5v2.5M377.6 38.5v1.7M471.5 48.5v2.6M449.3 76.5v1.9M388.4 112.1v1.7M393 32.6v2M405.8 16.8v3.6M489.1 48v3M422.6 55.6v2.7M376.7 92.9v1.7M378.5 38.3v2.9M335.9 33.7v1.6M495.2 50.4v2.9M387.5 32.6v1.5M305.1 63.9v2.2M385.2 62.3v1.6M506 47.8v1.7M455.2 62.6v3.2M455 15.5v1.8M508.7 68.4v2M379.4 80v3.7M410.7 110.6v3.3M405.2 33.7v1.6M481.5 25.6v1.5M400.9 104.9v2.8M320.3 26.2v2M440.6 50.2v2.3M346.3 23.3v1.6M354.6 83.8v3M378.5 106v2.9M452.2 45v2.7M365.5 116.4v2.8M432.3 72.1v3.9M343.8 33.7v3.3M488.6 22.4v2.1M493.3 76v3.2M499.7 56.2v3M316.5 56.1v2.1M382.4 78.6v3.9M434.3 42.9v1.9M365 27.2v1.8M499.8 73.5v2.5M408.7 71.9v2.7M389.9 45.3v2.2M336.4 72.8v1.7M394.7 66.6v3.5M324.4 76.6v3.5M372.1 31.5v3.3M310.5 77.8v3.4M411.2 48.3v4M442.1 61.3v3.6M391.2 116.4v2.2M425.3 20v3M360.7 15.3v2.5M349.1 60.6v2.4M325 44.2v3.2M503.7 103.4v3.8M467.4 91.4v2.7M432.7 85v1.8M475.7 100.5v2.7M392.7 24.6v2.9M389.9 17v2.4M452.7 93.4v3.4M457.8 32.3v2.7M347.9 52.5v3.8M366.1 115.3v2M495.6 116.8v1.6M322.2 25.8v2.5M445.4 44.9v2.6M453.9 70v2.9M365.5 117.2v3M357 89.1v3.7M377 106.9v3.1M413.6 111.5v2.4M428.7 88.7v4M467.7 65.6v3.8M309 94.3v2.8M337.2 58.8v3.3M427.1 112.7v1.6M386.4 115.8v1.7M435.3 72.4v1.7M483.8 79.5v3.7M428.3 53.6v2.6M441.4 92.4v2.1M483.5 96.5v2.5M456.5 83.5v2.4M490.6 96.2v2.1M486 89.1v2.3M485 84.4v4M472.4 30.4v2.1M346.9 40.1v3.6M348.4 43.5v1.8M389.3 65.7v3.1M313.3 45v2.2M340.4 21.2v2.4M330.6 48.9v3.9M466.8 50.8v2.4M385.6 86.4v3.5M468.7 67.1v3.7M437.3 47v2.2M352 94v3.5M488.6 32.9v3.5M392.4 38.7v1.9M438 113v3.9M484.5 100.5v3.4M472.9 113.1v2.9M389.1 53.8v3.7M452 95.7v2.9M418.5 116.3v1.8M376.5 99.1v2.1M442.2 18.6v2.6M436 39.2v3.2M438.3 117.3v3.7M335.3 98.9v3M458.7 87.3v3.9M432.3 30.7v2.7M316.6 116.2v2.6M393.3 83.9v1.9M400.2 91.2v3.7M338.9 18v3.7M381.5 38v3M398.6 34v3.6M343.7 24.3v1.6M302.9 67.7v2.3M389.6 68.2v2.7M490.4 23v2.4M361.5 50.2v2M385 43.6v1.5M462.1 42v2.5M353.3 61.9v2.2M472.3 56.7v2.3M469.6 55v1.8M387.8 67.1v3.9M368.4 71.3v3.9M390.3 32.4v1.7M383.6 98.5v3.7M416.6 95v1.7M389.2 107.5v2.7M453.2 85.5v1.9M376.9 100.3v3.6M321.8 41.3v2.3M453.1 38.2v1.8M458.9 20.2v2.9M435.8 84.3v1.9M456.4 33.1v2M325.4 81.2v3.1M377.6 18.3v3.5M492.1 55.8v3.4M499.3 113.8v2.9M340.7 35.7v2.1M455.8 83.2v3.1M442.8 24v3.7M392.7 46.6v2M322.2 44v3.8M456.9 64.3v3.1M453.4 58.9v2.4M478.5 79.5v3.8M467.8 35.9v3.6M506.8 15.7v2.8M380.2 42.1v3.9M432.7 114.8v1.6M398.2 36.5v3.7M379.7 64.3v2.8M321.4 117.3v2.8M481.2 98.7v3.6M358.1 62v3.3M332 20.1v3.9M503.3 117.2v3.1M441.2 27v2M327.6 34.2v2.2M315.5 108v2.8M457.1 34.5v1.5M495.6 27v3.8M461.5 78v2.1M491.3 74.2v2.7M446.9 46.7v3.2M431.3 65.1v3.4M384 90.5v3.8M477.5 43.6v1.9M311.3 22.6v3.9M358.4 52.7v1.5M383.6 45.1v2.4M469.4 23.6v1.8M444.7 78.8v1.9M374.3 67.9v3.7M460.8 116.9v1.6M508.2 60.2v3M375.1 32v2.9M424.9 91.8v3.4M346.3 103.3v3.6M362.7 86.4v1.9M427.1 38.2v1.8M413 61.9v1.8M411.9 89.5v2M506.5 108.1v2.4M430.3 75.8v1.5M481.7 92.8v2.5M490.5 17.8v3.8M387.2 40.9v3.6M342.8 17.8v1.8M438.4 92.9v2M330.3 20.6v1.8M491.3 100.4v2.3M345.7 15.9v1.7M480.7 86.5v3.9M457.6 90.3v2.8M335.3 75.6v1.6M443.4 56.4v2.2M304.6 20.9v1.8M369.9 114.8v2.5M385.2 62.6v2.3M353.7 36.7v2.2M370.8 66.9v2.2M452.7 108.8v2.3M389.2 90.9v3.6M375.3 74.2v2.7M474.2 94.9v3.6M498.8 90.1v1.9M465.6 85.3v2.1M318 54.3v3.8M484.8 56.9v2.6M504.6 49.5v3.9M444.7 45.8v3.3M327.9 38.7v3.8M508.4 55.2v1.9M327.6 71.6v2.5M342.4 108.3v3.5M314.9 85.6v2.3M414.4 55.3v2.5M481.7 77.3v2.3M461 30.9v3.7M337 44.5v3.9M430.6 53.3v2.3M507.5 98.7v2.9M442 34.2v3.5M382.1 89.6v3.9M416.6 88.4v1.8M468.6 30.2v2.9M381.6 49.6v4M421.9 36.5v3.7M459 67.4v1.9M446.5 32v3.9M333.4 105.7v3.6M317.7 54.3v2.2M509.3 80.3v1.7M464.4 86.5v2.5M328.9 83.4v1.8M355.3 57.9v2.2M440.4 24.8v2.9M307.8 18.8v2M373.7 63.3v3M372.9 72.1v3.1M396.7 88.3v2.5M381.7 87.4v3M408.2 75.1v3.3M470.6 50.7v2.4M496.3 106.7v3.5M389.3 76.6v3.6M437.9 17.3v3.7M325.9 65.7v3.4M318.9 61.7v4M351.4 52.7v2.4M361.2 73v3.6M409.3 56.9v1.8M315.3 19.7v2.4M498.6 82.9v3.1M439.2 108.2v1.7M393.5 104.3v2.2M342.5 85.3v2.6M366.5 82.9v2.7M443.6 113.1v4M391.3 22.5v1.5M313.7 107.2v2.5M477.6 46v1.7M376.9 83.4v2.6M458.4 108.8v3.8M400.8 79.8v3.2M359.2 44.2v2.5M401.1 98v2M480.7 58.2v2.6M462.8 23.7v1.9M509.1 116v3M356.6 38.8v3M392.5 44v3.9M336.9 93v2.5M367.3 65.6v3.2M490.5 20.7v3.5M373.8 26.6v3.3M338 19.4v2.1M443.5 46v3.8M440.2 16.4v1.6M309.6 97.3v2.6M318.9 96.7v2.5M460.4 69.4v3.7M459.4 66.6v2.4M346.2 87.4v2.4M376.8 99v2.7M325 28.1v2.9M321.6 83.7v2.1M334.2 68v2M333.3 45.2v2.6M441.4 69.1v2.8M366.3 73.6v2.7M372.9 32.5v2.1M347.6 82v3.5M477.8 59.3v2.4M436.6 32.5v2.1M440.4 44.5v2.5M331.9 55v2M378.2 61.5v3.9M332.2 109.8v3.9M311.4 51.4v1.6M416.3 105.2v3.1M376.8 50.1v2.1M317.4 46v1.9M343 61.5v2.6M473.2 66.3v2.8M449.3 29.7v3M309.4 70.2v1.6M427.4 110.7v2.8M332.9 29.5v1.7M438.8 45.1v2.2M424.9 83.5v2.1M355.7 115.8v1.7M342.7 108.5v2.8M398.9 57.5v3.5M431.4 64.7v2.3M409.1 15.9v2.9M400.9 26.1v1.6M314.9 36.3v3.9M312.4 62.2v2.9M330.4 59.7v3.2M305 28v2.1M416.9 81.1v2.4M385.6 117v2.6M356.8 80.7v1.9M371.4 45.5v4M342.7 28.3v3M322.8 115.9v2.1M323.9 50v3.3M487.7 66v2.3M367.9 96.4v3.1M497.5 108.7v2.5M374.9 109.2v3M506 89v3.3M488.9 89.6v3.8M457.2 51.1v2M359.4 107v3.5M319.8 62.8v2M460.8 58.5v3.9M452.8 107.1v2.4M421.5 23.7v2.4M340.8 88.3v2.1M333.9 82.1v2.1M407.8 25.5v3.9M334.9 58.9v3.2M333.5 62.8v2M377.4 84.1v3.5M350.4 61.9v3M370.3 21.9v2.3M369.5 46.2v2.7M452.3 101.7v1.9M454.7 77.5v3.6M350.3 92.7v2.4M324.6 94.8v2.2M417.2 31.6v3M458.1 17v2.2M483.8 60.8v2M329.2 83.7v1.8M462.1 60.1v1.6M484.2 56.2v2.6M331.1 69.1v3.8M423.2 70.2v3M416.2 53.3v2M332.7 116.1v1.5M355 57.3v2.7M489 95.5v1.8M335.1 66.3v2.2M396.4 46.7v2.3M439.9 115.4v2.9M490.3 21.4v2.9M506 93.2v2.2M394.9 65.1v3.5M394.7 112.5v3.2M348 26.7v2M363.2 103.3v2.3M426.6 89.9v1.6M423.6 41.9v1.8M389.9 110.4v1.5M379.6 88v3.7M304.6 51v3.3M388.4 66v2.1M354.2 112v1.6M330.3 43v2.6M408.1 87.2v1.9M467.8 104.7v2.2M458 86.8v3.9M338.2 63.2v2.8M405.8 37.8v1.6M415.2 36.2v1.6M415.3 72.1v2.5M413.5 53.2v3.3M488.4 49.9v4M439.9 89.8v1.9M316.5 89.9v1.8M443.7 46.6v3M381.3 69.7v2.1M492.6 115.8v2.3M420.8 98.9v3.6M401.6 79.3v1.7M360.2 56.8v2.2M311.2 57.9v2.3M477.6 46.3v3.3M486.7 34.2v2.3M420 90.8v2M344.6 53.3v2.1M441.5 91.6v1.6M389.4 96.8v3.2M347.8 60.2v1.9M401.9 28.3v2.3M411.3 72.3v1.7M306.1 30.8v2.4M444.3 75v3.6M342.3 67.7v2.9M466.6 114.4v2.4M400.5 56.9v1.9M414.7 46.1v3.3M348.4 72.1v2.2M382.3 80.1v3.9M304.6 20v1.6M318 43.5v3.6M476.5 21.4v2.5M305.1 53.1v3.7M324.1 32.3v1.5M453.9 66.7v3.8M483.5 112.6v2.7M352.1 72.3v1.7M376.7 75.4v1.5M400.4 25.5v1.7M498 67.1v2M503.1 68.8v2.6M380 26.8v1.8M345.5 88.3v1.7M477.1 67.2v3M485.7 66.6v2.2M412.1 66v2.2M349.9 80.6v3.3M336.1 15v2.1M358.4 52.1v2.4M443.4 25.3v2.1M469.9 85.7v2.5M328.4 25.7v2.4M447.4 114.7v3.2M348.8 71v3.2M337.3 63.2v3.6M335.7 69.4v2M331.6 67.1v2.6M435.5 29.3v3.3M371.7 67.5v3.2M476 47.2v2.8" stroke="#252d84" stroke-width="0.9" opacity="0.6" fill="none"/><line x1="414.5" y1="35.6" x2="414.5" y2="76.8" stroke="#232a7c" stroke-width="0.8" stroke-dasharray="1.8 4.2" opacity="0.55"/><line x1="422.6" y1="32" x2="422.6" y2="70.4" stroke="#232a7c" stroke-width="0.8" stroke-dasharray="1.3 3.3" opacity="0.55"/><line x1="486.7" y1="72.4" x2="486.7" y2="143.2" stroke="#232a7c" stroke-width="0.8" stroke-dasharray="1.8 4" opacity="0.55"/><line x1="412.3" y1="81.8" x2="412.3" y2="114.7" stroke="#232a7c" stroke-width="0.8" stroke-dasharray="2.3 3.2" opacity="0.55"/><line x1="471.5" y1="85.4" x2="471.5" y2="150.5" stroke="#232a7c" stroke-width="0.8" stroke-dasharray="2.7 2.2" opacity="0.55"/><line x1="434.8" y1="35.5" x2="434.8" y2="106.7" stroke="#232a7c" stroke-width="0.8" stroke-dasharray="2.5 2.6" opacity="0.55"/><line x1="461.4" y1="97.4" x2="461.4" y2="146.5" stroke="#232a7c" stroke-width="0.8" stroke-dasharray="2.1 2.6" opacity="0.55"/><line x1="446" y1="75.3" x2="446" y2="106.1" stroke="#232a7c" stroke-width="0.8" stroke-dasharray="1.3 4" opacity="0.55"/><line x1="400.3" y1="26.3" x2="400.3" y2="99.9" stroke="#232a7c" stroke-width="0.8" stroke-dasharray="2.7 4" opacity="0.55"/><line x1="400.3" y1="95.1" x2="400.3" y2="138.2" stroke="#232a7c" stroke-width="0.8" stroke-dasharray="1.5 2.2" opacity="0.55"/><line x1="500" y1="32.3" x2="500" y2="99.1" stroke="#232a7c" stroke-width="0.8" stroke-dasharray="1.6 4.1" opacity="0.55"/><line x1="489.3" y1="78.7" x2="489.3" y2="111.7" stroke="#232a7c" stroke-width="0.8" stroke-dasharray="1.4 3" opacity="0.55"/><line x1="490.7" y1="98.2" x2="490.7" y2="147.2" stroke="#232a7c" stroke-width="0.8" stroke-dasharray="1.7 4.2" opacity="0.55"/><line x1="416.7" y1="52.4" x2="416.7" y2="95.8" stroke="#232a7c" stroke-width="0.8" stroke-dasharray="2.2 4.1" opacity="0.55"/><line x1="489.9" y1="37.4" x2="489.9" y2="79.2" stroke="#232a7c" stroke-width="0.8" stroke-dasharray="1.6 2.3" opacity="0.55"/><line x1="427.8" y1="94.8" x2="427.8" y2="162.5" stroke="#232a7c" stroke-width="0.8" stroke-dasharray="1.3 2.5" opacity="0.55"/><line x1="486.1" y1="43.5" x2="486.1" y2="121.2" stroke="#232a7c" stroke-width="0.8" stroke-dasharray="1.8 2.1" opacity="0.55"/><line x1="488.1" y1="81.6" x2="488.1" y2="148.7" stroke="#232a7c" stroke-width="0.8" stroke-dasharray="1.2 2.1" opacity="0.55"/><line x1="465.2" y1="50.2" x2="465.2" y2="106.1" stroke="#232a7c" stroke-width="0.8" stroke-dasharray="2 3.5" opacity="0.55"/><line x1="414.3" y1="99.2" x2="414.3" y2="144" stroke="#232a7c" stroke-width="0.8" stroke-dasharray="2 2.6" opacity="0.55"/><line x1="419.5" y1="69" x2="419.5" y2="116.9" stroke="#232a7c" stroke-width="0.8" stroke-dasharray="1.6 4.3" opacity="0.55"/><line x1="502.8" y1="100.5" x2="502.8" y2="152.2" stroke="#232a7c" stroke-width="0.8" stroke-dasharray="1.6 2.8" opacity="0.55"/><line x1="403.1" y1="97.9" x2="403.1" y2="126" stroke="#232a7c" stroke-width="0.8" stroke-dasharray="1.4 3.6" opacity="0.55"/><line x1="408.5" y1="34.2" x2="408.5" y2="102.9" stroke="#232a7c" stroke-width="0.8" stroke-dasharray="1.6 3.7" opacity="0.55"/><line x1="503.8" y1="95.1" x2="503.8" y2="150.9" stroke="#232a7c" stroke-width="0.8" stroke-dasharray="1.9 2.8" opacity="0.55"/><line x1="431.4" y1="97.4" x2="431.4" y2="157.9" stroke="#232a7c" stroke-width="0.8" stroke-dasharray="1.5 3.1" opacity="0.55"/><line x1="501.2" y1="76.7" x2="501.2" y2="119.7" stroke="#232a7c" stroke-width="0.8" stroke-dasharray="2.6 3.5" opacity="0.55"/><line x1="462.2" y1="86.7" x2="462.2" y2="146.8" stroke="#232a7c" stroke-width="0.8" stroke-dasharray="1.8 3.4" opacity="0.55"/><line x1="443.3" y1="97.8" x2="443.3" y2="170.5" stroke="#232a7c" stroke-width="0.8" stroke-dasharray="2.2 4.4" opacity="0.55"/><line x1="433.4" y1="82" x2="433.4" y2="115.5" stroke="#232a7c" stroke-width="0.8" stroke-dasharray="1.7 2.8" opacity="0.55"/><line x1="420.1" y1="83.3" x2="420.1" y2="125.2" stroke="#232a7c" stroke-width="0.8" stroke-dasharray="2.5 3.1" opacity="0.55"/><line x1="489.4" y1="100.3" x2="489.4" y2="136.6" stroke="#232a7c" stroke-width="0.8" stroke-dasharray="2.6 2.1" opacity="0.55"/><line x1="407.6" y1="63.3" x2="407.6" y2="104.9" stroke="#232a7c" stroke-width="0.8" stroke-dasharray="1.5 3.5" opacity="0.55"/><line x1="466.4" y1="89.4" x2="466.4" y2="144.1" stroke="#232a7c" stroke-width="0.8" stroke-dasharray="1.9 4.1" opacity="0.55"/><line x1="315.6" y1="12" x2="315.6" y2="17.8" stroke="#6f8fd4" stroke-width="0.7" opacity="0.45"/><line x1="419.2" y1="12" x2="419.2" y2="15.4" stroke="#6f8fd4" stroke-width="0.7" opacity="0.45"/><line x1="477.8" y1="12" x2="477.8" y2="26.6" stroke="#6f8fd4" stroke-width="0.7" opacity="0.45"/><line x1="369.8" y1="12" x2="369.8" y2="24.3" stroke="#6f8fd4" stroke-width="0.7" opacity="0.45"/><line x1="353.3" y1="12" x2="353.3" y2="26.4" stroke="#6f8fd4" stroke-width="0.7" opacity="0.45"/><line x1="345.5" y1="12" x2="345.5" y2="15.1" stroke="#6f8fd4" stroke-width="0.7" opacity="0.45"/><line x1="315.6" y1="12" x2="315.6" y2="20.5" stroke="#6f8fd4" stroke-width="0.7" opacity="0.45"/><line x1="309.3" y1="12" x2="309.3" y2="26.8" stroke="#6f8fd4" stroke-width="0.7" opacity="0.45"/><line x1="433" y1="12" x2="433" y2="21.8" stroke="#6f8fd4" stroke-width="0.7" opacity="0.45"/><line x1="432" y1="12" x2="432" y2="20" stroke="#6f8fd4" stroke-width="0.7" opacity="0.45"/><line x1="486.2" y1="12" x2="486.2" y2="23.6" stroke="#6f8fd4" stroke-width="0.7" opacity="0.45"/><line x1="391.1" y1="12" x2="391.1" y2="18.4" stroke="#6f8fd4" stroke-width="0.7" opacity="0.45"/><line x1="331.4" y1="12" x2="331.4" y2="18.8" stroke="#6f8fd4" stroke-width="0.7" opacity="0.45"/><line x1="375" y1="12" x2="375" y2="16" stroke="#6f8fd4" stroke-width="0.7" opacity="0.45"/><line x1="494.3" y1="12" x2="494.3" y2="18.1" stroke="#6f8fd4" stroke-width="0.7" opacity="0.45"/><line x1="414" y1="12" x2="414" y2="15.8" stroke="#6f8fd4" stroke-width="0.7" opacity="0.45"/><line x1="416.5" y1="12" x2="416.5" y2="22.8" stroke="#6f8fd4" stroke-width="0.7" opacity="0.45"/><line x1="317.9" y1="12" x2="317.9" y2="26.7" stroke="#6f8fd4" stroke-width="0.7" opacity="0.45"/><line x1="335.3" y1="12" x2="335.3" y2="18.2" stroke="#6f8fd4" stroke-width="0.7" opacity="0.45"/><line x1="455" y1="12" x2="455" y2="19" stroke="#6f8fd4" stroke-width="0.7" opacity="0.45"/><line x1="484.3" y1="12" x2="484.3" y2="17.9" stroke="#6f8fd4" stroke-width="0.7" opacity="0.45"/><line x1="366.8" y1="12" x2="366.8" y2="23.3" stroke="#6f8fd4" stroke-width="0.7" opacity="0.45"/><line x1="480.8" y1="12" x2="480.8" y2="25.6" stroke="#6f8fd4" stroke-width="0.7" opacity="0.45"/><line x1="361.4" y1="12" x2="361.4" y2="21.4" stroke="#6f8fd4" stroke-width="0.7" opacity="0.45"/><line x1="387.1" y1="12" x2="387.1" y2="23.1" stroke="#6f8fd4" stroke-width="0.7" opacity="0.45"/><line x1="348.8" y1="12" x2="348.8" y2="25.1" stroke="#6f8fd4" stroke-width="0.7" opacity="0.45"/><polyline points="353,209.9 354.6,213.1 356.1,195.7 357.7,207.9 359.3,197.2 360.9,192 362.5,206.2 364,199 365.6,201.5 367.2,196.2 368.8,196.4 370.4,187.1 371.9,193.4 373.5,195.8 375.1,189 376.7,195.6 378.3,195.3 379.8,180.8 381.4,196.1 383,193.6 384.6,190 386.2,195 387.7,199.7 389.3,182.3 390.9,191.2 392.5,189.1 394.1,187.4 395.6,189.8 397.2,189.5 398.8,182.2 400.4,169.7 402,178 403.5,177.6 405.1,189.1 406.7,180.8 408.3,186.6 409.9,175.9 411.4,180.7 413,178.9 414.6,179.2 416.2,181.4 417.8,186 419.3,174.5 420.9,184.5 422.5,183.2 424.1,178.4 425.7,180.5 427.2,175.3 428.8,171.2 430.4,175.2 432,175.3 433.6,176.2 435.1,171.7 436.7,185.8 438.3,174 439.9,180.8 441.5,182.3 443,175.7 444.6,177.8 446.2,172.6 447.8,169.9 449.4,188 451,176.1 452.5,165.4 454.1,171.1 455.7,168.1 457.3,175.2 458.9,183.3 460.4,181.6 462,172 463.6,170.7 465.2,179.6 466.8,177.2 468.3,174.5 469.9,185.1 471.5,177.8 473.1,167.4 474.7,164.5 476.2,176.6 477.8,166.5 479.4,178.9 481,180.5 482.6,188 484.1,171.2 485.7,178.3 487.3,164 488.9,174.7 490.5,175.5 492,186 493.6,168.6 495.2,178.5 496.8,177.5 498.4,188.3 499.9,171.8 501.5,171.6 503.1,180 504.7,176.4 506.3,174.8 507.8,171.9 509.4,176.4" fill="none" stroke="#0e1238" stroke-width="0.8" stroke-dasharray="1.4 1.8" opacity="0.85"/><polyline points="302.9,212.6 304.5,222.2 306.1,224.1 307.7,223.6 309.3,233.6 310.8,225.6 312.4,217.9 314,222.2 315.6,228.2 317.2,223.5 318.7,235.6 320.3,228.2 321.9,225.2 323.5,225.3 325.1,233.1 326.6,225.1 328.2,220 329.8,230.5 331.4,224.5 333,234.9 334.5,236.4 336.1,222.8 337.7,224.2 339.3,222.1 340.9,224.5 342.4,221.9 344,215.3 345.6,209.7 347.2,217.7 348.8,223.4 350.3,208.4 351.9,210.4 353.5,209 355.1,210.6 356.7,199.7 358.2,209.6 359.8,206.7 361.4,217.3 363,210.9 364.6,211.2 366.1,207.8 367.7,205.7 369.3,210.6 370.9,198.5 372.5,211.5 374,208.3 375.6,204.7 377.2,211.5 378.8,202.6 380.4,201.7 381.9,205.4 383.5,194.2 385.1,202.2 386.7,200.5 388.3,205.7 389.8,208.4 391.4,202.7 393,200.5 394.6,200.4 396.2,193.7 397.7,207.7 399.3,200.8 400.9,203.1 402.5,187.1 404.1,195.1 405.7,193.9 407.2,196.1 408.8,186 410.4,191.6 412,188 413.6,198.2 415.1,182.3 416.7,185.5 418.3,184.4 419.9,180.7 421.5,187.1 423,186.6 424.6,182 426.2,183 427.8,185.8 429.4,184 430.9,186.2 432.5,180 434.1,178.6 435.7,182.6 437.3,173.3 438.8,189.2 440.4,182.7 442,173.1 443.6,183 445.2,188.2 446.7,173.7 448.3,177.4 449.9,185.3 451.5,175.5 453.1,183.7 454.6,184.8 456.2,178.7 457.8,179.9 459.4,182.6 461,179 462.5,181.8 464.1,176.6 465.7,176.8 467.3,173 468.9,178.6 470.4,182.6 472,182.4 473.6,177.1 475.2,168.5 476.8,171.6 478.3,178.5 479.9,170.8 481.5,180.7 483.1,170.2 484.7,176.7 486.2,171.1 487.8,171.8 489.4,176.1 491,173.2 492.6,179.8 494.1,175 495.7,169.5 497.3,155.1 498.9,171.2 500.5,174.1 502,179.3 503.6,169.4 505.2,182.3 506.8,178.2 508.4,172.7 509.9,180.1" fill="none" stroke="#141a4a" stroke-width="0.7" stroke-dasharray="1.2 2.2" opacity="0.7"/>
<line x1="325.5" y1="12" x2="325.5" y2="249.5" stroke="#a22e70" stroke-width="1.5" stroke-dasharray="2.4 3" stroke-dashoffset="-3"/>
<line x1="356.7" y1="12" x2="356.7" y2="249.5" stroke="#b050c8" stroke-width="1.1" stroke-dasharray="2.6 2.8"/>
<polyline points="325.6,221.4 326.9,225.1 328.2,213.2 329.5,216.8 330.9,208.5 332.2,212.1 333.5,207.7 334.8,215.9 336.1,204.3 337.4,203.4 338.8,199.6 340.1,208.7 341.4,197.2 342.7,206.6 344,193.8 345.3,196.5 346.7,190.4 348,191.8 349.3,183 350.6,184.5 351.9,179.6 353.2,187.1 354.6,178.4 355.9,189.6 357.2,183.5 358.5,190.6 359.8,173.9 361.1,182.5 362.5,178.2 363.8,186.4 365.1,171.7 366.4,179.8 367.7,171.2 369,178.1 370.4,170.4 371.7,175 373,167.5 374.3,172.6 375.6,167.4 376.9,169.4 378.3,162.9 379.6,164.3 380.9,160.4 382.2,166.2 383.5,159.4 384.8,163.3 386.2,161.6 387.5,165.1 388.8,160.4 390.1,166.6 391.4,158.2 392.7,161.7 394.1,156.9 395.4,162.5 396.7,151.4 398,156.5 399.3,151.8 400.6,153.7 402,143.7 403.3,157.3 404.6,148.9 405.9,152.4 407.2,140.8 408.5,149.2 409.9,147.4 411.2,147.9 412.5,141.7 413.8,146.5 415.1,145.3 416.4,146.5 417.8,137.3 419.1,145.1 420.4,135.4 421.7,146.1 423,141.5 424.3,145.3 425.7,139.5 427,147.6 428.3,138.9 429.6,147.2 430.9,142.1 432.3,147.8 433.6,141.2 434.9,150.3 436.2,145 437.5,150.9 438.8,143.9 440.2,150 441.5,142.5 442.8,154.3 444.1,147.6 445.4,152.2 446.7,150.4 448.1,160.2 449.4,153.5 450.7,160.2 452,146.3 453.3,151.4 454.6,142.2 456,155 457.3,147.5 458.6,155.8 459.9,150.2 461.2,154.6 462.5,149.1 463.9,159.6 465.2,154.5 466.5,162 467.8,159.5 469.1,168.9 470.4,155.3 471.8,166.9 473.1,158.3 474.4,164.2 475.7,161.8 477,163.9 478.3,159.7 479.7,165.8 481,159.6 482.3,166.1 483.6,155.8 484.9,164.9 486.2,158 487.6,168.8 488.9,158.1 490.2,162.6 491.5,157.4 492.8,161.5 494.1,157.7 495.5,164.9 496.8,158.6 498.1,161.1 499.4,152 500.7,158.9 502,153.2 503.4,154.5 504.7,144.8 506,156.3 507.3,145.3 508.6,147.8 509.9,137.5" fill="none" stroke="#fff" stroke-width="1.25" stroke-linejoin="round"/>
<defs><linearGradient id="yw" gradientUnits="userSpaceOnUse" x1="347.7" y1="0" x2="366.1" y2="0"><stop offset="0" stop-color="#fff"/><stop offset="1" stop-color="#e8f060"/></linearGradient></defs>
<path d="M348.2 149.6 L373.5 123.4 L427 123.4 L452 148.8" fill="none" stroke="url(#yw)" stroke-width="1.1"/>
<path d="M452 148.8 C458.3 151.2 471.5 135.9 506 132.7" fill="none" stroke="#f0e428" stroke-width="0.7"/>
<path d="M300.3 12V249.2H511" fill="none" stroke="#222" stroke-width="0.9"/><path d="M511 12V249.2" fill="none" stroke="#222" stroke-width="0.7"/><path d="M300.3 249.2v-2.4M310.8 249.2v-1.2M321.4 249.2v-1.2M331.9 249.2v-1.2M342.4 249.2v-1.2M353 249.2v-2.4M363.5 249.2v-1.2M374 249.2v-1.2M384.6 249.2v-1.2M395.1 249.2v-1.2M405.6 249.2v-2.4M416.2 249.2v-1.2M426.7 249.2v-1.2M437.3 249.2v-1.2M447.8 249.2v-1.2M458.3 249.2v-2.4M468.9 249.2v-1.2M479.4 249.2v-1.2M489.9 249.2v-1.2M500.5 249.2v-1.2M511 249.2v-2.4M511 249.2h-2M511 222.8h-2M511 196.5h-2M511 170.1h-2M511 143.8h-2M511 117.4h-2M511 91.1h-2M511 64.7h-2M511 38.4h-2M511 12h-2" stroke="#222" stroke-width="0.7" fill="none"/><text x="300.3" y="261.7" font-size="8.9" text-anchor="middle" font-weight="bold" fill="#1a1a1a" stroke="#1a1a1a" stroke-width="0.2">6.1</text><text x="353" y="261.7" font-size="8.9" text-anchor="middle" font-weight="bold" fill="#1a1a1a" stroke="#1a1a1a" stroke-width="0.2">6.2</text><text x="405.6" y="261.7" font-size="8.9" text-anchor="middle" font-weight="bold" fill="#1a1a1a" stroke="#1a1a1a" stroke-width="0.2">6.3</text><text x="458.3" y="261.7" font-size="8.9" text-anchor="middle" font-weight="bold" fill="#1a1a1a" stroke="#1a1a1a" stroke-width="0.2">6.4</text><text x="511" y="261.7" font-size="8.9" text-anchor="middle" font-weight="bold" fill="#1a1a1a" stroke="#1a1a1a" stroke-width="0.2">6.5</text><text x="297.6" y="253.3" font-size="8.9" text-anchor="end" font-weight="bold" fill="#1a1a1a" stroke="#1a1a1a" stroke-width="0.2">0</text><text x="297.6" y="226.9" font-size="8.9" text-anchor="end" font-weight="bold" fill="#1a1a1a" stroke="#1a1a1a" stroke-width="0.2">0.1</text><text x="297.6" y="200.6" font-size="8.9" text-anchor="end" font-weight="bold" fill="#1a1a1a" stroke="#1a1a1a" stroke-width="0.2">0.2</text><text x="297.6" y="174.2" font-size="8.9" text-anchor="end" font-weight="bold" fill="#1a1a1a" stroke="#1a1a1a" stroke-width="0.2">0.3</text><text x="297.6" y="147.9" font-size="8.9" text-anchor="end" font-weight="bold" fill="#1a1a1a" stroke="#1a1a1a" stroke-width="0.2">0.4</text><text x="297.6" y="121.5" font-size="8.9" text-anchor="end" font-weight="bold" fill="#1a1a1a" stroke="#1a1a1a" stroke-width="0.2">0.5</text><text x="297.6" y="95.2" font-size="8.9" text-anchor="end" font-weight="bold" fill="#1a1a1a" stroke="#1a1a1a" stroke-width="0.2">0.6</text><text x="297.6" y="68.8" font-size="8.9" text-anchor="end" font-weight="bold" fill="#1a1a1a" stroke="#1a1a1a" stroke-width="0.2">0.7</text><text x="297.6" y="42.5" font-size="8.9" text-anchor="end" font-weight="bold" fill="#1a1a1a" stroke="#1a1a1a" stroke-width="0.2">0.8</text><text x="297.6" y="16.1" font-size="8.9" text-anchor="end" font-weight="bold" fill="#1a1a1a" stroke="#1a1a1a" stroke-width="0.2">0.9</text>
<text x="405.8" y="273.4" font-size="9.7" text-anchor="middle" font-weight="bold" fill="#1a1a1a" stroke="#1a1a1a" stroke-width="0.2">Time (s)</text>
<text x="303.6" y="8.6" font-size="10.3" text-anchor="start" font-weight="bold" fill="#1a1a1a" stroke="#1a1a1a" stroke-width="0.2">(b)</text>
<text transform="translate(280.9,130.5) rotate(-90)" font-size="10.5" text-anchor="middle" font-style="italic" fill="#222" stroke="#222" stroke-width="0.3" font-family='"Liberation Serif", "DejaVu Serif", serif'>ρ</text>
<rect x="346.5" y="49.4" width="28.9" height="10.1" fill="#fff"/><text x="360.9" y="57.6" font-size="7.3" text-anchor="middle" font-weight="bold" fill="#b4202a" stroke="#b4202a" stroke-width="0.2">ITB star</text><line x1="330.8" y1="54.4" x2="346.5" y2="54.4" stroke="#c8283a" stroke-width="1.9"/><path d="M325.4 54.4l6.4 -2.6v5.2z" fill="#c8283a"/>
<rect x="377.8" y="76.7" width="50.9" height="10.3" fill="#fff"/><text x="403.2" y="84.7" font-size="7.1" text-anchor="middle" font-weight="bold" fill="#96209a" stroke="#96209a" stroke-width="0.2">RSAEs appear</text><line x1="362.8" y1="81.7" x2="377.8" y2="81.7" stroke="#c060c4" stroke-width="1.1"/><path d="M358.3 81.7l5.5 -2v4z" fill="#c060c4"/>
<rect x="515.8" y="12.5" width="7.7" height="237" fill="url(#cb)"/>
<text x="526" y="251.9" font-size="8.9" text-anchor="start" font-weight="bold" fill="#1a1a1a" stroke="#1a1a1a" stroke-width="0.2">0</text>
<text x="526" y="228.4" font-size="8.9" text-anchor="start" font-weight="bold" fill="#1a1a1a" stroke="#1a1a1a" stroke-width="0.2">0.1</text>
<text x="526" y="204.8" font-size="8.9" text-anchor="start" font-weight="bold" fill="#1a1a1a" stroke="#1a1a1a" stroke-width="0.2">0.2</text>
<text x="526" y="181.3" font-size="8.9" text-anchor="start" font-weight="bold" fill="#1a1a1a" stroke="#1a1a1a" stroke-width="0.2">0.3</text>
<text x="526" y="157.8" font-size="8.9" text-anchor="start" font-weight="bold" fill="#1a1a1a" stroke="#1a1a1a" stroke-width="0.2">0.4</text>
<text x="526" y="134.2" font-size="8.9" text-anchor="start" font-weight="bold" fill="#1a1a1a" stroke="#1a1a1a" stroke-width="0.2">0.5</text>
<text x="526" y="110.7" font-size="8.9" text-anchor="start" font-weight="bold" fill="#1a1a1a" stroke="#1a1a1a" stroke-width="0.2">0.6</text>
<text x="526" y="87.2" font-size="8.9" text-anchor="start" font-weight="bold" fill="#1a1a1a" stroke="#1a1a1a" stroke-width="0.2">0.7</text>
<text x="526" y="63.7" font-size="8.9" text-anchor="start" font-weight="bold" fill="#1a1a1a" stroke="#1a1a1a" stroke-width="0.2">0.8</text>
<text x="526" y="40.1" font-size="8.9" text-anchor="start" font-weight="bold" fill="#1a1a1a" stroke="#1a1a1a" stroke-width="0.2">0.9</text>
<text x="526" y="16.6" font-size="8.9" text-anchor="start" font-weight="bold" fill="#1a1a1a" stroke="#1a1a1a" stroke-width="0.2">1</text>
<path d="M523.5 249.3h-1.6M523.5 225.7h-1.6M523.5 202.1h-1.6M523.5 178.4h-1.6M523.5 154.8h-1.6M523.5 131.2h-1.6M523.5 107.6h-1.6M523.5 84h-1.6M523.5 60.3h-1.6M523.5 36.7h-1.6M523.5 13.1h-1.6" stroke="#222" stroke-width="0.6"/>
<text x="519.6" y="7.6" font-size="6.6" text-anchor="middle" textLength="40" lengthAdjust="spacing" fill="#6a6a6a" font-family='"Liberation Serif", "DejaVu Serif", serif'><tspan font-style="italic">ñ</tspan><tspan font-size="4" dy="1.2" font-style="italic">e</tspan><tspan dy="-1.2">/&lt; </tspan><tspan font-style="italic">n</tspan><tspan font-size="4" dy="1.2" font-style="italic">e</tspan><tspan dy="-1.2"> &gt; (%)</tspan></text>
<text x="403.3" y="118.5" fill="#1c1c30" font-size="8" font-style="italic" font-family='"Liberation Serif", "DejaVu Serif", serif'>ρ</text><text x="408.3" y="119.8" fill="#1c1c30" stroke="#1c1c30" stroke-width="0.15" font-size="5.8" font-weight="bold" textLength="42.1" lengthAdjust="spacingAndGlyphs">cutoff, 57.2GHz</text>
<text x="460.1" y="118.5" fill="#1c1c30" font-size="8" font-style="italic" font-family='"Liberation Serif", "DejaVu Serif", serif'>ρ</text><text x="465.1" y="119.8" fill="#1c1c30" stroke="#1c1c30" stroke-width="0.15" font-size="5.8" font-weight="bold" textLength="42.4" lengthAdjust="spacingAndGlyphs">cutoff, 79.2 GHz</text>
<text x="377" y="135.5" fill="#dcf05a" font-size="8" font-style="italic" font-family='"Liberation Serif", "DejaVu Serif", serif'>ρ</text><text x="382" y="136.7" fill="#dcf05a" stroke="#dcf05a" stroke-width="0.15" font-size="5.9" font-weight="bold" textLength="25" lengthAdjust="spacingAndGlyphs">foot,i-ITB</text>
<text x="307.8" y="182.9" fill="#ffffff" font-size="8" font-style="italic" font-family='"Liberation Serif", "DejaVu Serif", serif'>ρ</text><text x="312.6" y="184.2" fill="#ffffff" stroke="#ffffff" stroke-width="0.15" font-size="5.9" font-weight="bold" textLength="31" lengthAdjust="spacingAndGlyphs">foot,n<tspan font-size="4.2" dy="1.4">e</tspan><tspan dy="-1.4">-ITB</tspan></text>
<text x="433" y="214.9" fill="#1a1a1a" font-size="8" font-style="italic" font-family='"Liberation Serif", "DejaVu Serif", serif'>ρ</text><text x="437.6" y="216.3" fill="#1a1a1a" stroke="#1a1a1a" stroke-width="0.15" font-size="5.8" font-weight="bold" textLength="43.3" lengthAdjust="spacingAndGlyphs">cutoff, 91.8 GHz</text>
<text x="373.4" y="241.2" fill="#1a1a1a" font-size="8" font-style="italic" font-family='"Liberation Serif", "DejaVu Serif", serif'>ρ</text><text x="377.7" y="242.7" fill="#1a1a1a" stroke="#1a1a1a" stroke-width="0.15" font-size="5.8" font-weight="bold" textLength="39.7" lengthAdjust="spacingAndGlyphs">cutoff, 96 GHz</text>
<line x1="401.8" y1="109" x2="394.3" y2="103.6" stroke="#15183a" stroke-width="0.5"/><path d="M390.9 101.2L395.2 102.4L393.4 104.9z" fill="#15183a"/>
<line x1="459.2" y1="113" x2="405.9" y2="42.6" stroke="#15183a" stroke-width="0.5"/><path d="M403.4 39.2L407.1 41.6L404.7 43.5z" fill="#15183a"/>
<line x1="431.8" y1="205.8" x2="413.8" y2="179" stroke="#15183a" stroke-width="0.5"/><path d="M411.5 175.5L415.1 178.2L412.6 179.8z" fill="#15183a"/>
<line x1="372.2" y1="232.7" x2="363.7" y2="221.6" stroke="#15183a" stroke-width="0.5"/><path d="M361.1 218.3L364.9 220.7L362.5 222.5z" fill="#15183a"/>
<rect x="164.4" y="298.6" width="246" height="198.9" fill="none" stroke="#8c8c8c" stroke-width="0.9"/>
<text x="164.4" y="511.5" font-size="10.4" text-anchor="middle" font-weight="bold" fill="#1a1a1a" stroke="#1a1a1a" stroke-width="0.2">0</text>
<text x="213.6" y="511.5" font-size="10.4" text-anchor="middle" font-weight="bold" fill="#1a1a1a" stroke="#1a1a1a" stroke-width="0.2">0.2</text>
<text x="262.8" y="511.5" font-size="10.4" text-anchor="middle" font-weight="bold" fill="#1a1a1a" stroke="#1a1a1a" stroke-width="0.2">0.4</text>
<text x="312" y="511.5" font-size="10.4" text-anchor="middle" font-weight="bold" fill="#1a1a1a" stroke="#1a1a1a" stroke-width="0.2">0.6</text>
<text x="361.2" y="511.5" font-size="10.4" text-anchor="middle" font-weight="bold" fill="#1a1a1a" stroke="#1a1a1a" stroke-width="0.2">0.8</text>
<text x="410.4" y="511.5" font-size="10.4" text-anchor="middle" font-weight="bold" fill="#1a1a1a" stroke="#1a1a1a" stroke-width="0.2">1</text>
<text x="160.8" y="501.2" font-size="10.4" text-anchor="end" font-weight="bold" fill="#1a1a1a" stroke="#1a1a1a" stroke-width="0.2">0.02</text>
<text x="160.8" y="468.1" font-size="10.4" text-anchor="end" font-weight="bold" fill="#1a1a1a" stroke="#1a1a1a" stroke-width="0.2">0.04</text>
<text x="160.8" y="434.9" font-size="10.4" text-anchor="end" font-weight="bold" fill="#1a1a1a" stroke="#1a1a1a" stroke-width="0.2">0.06</text>
<text x="160.8" y="401.8" font-size="10.4" text-anchor="end" font-weight="bold" fill="#1a1a1a" stroke="#1a1a1a" stroke-width="0.2">0.08</text>
<text x="160.8" y="368.6" font-size="10.4" text-anchor="end" font-weight="bold" fill="#1a1a1a" stroke="#1a1a1a" stroke-width="0.2">0.1</text>
<text x="160.8" y="335.4" font-size="10.4" text-anchor="end" font-weight="bold" fill="#1a1a1a" stroke="#1a1a1a" stroke-width="0.2">0.12</text>
<text x="160.8" y="302.3" font-size="10.4" text-anchor="end" font-weight="bold" fill="#1a1a1a" stroke="#1a1a1a" stroke-width="0.2">0.14</text>
<path d="M164.4 497.5v-2.4M164.4 298.6v2.4M213.6 497.5v-2.4M213.6 298.6v2.4M262.8 497.5v-2.4M262.8 298.6v2.4M312 497.5v-2.4M312 298.6v2.4M361.2 497.5v-2.4M361.2 298.6v2.4M410.4 497.5v-2.4M410.4 298.6v2.4M164.4 497.5h2.4M410.4 497.5h-2.4M164.4 464.4h2.4M410.4 464.4h-2.4M164.4 431.2h2.4M410.4 431.2h-2.4M164.4 398.1h2.4M410.4 398.1h-2.4M164.4 364.9h2.4M410.4 364.9h-2.4M164.4 331.8h2.4M410.4 331.8h-2.4M164.4 298.6h2.4M410.4 298.6h-2.4" stroke="#8c8c8c" stroke-width="0.9" fill="none"/>
<text x="173.6" y="315.2" font-size="12.6" text-anchor="start" font-weight="bold" fill="#1a1a1a" stroke="#1a1a1a" stroke-width="0.2">(c)</text>
<polyline points="181.2,425.6 313,357.5 356.4,356.7" fill="none" stroke="#b8303a" stroke-width="1.4"/>
<polyline points="180.4,490.2 317.2,352 357.9,354.2" fill="none" stroke="#2e3aa6" stroke-width="1.4"/>
<path d="M177 425.6H185.5M181.2 420.5V430.4M177 424.1v3M185.5 424.1v3M179.7 420.5h3M179.7 430.4h3" stroke="#b8303a" stroke-width="1.1" fill="none"/><circle cx="181.2" cy="425.6" r="1.6" fill="#b8303a"/>
<path d="M305 357.5H320.1M313 351V364.1M305 356v3M320.1 356v3M311.5 351h3M311.5 364.1h3" stroke="#b8303a" stroke-width="1.1" fill="none"/><circle cx="313" cy="357.5" r="1.6" fill="#b8303a"/>
<path d="M349.7 356.7H363.3M356.4 351.3V362M349.7 355.2v3M363.3 355.2v3M354.9 351.3h3M354.9 362h3" stroke="#b8303a" stroke-width="1.1" fill="none"/><circle cx="356.4" cy="356.7" r="1.6" fill="#b8303a"/>
<path d="M311 352H324M317.2 345.7V358.2M311 350.5v3M324 350.5v3M315.7 345.7h3M315.7 358.2h3" stroke="#2e3aa6" stroke-width="1.1" fill="none"/><circle cx="317.2" cy="352" r="1.6" fill="#2e3aa6"/>
<path d="M352 354.2H363.8M357.9 349.3V359.1M352 352.7v3M363.8 352.7v3M356.4 349.3h3M356.4 359.1h3" stroke="#2e3aa6" stroke-width="1.1" fill="none"/><circle cx="357.9" cy="354.2" r="1.6" fill="#2e3aa6"/>
<rect x="178.9" y="488.7" width="3" height="3" fill="#2e3aa6"/>
<rect x="355.1" y="303.9" width="53.5" height="24.5" fill="#fff" stroke="#8c8c8c" stroke-width="0.8"/>
<path d="M356.5 315.5L369 305.4" stroke="#b8303a" stroke-width="1.3" fill="none"/><path d="M359.2 310.7h7M362.7 307.2v7M359.2 309.4v2.6M366.2 309.4v2.6M361.4 307.2h2.6M361.4 314.2h2.6" stroke="#b8303a" stroke-width="1.2" fill="none"/><circle cx="362.7" cy="310.7" r="1.5" fill="#b8303a"/>
<path d="M356.4 327.3L368.9 317.2" stroke="#2e3aa6" stroke-width="1.3" fill="none"/><path d="M359.1 322.5h7M362.6 319v7M359.1 321.2v2.6M366.1 321.2v2.6M361.3 319h2.6M361.3 326h2.6" stroke="#2e3aa6" stroke-width="1.2" fill="none"/><circle cx="362.6" cy="322.5" r="1.5" fill="#2e3aa6"/>
<text x="369.6" y="314.1" font-size="9.3" text-anchor="start" font-weight="bold" fill="#1a1a1a" stroke="#1a1a1a" stroke-width="0.2">t=6.125s</text>
<text x="369.6" y="326.3" font-size="9.3" text-anchor="start" font-weight="bold" fill="#1a1a1a" stroke="#1a1a1a" stroke-width="0.2">t=6.16s</text>
<text x="288" y="525.3" font-size="14" text-anchor="middle" font-style="italic" fill="#444" font-family='"Liberation Serif", "DejaVu Serif", serif'>ρ</text>
<text transform="translate(135.2,401.8) rotate(-90)" font-size="12.3" text-anchor="middle" textLength="80" lengthAdjust="spacing" fill="#5a5a5a" font-family='"Liberation Serif", "DejaVu Serif", serif'><tspan font-style="italic">ñ</tspan><tspan font-size="8" dy="2" font-style="italic">e</tspan><tspan dy="-2">/&lt; </tspan><tspan font-style="italic">n</tspan><tspan font-size="8" dy="2" font-style="italic">e</tspan><tspan dy="-2"> &gt; (%)</tspan></text>
</svg></body></html>
